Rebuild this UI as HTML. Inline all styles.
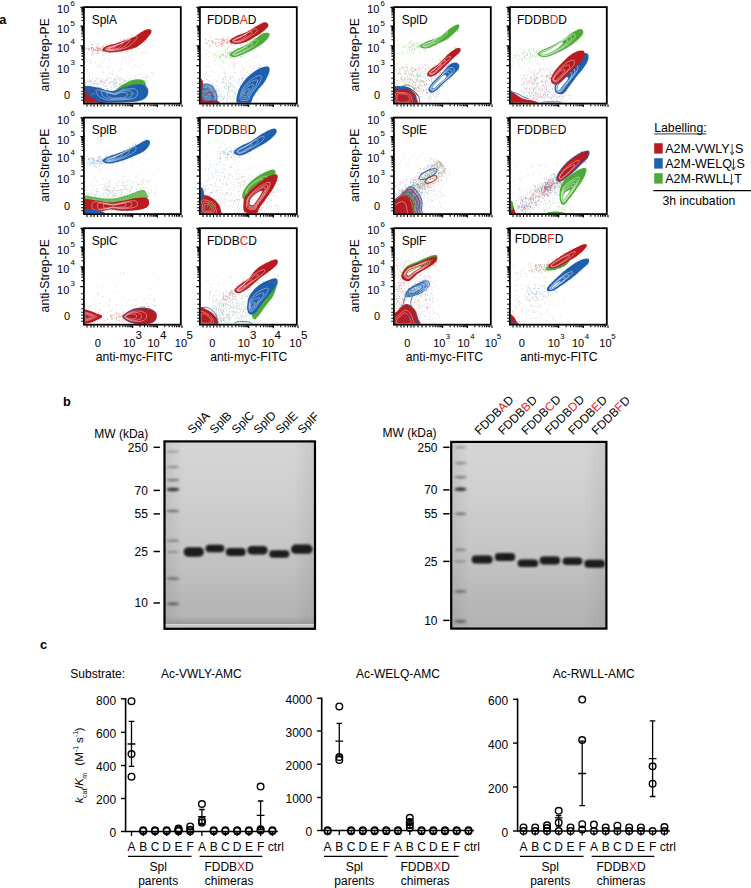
<!DOCTYPE html>
<html><head><meta charset="utf-8"><style>
html,body{margin:0;padding:0;background:#fff;}
svg{display:block;}
text{font-family:"Liberation Sans",sans-serif;}
</style></head><body>
<svg width="751" height="888" viewBox="0 0 751 888">
<rect width="751" height="888" fill="#fff"/>
<clipPath id="c0"><rect x="84.8" y="8.0" width="95.1" height="94.8"/></clipPath>
<g clip-path="url(#c0)">
<path d="M107.5 45.5h.6M130.4 41.6h.6M122.3 56.3h.6M88.9 63.4h.6M87.4 59.7h.6M89.7 42.5h.6M114.5 79.3h.6M93.5 49.2h.6M128.7 85.4h.6M125.2 57.8h.6M153.1 40.3h.6M144.9 52.5h.6M94.9 43.9h.6M106.4 78.8h.6M97.5 67.1h.6M129.5 56.6h.6M123.1 41.1h.6M89 48.3h.6M132.4 59.4h.6M106.8 67.3h.6M116.5 53h.6M140.4 72.9h.6M101.9 66.7h.6M121.6 81.8h.6M135.9 52.4h.6M153.4 43.9h.6M114.1 75.9h.6M95.4 62.4h.6M87.5 71.4h.6M138.3 66.7h.6M146.1 53.7h.6M133.5 67.7h.6M125.4 60.8h.6M143.6 85.2h.6M118 71.2h.6M89 73.1h.6M130.1 87.7h.6M142.3 52.2h.6M111.8 71.4h.6M86.4 61.1h.6M96.6 43.9h.6M88.9 76.4h.6M93.9 50.4h.6M112.2 81.6h.6M90.4 60.5h.6M123.3 82.2h.6M142.1 81.2h.6M104.3 58.8h.6M109.9 82.2h.6M151.8 45.5h.6M97.1 49.6h.6M101.1 62.2h.6M126 51.1h.6M85.1 58.9h.6M110.6 66.3h.6M151.5 72.5h.6M120.9 68.9h.6M132.1 40.7h.6M147.8 77h.6M146 77.9h.6" stroke="#b81c20" stroke-width="0.6" opacity="0.5"/>
<path d="M112.3 74h.6M92 83.4h.6M89.2 60.7h.6M99.4 64.5h.6M108.6 60.1h.6M84.8 64.1h.6M91.9 72.5h.6M86.6 93h.6M127.8 63.9h.6M102.5 71.9h.6M110.3 62.9h.6M144.2 97.7h.6M117.4 77.4h.6M90.8 62.1h.6M108.8 68.6h.6M142.8 64.5h.6M86.4 96h.6M121.8 63.9h.6M122.8 59.1h.6M121.8 97.1h.6M145.2 85.8h.6M103.1 72.7h.6M96.5 88.9h.6M122.1 89.2h.6M107.9 66.9h.6M141.6 97.4h.6M144.5 90.2h.6M142.1 87.6h.6M100.7 78.7h.6M109.7 59.2h.6M86.8 69.2h.6M102.9 85.7h.6M151.8 75.9h.6M150.4 97.5h.6M151.7 72.6h.6M100.2 67.1h.6M98.6 66.2h.6M128.5 94h.6M143.6 77.2h.6M130.5 90h.6M90.7 84.4h.6M148.5 89.3h.6M137.3 77.1h.6M97.3 89.6h.6M108.1 90h.6M152.8 73.8h.6M112.9 95.9h.6M135.5 64.8h.6M93.7 64h.6M148.1 90.3h.6" stroke="#1f5fae" stroke-width="0.6" opacity="0.5"/>
<path d="M103.6 91.9h.6M153.6 86h.6M115.8 82.2h.6M102.7 63.5h.6M153.1 85.7h.6M126.4 95.7h.6M120.8 93.5h.6M144.4 70.4h.6M109.9 73.3h.6M109.2 83.5h.6M110.4 77.7h.6M102.7 94.9h.6M116 79h.6M129.8 94.7h.6M120 95.1h.6M124.9 81.6h.6M126.2 63.7h.6M121.2 69.4h.6M95 91h.6M105.1 79.6h.6M138.3 82.5h.6M114.4 81.1h.6M128.1 90.4h.6M101.2 82.6h.6M109.7 72.7h.6M141.1 80.8h.6M128.5 89.6h.6M149.5 78.5h.6M131.6 80.7h.6M125.5 87.2h.6" stroke="#4cab36" stroke-width="0.6" opacity="0.5"/>
<path d="M112.8 84.3h.6M114.4 87.5h.6M128.2 87h.6M143.2 82.1h.6M119.5 87.5h.6M136.9 81.1h.6M92.3 83.5h.6M89.3 81.9h.6M89.3 85.4h.6M133.4 87.2h.6M94.4 85.7h.6M125.7 81.1h.6M139.5 87.7h.6M98.4 87.6h.6M109.5 83.9h.6M146.2 86.7h.6M94.8 83.5h.6M116.8 82.7h.6M96.9 82.5h.6M129.6 80.2h.6M119.2 83.5h.6M85.9 82.7h.6M123.5 84.1h.6M88.8 87.9h.6M133.7 87.8h.6M91.3 82.1h.6M87.3 86.2h.6M101.6 81h.6M111 87.3h.6M135.6 82.1h.6M94.1 87.4h.6M120.2 85.6h.6M90.3 80.5h.6M127.5 83.4h.6M89.3 87.5h.6M124.1 86.4h.6M90 86.8h.6M88.9 86.9h.6M112.9 82.7h.6M119.1 87.4h.6M101.4 81h.6M117.5 81.9h.6M91.6 81.3h.6M87.9 81.6h.6M104.1 82.4h.6M131.9 82.3h.6M115.8 81.4h.6M106.3 80.1h.6M100.3 80.1h.6M130.3 84.4h.6M96.5 83.8h.6M142.7 80.9h.6M135.6 83.5h.6M115.5 86.7h.6M109.2 84.1h.6M127.4 87.9h.6M106 86.7h.6M128.6 85.1h.6M109.9 82.8h.6M88.2 81h.6M89.2 85.9h.6M100.6 81.3h.6M90 86.7h.6M138.8 85.4h.6M102.3 81.9h.6M103 83.7h.6M94.6 83.6h.6M101.1 87.7h.6M145.1 84.4h.6M100 87.7h.6M104 82.9h.6M84.9 83.1h.6M114.2 84h.6M97.3 84h.6M85.1 82.1h.6M90.4 83.2h.6M87.4 80.2h.6M103.7 81.9h.6M121.1 84.2h.6M131.3 85.3h.6M129.2 87h.6M109 82.6h.6M145.9 81.2h.6M129.7 85.1h.6M87.5 86.7h.6M140.1 85h.6M130.3 86.5h.6M93.4 84.2h.6M116.1 86.7h.6M134.7 86.6h.6M121 87.1h.6M127.1 85.5h.6M99.1 80.2h.6M93.1 82.9h.6M91.3 86.7h.6M119.4 85h.6M123.6 85.4h.6M115.1 80h.6M134.3 86h.6M116 84.3h.6M125.7 80.5h.6M130.5 82h.6M89.4 82.1h.6M130 81.6h.6M130.7 87.8h.6M115.4 83.1h.6M114.5 85.5h.6M132.4 84.9h.6M124.7 80.6h.6M93.9 82h.6M130.9 82.4h.6M120 80.1h.6M88.6 82.2h.6M126.5 85.5h.6M126.7 82.3h.6M116.8 83.7h.6M113.7 80.9h.6M140.2 81.6h.6M145.4 87.5h.6M85.9 83.7h.6M135.6 87.7h.6M112.7 82.1h.6M97.8 87.6h.6M97.9 84.7h.6M93.6 84.2h.6M143.9 81.1h.6M135.7 84.1h.6M139.8 85.6h.6M99.1 87.2h.6M114.9 80.2h.6" stroke="#1f5fae" stroke-width="0.6" opacity="0.5"/>
<path d="M84.9 83.9h.6M102.8 81.6h.6M90.4 82.1h.6M97.4 88.1h.6M84.9 87h.6M118.4 79.4h.6M121.9 86.6h.6M120.9 81.5h.6M99.7 82.7h.6M124.8 85.1h.6M99.2 83.1h.6M95.8 78.6h.6M88.9 88h.6M96.2 89.2h.6M94.8 81.2h.6M105.2 80.3h.6M99.7 89.5h.6M120.2 87.7h.6M110 89h.6M122.4 84.6h.6M113.6 78.6h.6M114.1 83.4h.6M114.9 85.7h.6M96.2 78.6h.6M121.9 79.5h.6M103.7 82.1h.6M96.7 86.9h.6M123.9 81.1h.6M111 81.6h.6M107.1 82.7h.6M91.5 79.9h.6M93.1 88.9h.6M104.7 80.6h.6M121.1 90h.6M102.8 79.7h.6M92.5 79.1h.6M98.5 79.1h.6M94.4 81.1h.6M107.6 88.6h.6M114.8 83h.6M101.4 84.3h.6M99.9 82.1h.6M87.3 81.3h.6M123.5 79.5h.6M104.9 85.6h.6M119.3 80.6h.6M95.6 81h.6M100.8 83.4h.6M123 88.2h.6M119.7 78.3h.6M86.1 86.5h.6M120.6 83.7h.6M108.3 78h.6M100.5 89.1h.6M117.8 88.3h.6M123.7 81h.6M89.2 79.9h.6M105.7 86.2h.6M122.5 86.7h.6M110.7 87.2h.6M103.1 84.6h.6M86.4 87.4h.6M94.1 89h.6M110.6 81.6h.6M89.9 81h.6M110.3 86.4h.6M89.3 78.8h.6M105.8 85h.6M100.3 80.7h.6M108.8 78.1h.6M96.9 83.5h.6M123.2 85.7h.6M120.2 83.7h.6M94.2 81h.6M123.2 86.5h.6M97.1 78.3h.6M104.7 86.1h.6M101.6 81.1h.6M111.5 89.1h.6M93.9 78.4h.6" stroke="#b81c20" stroke-width="0.6" opacity="0.5"/>
<path d="M119.7 79.5h.6M134.8 76.6h.6M139.9 83.6h.6M127 76.7h.6M147.5 78.1h.6M140.9 77h.6M114.5 83.9h.6M117.8 86.4h.6M126.6 76.4h.6M114.6 79.4h.6M134.1 86.3h.6M111.2 79.1h.6M114.2 86.7h.6M111 74.7h.6M107.4 79.1h.6M144.3 85.5h.6M137 87h.6M145.8 78.3h.6M113 86.2h.6M137.6 74.4h.6M134 78.9h.6M121.3 78.3h.6M112.2 74h.6M117.1 78.6h.6M146.8 75.6h.6M147.2 76.7h.6M120.5 84.7h.6M141 79.6h.6M107 80.2h.6M121.2 86h.6M113.3 78.7h.6M144.3 74.4h.6M122.9 84.6h.6M138.5 74.5h.6M106.3 74.8h.6M145.3 77.3h.6M137.7 85.7h.6M119.7 77.5h.6M146.9 82h.6M116.3 83.3h.6M118.7 77.6h.6M105 83.8h.6M145.1 82.2h.6M146.3 74.3h.6M115.1 80.2h.6M146.9 86.4h.6M121.8 77.3h.6M123.7 80.4h.6M145.6 76.4h.6M140.1 83.6h.6M141 84h.6M131.5 78.3h.6M118.9 78.7h.6M139.2 75h.6M113.5 83.8h.6M115.7 74.8h.6M106.3 81.2h.6M119.1 86.7h.6M143.7 86.8h.6M116.5 75.1h.6M109 80.5h.6M136 79.8h.6M115.1 79.4h.6M132.1 82.8h.6M137.7 85h.6M134 75.6h.6M141.8 77.8h.6M129.7 78.8h.6M137.3 76.6h.6M115.7 77.2h.6" stroke="#4cab36" stroke-width="0.6" opacity="0.5"/>
<path d="M91.9 47.6h.7M92 53.7h.7M97.7 53.5h.7M100 49.4h.7M97.8 45.7h.7M103.6 50h.7M91.1 55h.7M99.4 48.6h.7M101.5 50h.7M101.6 49.2h.7M98.2 48.4h.7M95.7 50.7h.7M92 47.6h.7M93 49.6h.7M100.2 51.2h.7M92.5 46.8h.7M89.2 50.8h.7M97.8 48.8h.7M90.9 47.4h.7M92.8 54.6h.7M93.4 48.7h.7M98.3 43.9h.7M95.7 52.9h.7M94.3 49.7h.7M96.6 47.5h.7M101.9 49.8h.7M85 48.5h.7M103.9 51.1h.7M94.7 49.5h.7M91.5 48.8h.7M88 49.7h.7M103.6 50.6h.7M104.3 49.1h.7M89 48.5h.7M101.3 46.7h.7M91.3 48h.7M96.9 46.1h.7M91.9 51.7h.7M97.2 50.3h.7M92.7 44.9h.7M86 48.1h.7M87.7 48.6h.7M97.4 48.5h.7M93 50.9h.7M95.6 47.5h.7M97.8 49.9h.7M97.3 53.2h.7M100.6 49.9h.7M97.3 50.2h.7M97.2 50.8h.7M98.9 50.3h.7M88.9 45.7h.7M98.6 50.4h.7M95.9 49.1h.7M103.7 49.4h.7M102.6 55.3h.7M99.4 48.2h.7M91.8 44.6h.7M87.5 52.5h.7M91.7 48.4h.7M102.3 51.5h.7M103.1 51.2h.7M97.3 50h.7M92.9 53.9h.7M100.4 48.7h.7M102.2 51.3h.7M98 52.9h.7M96.3 47.3h.7M91.1 49.4h.7M95.9 47.9h.7M102.9 48.5h.7M100.4 50h.7M102.5 50.7h.7M91.3 44.6h.7M98.1 47.9h.7M85.8 49.8h.7M97.9 50.6h.7M103.1 50.7h.7M99.6 49.5h.7M95.7 50.8h.7M91.4 48h.7M91.3 47.7h.7M91.2 48.9h.7M92 51.3h.7M102.5 47.3h.7M94.8 49.7h.7M97.4 52.1h.7M98 48.1h.7M93.3 49.1h.7M97.2 50.4h.7M88.3 49.2h.7M98.6 49.1h.7M91.1 47.9h.7M99.6 48.2h.7M94.1 50.2h.7M102.8 46.1h.7" stroke="#b81c20" stroke-width="0.7" opacity="0.6"/>
<path d="M138.5 38.4h.7M118.1 43.3h.7M140.4 43.6h.7M139.6 36.2h.7M112.9 47.7h.7M124.5 45.1h.7M122.7 45h.7M107.2 49.9h.7M107.8 50.7h.7M135.2 41.2h.7M121.9 44.6h.7M109.7 46.7h.7M115.7 46.5h.7M122.5 48.7h.7M144.5 31.3h.7M127.3 48.9h.7M119.5 51.7h.7M138.1 42.3h.7M106.2 44.3h.7M145.7 31.8h.7M121.4 50.8h.7M128.5 44h.7M109.3 45.9h.7M141.1 43.8h.7M145.7 36.5h.7M109.4 51.6h.7M138.7 41.6h.7M121.5 45.3h.7M134.6 41.8h.7M123.9 45.1h.7M129.4 46.7h.7M132.8 41.9h.7M131 35.6h.7M135.8 38.8h.7M112.7 46.1h.7M126.6 45.3h.7M139.2 43.4h.7M125.2 49.7h.7M122.4 46.1h.7M115.7 45.3h.7M112.8 48h.7M110.2 44.6h.7M126.1 46.2h.7M121.2 41.1h.7M143.5 36.7h.7M122.7 42.5h.7M108.3 46.3h.7M109.8 47.7h.7M113.8 47.5h.7M109.1 47.4h.7M125.3 47.2h.7M123.5 40h.7M123.9 39.5h.7M147.3 30.1h.7M127.8 40.3h.7M135.6 46.2h.7M128.6 48.3h.7M123.9 40.8h.7M141.2 38.8h.7M135.8 47.5h.7M131.8 41.5h.7M134.9 39.2h.7M135.6 35.5h.7M111.8 52.5h.7M129.4 46.2h.7M115.3 50.5h.7M119.6 48.5h.7M125.8 46.9h.7M119.3 42.7h.7M124.2 46h.7M105.3 48.1h.7M121.8 50.8h.7M142.7 36.2h.7M124.6 39.6h.7M130.3 49.7h.7M145.5 33.7h.7M115.8 44.5h.7M107.6 46.2h.7M126.2 43.7h.7M142.7 38.4h.7M145 30.6h.7M108.9 52.7h.7M134.1 38.9h.7M132.4 47.2h.7M105.7 53.6h.7M109.1 48.1h.7M141.6 39.7h.7M139 44.5h.7M143.9 38.9h.7M121.7 52.4h.7M105.4 48.3h.7M145.5 30.1h.7M150.1 29.2h.7M145.7 34.5h.7M111.6 45.6h.7M131.9 41.8h.7M133.1 43.3h.7M137.9 38.4h.7M143.4 34.7h.7M145.7 38.7h.7M122.8 42.9h.7M116.5 47.2h.7M108 48.3h.7M127.3 41.4h.7M115.9 47.7h.7M130.3 40.6h.7M126.5 41.7h.7M122.3 48.8h.7M119.3 45.5h.7M131 46.5h.7M123.7 40.7h.7M122.9 42.8h.7M142.3 34.6h.7M117.6 47.1h.7M146 40.2h.7M125 46.6h.7M117.7 42.5h.7M142 38.6h.7M139.8 37.9h.7M146.7 32.8h.7M135.4 42.7h.7M135.9 37.7h.7M148.5 34.6h.7M145.5 36.1h.7M132.4 39.5h.7M127.1 39.8h.7M119 48.6h.7M125.6 43.5h.7M129 48.8h.7M127.9 41.9h.7M130 47.1h.7M121.9 49.3h.7M126.6 44.3h.7M125.8 45.8h.7M139.4 35.6h.7M106.7 48.7h.7M102.4 47.2h.7M124.1 43.9h.7M118.7 48.1h.7M115.1 49.1h.7M108.4 48.8h.7M136.1 39.6h.7M139.9 34h.7M139.8 35.6h.7M112 50.4h.7M142.6 32.7h.7M114.3 48.2h.7M110.7 50.5h.7M132.7 38.9h.7M142.7 37h.7M108.5 47.1h.7M123.8 44.8h.7M109.4 50.5h.7M136.1 35.6h.7M135.3 40.7h.7M147.2 32.4h.7M136.8 45.7h.7M118.8 50.6h.7M116.5 46.8h.7M131.9 37h.7M111.9 45.4h.7M143.9 38.6h.7M112.5 44.6h.7M141 38.5h.7M120.8 48.4h.7M131.2 41.3h.7M127.4 42h.7M140 41.6h.7M145.6 35.4h.7M134.7 45.2h.7M120.6 49.2h.7M137.4 40.9h.7M108.6 49.3h.7M126.7 44.1h.7M121.7 47.8h.7M107.4 48.5h.7M138.5 37.8h.7M109.8 48.4h.7M132 49.7h.7M109.3 49.1h.7M116.4 45.4h.7M147.7 31.3h.7M127.2 48.4h.7M111.2 46.2h.7M144.8 37h.7M113.1 49h.7M124.3 43.5h.7M131.7 44.6h.7M132.4 44.7h.7M117.6 44.6h.7M139 41.4h.7M117.3 48.1h.7M145.8 36.4h.7M145.7 37.1h.7M133.4 37.5h.7M148.1 29.7h.7M139.7 38.7h.7M128.4 43.3h.7M137.7 33.1h.7M140.6 32.4h.7M126 42.7h.7M142 35.2h.7M139.6 43.1h.7M124.2 49.4h.7M124.8 49h.7M137.7 48.8h.7M111.6 47.7h.7M127.5 51.2h.7M128.7 38.3h.7M111.4 51.2h.7M147.5 30.2h.7M112.1 51.2h.7M111.2 46.4h.7M118.7 46.5h.7M149.9 33.7h.7M119.6 50.2h.7M109.5 45.9h.7M115.4 49.1h.7M133.9 43.6h.7M145.8 29.9h.7M132.2 45.8h.7M138.1 36.7h.7M127.6 42h.7M133.4 43.9h.7M113.3 50h.7M128.2 41.2h.7M128.5 40.3h.7M109.2 48.3h.7M121.7 47.2h.7M140.6 41.5h.7M133.3 40.2h.7M134.3 37.9h.7M136.7 37.1h.7M135.1 37.8h.7M140.1 39.1h.7M149.5 33.8h.7M120.6 44.9h.7M137.2 38h.7M139.7 39.6h.7M126.2 45.5h.7M135.8 39.3h.7M107.5 48h.7M141.2 43h.7M139.2 41.3h.7M126 42.6h.7M143.6 35h.7M144 36.2h.7M143 33.5h.7M115.6 49.6h.7M125.9 49.5h.7M143.3 31.2h.7M140.1 38.7h.7M143.9 32.8h.7M122.7 47.7h.7M105 49.1h.7M146.9 36.3h.7M121.6 45.8h.7M137.4 38.6h.7M147.2 30.3h.7M139.4 40.5h.7M124.6 47.5h.7M116.8 48.3h.7M143.6 28.5h.7M119.3 49.9h.7M116.2 48.6h.7M127.9 46h.7M109.8 52.9h.7M142.9 32.7h.7M111.3 48.7h.7M124.2 46h.7M114.9 47.2h.7M144.4 31.4h.7M131.3 46.3h.7M148 29.4h.7M142.5 35.8h.7M114.5 45h.7M139.5 45.9h.7M132.5 37h.7M146.4 36.1h.7M150.8 32.1h.7M115.3 49.1h.7M133.5 47.1h.7M140.3 38h.7M119.1 47.3h.7M134.9 37.2h.7M111.3 47h.7M142.5 33.6h.7M108.8 51.1h.7M123 48.5h.7M119.4 43.1h.7M129.6 43.6h.7M105.2 46.1h.7M126.5 44.6h.7M121 45.1h.7M137.8 35.9h.7M136.7 45.9h.7M130.9 46.4h.7M144.7 32.7h.7M147.2 36h.7M110 50.5h.7M133.1 47.6h.7M136.9 39.4h.7M136.6 38.8h.7M119.9 51.4h.7M123.9 48.3h.7M133.5 43.4h.7M142.7 40.6h.7M126.8 38.3h.7M126 46.5h.7M121.9 45.5h.7M141.7 38.8h.7M136.5 43.8h.7M131.7 48.9h.7M141 37.3h.7M145.2 37.2h.7M132.5 48.1h.7M114.4 50.1h.7M144.3 42.2h.7M131.7 44.8h.7M128 45.9h.7M149.1 31.8h.7M124.3 43h.7M110.8 45.7h.7M113.1 46.4h.7M132.4 44.7h.7M137.3 45.1h.7M120.7 47.7h.7M105.8 47.6h.7M126.4 48.3h.7M130.3 42.2h.7M103.3 45.8h.7M139.1 35.5h.7M126.5 45h.7M123.2 40.8h.7M135.3 47.7h.7M138.2 43h.7M134 46.2h.7M115.1 52.4h.7M147 36.1h.7M113.1 49h.7M111 44.7h.7M127.4 47.7h.7M131.9 47.5h.7M142.5 33.4h.7M134.3 42.7h.7M120.4 40.3h.7M125.3 52.4h.7M124.2 46.6h.7M138.9 37.7h.7M119.4 43.3h.7" stroke="#b81c20" stroke-width="0.7" opacity="0.6"/>
<path d="M103.30 49.50C103.47 48.80 105.62 47.43 106.80 46.80C107.98 46.17 108.73 46.17 110.40 45.70C112.07 45.23 114.67 44.63 116.80 44.00C118.93 43.37 121.03 42.65 123.20 41.90C125.37 41.15 127.68 40.35 129.80 39.50C131.92 38.65 134.07 37.80 135.90 36.80C137.73 35.80 139.30 34.47 140.80 33.50C142.30 32.53 143.47 31.55 144.90 31.00C146.33 30.45 148.45 30.07 149.40 30.20C150.35 30.33 150.78 30.92 150.60 31.80C150.42 32.68 149.25 34.25 148.30 35.50C147.35 36.75 146.15 38.05 144.90 39.30C143.65 40.55 142.30 41.82 140.80 43.00C139.30 44.18 137.73 45.48 135.90 46.40C134.07 47.32 131.92 47.87 129.80 48.50C127.68 49.13 125.37 49.78 123.20 50.20C121.03 50.62 118.93 50.78 116.80 51.00C114.67 51.22 112.23 51.50 110.40 51.50C108.57 51.50 106.98 51.33 105.80 51.00C104.62 50.67 103.13 50.20 103.30 49.50Z" fill="#b81c20" stroke="#b81c20" stroke-width="1.8"/>
<path d="M105.06 49.34C105.17 48.86 106.64 47.93 107.44 47.50C108.24 47.07 108.75 47.07 109.89 46.76C111.02 46.44 112.79 46.03 114.24 45.60C115.69 45.17 117.12 44.68 118.59 44.17C120.07 43.66 121.64 43.12 123.08 42.54C124.52 41.96 125.98 41.38 127.23 40.70C128.47 40.02 129.54 39.12 130.56 38.46C131.58 37.80 132.37 37.13 133.35 36.76C134.32 36.39 135.76 36.13 136.41 36.22C137.05 36.31 137.35 36.70 137.22 37.30C137.10 37.90 136.31 38.97 135.66 39.82C135.01 40.67 134.20 41.55 133.35 42.40C132.50 43.25 131.58 44.12 130.56 44.92C129.54 45.72 128.47 46.61 127.23 47.23C125.98 47.86 124.52 48.23 123.08 48.66C121.64 49.09 120.07 49.53 118.59 49.82C117.12 50.10 115.69 50.21 114.24 50.36C112.79 50.51 111.13 50.70 109.89 50.70C108.64 50.70 107.56 50.59 106.76 50.36C105.96 50.13 104.95 49.82 105.06 49.34Z" fill="none" stroke="#fff" stroke-width=".45" opacity=".9"/>
<path d="M105.99 49.26C106.08 48.90 107.18 48.20 107.78 47.88C108.38 47.55 108.77 47.55 109.62 47.32C110.47 47.08 111.79 46.77 112.88 46.45C113.97 46.13 115.04 45.76 116.14 45.38C117.25 45.00 118.43 44.59 119.51 44.16C120.59 43.72 121.69 43.29 122.62 42.78C123.56 42.27 124.36 41.59 125.12 41.09C125.89 40.60 126.48 40.10 127.21 39.82C127.94 39.54 129.02 39.34 129.51 39.41C129.99 39.48 130.21 39.78 130.12 40.23C130.02 40.68 129.43 41.48 128.94 42.12C128.46 42.75 127.85 43.42 127.21 44.05C126.57 44.69 125.89 45.34 125.12 45.94C124.36 46.54 123.56 47.21 122.62 47.67C121.69 48.14 120.59 48.42 119.51 48.74C118.43 49.07 117.25 49.40 116.14 49.61C115.04 49.82 113.97 49.91 112.88 50.02C111.79 50.13 110.55 50.27 109.62 50.27C108.68 50.27 107.87 50.19 107.27 50.02C106.67 49.85 105.91 49.61 105.99 49.26Z" fill="none" stroke="#fff" stroke-width=".45" opacity=".9"/>
<path d="M106.93 49.17C106.99 48.93 107.72 48.47 108.12 48.25C108.52 48.04 108.78 48.04 109.34 47.88C109.91 47.72 110.79 47.52 111.52 47.30C112.25 47.08 112.96 46.84 113.70 46.59C114.43 46.33 115.22 46.06 115.94 45.77C116.66 45.48 117.39 45.19 118.01 44.85C118.64 44.51 119.17 44.06 119.68 43.73C120.19 43.40 120.59 43.07 121.07 42.88C121.56 42.69 122.28 42.56 122.60 42.61C122.93 42.65 123.07 42.85 123.01 43.15C122.95 43.45 122.55 43.98 122.23 44.41C121.91 44.83 121.50 45.28 121.07 45.70C120.65 46.13 120.19 46.56 119.68 46.96C119.17 47.36 118.64 47.80 118.01 48.12C117.39 48.43 116.66 48.61 115.94 48.83C115.22 49.05 114.43 49.27 113.70 49.41C112.96 49.55 112.25 49.61 111.52 49.68C110.79 49.75 109.97 49.85 109.34 49.85C108.72 49.85 108.18 49.79 107.78 49.68C107.38 49.57 106.87 49.41 106.93 49.17Z" fill="none" stroke="#fff" stroke-width=".45" opacity=".9"/>
<path d="M107.86 49.09C107.89 48.97 108.26 48.73 108.46 48.63C108.66 48.52 108.79 48.52 109.07 48.44C109.36 48.36 109.80 48.26 110.16 48.15C110.52 48.04 110.88 47.92 111.25 47.79C111.62 47.67 112.01 47.53 112.37 47.38C112.73 47.24 113.10 47.10 113.41 46.93C113.72 46.76 113.98 46.53 114.24 46.37C114.49 46.20 114.69 46.03 114.94 45.94C115.18 45.85 115.54 45.78 115.70 45.80C115.86 45.83 115.94 45.93 115.91 46.08C115.87 46.23 115.68 46.49 115.52 46.70C115.35 46.92 115.15 47.14 114.94 47.35C114.72 47.56 114.49 47.78 114.24 47.98C113.98 48.18 113.72 48.40 113.41 48.56C113.10 48.71 112.73 48.81 112.37 48.91C112.01 49.02 111.62 49.13 111.25 49.20C110.88 49.27 110.52 49.30 110.16 49.34C109.80 49.38 109.38 49.42 109.07 49.42C108.76 49.42 108.49 49.40 108.29 49.34C108.09 49.28 107.84 49.20 107.86 49.09Z" fill="none" stroke="#fff" stroke-width=".45" opacity=".9"/>
<path d="M84.2 104.8h.7M90.8 98.6h.7M90.2 100.5h.7M84 94.8h.7M82.1 87.6h.7M85.7 93.3h.7M99.2 102.7h.7M83.7 101.5h.7M95.8 100.9h.7M83.7 88.4h.7M87.7 96.2h.7M89.1 102.4h.7M101 101.2h.7M83.8 90.5h.7M87.5 89.1h.7M85.9 106.3h.7M92.6 103h.7M87.6 94.2h.7M87.9 103.8h.7M85.9 92.6h.7M97.4 103.4h.7M93.6 101.1h.7M88.3 96.1h.7M84.3 89.6h.7M102.4 104.7h.7M86.2 91.6h.7M86.8 100.4h.7M83.2 94.2h.7M86.1 95.3h.7M88.5 101.5h.7M88.3 98.2h.7M83.7 99.5h.7M95.5 100.4h.7M84 96h.7M92.8 105.1h.7M87.1 106.8h.7M91.9 100.1h.7M88.6 102.8h.7M86.1 94.9h.7M88.8 94.7h.7M84 89.7h.7M90.1 101.2h.7M84.2 104.6h.7M100.4 100.9h.7M84.2 90.2h.7M101.4 103.9h.7M83.6 103.7h.7M85.6 93.9h.7M83.1 99.9h.7M99.4 102.4h.7M89 95.2h.7M92.7 104.6h.7M98.2 102.5h.7M88.4 92.6h.7M86.5 97.5h.7M89.7 100.9h.7M91.3 102.3h.7M99.2 108h.7M100.6 103.1h.7M82.9 96.1h.7M87.8 100.4h.7M88.9 100.6h.7M86.2 104.6h.7M89.5 98.7h.7M84.4 89.6h.7M96.3 103.2h.7M83.4 88.9h.7M102.1 103.5h.7M88 97.9h.7M85.2 90.7h.7M86 94.8h.7M83.7 102.2h.7M96.7 105.5h.7M86.7 88.7h.7M98.9 103.9h.7M91.8 101.6h.7M83.8 88.3h.7M102.3 104h.7M83.9 96.7h.7M83.1 94.8h.7" stroke="#b81c20" stroke-width="0.7" opacity="0.6"/>
<path d="M82.80 87.50C83.47 84.50 85.97 87.08 86.80 88.00C87.63 88.92 87.13 91.42 87.80 93.00C88.47 94.58 89.30 96.25 90.80 97.50C92.30 98.75 94.63 99.58 96.80 100.50C98.97 101.42 102.47 102.08 103.80 103.00C105.13 103.92 108.30 105.50 104.80 106.00C101.30 106.50 86.47 109.08 82.80 106.00C79.13 102.92 82.13 90.50 82.80 87.50Z" fill="#b81c20" stroke="#b81c20" stroke-width="1.8"/>
<path d="M134.1 85h.7M129.7 84.8h.7M131.2 82.4h.7M135.9 85.5h.7M139.1 87.1h.7M138.2 82.5h.7M121 86.7h.7M119.5 91.4h.7M125.9 88.3h.7M130.5 84.8h.7M138.1 85.9h.7M118.2 92.5h.7M124 86.7h.7M141.4 87h.7M129.1 90h.7M144.6 82.4h.7M125.9 85.7h.7M120.3 94h.7M124.4 88.3h.7M138.1 82.5h.7M138.3 81.8h.7M140.9 82.4h.7M143.3 81.2h.7M138.2 90.2h.7M129.9 88.9h.7M139 83.7h.7M135.3 83.4h.7M126.1 87.9h.7M124 91.9h.7M127.7 88.6h.7M133.8 84.3h.7M121.4 93.3h.7M127.5 90.4h.7M138.7 87.8h.7M142.4 79.9h.7M127.2 81.9h.7M126 92.2h.7M132.6 92.6h.7M140.2 81.7h.7M129.8 80.2h.7M127.8 89.8h.7M127.1 87.5h.7M127.8 80.6h.7M121.1 85.7h.7M124 91.5h.7M143.2 86.7h.7M125.4 91.9h.7M134 85.4h.7M125.5 88.9h.7M128.5 82.5h.7M126 85.8h.7M137.3 88.3h.7M127.3 88.2h.7M125.9 83.6h.7M130.6 92.8h.7M131.8 86.5h.7M127.2 89.7h.7M127.8 86.6h.7M127.7 86.3h.7M137.1 85h.7M129.7 86.7h.7M121.4 89.9h.7M118.2 92.3h.7M117.4 93.4h.7M136.7 89.5h.7M119 84.9h.7M128.2 86.8h.7M136.3 83.5h.7M127.6 91.1h.7M132.6 81.8h.7M133.8 85h.7M128.4 84.6h.7M142.5 88.8h.7M129.6 89.8h.7M141.1 87.5h.7M125.3 88.4h.7M132.4 85.5h.7M124.7 92.9h.7M119 92.1h.7M144.5 80.3h.7M116.9 89.2h.7M133.1 85.9h.7M137.8 82.5h.7M140.4 85.1h.7M138.1 90.3h.7M135.6 82.2h.7M128.9 85.6h.7M136.9 81.8h.7M135.9 80.9h.7M124.7 91.8h.7M118.6 91.7h.7M128.5 84.2h.7M139.8 83.7h.7M142.6 85.6h.7M143.6 82.1h.7M134.8 86.2h.7M119.4 90.5h.7M134.1 84.2h.7M118.8 89.1h.7M129 88.6h.7M133.8 81.5h.7M121.3 88h.7M132.5 84.8h.7M136 87.2h.7M135.4 85.9h.7M124.8 92.6h.7M130.8 83.1h.7M143.2 84.5h.7M123.9 93.9h.7M122 92.2h.7M143.1 85.3h.7M118.8 91.4h.7M131.1 87.9h.7M134.1 80.5h.7M130.5 89h.7M127.9 82.4h.7M140.8 84.6h.7M127 83.8h.7M130.6 86.2h.7M124.1 84.2h.7M122 89.5h.7M129.5 81.1h.7M134.8 81.5h.7M132.9 84.8h.7M128.8 81.3h.7M141.5 83.1h.7M131.5 87.8h.7M138.4 82.3h.7M131 92.2h.7M125.5 94.4h.7M119.9 88.5h.7M120.1 91.5h.7M127.1 89.5h.7M127.3 92.3h.7M142.7 87.9h.7M120 87.6h.7M125.5 86.7h.7M122 87.1h.7M133.5 82.6h.7M138.1 91h.7M130 87h.7M130 92h.7M124.3 86.6h.7M137 85.9h.7M132.8 87.7h.7M138.3 84.1h.7M129.5 87.2h.7M126.6 90.1h.7M124.7 91.8h.7M140.4 87.8h.7" stroke="#4cab36" stroke-width="0.7" opacity="0.6"/>
<path d="M115.80 92.00C115.80 90.83 118.97 88.42 120.80 87.00C122.63 85.58 124.47 84.58 126.80 83.50C129.13 82.42 132.47 81.03 134.80 80.50C137.13 79.97 139.22 79.97 140.80 80.30C142.38 80.63 143.72 81.38 144.30 82.50C144.88 83.62 145.05 85.92 144.30 87.00C143.55 88.08 142.22 88.33 139.80 89.00C137.38 89.67 132.97 90.17 129.80 91.00C126.63 91.83 123.13 93.83 120.80 94.00C118.47 94.17 115.80 93.17 115.80 92.00Z" fill="#4cab36" stroke="#4cab36" stroke-width="1.8"/>
<path d="M112.4 91.2h.7M87.9 91.9h.7M108.1 100.1h.7M127 88.7h.7M124.8 93.1h.7M140.1 88h.7M105 94.9h.7M93.6 90.3h.7M112.3 103.5h.7M101.5 101.7h.7M134.7 101.6h.7M117.3 102.3h.7M101.1 92.7h.7M120.3 91h.7M97.9 99.7h.7M92.3 93.1h.7M107.8 92.4h.7M130.3 93.8h.7M115.5 95.8h.7M98.6 101.1h.7M123.9 95.3h.7M146.4 92.9h.7M117.6 93.4h.7M108.8 91.8h.7M125.4 96.9h.7M98 99.3h.7M110.6 97.7h.7M144.2 95h.7M96.9 94.9h.7M125.1 86.8h.7M116.9 90.2h.7M117 96.6h.7M125.9 92.5h.7M118.6 90h.7M120 99.2h.7M126 86.7h.7M131.5 88.9h.7M140.3 94.3h.7M112.7 97.3h.7M140.2 87.7h.7M88.9 91.1h.7M95.8 93.7h.7M137.6 88.6h.7M134.2 91h.7M120.8 94.8h.7M129.6 91.3h.7M104.4 96.7h.7M129.1 93h.7M142.7 91.3h.7M131.3 100.8h.7M107 96.1h.7M139.7 93h.7M97 99.7h.7M91.3 88.5h.7M110 96.6h.7M100.1 98.5h.7M135.7 88h.7M125.7 99.8h.7M145.9 89.4h.7M99.5 100.3h.7M98.6 96.6h.7M116.3 92.5h.7M132.2 94.5h.7M134 89.2h.7M120.2 97.4h.7M90.4 95.1h.7M122.6 99.3h.7M139.6 86.7h.7M103 95h.7M130.6 87.3h.7M130.1 98.3h.7M110.7 101.7h.7M115.3 93.7h.7M137.9 94.7h.7M139.7 90.3h.7M114.8 96.9h.7M137 89h.7M125.8 94.3h.7M94.1 87.7h.7M97.9 94h.7M87.1 94.5h.7M127.8 88.7h.7M121.8 100.5h.7M110 94h.7M120 89.9h.7M143.7 88.2h.7M110.5 98.6h.7M90.1 92h.7M113.3 98.9h.7M121.4 91.1h.7M100.9 94.8h.7M113 102.6h.7M130.5 85.9h.7M106.6 97.4h.7M95.4 93.2h.7M91.4 88.4h.7M136.5 93.4h.7M137.6 85.3h.7M141.4 90.2h.7M128.6 93.8h.7M121.9 92.5h.7M91.2 93.7h.7M110.5 91.3h.7M101.6 98.2h.7M138.7 96.1h.7M96.6 88.9h.7M116.8 98.5h.7M91.7 91.2h.7M91 88h.7M128 96.3h.7M122.8 97.5h.7M137.5 86.7h.7M140.5 87.9h.7M106.7 88.5h.7M138.4 97.3h.7M96.7 100.3h.7M106.3 100.7h.7M145 89.4h.7M91.2 96.2h.7M103.2 89.7h.7M133.1 96h.7M96 95.9h.7M95.9 95.9h.7M127.5 93.9h.7M122.5 90h.7M92 87.2h.7M128.5 95.3h.7M113.9 91.6h.7M93.9 94.5h.7M128.8 100.8h.7M121.8 89.1h.7M113.1 97.8h.7M147.3 88.9h.7M109.1 102.8h.7M134.2 96.4h.7M115.4 90.3h.7M107.5 95.4h.7M111.1 95.3h.7M137.3 94.9h.7M118 91.6h.7M93.7 95.4h.7M97.1 91.9h.7M134.5 84.3h.7M105.1 97.6h.7M100.8 95.8h.7M131.9 97.3h.7M144.8 93.7h.7M114.1 90.3h.7M123.3 91.8h.7M88 90.2h.7M133 83.4h.7M101.6 94.1h.7M117.9 97.3h.7M142.9 89.2h.7M108.7 100.5h.7M84.2 89.9h.7M95.1 100.5h.7M142.6 87.1h.7M94.3 88.3h.7M137.3 102.7h.7M139.1 89.1h.7M137.1 84.1h.7M126.6 99.1h.7M104.6 93.8h.7M121.1 91.8h.7M139.9 87h.7M94.3 96.9h.7M93 88.2h.7M137.4 88.8h.7M142.5 89.1h.7M93.4 97h.7M125.5 100.8h.7M88.8 93.7h.7M127.7 97.9h.7M94.2 92.9h.7M131 90h.7M137.6 96.1h.7M114.8 93.8h.7M118.2 99.5h.7M111.2 98.3h.7M94.1 92.3h.7M125.5 90.2h.7M116.8 91.2h.7M143.8 93h.7M143.8 94.8h.7M136.1 101.1h.7M98.1 98.2h.7M98.6 98h.7M144.9 90.1h.7M123.9 99.4h.7M89.5 93h.7M145.3 93.5h.7M121.5 94.9h.7M101.7 95h.7M88.5 90.2h.7M141 87.5h.7M119.9 94.3h.7M124.6 99.2h.7M138.3 91.1h.7M128.2 89.5h.7M123.6 90.3h.7M135.9 91.4h.7M134.8 93.9h.7M120.2 96.8h.7M102.5 99.5h.7M139.2 97h.7M100.1 99.5h.7M105.4 96.7h.7M146.8 91.5h.7M138.4 85.3h.7M134.2 93.2h.7M119.7 97.9h.7M133.5 88.9h.7M102.7 94.1h.7M113.1 96.6h.7M119.1 94.2h.7M106.9 91.8h.7M132.2 97.2h.7M94.3 98.4h.7M101.6 97.1h.7M143.7 87.5h.7M124.6 88.2h.7M87.1 91.7h.7M115.9 100.7h.7M141.5 90.5h.7M96.2 88.6h.7M105.7 91.5h.7M108.1 98.6h.7M102 92.9h.7M117.8 98.5h.7M113.5 104h.7M90 90.4h.7M132.7 84.6h.7M94.6 87.1h.7M140.1 93.3h.7M108.5 100.8h.7M122.2 103.1h.7M133.1 97.4h.7M145.4 84.4h.7M103.8 98.1h.7M107.2 99.2h.7M106.9 94.7h.7M131.7 91.7h.7M144 84.1h.7M140.4 90.9h.7M143.6 90h.7M140.5 95.9h.7M113.5 101.1h.7M140.2 98.1h.7M117.8 95h.7M136.6 86.2h.7M111.6 94.6h.7M118.9 93.7h.7M87.5 91.5h.7M144.4 91.6h.7M130.2 100.4h.7M97 93h.7M98.3 88.4h.7M129 95.5h.7M120.1 93.5h.7M123.9 95.2h.7M110.7 93.1h.7M107.3 92.5h.7M109.5 91.9h.7M103.9 93.5h.7M127.6 98.9h.7M103 96.2h.7M96.3 94.9h.7M130 90.8h.7M122.5 95.9h.7M131.2 88.7h.7M118.8 91.7h.7M95.9 100.7h.7M143.9 90.2h.7M110.7 94.6h.7M87.9 86.9h.7M106.9 94.5h.7M101.8 97.8h.7M93 90.9h.7M97.6 89.2h.7M107 90.2h.7M116.1 88.4h.7M112.6 105.1h.7M117.7 97.5h.7M106.7 97.4h.7M107.1 96.6h.7M131 93h.7M98.3 98.6h.7M101.6 91.5h.7M133.7 95.3h.7M127.3 87.4h.7M103.4 92.2h.7M146.8 88.8h.7M127.4 90.3h.7M94.4 84.4h.7M125.5 97.9h.7M113.2 101.8h.7M123.9 96.2h.7M140.3 88.1h.7M115.5 92.4h.7" stroke="#1f5fae" stroke-width="0.7" opacity="0.6"/>
<path d="M86.80 87.00C88.52 86.42 94.27 87.83 97.60 88.50C100.93 89.17 104.27 90.42 106.80 91.00C109.33 91.58 110.80 92.17 112.80 92.00C114.80 91.83 116.47 90.92 118.80 90.00C121.13 89.08 123.52 87.30 126.80 86.50C130.08 85.70 135.50 85.20 138.50 85.20C141.50 85.20 143.32 85.53 144.80 86.50C146.28 87.47 147.40 89.17 147.40 91.00C147.40 92.83 146.73 95.88 144.80 97.50C142.87 99.12 139.40 100.03 135.80 100.70C132.20 101.37 127.43 101.28 123.20 101.50C118.97 101.72 113.80 101.92 110.40 102.00C107.00 102.08 105.40 102.50 102.80 102.00C100.20 101.50 96.97 100.00 94.80 99.00C92.63 98.00 91.05 97.17 89.80 96.00C88.55 94.83 87.80 93.50 87.30 92.00C86.80 90.50 85.08 87.58 86.80 87.00Z" fill="#1f5fae" stroke="#1f5fae" stroke-width="1.8"/>
<path d="M96.40 89.88C97.57 89.48 101.48 90.45 103.74 90.90C106.01 91.35 108.28 92.20 110.00 92.60C111.72 93.00 112.72 93.39 114.08 93.28C115.44 93.17 116.57 92.54 118.16 91.92C119.75 91.30 121.37 90.08 123.60 89.54C125.83 89.00 129.52 88.66 131.56 88.66C133.60 88.66 134.83 88.88 135.84 89.54C136.85 90.20 137.61 91.35 137.61 92.60C137.61 93.85 137.15 95.92 135.84 97.02C134.53 98.12 132.17 98.74 129.72 99.20C127.27 99.65 124.03 99.59 121.15 99.74C118.27 99.89 114.76 100.02 112.45 100.08C110.14 100.14 109.05 100.42 107.28 100.08C105.51 99.74 103.31 98.72 101.84 98.04C100.37 97.36 99.29 96.79 98.44 96.00C97.59 95.21 97.08 94.30 96.74 93.28C96.40 92.26 95.23 90.28 96.40 89.88Z" fill="none" stroke="#fff" stroke-width=".45" opacity=".9"/>
<path d="M101.50 91.41C102.38 91.11 105.31 91.83 107.01 92.17C108.71 92.52 110.41 93.15 111.70 93.45C112.99 93.75 113.74 94.04 114.76 93.96C115.78 93.88 116.63 93.41 117.82 92.94C119.01 92.47 120.23 91.56 121.90 91.16C123.57 90.75 126.34 90.49 127.87 90.49C129.40 90.49 130.32 90.66 131.08 91.16C131.84 91.65 132.41 92.52 132.41 93.45C132.41 94.39 132.07 95.94 131.08 96.77C130.09 97.59 128.33 98.06 126.49 98.40C124.65 98.74 122.22 98.69 120.06 98.81C117.90 98.92 115.27 99.02 113.54 99.06C111.80 99.10 110.99 99.31 109.66 99.06C108.33 98.81 106.69 98.04 105.58 97.53C104.47 97.02 103.67 96.59 103.03 96.00C102.39 95.41 102.01 94.72 101.75 93.96C101.50 93.19 100.62 91.71 101.50 91.41Z" fill="none" stroke="#fff" stroke-width=".45" opacity=".9"/>
<path d="M106.60 92.94C107.18 92.74 109.14 93.22 110.27 93.45C111.41 93.68 112.54 94.10 113.40 94.30C114.26 94.50 114.76 94.70 115.44 94.64C116.12 94.58 116.69 94.27 117.48 93.96C118.27 93.65 119.08 93.04 120.20 92.77C121.32 92.50 123.16 92.33 124.18 92.33C125.20 92.33 125.82 92.44 126.32 92.77C126.82 93.10 127.20 93.68 127.20 94.30C127.20 94.92 126.98 95.96 126.32 96.51C125.66 97.06 124.48 97.37 123.26 97.60C122.04 97.82 120.42 97.80 118.98 97.87C117.54 97.94 115.78 98.01 114.62 98.04C113.47 98.07 112.92 98.21 112.04 98.04C111.16 97.87 110.06 97.36 109.32 97.02C108.58 96.68 108.04 96.40 107.62 96.00C107.19 95.60 106.94 95.15 106.77 94.64C106.60 94.13 106.02 93.14 106.60 92.94Z" fill="none" stroke="#fff" stroke-width=".45" opacity=".9"/>
<path d="M117.80 92.00C118.97 91.25 122.30 88.83 124.80 87.50C127.30 86.17 130.30 84.83 132.80 84.00C135.30 83.17 138.13 82.50 139.80 82.50C141.47 82.50 142.30 83.75 142.80 84.00" fill="none" stroke="#4cab36" stroke-width=".8"/>
<path d="M128.80 94.50L134.80 93.50" fill="none" stroke="#4cab36" stroke-width=".8"/>
<path d="M88.80 96.00C89.13 95.17 89.97 91.92 90.80 91.00C91.63 90.08 92.97 90.00 93.80 90.50C94.63 91.00 95.63 92.75 95.80 94.00C95.97 95.25 95.63 97.25 94.80 98.00C93.97 98.75 91.47 98.42 90.80 98.50" fill="none" stroke="#b81c20" stroke-width=".8"/>
<path d="M90.80 95.00C91.30 94.67 92.97 93.00 93.80 93.00C94.63 93.00 95.47 94.67 95.80 95.00" fill="none" stroke="#4cab36" stroke-width=".8"/>
</g>
<path d="M80.4 7.4h2.6M81.4 20.5h1.6M81.4 17.2h1.6M81.4 14.8h1.6M81.4 13.0h1.6M81.4 11.5h1.6M81.4 10.3h1.6M81.4 9.2h1.6M81.4 8.3h1.6M80.4 26.1h2.6M81.4 39.8h1.6M81.4 36.3h1.6M81.4 33.9h1.6M81.4 32.0h1.6M81.4 30.4h1.6M81.4 29.1h1.6M81.4 28.0h1.6M81.4 27.0h1.6M80.4 45.7h2.6M81.4 59.6h1.6M81.4 56.1h1.6M81.4 53.6h1.6M81.4 51.7h1.6M81.4 50.1h1.6M81.4 48.8h1.6M81.4 47.6h1.6M81.4 46.6h1.6M80.4 65.6h2.6M81.2 72.8h1.8M81.2 78.3h1.8M81.2 83.3h1.8M81.2 87.8h1.8M81.2 91.3h1.8M81.2 94.0h1.8M81.2 97.3h1.8M81.2 100.3h1.8M87.0 104.6v1.8M91.0 104.6v1.8M94.0 104.6v1.8M97.5 104.6v1.8M101.0 104.6v1.8M104.0 104.6v1.8M108.0 104.6v1.8M112.0 104.6v1.8M116.0 104.6v1.8M132.7 104.6v2.4M119.8 104.6v1.6M122.9 104.6v1.6M125.3 104.6v1.6M127.2 104.6v1.6M128.9 104.6v1.6M130.3 104.6v1.6M131.6 104.6v1.6M157.4 104.6v2.4M140.1 104.6v1.6M144.5 104.6v1.6M147.6 104.6v1.6M150.0 104.6v1.6M151.9 104.6v1.6M153.6 104.6v1.6M155.0 104.6v1.6M156.3 104.6v1.6M182.0 104.6v2.4M164.8 104.6v1.6M169.1 104.6v1.6M172.2 104.6v1.6M174.6 104.6v1.6M176.5 104.6v1.6M178.2 104.6v1.6M179.6 104.6v1.6M119.8 104.6v1.6M122.9 104.6v1.6M125.3 104.6v1.6M127.2 104.6v1.6M128.9 104.6v1.6M130.3 104.6v1.6M131.6 104.6v1.6" stroke="#000" stroke-width="1.1" fill="none"/>
<rect x="83.9" y="7.1" width="96.9" height="96.5" fill="none" stroke="#000" stroke-width="1.8"/>
<text x="69.3" y="13.4" font-size="11" text-anchor="end" fill="#000" >10</text>
<text x="70.5" y="5.7" font-size="7.8" text-anchor="start" fill="#000" >6</text>
<text x="69.3" y="33.3" font-size="11" text-anchor="end" fill="#000" >10</text>
<text x="70.5" y="25.6" font-size="7.8" text-anchor="start" fill="#000" >5</text>
<text x="69.3" y="51.9" font-size="11" text-anchor="end" fill="#000" >10</text>
<text x="70.5" y="44.2" font-size="7.8" text-anchor="start" fill="#000" >4</text>
<text x="69.3" y="72.5" font-size="11" text-anchor="end" fill="#000" >10</text>
<text x="70.5" y="64.8" font-size="7.8" text-anchor="start" fill="#000" >3</text>
<text x="70.2" y="99.2" font-size="11" text-anchor="end" fill="#000" >0</text>
<text x="45.0" y="54.8" font-size="12.2" text-anchor="middle" transform="rotate(-90 45.0 54.8)" dy="4.3">anti-Strep-PE</text>
<clipPath id="c1"><rect x="200.8" y="8.0" width="95.1" height="94.8"/></clipPath>
<g clip-path="url(#c1)">
<path d="M254.4 68.8h.6M203.3 88.7h.6M201.9 60.5h.6M209.4 76.1h.6M247.7 50.1h.6M218.5 89.8h.6M242.1 49h.6M242 86.7h.6M225.3 51.5h.6M240.3 60.6h.6M208.8 52.1h.6M224.9 50h.6M223.9 73.3h.6M233.9 65.2h.6M248.8 47.8h.6M220.6 94.3h.6M252.7 93.6h.6M246.7 72.5h.6M248.1 74.5h.6M207.9 57h.6M206.6 91.1h.6M220.1 65.4h.6M233.1 48.5h.6M243.1 86.8h.6M248.6 91.5h.6M219.8 51h.6M246.5 81.1h.6M223.1 61.9h.6M210 88.8h.6M228.4 87.7h.6M221.2 60.7h.6M231.6 84h.6M253.8 62.4h.6M242.4 65.2h.6M252.5 84.8h.6M234.1 62.9h.6M217.2 91.7h.6M248.9 59.8h.6M205.9 53.7h.6M258.7 45.2h.6M249.4 72.1h.6M234 72.7h.6M225.4 73.7h.6M206.2 93.6h.6M207 50.6h.6M241.2 78.2h.6M249.2 81.1h.6M256.6 45.8h.6M201.4 56h.6M247.5 51.4h.6M232.7 85.4h.6M210.2 72h.6M254.8 84.1h.6M224.7 69.3h.6M217.5 95.8h.6M247.8 80.4h.6M219.1 83.3h.6M230 86.9h.6M222.6 91.5h.6M241.9 67.8h.6M234.6 87.3h.6M232.5 95.8h.6M201.2 92.3h.6M243.6 69.9h.6M251.8 51.2h.6M221.1 82.3h.6M250.2 63.5h.6M260.4 78.7h.6M203.5 49.8h.6M205.4 74.3h.6M220.1 57.4h.6M227.7 47.3h.6M255.3 89.1h.6M234.3 67.4h.6M219.3 76.2h.6M221.6 96.7h.6M258.2 83h.6M250.4 47.1h.6M208.2 62h.6M208.4 66.2h.6" stroke="#b81c20" stroke-width="0.6" opacity="0.5"/>
<path d="M260 90.6h.6M258.3 63h.6M214.1 54.1h.6M217.2 55.5h.6M232.5 66.5h.6M241.2 78.2h.6M236.6 66.5h.6M244.9 84h.6M243.7 74.2h.6M228.6 65.9h.6M203.2 74h.6M237.8 61.4h.6M252.4 92.6h.6M252 89.7h.6M230.1 60.9h.6M217.1 86.2h.6M259.9 58h.6M201.2 68.9h.6M221.8 79.9h.6M207.5 91h.6M221.1 93.9h.6M220.6 66.7h.6M211.4 96.5h.6M236.2 90.2h.6M204.6 77.4h.6M244.8 97.3h.6M257 57.7h.6M223.2 97.9h.6M232.9 96.1h.6M216 54.1h.6M257.6 64.9h.6M234.4 69.2h.6M235.5 95h.6M257.6 92.5h.6M216.2 89.9h.6M201.9 71.7h.6M257.4 64.5h.6M222.8 79.2h.6M215 84.9h.6M240 57.3h.6M256 56.2h.6M242.6 68.7h.6M209.4 56.5h.6M260.7 89h.6M228.3 88.8h.6M259 94.7h.6M232.8 65.4h.6M231.9 97.2h.6M244.6 83.1h.6M251.4 71.4h.6M234.3 91.2h.6M212.7 91.7h.6M202.3 77.2h.6M235.3 59.6h.6M256.1 72.8h.6M211.9 71.5h.6M236.3 72.3h.6M201 57.2h.6M243.6 58.9h.6M216.1 89.3h.6M252.5 92.7h.6M211.3 53.2h.6M246.1 80h.6M222.7 53.8h.6M226.7 63.7h.6M236.1 97.1h.6M213.4 56.4h.6M242.5 57.8h.6M214.2 72.8h.6M260 67.6h.6" stroke="#4cab36" stroke-width="0.6" opacity="0.5"/>
<path d="M223.2 82h.6M214.7 79.1h.6M244.3 76h.6M249.6 70.4h.6M211.4 88.1h.6M230.7 99.7h.6M211.6 92.8h.6M242.6 77.8h.6M212.9 87.5h.6M247.5 81.9h.6M231.8 90.4h.6M239.3 79.9h.6M216 81.5h.6M236 98.9h.6M260.5 85.3h.6M223.9 71.9h.6M240.5 92.5h.6M219.4 90.6h.6M260.8 78.7h.6M257.4 80.5h.6M241.7 97.7h.6M217 76.8h.6M259.9 65.6h.6M222.6 82.1h.6M246.8 88.2h.6M256.9 89.8h.6M205.9 65.9h.6M207.8 80.3h.6M207.3 84h.6M240.6 71.1h.6M252.9 79.5h.6M258.6 77.3h.6M239.9 84.7h.6M220.3 94.2h.6M206 73h.6M223.4 98.3h.6M233.3 64.5h.6M222.2 87.4h.6M250.3 67.4h.6M248.7 78.6h.6M234.6 79.8h.6M229.9 102.6h.6M256.3 99.7h.6M246.3 91h.6M213.6 64.4h.6M251.5 89.9h.6M240.5 75.5h.6M220.5 99.8h.6M235.1 63.8h.6M224.5 77h.6M209.5 102.1h.6M255.5 95.6h.6M206 79.7h.6M211.9 92h.6M250.3 94.6h.6M249.3 67.8h.6M206.5 66.7h.6M252.1 96.2h.6M234.2 72.4h.6M252.9 67.8h.6M223.7 63.1h.6M259.9 79.6h.6M248.2 95.1h.6M237.8 102.5h.6M248.4 100.1h.6M258.8 66.3h.6M247.1 72.1h.6M223.7 76.7h.6M260.2 65.4h.6M229.7 68.1h.6M260.7 82.8h.6M244.4 83.8h.6M248 76.5h.6M228.5 92.8h.6M244.4 98.5h.6M222.8 96.9h.6M246.3 85.9h.6M228.2 85.7h.6M210 66.9h.6M222.9 67.9h.6" stroke="#1f5fae" stroke-width="0.6" opacity="0.5"/>
<path d="M223.8 96.1h.6M237.4 93.2h.6M226.9 96.2h.6M239.3 93.3h.6M227.3 91.8h.6M230.7 83.5h.6M225.8 100.2h.6M235.4 102.1h.6M226.2 83.4h.6M233 77.7h.6M228.8 91.1h.6M232.4 101.5h.6M234.3 93.9h.6M234.5 98h.6M230.1 76h.6M242.4 98.2h.6M225.3 79.1h.6M227.2 94.4h.6M225.4 76.6h.6M232.7 76.2h.6M228 86.7h.6M226.9 76.1h.6M228 82.8h.6M229.3 87.6h.6M230 85.1h.6M223.2 99.4h.6M237.6 89.8h.6M222.9 82.5h.6M240.8 88.8h.6M226.9 99h.6M240.6 79.4h.6M232.8 91.7h.6M225.1 84.9h.6M235.2 94.9h.6M235.4 93.4h.6M230.4 77.9h.6M223.1 99.5h.6M240.1 101.3h.6M224.3 97.5h.6M226.2 85.7h.6M226.8 100.1h.6M239.2 99.3h.6M230.4 102.2h.6M228 92.1h.6M236.3 82.5h.6M230.4 78.8h.6M238.7 81.2h.6M225.5 83.8h.6M235.6 93.8h.6M233.3 99.9h.6M237.8 81.9h.6M233.5 80.7h.6M227.6 80.1h.6M224.3 85.8h.6M240.5 94.4h.6M224.6 82.1h.6M234.6 90.8h.6M223.3 78.6h.6M234.1 92.8h.6M224.4 97.6h.6M227.6 92.5h.6M233.4 85.5h.6M241.7 87.1h.6M231.3 91.1h.6M239.6 103.7h.6M238.2 91.1h.6M237.1 93.9h.6M242 103.2h.6M238 82.1h.6M234.2 88.3h.6M227.4 97.9h.6M227.2 95.9h.6M232.6 88h.6M236.9 96.3h.6M242.6 104h.6M238.8 83.4h.6M236.2 89.9h.6M241.6 88.5h.6M229.9 76.7h.6M232.2 90.9h.6M229 78.9h.6M232.5 78h.6M226.2 88.4h.6M229.8 90h.6M233.4 86.9h.6M225.5 76.5h.6M234 103.2h.6M228.4 85.8h.6M229.2 96.8h.6M232.7 98.3h.6M222.9 79.7h.6M226.9 86.3h.6M230.8 86.8h.6M242.1 88.3h.6M234.3 103h.6M235.6 92.7h.6M239.4 85.4h.6M223.5 102.8h.6M233.5 92.3h.6M224.1 96.9h.6M230.3 94h.6M228.5 101.7h.6M230.2 83.7h.6M240.7 82.2h.6M228.2 89.6h.6M242.4 79.2h.6M227 98.3h.6M224.3 87.6h.6M238.5 96h.6M238.7 79.3h.6" stroke="#1f5fae" stroke-width="0.6" opacity="0.5"/>
<path d="M228 85.9h.6M226.2 88.4h.6M228.1 88.5h.6M212.2 81.3h.6M218.2 79.1h.6M209.9 97.2h.6M220.1 97h.6M209.6 88.6h.6M217.5 80.4h.6M212.4 98.3h.6M223.9 89.2h.6M221 96.9h.6M229.6 91.1h.6M207.1 97.2h.6M209.9 83.3h.6M209.2 89.3h.6M220.4 88.1h.6M217.6 81.1h.6M223.8 89.8h.6M213.5 96.3h.6M229.3 98.3h.6M230.4 79.5h.6M215.5 87.9h.6M212.2 94.4h.6M228.4 81h.6M218.5 99.3h.6M228 87.9h.6M208.4 88h.6M218.7 95.3h.6M210.5 84.1h.6M230.4 78.3h.6M221.1 80.1h.6M224.6 87.3h.6M228.9 82.9h.6M227.7 83h.6M207 79.9h.6M207.7 86.6h.6M230.1 85.8h.6M223.7 78.8h.6M218.7 89.9h.6M208.2 90.8h.6M217 85.2h.6M226.6 93.2h.6M208.8 80.3h.6M207.1 83.8h.6M221.7 99.3h.6M230 97h.6M208.9 95.4h.6M224.9 88.4h.6M230.7 91.2h.6M208.8 82.7h.6M209 91.4h.6M221.4 96.9h.6M206.1 78.2h.6M230.1 83.8h.6M212.4 97.1h.6M208.6 95.4h.6M228.2 90.4h.6M221 78.1h.6M221 91.5h.6" stroke="#4cab36" stroke-width="0.6" opacity="0.5"/>
<path d="M226.8 41.6h.7M213.2 41.6h.7M208.9 47.1h.7M220.8 47h.7M223.3 45.1h.7M228.3 43.6h.7M224.5 41.6h.7M211.2 41.4h.7M220.5 41.6h.7M220.9 45.1h.7M227 42.4h.7M215.5 45.3h.7M222.3 46.2h.7M220.8 43.5h.7M230.6 38.2h.7M215.5 43.9h.7M205.1 39.9h.7M215.5 43.6h.7M210 45.8h.7M225 41.2h.7M213.2 43h.7M222.5 39.3h.7M223.5 40.6h.7M221.5 44.7h.7M230.5 41.6h.7M217.9 45.5h.7M219.2 42.9h.7M227.4 42.1h.7M224.7 39.7h.7M222.3 42.6h.7M228.4 41.2h.7M210.7 40.8h.7M210.7 37h.7M228.1 38h.7M206.2 43.7h.7M218.3 46.1h.7M226.3 41.8h.7M224 41h.7M230.5 43.6h.7M211.7 43.7h.7M221.8 43.1h.7M226.1 39.4h.7M208.2 40.4h.7M230.2 41.6h.7M227.2 48.2h.7M223.2 40.3h.7M215.8 38.9h.7M220.1 44.6h.7M226.2 43.2h.7M220.7 41.3h.7M215.8 42h.7M227.2 42.7h.7M222.1 38.9h.7M205.4 39.4h.7M220.2 39.4h.7M211.8 41.2h.7M216.9 39.7h.7M221.2 39.2h.7M218.1 42h.7M220.6 44.2h.7M229.7 40.4h.7M228.7 46.1h.7M223.5 39.3h.7M215.5 39.6h.7M227.4 40.1h.7M218.7 42.9h.7M229 38.9h.7M222.6 41.3h.7M217.1 39.3h.7M221.1 43.8h.7M223.9 46.8h.7M230.7 41.2h.7M222.4 43.4h.7M204.8 42.6h.7M226.6 43.2h.7M232.3 43.1h.7M231.3 44.2h.7M223.8 43.5h.7M221.8 41h.7M229.7 41.9h.7M226.6 38.8h.7M209.2 45.1h.7M215 43.3h.7M212.2 41.8h.7M222.7 40.5h.7M228.9 40.8h.7M229.2 40.4h.7M223.2 37.9h.7M224 40.5h.7M216.1 46.6h.7M226.7 49.4h.7M207.3 43.6h.7M208.4 41.9h.7M219.1 39.7h.7M223.3 42.9h.7M230.8 44.5h.7" stroke="#b81c20" stroke-width="0.7" opacity="0.6"/>
<path d="M224.7 56.1h.7M225.1 52.5h.7M215.1 55.2h.7M231.7 55.6h.7M217.4 58.1h.7M227.6 55.8h.7M222.2 54.9h.7M231.4 55.8h.7M224.5 58.2h.7M213.4 53.7h.7M230.5 57.1h.7M220.6 54.8h.7M226 56.9h.7M219.6 56.1h.7M227.4 52.6h.7M216 56.6h.7M219 58.8h.7M222.4 54.2h.7M220.1 56.6h.7M226.8 53.9h.7M228.8 52.3h.7M225.8 52.6h.7M214.2 60.2h.7M222.2 54.3h.7M229.4 52.9h.7M221.6 55h.7M220.1 58.2h.7M227.3 53.3h.7M232 53h.7M214.9 60.8h.7M229.1 52.3h.7M223.1 55.7h.7M225.4 56.2h.7M228.3 52.3h.7M220.2 54.3h.7M230 58.2h.7M225.4 55.9h.7M222.6 54.4h.7M219.2 57.4h.7M229.4 58.2h.7M214.8 57.7h.7M225.5 56.9h.7M230.1 56.6h.7M223 55.1h.7M229.5 53.5h.7M221.6 60.7h.7M228.7 57h.7M225.6 55.6h.7M228.9 57.5h.7M213.2 56.1h.7M224.7 49.8h.7M227 54.8h.7M229.3 54.9h.7M214.5 53.3h.7M218.9 56h.7M226.3 58.7h.7M217.6 52.3h.7M228.7 54.1h.7M225.8 58h.7M229.6 51.3h.7" stroke="#4cab36" stroke-width="0.7" opacity="0.6"/>
<path d="M244.2 40.6h.7M241.8 36.9h.7M257.8 34.1h.7M255 33.7h.7M237.2 41.8h.7M242.1 33.9h.7M247.7 34.4h.7M238.1 36.5h.7M261.1 28.7h.7M256.3 35.3h.7M255.6 28.9h.7M235.9 40.2h.7M239.7 36.9h.7M251.7 39.2h.7M232.3 42.7h.7M258.6 26.3h.7M239.3 38.2h.7M264.5 25h.7M252.1 35h.7M253.4 27.7h.7M262.1 23.5h.7M255.8 29.3h.7M253.5 32.8h.7M248.2 32.2h.7M249.1 32h.7M234.5 38.7h.7M263.6 23.7h.7M241.7 38.1h.7M253.8 32.4h.7M242.9 40.3h.7M239 43.1h.7M234.7 43.7h.7M256.1 29.5h.7M251.6 37.8h.7M241.9 37.7h.7M263.2 23h.7M239.7 43.9h.7M244.1 34.6h.7M237.1 41.1h.7M259.5 23.8h.7M239.2 36.5h.7M251.4 34.2h.7M235.6 39.8h.7M246.9 38h.7M234.9 38.9h.7M254.8 28.7h.7M233.1 45.8h.7M233.4 39h.7M252.4 31.1h.7M254.9 27.4h.7M249.5 32.3h.7M245.2 36.8h.7M245 39.4h.7M234.8 40.1h.7M250.5 35.6h.7M258.6 26.9h.7M258.9 30.3h.7M266.1 25.8h.7M237.5 40.3h.7M267.2 27.7h.7M260.7 23.3h.7M260.6 30.2h.7M257.3 32.3h.7M238.2 38.2h.7M239.7 36.1h.7M251.8 35.2h.7M249.2 38.6h.7M250 32.9h.7M256.2 31.5h.7M244.2 38.7h.7M252.3 35.8h.7M252.4 28.6h.7M236.3 38.9h.7M246.5 36.1h.7M236.4 40.5h.7M248 36.4h.7M259.7 27.4h.7M245.2 35.2h.7M250.3 35.9h.7M245.4 39.6h.7M266.5 23.9h.7M260.8 27.2h.7M253.8 38.8h.7M253.8 32.9h.7M256.8 34.3h.7M244.4 40.4h.7M250.9 37.2h.7M250.5 37.4h.7M257.4 35.5h.7M251.8 33.1h.7M244.3 37.5h.7M249.2 32.6h.7M252.3 31.3h.7M233.7 38.2h.7M263.4 25.9h.7M238.6 42.2h.7M244 41.6h.7M233.3 39.9h.7M252.8 31.7h.7M242.8 36.4h.7M259.3 29.9h.7M263 32.2h.7M235.3 40.7h.7M259.4 33.7h.7M241.7 37.7h.7M257.2 26.6h.7M234.7 42h.7M246.1 40.5h.7M232.6 42.1h.7M251.8 32.7h.7M233.5 42.9h.7M255.6 30.7h.7M250.3 39.4h.7M256.2 27.7h.7M247.6 39.9h.7M248.8 38h.7M248.6 37.1h.7M253.4 32.7h.7M244 37.9h.7M255.9 31.4h.7M249.8 37.8h.7M261.7 27.7h.7M246.6 34h.7M266.8 26.8h.7M248.4 36.9h.7M247.6 37.7h.7M252.1 33.2h.7M243.9 37.5h.7M248.8 38.8h.7M252.2 31.1h.7M263 25.8h.7M248.9 32.7h.7M247.9 30.3h.7M241.3 40.4h.7M247.2 40.2h.7M248.6 35.8h.7M266.3 23.3h.7M255.2 27.6h.7M264.2 25.3h.7M252.5 33.2h.7M255.9 28.8h.7M250.3 42h.7M254.5 26h.7M247.2 36.2h.7M244.6 36.6h.7M257.7 27.8h.7M248.6 35.9h.7M256.1 29.5h.7M250.9 30.2h.7M235.2 41.2h.7M264.7 28.2h.7M253.7 29.5h.7M232.8 40.8h.7M251.1 31.9h.7M244.8 41.5h.7M244.4 40.7h.7M258.7 31.4h.7M237.3 41.9h.7M244.1 41.5h.7M260.6 29.2h.7M246.4 36.7h.7M253.5 35.2h.7M250.3 32.4h.7M237.8 36.9h.7M235.4 43.7h.7M259.1 32.3h.7M247.6 32.2h.7M257.2 32.9h.7M264.1 22.7h.7M237 41.9h.7M230.1 42.8h.7M258.3 33.4h.7M265.7 30.1h.7M235 41.5h.7M241.6 43.8h.7M241.5 39h.7M252 32.1h.7M250.7 33.6h.7M265.4 25.8h.7M237.6 37.4h.7M243.8 38h.7M258 27.2h.7M254.6 38.2h.7M251.6 37.2h.7M261 24.6h.7M233.4 40.4h.7M233.8 38.7h.7M261.6 28.7h.7M236.1 41.4h.7M252.1 36.1h.7M244.8 35.6h.7M262.9 28.6h.7M253 31.9h.7M242 36.7h.7M235.7 36.6h.7M240.2 35.8h.7M257.3 31.2h.7M261.1 30.9h.7M254 29.3h.7M238.1 41.8h.7M246.7 34.5h.7M257.7 30.5h.7M263.5 23.8h.7M251.2 32.5h.7M256.2 28.9h.7M265.8 25.6h.7M246.7 35.3h.7M241.3 39.6h.7M255.5 30.5h.7M259.5 33.9h.7M244.3 35.2h.7M263.3 24.2h.7M249.1 35.4h.7M264 30h.7M257.2 33.2h.7M249.6 40.4h.7M242.5 38.1h.7M239.8 34.3h.7M259.9 26.6h.7M235.9 39h.7M248.5 35h.7M266.5 26.7h.7M261.8 24.3h.7M260.5 33.5h.7M258.8 33.4h.7M245.9 42.3h.7M262 29.7h.7M254.6 27.4h.7M249.9 34.2h.7M249.4 39.5h.7M245 34.4h.7M262.7 25.9h.7M255.1 36h.7M242 35.5h.7M253.7 30h.7M246.9 39.9h.7M255.6 34.2h.7M252.6 33h.7M262.4 25.4h.7M264.7 27.7h.7M237.9 35.3h.7M259.6 33h.7M250.8 31.6h.7M236.2 38.8h.7M260.6 28.1h.7M241.4 42.4h.7M266.3 26.7h.7M255.2 28.8h.7M244.8 39.2h.7M257.4 32.8h.7" stroke="#b81c20" stroke-width="0.7" opacity="0.6"/>
<path d="M230.80 40.60C231.55 39.65 234.15 37.97 236.60 36.80C239.05 35.63 242.52 34.98 245.50 33.60C248.48 32.22 251.72 30.10 254.50 28.50C257.28 26.90 260.28 24.87 262.20 24.00C264.12 23.13 265.15 22.98 266.00 23.30C266.85 23.62 267.93 24.62 267.30 25.90C266.67 27.18 264.33 29.30 262.20 31.00C260.07 32.70 257.28 34.40 254.50 36.10C251.72 37.80 248.48 40.02 245.50 41.20C242.52 42.38 238.83 42.98 236.60 43.20C234.37 43.42 233.07 42.93 232.10 42.50C231.13 42.07 230.05 41.55 230.80 40.60Z" fill="#b81c20" stroke="#b81c20" stroke-width="1.8"/>
<path d="M232.40 40.57C232.91 39.92 234.68 38.78 236.34 37.98C238.01 37.19 240.37 36.75 242.40 35.81C244.42 34.87 246.62 33.43 248.52 32.34C250.41 31.25 252.45 29.87 253.75 29.28C255.06 28.69 255.76 28.59 256.34 28.80C256.91 29.02 257.65 29.70 257.22 30.57C256.79 31.44 255.20 32.88 253.75 34.04C252.30 35.20 250.41 36.35 248.52 37.51C246.62 38.66 244.42 40.17 242.40 40.98C240.37 41.78 237.86 42.19 236.34 42.34C234.83 42.48 233.94 42.15 233.28 41.86C232.63 41.57 231.89 41.21 232.40 40.57Z" fill="none" stroke="#fff" stroke-width=".45" opacity=".9"/>
<path d="M233.25 40.55C233.63 40.07 234.96 39.21 236.21 38.61C237.46 38.02 239.23 37.69 240.75 36.98C242.27 36.28 243.92 35.20 245.34 34.38C246.76 33.56 248.29 32.53 249.26 32.09C250.24 31.64 250.77 31.57 251.20 31.73C251.64 31.89 252.19 32.40 251.87 33.05C251.54 33.71 250.35 34.79 249.26 35.66C248.18 36.52 246.76 37.39 245.34 38.26C243.92 39.12 242.27 40.25 240.75 40.86C239.23 41.46 237.35 41.77 236.21 41.88C235.07 41.99 234.41 41.74 233.91 41.52C233.42 41.30 232.87 41.04 233.25 40.55Z" fill="none" stroke="#fff" stroke-width=".45" opacity=".9"/>
<path d="M234.10 40.53C234.36 40.21 235.24 39.64 236.07 39.24C236.91 38.85 238.08 38.62 239.10 38.15C240.11 37.68 241.21 36.96 242.16 36.42C243.10 35.88 244.12 35.18 244.78 34.89C245.43 34.60 245.78 34.54 246.07 34.65C246.36 34.76 246.73 35.10 246.51 35.54C246.29 35.97 245.50 36.69 244.78 37.27C244.05 37.85 243.10 38.43 242.16 39.00C241.21 39.58 240.11 40.34 239.10 40.74C238.08 41.14 236.83 41.34 236.07 41.42C235.31 41.49 234.87 41.33 234.54 41.18C234.21 41.03 233.85 40.86 234.10 40.53Z" fill="none" stroke="#fff" stroke-width=".45" opacity=".9"/>
<path d="M250 50h.7M250.4 43.7h.7M258.9 39.1h.7M257.3 43.8h.7M253.9 47.3h.7M259.7 38h.7M259.8 38.1h.7M254.9 40h.7M237.7 48.9h.7M241.9 50.2h.7M246.1 51.3h.7M262.3 45.4h.7M256.4 37.5h.7M237.2 53.5h.7M258.5 43.7h.7M236.1 51h.7M263.8 38h.7M231.1 51.3h.7M266.1 38.2h.7M262.8 38.1h.7M238.5 49.9h.7M254.4 45.9h.7M249 44.5h.7M237.1 52.2h.7M249.8 46.2h.7M247 44.5h.7M237.2 52.2h.7M263.3 38h.7M258.5 43.2h.7M263.8 37.2h.7M262.9 40.3h.7M261.5 32.3h.7M265.4 36.2h.7M240.9 56.5h.7M239.2 51h.7M257.2 40.6h.7M238.8 53.3h.7M254.8 48.6h.7M247 52.1h.7M249.3 45.7h.7M261.7 35.5h.7M259.3 38.4h.7M243.3 45.7h.7M255.9 40.7h.7M249.9 45.9h.7M248.5 48.1h.7M245.3 48.7h.7M259 42.3h.7M248 44.5h.7M264.1 39.2h.7M253.4 42.7h.7M255.2 45.2h.7M249.8 45.1h.7M244.7 45h.7M254.4 41.6h.7M257.4 44.4h.7M241.5 47.8h.7M230.5 53.9h.7M232.7 51.7h.7M240.8 50.1h.7M250.7 47.4h.7M237.8 53.8h.7M255.9 43.3h.7M244.3 49.5h.7M239.1 48.6h.7M251.9 45.9h.7M248.3 48.6h.7M229.7 55.4h.7M257.5 42h.7M243.2 52.8h.7M255.3 42.8h.7M264.6 37.1h.7M244.3 48.9h.7M259.9 38.6h.7M258.1 41.5h.7M250 49h.7M244.1 46.9h.7M264.7 36.2h.7M254.4 42.8h.7M254.9 45.3h.7M267.1 41.3h.7M259.9 37.1h.7M263.6 38.9h.7M259.8 44.8h.7M245.9 48.6h.7M245.1 48.1h.7M263.6 38h.7M252.2 50.1h.7M267.5 33.4h.7M257.3 46.3h.7M263.1 36.9h.7M233.3 58.3h.7M246.6 46.3h.7M258.2 38.1h.7M240.7 50.9h.7M258.7 45.3h.7M255.7 40.1h.7M232.9 58.1h.7M233.9 53.5h.7M264.7 34.4h.7M259.7 44.4h.7M237.2 48.4h.7M232.4 53.4h.7M263.2 34.3h.7M246.3 49.2h.7M248.9 46.8h.7M261 39.3h.7M261.1 43.1h.7M260.2 38.1h.7M237.7 53.4h.7M251.7 42.9h.7M238 49.5h.7M244.6 46.3h.7M255.4 47.7h.7M241 54.9h.7M266.3 35.8h.7M257.7 39h.7M236.8 54.9h.7M241.1 49.1h.7M263.6 41.1h.7M238.5 54.6h.7M235.9 52.2h.7M261.1 40.2h.7M242.7 54.6h.7M243.4 50.1h.7M237.6 48.5h.7M261.1 38.8h.7M241 53h.7M256.5 42.8h.7M264.4 37.7h.7M266.5 35.7h.7M256.8 46.2h.7M265.3 36.4h.7M258.5 36h.7M252.7 44.1h.7M249.9 46.1h.7M259 40.4h.7M244.8 46.2h.7M265.3 38h.7M247.7 53.1h.7M255.7 42h.7M260.5 45.8h.7M253 48.7h.7M243.7 50.4h.7M250.8 43h.7M232.9 53.6h.7M243.2 51.8h.7M235.7 50.1h.7M247.4 49.1h.7M260.3 44h.7M256.8 42.4h.7M234.5 54h.7M263.1 42.4h.7M257.8 38.7h.7M246.9 47.4h.7M241.7 47.7h.7M240.4 51.3h.7M251.7 47.8h.7M261 40.1h.7M265.3 37.8h.7M239.7 52h.7M243.2 47.9h.7M247.4 47.1h.7M244.3 52.1h.7M236.9 53.8h.7M263.2 37.5h.7M264.6 39.7h.7M249.1 45.6h.7M233.6 53.2h.7M247.5 43h.7M234.9 52h.7M237 51.8h.7M248 47.6h.7M251.7 43.6h.7M255.8 44h.7M251.1 42.2h.7M263.3 40.3h.7M266.5 36.7h.7M249.5 44.7h.7M251.5 46.3h.7M239.3 49.9h.7M266.9 33.9h.7M261.9 39.9h.7M251 50.3h.7M264.4 38.5h.7M249.9 45.8h.7M257.4 48.4h.7M252.4 48.3h.7M246.2 51.4h.7M250.1 49.9h.7M245.2 52.8h.7M263.1 39.2h.7M240.6 49.5h.7M265.6 36.8h.7M246.1 50.7h.7M253.8 39.2h.7M249.5 46.7h.7M242.2 50.8h.7M257 46.5h.7M241 46h.7M248.4 47.6h.7M256.6 39h.7M236.7 54h.7M262.8 40.4h.7M252 47.1h.7M267.3 36.8h.7M245.1 51.8h.7M250.4 48.2h.7M263 37h.7M262.4 40.8h.7M254.7 45.8h.7M248.9 47.2h.7M246.5 50.8h.7M252.2 44.1h.7M250 46.4h.7M252.5 46.6h.7M255.7 40.6h.7M242.8 47.6h.7M230 51.5h.7M240.3 56.5h.7M242.5 48h.7M244.6 52h.7M259.8 36.4h.7M233.6 53.9h.7M239.3 50h.7M258 45.2h.7M249.4 50.8h.7M257.3 43.9h.7M247 46.6h.7M254.5 46.6h.7M238.5 53.5h.7M251.2 45.1h.7M251.2 45.4h.7M233.3 57.6h.7M264.1 34.1h.7M253.8 48.2h.7M262.4 34.8h.7M263.6 36.7h.7M264.7 33.1h.7M258.6 47.3h.7M257.8 41.5h.7M242 47.7h.7M240.4 48.2h.7M259.8 38.7h.7M258.1 38.1h.7M239.3 49.7h.7M254.7 44.1h.7M252.4 39.7h.7M258.2 47.1h.7M250.1 46.5h.7" stroke="#4cab36" stroke-width="0.7" opacity="0.6"/>
<path d="M230.80 54.00C231.55 53.05 234.15 51.47 236.60 50.20C239.05 48.93 242.52 48.00 245.50 46.40C248.48 44.80 251.72 42.53 254.50 40.60C257.28 38.67 260.07 35.97 262.20 34.80C264.33 33.63 266.25 33.48 267.30 33.60C268.35 33.72 269.15 34.12 268.50 35.50C267.85 36.88 265.73 39.88 263.40 41.90C261.07 43.92 257.48 45.90 254.50 47.60C251.52 49.30 248.48 50.72 245.50 52.10C242.52 53.48 238.83 55.27 236.60 55.90C234.37 56.53 233.07 56.22 232.10 55.90C231.13 55.58 230.05 54.95 230.80 54.00Z" fill="#4cab36" stroke="#4cab36" stroke-width="1.8"/>
<path d="M232.40 53.84C232.91 53.19 234.68 52.12 236.34 51.26C238.01 50.39 240.37 49.76 242.40 48.67C244.42 47.58 246.62 46.04 248.52 44.73C250.41 43.41 252.30 41.58 253.75 40.78C255.20 39.99 256.51 39.89 257.22 39.97C257.93 40.05 258.48 40.32 258.04 41.26C257.59 42.20 256.15 44.24 254.57 45.61C252.98 46.98 250.54 48.33 248.52 49.49C246.49 50.64 244.42 51.61 242.40 52.55C240.37 53.49 237.86 54.70 236.34 55.13C234.83 55.56 233.94 55.35 233.28 55.13C232.63 54.92 231.89 54.49 232.40 53.84Z" fill="none" stroke="#fff" stroke-width=".45" opacity=".9"/>
<path d="M233.25 53.76C233.63 53.27 234.96 52.46 236.21 51.82C237.46 51.17 239.23 50.70 240.75 49.88C242.27 49.06 243.92 47.91 245.34 46.92C246.76 45.94 248.18 44.56 249.26 43.96C250.35 43.37 251.33 43.29 251.87 43.35C252.40 43.41 252.81 43.61 252.48 44.32C252.15 45.03 251.07 46.56 249.88 47.58C248.69 48.61 246.86 49.62 245.34 50.49C243.82 51.36 242.27 52.08 240.75 52.79C239.23 53.49 237.35 54.40 236.21 54.72C235.07 55.05 234.41 54.89 233.91 54.72C233.42 54.56 232.87 54.24 233.25 53.76Z" fill="none" stroke="#fff" stroke-width=".45" opacity=".9"/>
<path d="M234.10 53.67C234.36 53.35 235.24 52.81 236.07 52.38C236.91 51.95 238.08 51.63 239.10 51.09C240.11 50.54 241.21 49.77 242.16 49.11C243.10 48.46 244.05 47.54 244.78 47.14C245.50 46.75 246.15 46.69 246.51 46.73C246.87 46.77 247.14 46.91 246.92 47.38C246.70 47.85 245.98 48.87 245.18 49.56C244.39 50.24 243.17 50.92 242.16 51.49C241.14 52.07 240.11 52.55 239.10 53.02C238.08 53.49 236.83 54.10 236.07 54.32C235.31 54.53 234.87 54.42 234.54 54.32C234.21 54.21 233.85 53.99 234.10 53.67Z" fill="none" stroke="#fff" stroke-width=".45" opacity=".9"/>
<path d="M247.7 94.1h.7M243.9 86.5h.7M255 79.2h.7M245.9 84.5h.7M240.7 94.3h.7M250.1 85.4h.7M239.1 97.7h.7M250.9 75.2h.7M260 77.2h.7M256.2 73.2h.7M240.7 91.4h.7M240.3 94.5h.7M262.2 70.5h.7M259.4 76.5h.7M242.8 78.4h.7M256 80.6h.7M257 85.4h.7M260.7 82.9h.7M262.2 70.9h.7M246.9 90.4h.7M242.1 80.1h.7M255.8 76h.7M253.5 88.4h.7M252.2 81.8h.7M253.9 94.6h.7M242.3 102h.7M258.5 81.1h.7M263.2 71.5h.7M257.8 82.6h.7M252.3 76.5h.7M253.5 79.4h.7M244.3 92.6h.7M264 79.4h.7M264.1 72.2h.7M254.3 83.7h.7M255.2 91.3h.7M242.4 89.2h.7M251.3 91.4h.7M240.8 91.1h.7M257.5 73.7h.7M261.5 73.4h.7M253.9 89.5h.7M255.5 87.2h.7M250 89.8h.7M248 97.2h.7M261.3 72.7h.7M254.5 71.7h.7M239.4 96.1h.7M262.8 73.7h.7M260.1 72.2h.7M251.9 93.3h.7M261.3 81.5h.7M257.3 74.7h.7M260.5 81h.7M253.4 90.4h.7M248.4 101.1h.7M260 78.7h.7M250.7 89.6h.7M243.3 90.5h.7M249.9 75.3h.7M246.7 82.7h.7M238.2 93.7h.7M250.5 94.6h.7M247 99.8h.7M238.9 98.4h.7M259.8 75.4h.7M261.7 74.3h.7M248.6 78.1h.7M241 90.2h.7M252.8 87.2h.7M247.7 94.7h.7M243.4 93.6h.7M250.3 85.9h.7M248.2 95.5h.7M262.2 79.6h.7M257.5 81.6h.7M249.1 81.2h.7M240.6 90.9h.7M248.5 85.9h.7M264.1 76.2h.7M250.1 79.8h.7M249.9 79.6h.7M256.5 81.1h.7M246.4 82h.7M248.3 98.2h.7M245.4 94.9h.7M263.6 80.8h.7M245.4 96.4h.7M261.5 77.6h.7M253.4 83.1h.7M256.2 79h.7M259.2 85.4h.7M242.6 95.8h.7M263.6 77.3h.7M249.9 91.1h.7M245.6 83.1h.7M243.8 86.5h.7M269.4 74.1h.7M252.1 97.7h.7M249.1 88.4h.7M241.7 98h.7M250.8 93.4h.7M258.8 78.3h.7M257.2 83.7h.7M259 74.3h.7M239.4 97.5h.7M257.2 76.5h.7M259.7 73.2h.7M257.2 74.5h.7M240.9 88h.7M249.5 91h.7M268.2 73.7h.7M248.7 98h.7M247.3 76.5h.7M261.8 73.1h.7M260.2 72.7h.7M255.3 92.1h.7M249.9 93.1h.7M259.3 86.3h.7M245.7 86.7h.7M268.2 76.2h.7M267.1 74.3h.7M242.3 92.9h.7M251.1 94.1h.7M249.1 96.7h.7M257.5 81h.7M262.7 80.3h.7M249.5 100.1h.7M251.4 80.3h.7M243.2 99.6h.7M253.8 87.2h.7M238.3 93.8h.7M264 73h.7M265.4 71.2h.7M261.3 82.6h.7M240.3 101.5h.7M255.4 76.9h.7M252.9 76.9h.7M241.2 96.1h.7M249.6 73.4h.7M246.7 98h.7M255.6 78.4h.7M257.8 91.7h.7M246.2 86.7h.7M248.7 89.1h.7M239.2 103h.7M264.2 76.3h.7M241.2 88.9h.7M251.6 95h.7M242.7 90.6h.7M256.8 71.1h.7M253.7 79h.7M267.1 73.4h.7M240.5 92.9h.7M244.5 97.6h.7M258.4 70.6h.7M250.7 80h.7M255.9 73h.7M254 76.6h.7M261.6 79.5h.7M254.1 88.8h.7M251.4 83.5h.7M239.5 94.8h.7M260.8 70.8h.7M259.6 81.2h.7M241.6 89.2h.7M254.7 82.3h.7M264.8 69.8h.7M257.6 90.7h.7M257.8 93h.7M248.3 83.3h.7M242.4 96.1h.7M239.5 94.6h.7M249 103.5h.7M250.1 89.8h.7M249.8 83.5h.7M238.9 99.8h.7M243.7 93.3h.7M244.9 79.2h.7M267.5 71.8h.7M252.3 78.6h.7M244.8 95.9h.7M249 92.4h.7M257.5 80.9h.7M265.1 79.3h.7M245 95.1h.7M251.8 99h.7M268.2 69.5h.7M265.7 65.1h.7M257.4 81.3h.7M239.7 90.9h.7M242.2 88.7h.7M250.2 76.3h.7M248.8 94.7h.7M246.5 81.6h.7M240.7 96.3h.7M251.5 95.6h.7M256.1 90h.7M255.8 82.6h.7M259.8 77.2h.7M251.3 77.8h.7M259 74.8h.7M246.9 95.6h.7M253.2 88.3h.7M241.1 98.5h.7M244.2 92.5h.7M252.3 87.6h.7M248.7 88.9h.7M253.3 88.9h.7M248.6 93.2h.7M238 94.4h.7M250.7 80.1h.7M260.5 83.6h.7M261.3 85.1h.7M257.6 85.3h.7M252.4 84.1h.7M255.5 87.1h.7M244.6 91.4h.7M243.7 97.1h.7M246.6 102.2h.7M259.1 74.4h.7M246.2 89.7h.7M248.9 82.3h.7M253.7 80.5h.7M255.7 77h.7M259.2 67.4h.7M252.5 77h.7M261.9 83.4h.7M247.1 87.1h.7M264.6 72.6h.7M243.1 93.6h.7M248.9 89.7h.7M255.4 82.6h.7M253.1 91h.7M264.7 80h.7M258.6 78.9h.7M253.6 92.7h.7M245 100.3h.7M239.8 98.2h.7M248.5 86.1h.7M240.8 101.4h.7M245.6 85.6h.7M248.8 97.4h.7M253.2 80.9h.7M254.2 72.4h.7M247.7 94.8h.7M241.9 90.5h.7M246.1 80.5h.7M242.6 94.6h.7M247.6 93.9h.7M241.6 97.9h.7M261.8 75.5h.7M251.4 83.3h.7M241.2 93.7h.7M251 88.2h.7M265.3 81.5h.7M256.7 78.9h.7M261.1 70.6h.7M252.3 95.7h.7M266.1 68.1h.7M263 85.1h.7M243.9 100.8h.7M250.3 96h.7M246.9 92.7h.7M240.6 96h.7M246 87.4h.7M255.8 80.1h.7M256.3 90.3h.7M242.1 102.8h.7M241.6 91.6h.7M258.9 76.3h.7M244.7 102.1h.7M266.7 73.6h.7M241.5 100.8h.7M255.7 87h.7M254.3 74.2h.7M246.1 91.9h.7M244.3 95.3h.7M242.7 103.3h.7M265.2 77.3h.7M252.2 90.1h.7M266.9 66.4h.7M241 100.9h.7M245.5 87.4h.7M257.5 83.3h.7M256.3 74.4h.7M245.6 96.9h.7M263.1 81.1h.7M247.7 85.4h.7M248.1 86.8h.7M239.4 102.6h.7M253.1 89.5h.7M254.8 78h.7M247.4 98.6h.7M255.8 75h.7M255.3 89.5h.7M259.4 73h.7M248.9 93h.7M248.4 82.6h.7M261.6 75.4h.7" stroke="#1f5fae" stroke-width="0.7" opacity="0.6"/>
<path d="M237.80 103.00C236.10 101.02 238.12 94.58 239.20 91.10C240.28 87.62 242.18 84.87 244.30 82.10C246.42 79.33 249.35 76.62 251.90 74.50C254.45 72.38 257.25 70.58 259.60 69.40C261.95 68.22 264.52 67.63 266.00 67.40C267.48 67.17 268.18 67.03 268.50 68.00C268.82 68.97 268.75 70.85 267.90 73.20C267.05 75.55 265.22 79.33 263.40 82.10C261.58 84.87 258.92 87.23 257.00 89.80C255.08 92.37 253.17 95.30 251.90 97.50C250.63 99.70 251.75 102.08 249.40 103.00C247.05 103.92 239.50 104.98 237.80 103.00Z" fill="#1f5fae" stroke="#1f5fae" stroke-width="1.8"/>
<path d="M240.36 99.80C239.20 98.45 240.58 94.08 241.31 91.71C242.05 89.34 243.34 87.47 244.78 85.59C246.22 83.71 248.21 81.86 249.95 80.42C251.68 78.98 253.59 77.76 255.18 76.95C256.78 76.15 258.53 75.75 259.54 75.59C260.54 75.43 261.02 75.34 261.24 76.00C261.45 76.66 261.41 77.94 260.83 79.54C260.25 81.13 259.00 83.71 257.77 85.59C256.53 87.47 254.72 89.08 253.42 90.82C252.11 92.57 250.81 94.56 249.95 96.06C249.09 97.56 249.85 99.18 248.25 99.80C246.65 100.42 241.52 101.15 240.36 99.80Z" fill="none" stroke="#fff" stroke-width=".45" opacity=".9"/>
<path d="M241.72 98.10C240.85 97.09 241.88 93.81 242.43 92.03C242.99 90.25 243.96 88.85 245.04 87.44C246.11 86.03 247.61 84.64 248.91 83.56C250.21 82.49 251.64 81.57 252.84 80.96C254.04 80.36 255.35 80.06 256.10 79.94C256.86 79.83 257.22 79.76 257.38 80.25C257.54 80.74 257.50 81.70 257.07 82.90C256.64 84.10 255.70 86.03 254.78 87.44C253.85 88.85 252.49 90.06 251.51 91.37C250.53 92.68 249.56 94.17 248.91 95.30C248.26 96.42 248.83 97.63 247.64 98.10C246.44 98.57 242.59 99.11 241.72 98.10Z" fill="none" stroke="#fff" stroke-width=".45" opacity=".9"/>
<path d="M243.08 96.40C242.50 95.73 243.19 93.54 243.56 92.35C243.92 91.17 244.57 90.23 245.29 89.29C246.01 88.35 247.01 87.43 247.87 86.71C248.74 85.99 249.69 85.38 250.49 84.98C251.29 84.57 252.16 84.38 252.67 84.30C253.17 84.22 253.41 84.17 253.52 84.50C253.63 84.83 253.60 85.47 253.31 86.27C253.03 87.07 252.40 88.35 251.78 89.29C251.17 90.23 250.26 91.04 249.61 91.91C248.96 92.78 248.30 93.78 247.87 94.53C247.44 95.28 247.82 96.09 247.02 96.40C246.22 96.71 243.66 97.07 243.08 96.40Z" fill="none" stroke="#fff" stroke-width=".45" opacity=".9"/>
<path d="M244.44 94.70C244.15 94.36 244.49 93.27 244.68 92.68C244.86 92.08 245.19 91.62 245.55 91.15C245.90 90.68 246.40 90.21 246.84 89.86C247.27 89.50 247.75 89.19 248.15 88.99C248.55 88.79 248.98 88.69 249.23 88.65C249.49 88.61 249.61 88.59 249.66 88.75C249.71 88.91 249.70 89.23 249.56 89.63C249.41 90.03 249.10 90.68 248.79 91.15C248.48 91.62 248.03 92.02 247.70 92.46C247.38 92.89 247.05 93.39 246.84 93.77C246.62 94.14 246.81 94.54 246.41 94.70C246.01 94.86 244.73 95.04 244.44 94.70Z" fill="none" stroke="#fff" stroke-width=".45" opacity=".9"/>
<path d="M199.9 94.3h.7M208.8 98.7h.7M205.6 99h.7M211.5 100.1h.7M201.4 90h.7M203.3 86.9h.7M206 98.3h.7M209.8 93.2h.7M200 98.7h.7M210.7 92.5h.7M213.4 90h.7M197.9 90.5h.7M200.1 107.1h.7M206.8 105.2h.7M210.9 97.9h.7M201.8 94.8h.7M207.2 87h.7M209.8 100h.7M200.1 92.6h.7M201.1 94.6h.7M212.5 99.8h.7M207.5 93.9h.7M213.7 97h.7M211.9 96.3h.7M212.5 86.8h.7M206.4 93.9h.7M203.8 94.4h.7M198.8 90.7h.7M208.6 88.4h.7M198 90.5h.7M205.3 93h.7M206.8 92.2h.7M210.6 96h.7M201.8 99.5h.7M210.1 101.1h.7M201.6 97.3h.7M214.9 102.8h.7M202.6 97.3h.7M201.6 89.7h.7M208.8 94.7h.7M210.8 85.6h.7M205.2 86.6h.7M204.8 86.3h.7M202.4 92.6h.7M200.2 96.2h.7M213.4 91.7h.7M214.3 92.5h.7M214.8 102.3h.7M212.1 97.8h.7M197.4 104.8h.7M213.9 99.4h.7M216.4 102.2h.7M205.4 103.9h.7M215.8 95.1h.7M212.6 102h.7M199.2 104.7h.7M205 94.2h.7M201.4 102.1h.7M214.6 96.7h.7M203.3 90.8h.7M198.1 99.3h.7M210 104.3h.7M202.9 89.4h.7M209.9 93.3h.7M208.4 95.3h.7M202.6 90.9h.7M210.8 97.9h.7M208.1 96.8h.7M205.6 105.9h.7M206.1 94.9h.7M202.8 97.3h.7M209.1 95.4h.7M208.1 88.4h.7M203.9 94.7h.7M218.3 96.4h.7M205.9 98.2h.7M204.6 97.7h.7M208 95.9h.7M202.9 99.5h.7M211.6 95.4h.7M205.2 90.6h.7M200.1 90.4h.7M212.1 84.4h.7M214 90.2h.7M207.1 87.9h.7M207.8 97.3h.7M201.3 98.7h.7M204.5 98.8h.7M201.7 91.8h.7M204 85.8h.7M211.3 101h.7M212.8 98.8h.7M212.4 98.2h.7M206.5 97.8h.7M196.5 105.5h.7M202.6 92.8h.7M211.8 85.6h.7M212.7 95.1h.7M213 103.6h.7M206.5 103.6h.7M199.5 87h.7M199.4 101.8h.7M205.1 91.9h.7M205.3 105.2h.7M201 99.8h.7M202.6 100.7h.7M204.4 85.9h.7M213.4 97.2h.7M210.6 100.9h.7M202.5 88.3h.7M202.3 97.3h.7M206.1 88.8h.7M209.9 98.4h.7M208.6 89.9h.7M202.2 104.5h.7M200.4 100.8h.7M204.1 90.1h.7M207.1 98.5h.7M212.3 97.7h.7M212.1 92.6h.7M204.5 95h.7M208.6 101.1h.7M209.3 89.6h.7M212.8 87.2h.7M209.4 85.9h.7M208.9 101.8h.7M213.1 95.3h.7M213.4 92.1h.7M201 96.2h.7M199.1 95.4h.7M201.5 102h.7M200.4 95.1h.7M204.3 89.4h.7M210.9 103.5h.7M210.1 94h.7M207.6 95.2h.7M211.5 91.4h.7M201.6 94.4h.7M205 92h.7M201 103.2h.7M203.7 103.5h.7M217.1 101.2h.7M215.6 98.2h.7M201.5 97.2h.7M201.1 94.3h.7M212.7 83.9h.7M204.1 97.4h.7M205.2 84.1h.7M200.9 97.7h.7M205 95.4h.7M203.4 85.3h.7M202.1 97h.7M211.8 88.7h.7M201.2 96.4h.7M212.4 97h.7M212.4 96.9h.7M205 93.2h.7M207.3 88.7h.7M202.9 97.4h.7M207 85.7h.7M213.9 99.4h.7M213.1 98.6h.7M213.8 100.7h.7M211.3 106h.7M212.4 99.7h.7M202.9 98.7h.7M201.8 101.9h.7M207.5 85.8h.7M212.5 95.7h.7M199.3 101.6h.7M211.3 97.2h.7M203.7 104.7h.7M201.7 87.2h.7M211.1 94.7h.7M204.5 90.2h.7M204.5 97.4h.7M209.2 100.4h.7M213.2 91.5h.7M203.3 98.9h.7M203 84.7h.7M201.5 100.8h.7M199.5 90.8h.7M202.1 85.6h.7M209.8 101.2h.7M200.7 89.6h.7M203.6 85h.7M211.2 91.3h.7M197.2 94.5h.7M199.3 89.5h.7M213.7 99.5h.7M213.8 96.6h.7M199.4 94.9h.7M205.5 102.5h.7M197.8 94.5h.7M213.2 91.1h.7M216.4 90.6h.7M200.6 100.1h.7M206.1 103.3h.7M208.1 87.3h.7M213 101.2h.7M204.4 93.5h.7M202.3 95.6h.7M213.7 92.9h.7M205.9 85h.7M206.4 91h.7M207.7 94.3h.7M201.7 102.9h.7M201 88.4h.7M203.5 92.6h.7M208.6 105.6h.7M213.2 97.9h.7M209.8 97.7h.7M205 93.4h.7M212.5 90.5h.7M205.2 98.9h.7M199.6 85.8h.7M206.3 93.3h.7M205.3 104.6h.7M212.5 99.3h.7M210.6 92.2h.7M207.7 100.1h.7M216.3 99.3h.7M208.9 102h.7M211.4 86.3h.7M204.6 89.4h.7M212.2 102h.7M204.7 95.9h.7M212.3 96.9h.7M207.9 102.7h.7M201.6 84.9h.7M200.8 103.7h.7M207.3 87.1h.7M215.4 101.5h.7M212.9 100.6h.7M200.8 87.1h.7M206.8 96.1h.7M209.3 99.1h.7M202.8 92.9h.7M211.1 91.8h.7M202 101.5h.7M208.4 96.5h.7M208.9 93.2h.7M209.9 85.9h.7M213.5 87h.7M203.4 100.7h.7M204.5 86.5h.7M213.7 99.6h.7M203 93.3h.7M198.5 92.1h.7M204.2 89.9h.7M218.7 95.9h.7M213.1 105.3h.7M204.9 89.8h.7M215.1 101.3h.7M199.8 95.1h.7M208.9 91.1h.7M216.6 100.6h.7M210.7 102.8h.7M212 95.2h.7M203.9 95.7h.7M205.4 89.1h.7M211.4 88.1h.7M206 87.6h.7M213.5 101h.7M200.9 92.3h.7M206.6 94.7h.7M203.5 91.6h.7M202 97.6h.7M201.4 90.7h.7M202.3 99.4h.7M207.2 92h.7M206.6 96h.7M205.7 98.8h.7M203 94.6h.7M197.3 88.9h.7M212.7 92.8h.7M215.6 97.3h.7M207.7 88h.7M201.9 105.2h.7M209.4 93.1h.7M214.8 99.8h.7M201.1 89.8h.7M212.6 93.8h.7M216.7 100.6h.7M205 104.7h.7M212.7 89.3h.7M207.1 102.2h.7M204.5 92.6h.7M197.9 97.6h.7M205 101h.7M204.2 102.6h.7M208.4 85.2h.7M216.1 101.4h.7M209.4 96.3h.7M203.4 92.8h.7M201.8 89.9h.7M217.5 96.9h.7M214 97.3h.7M200 99.7h.7M201.4 105.2h.7M206.4 93h.7M209.7 100.1h.7M214 99.5h.7M199.2 99.5h.7M208.8 96.5h.7M199.9 98.8h.7M205.5 93.9h.7M203 101.9h.7M208.7 95.4h.7M210.3 92.3h.7M204.2 89.6h.7M210 91h.7M206.7 88.7h.7M203.3 97.5h.7M207.5 97.3h.7M201.5 89.5h.7M208.2 104.6h.7M204 94h.7M202.3 93.4h.7M201.5 89.1h.7M209.2 98.3h.7M216.5 91.5h.7M206.8 103.3h.7M202.2 101.5h.7M198.5 90.7h.7M207.9 95.7h.7M213.8 92.2h.7M202 102h.7M199 88h.7M199.4 93.8h.7M198 92.9h.7M206.5 103h.7M203 97.8h.7M213.5 96.9h.7M203.6 99.5h.7M211.9 85.3h.7M212 103.8h.7M201.7 91.9h.7M209.7 105.2h.7M200.5 103.6h.7M208 106.4h.7M212.3 100.5h.7M202.5 86.3h.7M204 104.3h.7M212.1 100.5h.7M206.6 97.2h.7M203.8 100h.7M207.2 100.3h.7M205 99.2h.7M205.3 95.5h.7" stroke="#1f5fae" stroke-width="0.7" opacity="0.6"/>
<path d="M198.80 88.00C199.97 84.50 203.63 84.33 205.80 84.00C207.97 83.67 210.13 84.67 211.80 86.00C213.47 87.33 214.97 89.67 215.80 92.00C216.63 94.33 217.30 97.83 216.80 100.00C216.30 102.17 215.80 104.17 212.80 105.00C209.80 105.83 201.13 107.83 198.80 105.00C196.47 102.17 197.63 91.50 198.80 88.00Z" fill="#1f5fae" fill-opacity="0.55" stroke="#1f5fae" stroke-width=".9"/>
<path d="M208.8 91.2h.7M202.7 93.4h.7M204.2 93.1h.7M209.4 100.2h.7M208.3 97.6h.7M208.5 89.4h.7M209.6 101.2h.7M210.9 93.1h.7M202.2 100h.7M206.2 91.2h.7M210.3 102.6h.7M199.3 104.8h.7M207.4 87.7h.7M206.2 104h.7M210.6 101h.7M205 102.4h.7M204.5 99.4h.7M209.5 99.1h.7M204.1 98.8h.7M203 95.6h.7M210.2 90h.7M202 91.2h.7M206.8 100.2h.7M202.8 101.2h.7M209 92.8h.7M203.5 97.3h.7M209.5 99h.7M205.9 88.9h.7M203.1 103.9h.7M199.9 104.1h.7M201.1 104.4h.7M204.3 99.5h.7M204 96.7h.7M208.7 96.8h.7M200.8 97h.7M209.4 93.3h.7M201 100.7h.7M207.5 103.3h.7M200 99h.7M208.3 93.3h.7M210 92.1h.7M205.4 102h.7M207.4 105.7h.7M205.5 93h.7M202.1 97.8h.7M202.3 94.4h.7M198.5 101.6h.7M201.3 102.4h.7M208.3 92.6h.7M201.4 91.8h.7M207.9 95.2h.7M206.7 95.7h.7M207.7 103.1h.7M203.5 92.5h.7M207.1 105.9h.7M206 92.5h.7M204.2 93.2h.7M204.1 103.2h.7M205.6 94.7h.7M199.8 92.4h.7M201.9 97.4h.7M203.2 97.5h.7M203 93.5h.7M203.1 90.9h.7M205.9 95.1h.7M201.6 104.3h.7M206.3 97.5h.7M203.8 102.2h.7M202.7 98.7h.7M210.6 95.7h.7M203.9 99.5h.7M206.4 99.4h.7M211.5 91.9h.7M203.5 96.9h.7M200.7 97.6h.7M209.2 99.4h.7M211.3 95.6h.7M207.8 100.1h.7M202.2 99.6h.7M211.4 96.8h.7M201.6 95.1h.7M204.3 91h.7M202.6 95.9h.7M203.7 97.2h.7M208.7 91.2h.7M209.5 97.6h.7M210.7 104.9h.7M201.4 100.3h.7M200.5 92.4h.7M209 105h.7M209.9 102.3h.7M206.9 92.7h.7M205.7 95.8h.7M209.3 97.9h.7M198.2 98h.7M202.4 90.9h.7M202.5 98.9h.7M197.5 103.4h.7M200.1 93.5h.7M201.8 100.9h.7" stroke="#1f5fae" stroke-width="0.7" opacity="0.6"/>
<path d="M198.80 92.00C199.80 89.33 202.97 89.17 204.80 89.00C206.63 88.83 208.63 89.83 209.80 91.00C210.97 92.17 211.63 93.67 211.80 96.00C211.97 98.33 212.97 103.50 210.80 105.00C208.63 106.50 200.80 107.17 198.80 105.00C196.80 102.83 197.80 94.67 198.80 92.00Z" fill="#1f5fae" fill-opacity="0" stroke="#1f5fae" stroke-width=".9"/>
<path d="M208.9 102.7h.7M212.5 102h.7M198.6 99.9h.7M218 105.8h.7M198.3 98.3h.7M207.6 102.1h.7M200.7 82.8h.7M203.1 105.8h.7M204.9 102.2h.7M202.5 80.3h.7M207.9 101.6h.7M199.6 91.6h.7M205.4 101.3h.7M199.4 105.2h.7M201.6 86.6h.7M199.7 90.1h.7M196.7 95.9h.7M198.7 99.6h.7M204.4 100.2h.7M199.8 92.4h.7M200.7 93h.7M202.9 104.9h.7M201.9 100.3h.7M212.1 106.4h.7M198.7 103.8h.7M212.1 102.7h.7M199.6 94.9h.7M201.9 104.3h.7M201 85.6h.7M200.1 94.2h.7M212.7 102.7h.7M206.3 104.8h.7M203.8 104.9h.7M209.1 102.9h.7M202.5 104.2h.7M206.7 100h.7M207.4 100.1h.7M203 88.6h.7M203 86.8h.7M208.4 105.9h.7" stroke="#b81c20" stroke-width="0.7" opacity="0.6"/>
<path d="M198.80 82.00C199.33 78.17 201.42 79.00 202.00 82.00C202.58 85.00 199.83 96.75 202.30 100.00C204.77 103.25 214.22 100.67 216.80 101.50C219.38 102.33 220.80 104.42 217.80 105.00C214.80 105.58 201.97 108.83 198.80 105.00C195.63 101.17 198.27 85.83 198.80 82.00Z" fill="#b81c20" stroke="#b81c20" stroke-width="1.8"/>
<path d="M203.80 92.00C204.63 91.67 207.30 89.67 208.80 90.00C210.30 90.33 212.13 93.33 212.80 94.00" fill="none" stroke="#4cab36" stroke-width=".8"/>
<path d="M204.80 96.00C205.63 95.33 208.30 91.83 209.80 92.00C211.30 92.17 213.13 96.17 213.80 97.00" fill="none" stroke="#b81c20" stroke-width=".8"/>
</g>
<path d="M196.4 7.4h2.6M197.4 20.5h1.6M197.4 17.2h1.6M197.4 14.8h1.6M197.4 13.0h1.6M197.4 11.5h1.6M197.4 10.3h1.6M197.4 9.2h1.6M197.4 8.3h1.6M196.4 26.1h2.6M197.4 39.8h1.6M197.4 36.3h1.6M197.4 33.9h1.6M197.4 32.0h1.6M197.4 30.4h1.6M197.4 29.1h1.6M197.4 28.0h1.6M197.4 27.0h1.6M196.4 45.7h2.6M197.4 59.6h1.6M197.4 56.1h1.6M197.4 53.6h1.6M197.4 51.7h1.6M197.4 50.1h1.6M197.4 48.8h1.6M197.4 47.6h1.6M197.4 46.6h1.6M196.4 65.6h2.6M197.2 72.8h1.8M197.2 78.3h1.8M197.2 83.3h1.8M197.2 87.8h1.8M197.2 91.3h1.8M197.2 94.0h1.8M197.2 97.3h1.8M197.2 100.3h1.8M203.0 104.6v1.8M207.0 104.6v1.8M210.0 104.6v1.8M213.5 104.6v1.8M217.0 104.6v1.8M220.0 104.6v1.8M224.0 104.6v1.8M228.0 104.6v1.8M232.0 104.6v1.8M248.7 104.6v2.4M235.8 104.6v1.6M238.9 104.6v1.6M241.3 104.6v1.6M243.2 104.6v1.6M244.9 104.6v1.6M246.3 104.6v1.6M247.6 104.6v1.6M273.4 104.6v2.4M256.1 104.6v1.6M260.5 104.6v1.6M263.6 104.6v1.6M266.0 104.6v1.6M267.9 104.6v1.6M269.6 104.6v1.6M271.0 104.6v1.6M272.3 104.6v1.6M298.0 104.6v2.4M280.8 104.6v1.6M285.1 104.6v1.6M288.2 104.6v1.6M290.6 104.6v1.6M292.5 104.6v1.6M294.2 104.6v1.6M295.6 104.6v1.6M235.8 104.6v1.6M238.9 104.6v1.6M241.3 104.6v1.6M243.2 104.6v1.6M244.9 104.6v1.6M246.3 104.6v1.6M247.6 104.6v1.6" stroke="#000" stroke-width="1.1" fill="none"/>
<rect x="199.9" y="7.1" width="96.9" height="96.5" fill="none" stroke="#000" stroke-width="1.8"/>
<clipPath id="c6"><rect x="394.8" y="8.0" width="95.1" height="94.8"/></clipPath>
<g clip-path="url(#c6)">
<path d="M412.3 58.5h.6M427.1 60.6h.6M404.8 67.7h.6M413.9 47.6h.6M439.1 64.9h.6M411.1 50h.6M401.4 53.1h.6M398 73.2h.6M423.9 89.8h.6M406.6 87.2h.6M428.4 46.2h.6M403.7 54.1h.6M434 84.1h.6M397.6 56.3h.6M402.1 77.5h.6M414.1 94.9h.6M432.5 58.7h.6M407.1 70.6h.6M413.1 86.7h.6M403.5 90.7h.6M421.3 64.6h.6M438.3 62.2h.6M429.5 96h.6M435 97.1h.6M414.7 85.6h.6M432.3 59.4h.6M415.2 93.6h.6M430 59.8h.6M429.6 49.4h.6M412.5 74.5h.6M408.6 43.6h.6M420.6 76.8h.6M424.6 52.1h.6M398 45.5h.6M419.3 45.1h.6M404 70.4h.6M411.7 80.7h.6M400.8 71.4h.6M413.8 53.8h.6M435.7 94.3h.6M438.2 56.8h.6M395.9 81.3h.6M435.4 62.2h.6M408.2 87.3h.6M419.7 75.5h.6M426.8 71.7h.6M431.7 73.6h.6M428 43.6h.6M416.5 92.7h.6M416.7 81.1h.6M418.7 94.3h.6M398.2 58.5h.6M402.3 90.9h.6M438.7 53.5h.6M407.7 56.6h.6M422 82h.6M406.3 88.5h.6M415.1 70.3h.6M411.2 68.1h.6M396.3 45.2h.6M438.3 58.9h.6M410.6 96.8h.6M408.8 48.1h.6M433.9 65h.6M424 59.4h.6M400.5 55h.6M429.3 72.7h.6M424.6 83.1h.6M420.6 80.4h.6M403.5 53.1h.6M414.5 89.3h.6M404.9 85.8h.6M432 83.4h.6M399.7 50.1h.6M431.2 55.1h.6M395.8 75.1h.6M426.2 88.3h.6M426.9 75.8h.6M411 94h.6M406.8 67.9h.6M399.8 74.7h.6M425.7 71.4h.6M411.7 45.5h.6M423.4 45.3h.6M429 77h.6M433.6 79.3h.6M429.1 58.5h.6M437.1 75.2h.6M419.5 64.1h.6M432.8 77.8h.6" stroke="#4cab36" stroke-width="0.6" opacity="0.5"/>
<path d="M419.7 85.7h.6M430.2 99.6h.6M403.7 98.6h.6M407.6 79.1h.6M427.8 93.1h.6M410.2 74.4h.6M418.7 80.8h.6M412.9 74.1h.6M395.3 97.5h.6M410.5 96.8h.6M423 67.1h.6M402.8 76.8h.6M403.7 66.9h.6M429.3 81.2h.6M401.7 82.1h.6M425.4 93.9h.6M414.4 70.8h.6M396.5 84.8h.6M418.5 99.8h.6M405.9 65h.6M418.6 88.7h.6M405.4 73.2h.6M403.3 94.3h.6M420.7 73.2h.6M411 72.4h.6M395.8 93.8h.6M429.4 74.7h.6M410.3 97.4h.6M406.7 89h.6M436 74.3h.6M430.1 74.7h.6M438.9 68.3h.6M402.7 88.8h.6M410.3 79.9h.6M433.4 68.9h.6M404.9 85.8h.6M405.4 79.7h.6M404.6 86.5h.6M424.2 64.8h.6M430.3 97.7h.6M408.3 92.1h.6M408.7 96.3h.6M437.8 89.1h.6M413.3 75.8h.6M403.1 95.6h.6M436.7 89.2h.6M436.1 75.4h.6M398.5 80.7h.6M439.8 85h.6M432.5 87h.6M413.3 81h.6M405.7 77.4h.6M438 97.1h.6M422.4 89.1h.6M409.4 86.8h.6M435.4 65.8h.6M438.7 69.4h.6M396.9 63.8h.6M413 90.3h.6M405.7 97.9h.6M429.3 68.1h.6M429.9 70.9h.6M426.8 64.8h.6M430.8 75.9h.6M425.8 65.6h.6M417.3 77.3h.6M401.4 78.6h.6M438.5 64.3h.6M438.1 75.6h.6M431 93.1h.6M421 85.8h.6M438.4 79.4h.6M431.2 80.9h.6M409.4 99.9h.6M401.1 98.2h.6M428.3 69.5h.6M434.8 64.5h.6M427.2 98.6h.6M429.1 97h.6M426.2 90h.6M435.6 97.4h.6M411.4 69.4h.6M411.9 66.9h.6M435.5 78.9h.6M438.8 67h.6M415.4 85.3h.6M411.5 89.3h.6M406.7 64.1h.6M434.8 82.9h.6M409.5 92.1h.6" stroke="#b81c20" stroke-width="0.6" opacity="0.5"/>
<path d="M413.9 82.1h.6M429.5 98.7h.6M433.2 86.8h.6M434.9 101h.6M424.8 78.6h.6M431.3 77h.6M419.6 92.8h.6M427.8 78.3h.6M409.9 102.2h.6M443.5 92.1h.6M432.2 87.3h.6M448.5 102.7h.6M447.7 92.4h.6M436.1 100.8h.6M419 87.8h.6M432.5 82.7h.6M433.4 90.5h.6M446.7 86.9h.6M426.1 89.5h.6M409.9 73.9h.6M410.9 99.4h.6M444.5 95.7h.6M420.2 91.4h.6M415.8 89.2h.6M430.8 93.3h.6M414.7 100.8h.6M433.4 103h.6M413.5 94.8h.6M442.5 102.8h.6M419.3 82.8h.6M445.5 94h.6M414.3 91.2h.6M421.7 97h.6M414 94.7h.6M425.8 77.8h.6M419.9 97h.6M447.7 102h.6M411.4 99.5h.6M434.9 84.7h.6M411.4 94.5h.6M431.2 79.5h.6M431.2 75.4h.6M447.5 98.4h.6M439.1 102.8h.6M416.9 87.5h.6M448 100.1h.6M435.4 76.3h.6M429.6 89.6h.6M431.3 81.6h.6M418.7 82.1h.6M419.7 101.9h.6M416.5 79.2h.6M449.1 76.9h.6M411.1 84.8h.6M432.1 92.7h.6M444.5 100.5h.6M410.4 97h.6M418.6 91.3h.6M442.8 76.6h.6M431.5 100.9h.6M426.2 92.2h.6M440.5 83.9h.6M414.1 93.8h.6M410.7 100.8h.6M429.1 89.6h.6M415.5 89.1h.6M427.4 92.6h.6M413.5 81.6h.6M431.5 96.2h.6M436.3 73.8h.6M447.4 84.9h.6M435.3 102.5h.6M443.3 83.8h.6M420 88.2h.6M429.8 77h.6M434.2 98.3h.6M416.9 91.5h.6M431.3 79.4h.6M444.1 77.1h.6M441 75.2h.6M445.4 81.2h.6M437.7 92.9h.6M436.8 96.1h.6M420.6 86.2h.6M433.5 94.4h.6M426.2 83.6h.6M434.8 75.8h.6M431.4 85h.6M437.2 82.8h.6M412.1 93.9h.6" stroke="#1f5fae" stroke-width="0.6" opacity="0.5"/>
<path d="M407.6 67.9h.6M396.5 91.6h.6M414.9 69.8h.6M397.4 81.1h.6M412.2 67.2h.6M416.5 79.7h.6M418 68.9h.6M395 82.8h.6M394.9 79.7h.6M410.4 89.4h.6M416 70h.6M400.6 88.2h.6M404 82.1h.6M408.8 74.2h.6M409.5 82.7h.6M409.2 75.1h.6M409.2 88.9h.6M433.8 86.6h.6M425.2 76.3h.6M423.9 84.2h.6M434.3 72.5h.6M394.9 79.8h.6M423.1 74.6h.6M433.7 71.3h.6M420.5 89h.6M434.2 76.4h.6M424 69.9h.6M414.8 69.7h.6M425.9 80.4h.6M397.1 92.3h.6M414.5 89.1h.6M431.5 81.9h.6M412.3 84.4h.6M414.7 70.9h.6M394.9 86.6h.6M431.5 85.3h.6M416.1 88.6h.6M408.1 73.6h.6M426.2 89.9h.6M417.1 80.3h.6M419.4 76.5h.6M411.8 67.9h.6M418.3 87.7h.6M408.9 85h.6M424.1 84.6h.6M401.8 78h.6M418.9 89.8h.6M395.6 68.8h.6M402.5 87.4h.6M401.1 80.5h.6M406.9 84.7h.6M411.9 73.4h.6M416.1 90.1h.6M429.3 80.4h.6M423.4 90.9h.6M423.2 82.7h.6M425.6 69.1h.6M417.6 73.1h.6M414.8 68.3h.6M406.2 80h.6M427.4 92.4h.6M433.8 82.8h.6M427.2 76.5h.6M399.6 74.3h.6M421.9 81.2h.6M399.3 71.9h.6M422.3 91.4h.6M412.6 80h.6M430.6 86h.6M421.7 80.6h.6M427.5 74.8h.6M396.9 87.9h.6M422 68.7h.6M432.4 78.5h.6M413.1 68.1h.6M400.7 87.8h.6M423.1 81.4h.6M416 75.6h.6M426.3 92.4h.6M398.3 73.2h.6M425.7 84.6h.6M426.1 69.7h.6M411.2 78.7h.6M395.7 81.3h.6M401.4 79.5h.6M425.5 68.5h.6M432.3 86.2h.6M409.3 68.6h.6M422.3 77.6h.6M434.6 78.7h.6M419.3 75.1h.6M400.7 77.1h.6M403.6 79.7h.6M404.8 85.6h.6M429.1 84.3h.6M406.2 67.4h.6M424.8 76.8h.6M433.8 69.3h.6M419.4 89.2h.6M407.2 76.6h.6M405.2 66.4h.6M433.3 76.8h.6M427.9 66.1h.6M430.8 79.2h.6M428 74.2h.6M404.1 78.4h.6M411.2 75h.6M401.9 66.8h.6M395.6 69.9h.6M403 88.5h.6M421.4 81.1h.6M397.7 74.5h.6M432.8 90.2h.6M430.7 75.7h.6M420.8 72.8h.6M420.5 80.4h.6M418.3 67.4h.6M404.1 73.6h.6M415.5 74.4h.6M409.8 79.4h.6M417.3 75.7h.6M408.6 81.5h.6M419.8 86h.6M420 69.3h.6M409 83.3h.6M423.3 90.5h.6M424 82.2h.6M419.2 73.3h.6M417.8 75.9h.6M408.1 72h.6M433.1 92.1h.6M407 79.9h.6M397.5 88.4h.6M405.5 89h.6M404.2 79.9h.6M422.4 82.1h.6M431.1 85.8h.6M414 76.5h.6M410.7 78.3h.6M427.8 66.8h.6M406.9 84.9h.6M399.2 87.6h.6M408.9 89.9h.6M404.3 86.8h.6M429.1 74.8h.6M417.4 86.9h.6M432.5 81.5h.6M430.5 90h.6M433.6 71.5h.6M413.1 82.6h.6M419.2 68.8h.6M417.8 90.8h.6M416.4 70.9h.6M407.1 90.5h.6M411.6 68.2h.6M406.2 81.5h.6M401.4 79.3h.6M414.1 83.9h.6M405.9 71.1h.6M413.4 70.9h.6M417.2 76.6h.6M428.8 71h.6M416 73.5h.6M400.3 69.7h.6M417.2 80h.6M419.5 84.4h.6M397.8 92.2h.6M432.3 73h.6M401.6 87.4h.6M398.2 83.3h.6M407.2 92h.6M400.2 79.3h.6M399.8 69.5h.6M423.5 87.3h.6M401 92.8h.6M400.8 74h.6M404.7 72.9h.6M418.7 66.3h.6M427 88h.6M433 83.5h.6M400.1 73.8h.6M400 91.2h.6M419 85.3h.6M425.5 86.3h.6M433.5 70.9h.6M409.4 78.8h.6M419.2 79.5h.6M404.8 74.5h.6M421.8 68.1h.6M427.9 68.4h.6M411.8 89.6h.6M402.2 80h.6M403.1 69h.6M419.3 90.3h.6M411.2 90.8h.6M407.8 84.3h.6M429.6 70.8h.6M424 73.6h.6M410.7 69.9h.6M430.7 73.8h.6M410.8 88.8h.6M411.1 81.6h.6M418.3 87.3h.6M412.7 89.9h.6M403.9 92.8h.6M395.2 88h.6M415.5 89.7h.6M401.2 68.4h.6M425.6 77.2h.6M405.9 88.8h.6M418.8 71.6h.6M417.9 82.2h.6M396.7 80.1h.6M418.7 71h.6M430.7 76.1h.6M417.2 74.6h.6M412.1 92.5h.6M410.1 78.6h.6M405.1 77h.6M406.2 91.9h.6M432.2 69.9h.6M425.6 90.1h.6M421.6 91.4h.6M405.7 90.7h.6M426.1 84.4h.6M413.3 85.6h.6M432.6 70.8h.6M395.9 83.2h.6M397.4 90.3h.6M428.9 92.9h.6M400.1 77.6h.6M397.3 85h.6M399.4 69h.6M403 70.4h.6M429.6 90.9h.6M422.8 84.9h.6M412.1 71.5h.6M402.5 68.2h.6M398.4 73.6h.6M416.9 67.9h.6M417.3 79.5h.6M407 68.1h.6M410.9 89h.6M424.4 85.2h.6M406.9 70.6h.6M425.6 68.3h.6M413.3 75.7h.6M402.5 67.4h.6M406.9 81.5h.6M414.8 88h.6" stroke="#b81c20" stroke-width="0.6" opacity="0.5"/>
<path d="M414 92.1h.6M401.6 75.6h.6M405.4 71.6h.6M403.2 80.5h.6M406.5 75.3h.6M418.1 86.2h.6M422.5 81.6h.6M412.3 82.9h.6M422.5 76.2h.6M420.4 80.7h.6M417.9 87.6h.6M403.5 82.8h.6M408.4 72.1h.6M406.3 91.9h.6M404.9 71.3h.6M415.4 79.8h.6M413.1 71.2h.6M410.5 79.2h.6M412 79.9h.6M411.4 92.7h.6M398.2 69.3h.6M405.3 71h.6M395.8 86.7h.6M419.9 68.1h.6M400.4 73.3h.6M406.2 92.8h.6M397.2 77.7h.6M410.6 73h.6M404.9 85.6h.6M415.3 87.9h.6M415.8 76.4h.6M398.9 68.4h.6M414.8 87.9h.6M415.9 83.1h.6M407.1 69.2h.6M408.3 70.8h.6M403.6 87.1h.6M412.4 90.3h.6M420.6 86h.6M422.9 71.8h.6M417 83.8h.6M411.3 71h.6M409.8 90.6h.6M416.2 91.3h.6M418.2 69.7h.6M406.8 89.1h.6M416.4 80.3h.6M408.4 77.8h.6M405.8 76.9h.6M408.9 82.8h.6M399.4 72.2h.6M413.7 82.3h.6M409.5 81h.6M405.4 92.9h.6M403.7 81.3h.6M403.8 83h.6M404 78.6h.6M396.3 76.5h.6M408.4 83.4h.6M418 69.3h.6M404.5 74.1h.6M408.6 90.7h.6M422.7 86.1h.6M422.8 80.5h.6M413.3 71.4h.6M416.5 74.6h.6M411.4 73.8h.6M410.2 77.9h.6M421.2 81.1h.6M417.8 74.4h.6M409.9 81.2h.6M404.1 78.3h.6M395.4 71.8h.6M404.7 85h.6M412.2 85.8h.6M397.5 73.4h.6M422.6 71.4h.6M400 81.9h.6M408.6 89.8h.6M420.5 82.6h.6M408.3 79.1h.6M424.4 70.8h.6M409.3 87.1h.6M414.9 70.4h.6M419.2 91.2h.6M417.2 72.3h.6M421.7 71.6h.6M395.3 85.5h.6M415.5 87.5h.6M410.7 69.8h.6M395.9 84.2h.6M417.6 76.7h.6M417.7 77.5h.6M408.5 85.2h.6M415.5 84.2h.6M399 85.2h.6M418.2 86.8h.6M413.7 82.8h.6M402.1 92.9h.6M424 74.5h.6M414.5 86.8h.6M409 75.2h.6M405.4 71.9h.6M418.9 81h.6M424.8 73.3h.6M424.3 84.2h.6M411.3 70.7h.6M396.8 80.4h.6M398.5 83.8h.6M401.9 91h.6M414.2 69.2h.6M420.6 85h.6M401.3 77.4h.6M415.1 90.3h.6M406.8 88.2h.6M423 91.8h.6M413.4 88.5h.6M397 85.8h.6M420.4 76.7h.6M420.3 76.8h.6M419.8 76.3h.6M411.4 83.6h.6M398.4 70.1h.6M405.3 78.8h.6M414 92h.6" stroke="#4cab36" stroke-width="0.6" opacity="0.5"/>
<path d="M437.8 76.8h.6M429.6 76.5h.6M407.1 76h.6M436.1 94.3h.6M423 90.3h.6M426.7 76.1h.6M421.5 100.3h.6M405.9 94.3h.6M407.3 89h.6M411 75.2h.6M407 85.8h.6M438.8 77.4h.6M420.2 82.2h.6M417.6 79.6h.6M418.7 102.4h.6M409.7 97.9h.6M432.6 86.8h.6M429 89.5h.6M439.5 74.6h.6M431.3 97.6h.6M427.7 102.1h.6M406.7 91.4h.6M430.9 75.2h.6M423.5 97.5h.6M428.3 84.4h.6M433.4 100.4h.6M412.8 80.5h.6M433.6 95.7h.6M419.8 102.7h.6M439 90.8h.6M418.1 75.7h.6M405.3 84.8h.6M419.9 75.6h.6M412.6 99h.6M430.9 83.8h.6M408.5 101h.6M436.5 95.9h.6M428.7 93.5h.6M414.3 89.7h.6M404.9 82.6h.6M411.3 76.3h.6M430.2 86.3h.6M415.9 96.5h.6M427.2 93.2h.6M436.4 78.6h.6M420.5 75.1h.6M430.5 95.5h.6M405.9 83.3h.6M407.3 97.5h.6M426 80.4h.6M429.3 101h.6M435.4 84.6h.6M405.6 84.1h.6M414 94.2h.6M416.4 98.4h.6M414.6 99.8h.6M437.3 89.3h.6M406 96.7h.6M434.8 77h.6M430.3 75.8h.6M415.9 81.7h.6M410.3 92.3h.6M439.3 88.1h.6M437.8 81h.6M409.3 81.5h.6M433.5 82.8h.6M417 99.1h.6M426.1 84.9h.6M435.3 77.3h.6M411.8 91.5h.6M422.1 93.5h.6M433.3 93.5h.6M410.9 94.7h.6M413 75.9h.6M415.2 84.5h.6M422.5 76.5h.6M427 84.4h.6M439.4 87.4h.6M433.9 97.2h.6M426 92.9h.6M407.8 100.3h.6M438.7 100.6h.6M407.6 79.4h.6M415.8 78.2h.6M413.8 75.9h.6M425.3 99.2h.6M416.5 98.1h.6M435.1 90.2h.6M435 80.6h.6M426.2 92.3h.6M404.9 102.6h.6M413.9 88.5h.6M432.5 87.4h.6M409.2 102.7h.6M435.2 87.8h.6M416.1 73.2h.6M415.8 102.4h.6M431.3 77.4h.6M427.5 75.6h.6M422 101.6h.6M405.7 88h.6M438.7 75.9h.6M420.5 97h.6M434.3 89.1h.6M425 89.2h.6M428.4 102.4h.6M427.9 79.7h.6M412.9 87.7h.6M428.2 96.8h.6M414.4 78.7h.6M407.9 95.8h.6M405.9 73.3h.6M420.2 97.2h.6M439.1 81h.6M417.1 76.3h.6M409.4 78.9h.6M432.6 94.3h.6M429.3 96.2h.6M411.8 102.1h.6M423.4 81h.6M433 80.4h.6M405.4 95.8h.6M409.3 102.7h.6M434.2 83.1h.6M438.6 90.7h.6M423.8 81.5h.6M436.3 91.4h.6M414.9 82.4h.6M415.3 82.9h.6M437.6 90.3h.6M426.7 95.3h.6M407 91.1h.6M432.2 75.4h.6M437.4 87.7h.6M405.4 102.2h.6M419.1 97.8h.6M439.1 74h.6M414.4 87.7h.6M415.3 94.3h.6M417.5 87.3h.6M419.2 96.3h.6M423.8 84.6h.6M435.3 86.2h.6M439.5 76.9h.6M408.1 93.9h.6M435.9 74.5h.6M416.8 94.9h.6M430 89.6h.6M428.8 99.1h.6M425.1 84.4h.6" stroke="#1f5fae" stroke-width="0.6" opacity="0.5"/>
<path d="M407 52h.7M418.5 47.8h.7M421.5 47h.7M412 46h.7M417.1 46.9h.7M412.7 44.8h.7M416.7 46.7h.7M411.7 49.5h.7M415.4 43.6h.7M416.9 47.8h.7M409.1 42.4h.7M411.1 51h.7M419.1 44.6h.7M409.4 46.8h.7M417 42.7h.7M409.2 42h.7M419.5 48h.7M418.4 47.3h.7M402.7 47h.7M410.3 47.4h.7M412.9 45.6h.7M409.8 43.4h.7M414.5 49.3h.7M419.1 46.4h.7M414.1 49.3h.7M420 45.9h.7M418.8 47h.7M409.5 47h.7M420.6 46.2h.7M416.7 46.3h.7M407.5 49.2h.7M414.1 48.4h.7M417.4 50.4h.7M413.5 44.6h.7M420.1 41.9h.7M414.6 46.1h.7M418.7 46.3h.7M410.8 41.7h.7M405.9 53.2h.7M401.9 52.2h.7M416 46h.7M404.1 44.9h.7M404.6 47.3h.7M412.7 43.2h.7M411.8 44.6h.7M414.5 50.2h.7M419.3 52.4h.7M412.4 48.2h.7M407.9 47.8h.7M410.8 40.9h.7M419 44.7h.7M419 47h.7M413.2 52.8h.7M402.9 47h.7M416.3 43h.7M418.1 45h.7M420.2 45.7h.7M414.8 45.8h.7M414.4 48.7h.7M419.9 48.1h.7M417 44.8h.7M408 45.5h.7M418.6 44.4h.7M412.1 49.4h.7M404.8 46.3h.7M409.5 49.2h.7M420.7 47.4h.7M412.3 46h.7M413.6 42.7h.7M410.8 47.6h.7M406.9 46.3h.7M406.2 44.9h.7" stroke="#4cab36" stroke-width="0.7" opacity="0.6"/>
<path d="M435.6 45.2h.7M428.8 43.7h.7M432.8 42.4h.7M456.5 27.7h.7M450.6 29.9h.7M442.2 37.6h.7M457 26.5h.7M424.6 45h.7M450.4 32.2h.7M446.8 40h.7M450.4 32.3h.7M429.2 46.3h.7M451.1 29.2h.7M425.4 51.4h.7M434.3 42.2h.7M443.9 35.4h.7M430.1 44.6h.7M424.8 43.8h.7M449.5 37.8h.7M432.6 41.9h.7M441.6 37.5h.7M449.4 32.6h.7M429.6 45h.7M429 45.2h.7M454.2 28.9h.7M436.8 39.2h.7M446.8 35.5h.7M435.8 40h.7M450.2 28.9h.7M433.4 40.9h.7M448.6 34.2h.7M439.2 41.3h.7M455.3 25.8h.7M435.7 41.6h.7M439.6 42.8h.7M451.8 36.2h.7M445.8 36.6h.7M442.3 41.5h.7M448.1 38.5h.7M447.2 36.7h.7M433 43.7h.7M444.7 36.9h.7M430.3 40.6h.7M432.8 42.5h.7M457.6 28.3h.7M441.1 40.6h.7M441 38.7h.7M440.6 37.3h.7M432.6 40.1h.7M452.1 30h.7M433.9 38.8h.7M427.6 45.3h.7M456.8 31.5h.7M447.4 34.3h.7M426.1 46.4h.7M453.6 26.2h.7M452.5 28.5h.7M457.9 26.8h.7M448.2 34.1h.7M457 30.5h.7M429.8 40.7h.7M448.3 34.3h.7M435.2 37.4h.7M435.7 41.5h.7M455 32h.7M432.2 39h.7M448.9 31.6h.7M448.5 34.8h.7M423.4 49.8h.7M453.3 29h.7M429.6 47.2h.7M454.8 30.2h.7M443.5 36.9h.7M457.7 24.6h.7M433.5 43h.7M453.9 30.8h.7M457 32.9h.7M447 32.6h.7M430.3 44.3h.7M458.2 27.7h.7M447.2 39.6h.7M443.2 39.9h.7M433.2 43.7h.7M426.8 42.1h.7M436.9 43.5h.7M445.4 37.2h.7M421.7 43.5h.7M423.6 45.9h.7M439.3 38.6h.7M424.8 50.1h.7M441.5 39.1h.7M439.5 39h.7M424.3 42.1h.7M451.6 30.3h.7M453.2 30.6h.7M442.9 39.9h.7M441.4 40.3h.7M440.5 37.9h.7M424.9 46h.7M449.3 34.8h.7M454 29.4h.7M453.8 26.7h.7M431.9 42.2h.7M433.7 42.3h.7M427.5 45.3h.7M444 33.6h.7M433.7 42.1h.7M445 32.4h.7M446 39h.7M442.6 39.3h.7M441.5 41.6h.7M432.5 43.4h.7M446.8 37.6h.7M448.6 35.4h.7M432 43.9h.7M430.3 41.2h.7M440 40.9h.7M455.4 27.8h.7M435.6 40h.7M451.6 34.4h.7M435 43.2h.7M434.8 44.1h.7M437.5 40.3h.7M444.5 39.8h.7M455.7 28h.7M439.5 38.8h.7M452.6 30.1h.7M445.7 40.1h.7M425.6 48.8h.7M435.2 41.8h.7M448.1 33.5h.7M433.2 42.3h.7M456 28.6h.7M431.7 40.3h.7M450.6 32.8h.7M447.1 33.6h.7M445.6 33.8h.7M454.1 29.7h.7M446.1 35.2h.7M445.2 37.2h.7M432.5 41.3h.7M452.5 26.3h.7M430.8 45.1h.7M433.5 41.7h.7M429.4 44.3h.7M455.8 30h.7M441.5 38.6h.7M433.7 44.5h.7M427.6 44.6h.7M445.5 31.6h.7M426.5 47.1h.7M436.8 40.3h.7M454.1 30h.7M438.5 39.1h.7M423 45.6h.7M438.6 42.1h.7M439.2 39.1h.7M451 30.3h.7M453.6 28.8h.7M430.5 46.4h.7M429.3 42.8h.7M456.3 29.3h.7M443 39.9h.7M435.9 39.9h.7M456.1 28.6h.7M430.8 42.9h.7M452.8 27.3h.7M444.4 37.3h.7M442 39.4h.7M427.8 44.3h.7M453.9 29.6h.7M453.6 32.5h.7M429.7 40.9h.7M430.2 46.1h.7M433.6 40.9h.7M449.6 31.6h.7M437.6 34.9h.7M451 35.7h.7M452.3 34h.7M446.8 34.3h.7M442.7 35.8h.7M439.4 40.7h.7M435 46.1h.7M430.1 41.2h.7M436.6 38.5h.7M449 29.1h.7M448.5 30.5h.7M452.5 25.5h.7M434.4 42.3h.7M458.6 27.5h.7M447.5 39.3h.7M440.3 42.5h.7M427.8 43.4h.7M436.2 39.3h.7M427.9 43.3h.7M426.5 41.9h.7M439.8 39.9h.7M423.5 47h.7M448.6 30.5h.7M454.9 26.4h.7M434.9 43h.7M435.1 39.4h.7M451.2 29.9h.7M424.4 45.6h.7M429.7 42.9h.7M446.8 35.4h.7M427.6 47h.7M422.3 41.6h.7M437.8 39.1h.7M431.7 40.8h.7M427.3 45.4h.7M442.7 37.6h.7M427.5 45.1h.7M451.5 30.5h.7M449.8 30.1h.7M423.8 47.6h.7M430.1 44.6h.7M453.9 29.5h.7M457.2 30.9h.7M443.7 32.6h.7" stroke="#4cab36" stroke-width="0.7" opacity="0.6"/>
<path d="M421.00 45.70C421.43 44.85 424.35 43.57 426.80 42.50C429.25 41.43 432.93 40.47 435.70 39.30C438.47 38.13 441.05 37.10 443.40 35.50C445.75 33.90 447.88 31.20 449.80 29.70C451.72 28.20 453.52 27.23 454.90 26.50C456.28 25.77 457.68 24.97 458.10 25.30C458.52 25.63 458.37 27.12 457.40 28.50C456.43 29.88 454.22 31.90 452.30 33.60C450.38 35.30 448.23 37.22 445.90 38.70C443.57 40.18 440.85 41.22 438.30 42.50C435.75 43.78 432.95 45.55 430.60 46.40C428.25 47.25 425.80 47.72 424.20 47.60C422.60 47.48 420.57 46.55 421.00 45.70Z" fill="#4cab36" stroke="#4cab36" stroke-width="1.8"/>
<path d="M422.22 45.64C422.51 45.06 424.49 44.19 426.16 43.46C427.83 42.73 430.33 42.08 432.21 41.28C434.09 40.49 435.85 39.79 437.45 38.70C439.05 37.61 440.50 35.78 441.80 34.76C443.10 33.74 444.33 33.08 445.27 32.58C446.21 32.08 447.16 31.54 447.44 31.76C447.73 31.99 447.63 33.00 446.97 33.94C446.31 34.88 444.80 36.25 443.50 37.41C442.20 38.56 440.73 39.87 439.15 40.88C437.56 41.88 435.71 42.59 433.98 43.46C432.25 44.33 430.34 45.53 428.74 46.11C427.15 46.69 425.48 47.01 424.39 46.93C423.30 46.85 421.92 46.21 422.22 45.64Z" fill="none" stroke="#fff" stroke-width=".45" opacity=".9"/>
<path d="M422.86 45.60C423.08 45.17 424.57 44.51 425.82 43.97C427.07 43.43 428.95 42.93 430.36 42.34C431.77 41.74 433.09 41.22 434.29 40.40C435.48 39.58 436.57 38.21 437.55 37.44C438.53 36.68 439.45 36.18 440.15 35.81C440.86 35.44 441.57 35.03 441.78 35.20C442.00 35.37 441.92 36.12 441.43 36.83C440.93 37.54 439.80 38.56 438.82 39.43C437.85 40.30 436.75 41.28 435.56 42.03C434.37 42.79 432.99 43.32 431.69 43.97C430.38 44.62 428.96 45.53 427.76 45.96C426.56 46.39 425.31 46.63 424.49 46.57C423.68 46.51 422.64 46.04 422.86 45.60Z" fill="none" stroke="#fff" stroke-width=".45" opacity=".9"/>
<path d="M423.51 45.57C423.66 45.28 424.65 44.84 425.48 44.48C426.31 44.12 427.57 43.79 428.51 43.39C429.45 43.00 430.33 42.64 431.12 42.10C431.92 41.56 432.65 40.64 433.30 40.13C433.95 39.62 434.56 39.29 435.03 39.04C435.50 38.79 435.98 38.52 436.12 38.63C436.26 38.75 436.21 39.25 435.88 39.72C435.56 40.19 434.80 40.88 434.15 41.45C433.50 42.03 432.77 42.68 431.97 43.19C431.18 43.69 430.26 44.04 429.39 44.48C428.52 44.92 427.57 45.52 426.77 45.81C425.97 46.09 425.14 46.25 424.60 46.21C424.05 46.17 423.36 45.86 423.51 45.57Z" fill="none" stroke="#fff" stroke-width=".45" opacity=".9"/>
<path d="M446.4 60.1h.7M451.9 54.9h.7M453.4 50.5h.7M456.8 54.1h.7M430.2 69.8h.7M435.6 65.7h.7M446.4 55.1h.7M459.4 49.5h.7M442.9 57h.7M436.2 71.3h.7M448.1 55.6h.7M443.3 64.2h.7M450.6 57.8h.7M441.6 61.9h.7M436.7 68.7h.7M450.5 60.7h.7M439.7 66.8h.7M445.1 62.6h.7M432.1 74.6h.7M435.4 71.4h.7M433.1 67h.7M445.1 64.5h.7M447.7 59h.7M438.5 69.3h.7M442.8 65.8h.7M430.5 72.3h.7M451.2 56.7h.7M431.6 69.4h.7M437.8 69.3h.7M452.7 54.7h.7M457.9 49.7h.7M445 64.9h.7M431.7 72.1h.7M454.6 47.6h.7M446.4 57.1h.7M453.5 56.9h.7M438.8 60.3h.7M449.4 54.1h.7M440.5 65.5h.7M446.3 66.3h.7M440 70h.7M434.6 72.7h.7M437.7 71.4h.7M452.9 59.2h.7M434.2 71.1h.7M445.7 60.7h.7M450.7 56.8h.7M445.4 61.2h.7M437.6 66.4h.7M440.2 72.7h.7M453.8 50.6h.7M455.8 52.8h.7M433.5 73.7h.7M427.5 73.8h.7M430.3 70.8h.7M451.8 52.3h.7M439.6 64.7h.7M454.6 53.7h.7M439.9 64.4h.7M439.1 67h.7M456.2 51.3h.7M432.4 74.8h.7M453.9 55.5h.7M453.4 56.4h.7M445.9 59.1h.7M440.5 60.2h.7M450.2 56.4h.7M451.7 54.6h.7M449.5 61h.7M445.5 60.9h.7M453.3 54h.7M448.2 63.3h.7M441.5 63.5h.7M428.9 74.2h.7M451.1 49.8h.7M433.2 69.9h.7M438.3 69.2h.7M455.3 50.3h.7M428.8 75h.7M453.9 49.1h.7M433.4 69.5h.7M454.4 55.6h.7M457.1 51.8h.7M433 74.9h.7M430.3 73.1h.7M433.6 71.8h.7M445.3 63.6h.7M428.7 73.4h.7M449.8 56h.7M435.7 68.7h.7M431.5 70.5h.7M433 69.8h.7M454.2 55.3h.7M440.6 65.9h.7M429.8 75.5h.7M431.1 71.5h.7M443.9 63.3h.7M456.1 51.6h.7M444.5 60.6h.7M435.5 69h.7M447.7 59.7h.7M428.3 71.8h.7M449.7 53.4h.7M437.3 69.6h.7M453.1 53.4h.7M447.2 63.6h.7M450.9 55.5h.7M451.2 60.7h.7M429.9 71.4h.7M449.5 57.5h.7M453.7 55h.7M433.1 73.9h.7M439.4 73.1h.7M445.3 60.1h.7M442.7 62.4h.7M446.5 62.1h.7M449.8 52.4h.7M450.1 57.3h.7M454.3 54.4h.7M453.1 53.3h.7M433.9 72.5h.7M451.9 57.9h.7M443.2 66h.7M435.4 75h.7M443.2 62.3h.7M454.4 52.4h.7M434.3 70.9h.7M433.7 72.6h.7M450.9 58.7h.7M450.9 53.8h.7M446 61.7h.7M443.8 65.4h.7M442.1 62.9h.7M448.3 55.5h.7M456.8 52.3h.7M446.8 59.1h.7M453.6 50.7h.7M443.4 62h.7M440.6 65.9h.7M440.7 64.4h.7M439.1 66h.7M451.7 55.5h.7M435 71.4h.7M458.4 51.5h.7M435.1 71h.7M442.4 62.4h.7M444.9 60.5h.7M456.8 54.1h.7M449.7 57.6h.7M451.7 53.3h.7M457.3 49.9h.7M429.3 75.6h.7M447.3 55.1h.7M436.7 72.2h.7M436.1 71.9h.7M439.7 64.6h.7M441.2 61.1h.7M442.3 66.1h.7M436.3 71.3h.7M449.9 57h.7M427.2 75.6h.7M438.3 64.1h.7M438.7 67.7h.7M451.3 53.2h.7M451.1 56h.7M443.3 59.4h.7M458 48.7h.7M433.9 68.3h.7M432.2 74h.7M446.5 64h.7M432.7 72.8h.7M434.1 69.4h.7M442.8 61.7h.7M446.6 58.4h.7M456.7 57.1h.7M449.8 55.6h.7M443.6 62h.7M444.7 62.3h.7M452.7 53.7h.7M453.6 50.8h.7M442.8 66.7h.7M443.1 64.6h.7M451.7 55h.7M435.5 69.4h.7M448.6 60h.7M455 49h.7M454.1 54.5h.7M456.8 54.2h.7M452.2 55.7h.7M450.2 58.7h.7M436.7 67.8h.7M454.3 51.9h.7M436.4 69.7h.7M436.8 70.2h.7M452.6 52.9h.7M454.1 54.3h.7M453.6 52.1h.7M434.8 70h.7M456.8 51.4h.7M445 62.9h.7M439.6 67.3h.7M442.3 60.4h.7M444.8 58.2h.7M445.7 62.8h.7M435 73.8h.7M440.1 68.5h.7M438.9 63.5h.7M433.8 73.4h.7M452.8 54.3h.7M440 62h.7M455.1 48.3h.7M439.3 68.1h.7M438 67.3h.7M446.6 58.9h.7M454.9 55.3h.7M457.3 51.8h.7M444.9 60.1h.7M438.4 70.1h.7M460.7 50.7h.7M441.6 63.8h.7" stroke="#b81c20" stroke-width="0.7" opacity="0.6"/>
<path d="M428.00 73.80C428.32 72.75 430.18 70.78 431.90 69.40C433.62 68.02 436.38 67.00 438.30 65.50C440.22 64.00 441.48 62.32 443.40 60.40C445.32 58.48 447.67 55.82 449.80 54.00C451.93 52.18 454.60 50.35 456.20 49.50C457.80 48.65 458.98 48.47 459.40 48.90C459.82 49.33 459.88 50.60 458.70 52.10C457.52 53.60 454.43 55.88 452.30 57.90C450.17 59.92 448.03 62.08 445.90 64.20C443.77 66.32 441.42 68.88 439.50 70.60C437.58 72.32 435.98 73.65 434.40 74.50C432.82 75.35 431.07 75.82 430.00 75.70C428.93 75.58 427.68 74.85 428.00 73.80Z" fill="#b81c20" stroke="#b81c20" stroke-width="1.8"/>
<path d="M429.22 73.38C429.43 72.67 430.70 71.33 431.87 70.39C433.04 69.45 434.92 68.76 436.22 67.74C437.52 66.72 438.38 65.58 439.69 64.27C440.99 62.97 442.59 61.16 444.04 59.92C445.49 58.68 447.30 57.44 448.39 56.86C449.48 56.28 450.28 56.16 450.57 56.45C450.85 56.75 450.90 57.61 450.09 58.63C449.29 59.65 447.19 61.20 445.74 62.57C444.29 63.94 442.84 65.42 441.39 66.86C439.94 68.30 438.34 70.04 437.04 71.21C435.73 72.38 434.64 73.28 433.57 73.86C432.49 74.44 431.30 74.76 430.58 74.68C429.85 74.60 429.00 74.10 429.22 73.38Z" fill="none" stroke="#fff" stroke-width=".45" opacity=".9"/>
<path d="M429.86 73.16C430.02 72.63 430.98 71.62 431.85 70.92C432.73 70.21 434.14 69.70 435.12 68.93C436.09 68.17 436.74 67.31 437.72 66.33C438.69 65.35 439.89 63.99 440.98 63.06C442.07 62.14 443.43 61.20 444.24 60.77C445.06 60.34 445.66 60.24 445.88 60.46C446.09 60.69 446.12 61.33 445.52 62.10C444.92 62.86 443.34 64.03 442.25 65.05C441.17 66.08 440.08 67.19 438.99 68.27C437.90 69.35 436.70 70.66 435.73 71.53C434.75 72.41 433.93 73.09 433.13 73.52C432.32 73.95 431.43 74.19 430.88 74.13C430.34 74.07 429.70 73.70 429.86 73.16Z" fill="none" stroke="#fff" stroke-width=".45" opacity=".9"/>
<path d="M430.51 72.94C430.62 72.58 431.25 71.92 431.83 71.45C432.42 70.98 433.36 70.63 434.01 70.12C434.66 69.61 435.09 69.04 435.74 68.39C436.40 67.73 437.19 66.83 437.92 66.21C438.65 65.59 439.55 64.97 440.10 64.68C440.64 64.39 441.04 64.33 441.18 64.48C441.33 64.62 441.35 65.05 440.95 65.56C440.54 66.07 439.50 66.85 438.77 67.54C438.04 68.22 437.32 68.96 436.59 69.68C435.87 70.40 435.07 71.27 434.42 71.85C433.77 72.44 433.22 72.89 432.68 73.18C432.15 73.47 431.55 73.63 431.19 73.59C430.83 73.55 430.40 73.30 430.51 72.94Z" fill="none" stroke="#fff" stroke-width=".45" opacity=".9"/>
<path d="M451.1 76.5h.7M450.7 63.8h.7M430.9 92h.7M445.3 74.1h.7M432.9 84.8h.7M437.9 85.7h.7M431.5 92.1h.7M441.8 75h.7M436.7 88.6h.7M450.7 67.6h.7M448.3 73.4h.7M447.3 65.7h.7M443.1 75.5h.7M447.1 73.7h.7M444.7 79.2h.7M447.2 73.2h.7M449 72.3h.7M445.7 78.5h.7M437.7 85.9h.7M434.6 87.2h.7M455.3 70.5h.7M444.6 76h.7M433.3 86.9h.7M444.9 77.8h.7M445.9 78.9h.7M435.1 85h.7M432.8 88h.7M451.8 69.4h.7M450.8 74.4h.7M449.9 66h.7M453.6 71.3h.7M454.5 66.3h.7M450.7 74.7h.7M432.9 83.2h.7M431.4 86.4h.7M432.2 90.2h.7M432.5 90h.7M448.4 77.4h.7M448 71.3h.7M450.7 66.6h.7M435.6 81.5h.7M444.2 68.8h.7M454.7 66.8h.7M446.6 66.3h.7M456 68h.7M429.7 87.1h.7M453.7 74.8h.7M444.3 80.3h.7M431.2 87.9h.7M446.9 81.1h.7M435.4 85.3h.7M440 77.7h.7M448.2 70.1h.7M440.8 76.4h.7M440.4 80h.7M449.9 72.4h.7M458.3 65.8h.7M458.1 70.4h.7M433.1 89.5h.7M449.3 69.9h.7M454.6 68.8h.7M436.7 80.5h.7M448.3 78h.7M456.8 68.5h.7M437.7 85h.7M452.1 70.4h.7M436 87.5h.7M452.8 66h.7M450.7 69.9h.7M448.9 79.5h.7M448.1 73.4h.7M449.2 67.2h.7M445.7 75.2h.7M447.8 71.6h.7M441.6 83.5h.7M431.8 87.6h.7M449.6 74.6h.7M442.3 85.7h.7M433.7 88.7h.7M454.2 72.8h.7M456.2 71.6h.7M445.1 76.3h.7M446.7 68.2h.7M444.1 73h.7M441.2 82.9h.7M445.1 72.3h.7M450.9 75.3h.7M432.3 86.6h.7M440 86h.7M445.9 70.7h.7M442.7 82.7h.7M442.6 74.2h.7M439.5 85.6h.7M446.9 74.1h.7M437.4 77.7h.7M431.7 85.1h.7M445.9 69.4h.7M456.1 62.8h.7M446.9 71.6h.7M431.8 83.3h.7M448.4 71.4h.7M444.4 72.9h.7M440.6 79h.7M430.5 86.7h.7M452.9 67.8h.7M441.6 83.1h.7M439.2 85.8h.7M431.5 88h.7M443 69.9h.7M448.6 77.6h.7M447.8 75.1h.7M449.8 74.2h.7M444.8 66.5h.7M444.3 78.1h.7M441.1 77.8h.7M443.8 79.5h.7M441.7 76.6h.7M448.6 67h.7M432.1 82.7h.7M437.9 81.7h.7M455.4 66h.7M445.5 78.8h.7M438.9 82.2h.7M434.2 86.6h.7M440.7 79.9h.7M429.7 88.1h.7M450.4 72.2h.7M454 69.6h.7M434.5 90.4h.7M438.1 84.2h.7M455.6 66.4h.7M433.7 81.3h.7M452.4 69.1h.7M444 76.6h.7M446.6 77.6h.7M455.5 68.4h.7M436.2 91.7h.7M442.4 75h.7M454.2 67.1h.7M442.2 78.4h.7M433 89.2h.7M444 74.3h.7M443.9 77.2h.7M434.1 88.9h.7M445 77.5h.7M434.2 86.3h.7M440.7 85.5h.7M449.5 69.3h.7M448.1 64.3h.7M448.6 64.6h.7M452.8 69.2h.7M453.8 69.4h.7M441.4 74.6h.7M445.7 80.6h.7M442.5 75.4h.7M447.5 73.8h.7M445 76.8h.7M434.2 85.3h.7M442.2 82h.7M457.7 70.9h.7M448.9 72.1h.7M443.7 79.1h.7M451.2 63.3h.7M441.9 77h.7M441.5 78.2h.7M448.7 64.9h.7M449.2 77.5h.7M451.1 65.9h.7M458.8 64.7h.7M435.8 87h.7M438.7 81.4h.7M449.3 76h.7M444.8 76.5h.7M442.1 74.3h.7M457.9 69.1h.7M451.5 63.9h.7M450.4 66.4h.7M447 79.2h.7M447.7 76h.7M445.4 74.6h.7M435.6 82.2h.7M436 80.1h.7M436.3 79.9h.7M439.4 77.6h.7M437.4 87.8h.7M436.4 84h.7M444.5 73.9h.7M437.7 78.1h.7M431.3 91.9h.7M436.5 92.8h.7M452.7 69.9h.7M434.6 84.1h.7M452.3 72h.7M454.1 68.3h.7M435.8 84.7h.7M447 76h.7M447.3 71.2h.7M432.3 89.4h.7M441.1 77.3h.7M451.3 65.7h.7M448.3 69.5h.7M435.3 84.6h.7M455.9 66.6h.7M448 70.2h.7M449.7 72.8h.7M434.7 83h.7M455.7 66.5h.7M444 82.6h.7M449.5 78.4h.7M456.4 66.1h.7M445.4 78.4h.7M431.6 86.9h.7M442.4 77h.7M435.5 85.6h.7M451.3 73h.7M454.2 70.3h.7M436.8 87.6h.7M436.9 79h.7M454.1 66.2h.7M451.8 69.2h.7" stroke="#1f5fae" stroke-width="0.7" opacity="0.6"/>
<path d="M429.30 89.20C429.52 87.82 431.28 85.65 433.20 83.40C435.12 81.15 438.25 78.47 440.80 75.70C443.35 72.93 446.37 68.82 448.50 66.80C450.63 64.78 452.12 64.03 453.60 63.60C455.08 63.17 456.65 63.45 457.40 64.20C458.15 64.95 458.95 66.38 458.10 68.10C457.25 69.82 454.75 72.17 452.30 74.50C449.85 76.83 445.95 79.77 443.40 82.10C440.85 84.43 438.92 86.90 437.00 88.50C435.08 90.10 433.18 91.58 431.90 91.70C430.62 91.82 429.08 90.58 429.30 89.20Z" fill="#1f5fae" stroke="#1f5fae" stroke-width="1.8"/>
<path d="M432.05 87.60C432.16 86.91 433.04 85.83 434.00 84.70C434.96 83.58 436.53 82.23 437.80 80.85C439.07 79.47 440.58 77.41 441.65 76.40C442.72 75.39 443.46 75.02 444.20 74.80C444.94 74.58 445.73 74.72 446.10 75.10C446.48 75.47 446.88 76.19 446.45 77.05C446.03 77.91 444.78 79.08 443.55 80.25C442.32 81.42 440.38 82.88 439.10 84.05C437.83 85.22 436.86 86.45 435.90 87.25C434.94 88.05 433.99 88.79 433.35 88.85C432.71 88.91 431.94 88.29 432.05 87.60Z" fill="#fff"/>
<path d="M431.39 87.98C431.52 87.13 432.62 85.78 433.81 84.39C435.00 82.99 436.94 81.33 438.52 79.61C440.10 77.90 441.97 75.35 443.29 74.10C444.62 72.85 445.54 72.38 446.46 72.11C447.38 71.84 448.35 72.02 448.81 72.48C449.28 72.95 449.77 73.84 449.25 74.90C448.72 75.97 447.17 77.42 445.65 78.87C444.13 80.32 441.71 82.14 440.13 83.58C438.55 85.03 437.35 86.56 436.16 87.55C434.98 88.54 433.80 89.46 433.00 89.53C432.21 89.61 431.26 88.84 431.39 87.98Z" fill="none" stroke="#fff" stroke-width=".5"/>
<path d="M430.84 88.30C431.00 87.31 432.27 85.75 433.65 84.13C435.03 82.51 437.28 80.58 439.12 78.58C440.96 76.59 443.13 73.63 444.66 72.18C446.20 70.72 447.27 70.18 448.34 69.87C449.40 69.56 450.53 69.76 451.07 70.30C451.61 70.84 452.19 71.88 451.58 73.11C450.96 74.35 449.16 76.04 447.40 77.72C445.64 79.40 442.83 81.51 440.99 83.19C439.16 84.87 437.76 86.65 436.38 87.80C435.00 88.95 433.64 90.02 432.71 90.10C431.79 90.19 430.68 89.30 430.84 88.30Z" fill="none" stroke="#fff" stroke-width=".5"/>
<path d="M430.29 88.62C430.47 87.49 431.92 85.71 433.49 83.87C435.06 82.02 437.63 79.82 439.72 77.55C441.81 75.29 444.28 71.91 446.03 70.26C447.78 68.60 449.00 67.99 450.22 67.63C451.43 67.28 452.72 67.51 453.33 68.12C453.95 68.74 454.60 69.91 453.91 71.32C453.21 72.73 451.16 74.66 449.15 76.57C447.14 78.48 443.94 80.89 441.85 82.80C439.76 84.72 438.18 86.74 436.60 88.05C435.03 89.36 433.47 90.58 432.42 90.67C431.37 90.77 430.11 89.76 430.29 88.62Z" fill="none" stroke="#fff" stroke-width=".5"/>
<path d="M432.05 87.60C432.16 86.91 433.04 85.83 434.00 84.70C434.96 83.58 436.53 82.23 437.80 80.85C439.07 79.47 440.58 77.41 441.65 76.40C442.72 75.39 443.46 75.02 444.20 74.80C444.94 74.58 445.73 74.72 446.10 75.10C446.48 75.47 446.88 76.19 446.45 77.05C446.03 77.91 444.78 79.08 443.55 80.25C442.32 81.42 440.38 82.88 439.10 84.05C437.83 85.22 436.86 86.45 435.90 87.25C434.94 88.05 433.99 88.79 433.35 88.85C432.71 88.91 431.94 88.29 432.05 87.60Z" fill="none" stroke="#1f5fae" stroke-width=".6"/>
<path d="M402.9 90.5h.7M392.2 89.1h.7M397.3 89.9h.7M395.5 91.2h.7M405.1 88.9h.7M398.4 90h.7M398.7 89.6h.7M397.5 90.3h.7M402.3 89.8h.7M402.9 89.2h.7M403.8 89.3h.7M405.5 87.2h.7M405.1 89.1h.7M408.8 89.2h.7M400.9 86.9h.7M402.9 92.3h.7M399.5 88.3h.7M393.7 90.4h.7M403.7 88h.7M396 89.4h.7M405.7 86h.7M399.4 93.8h.7M406.3 88.2h.7M400.7 92.4h.7M396 90.7h.7M400.6 89.5h.7M403.3 91.3h.7M404.9 89.5h.7M399 91.9h.7M403.9 89.4h.7M395.3 89.7h.7M403.4 88.9h.7M397.3 90.5h.7M395.8 89h.7M408.3 91.6h.7M395.9 91.4h.7M403.7 86.5h.7M393.4 87.5h.7M396 93h.7M397.5 89.6h.7M403.2 89.6h.7M406.3 92.5h.7M401.2 87h.7M401.1 87.4h.7M395.9 90.7h.7M399.8 94.6h.7M396.1 90.5h.7M400.8 90.3h.7M405.5 88.5h.7M395.1 89.6h.7M394.2 91.1h.7M403 91.7h.7M402.6 86.7h.7M402.8 92h.7M393.2 85.4h.7M404.8 88.3h.7M396.1 89.7h.7M408.1 85.9h.7M395.1 89.2h.7M407.5 88.9h.7" stroke="#1f5fae" stroke-width="0.7" opacity="0.6"/>
<path d="M392.80 87.50C394.13 86.75 398.30 86.92 400.80 87.00C403.30 87.08 406.13 87.50 407.80 88.00C409.47 88.50 410.97 89.42 410.80 90.00C410.63 90.58 409.80 91.25 406.80 91.50C403.80 91.75 395.13 92.17 392.80 91.50C390.47 90.83 391.47 88.25 392.80 87.50Z" fill="#1f5fae" stroke="#1f5fae" stroke-width="1.8"/>
<path d="M392.7 100.3h.7M401.9 100h.7M408.8 96.5h.7M414.6 95.9h.7M412.4 104.8h.7M393.2 93.3h.7M401.2 100.7h.7M398.5 102.9h.7M402.8 105.3h.7M400.7 101.5h.7M406.2 91.6h.7M392.6 93.7h.7M394.1 97h.7M407.1 95.4h.7M394.7 95.6h.7M409.1 97.2h.7M413.8 98.6h.7M394 100.9h.7M414 99.7h.7M399.8 93.1h.7M404.6 102.8h.7M405.2 103.3h.7M414.7 96.1h.7M405.2 91.9h.7M403.9 94.3h.7M410.4 94.6h.7M393.2 101.5h.7M398.6 104.6h.7M392.6 98.4h.7M395.4 96.8h.7M395.3 99.4h.7M397.3 103.4h.7M398.3 99h.7M400.6 106.6h.7M411.9 101.3h.7M401.5 96.6h.7M412.4 99h.7M398.5 92h.7M408.9 96.1h.7M399 101.4h.7M399.8 92h.7M402.2 97.3h.7M403.4 92.3h.7M411.7 95.1h.7M397.2 99.4h.7M412.9 107.3h.7M413.6 103.9h.7M409.9 99.8h.7M412.5 94.3h.7M400.2 97.4h.7M402.3 93.7h.7M409.1 96.9h.7M402.9 98.6h.7M394.4 97h.7M409.8 101.4h.7M401.8 94.9h.7M397 97.9h.7M413.1 99.7h.7M401.3 96.1h.7M399.6 93.3h.7M406.9 91.9h.7M396.4 88.5h.7M397.8 99.7h.7M400.9 98.9h.7M395.1 96.4h.7M396.6 101.1h.7M399.7 92.6h.7M413.5 100.5h.7M411 100.1h.7M413 104.5h.7M395.9 104.3h.7M409.9 94.9h.7M396.4 93.7h.7M404.9 93.8h.7M411.3 96.2h.7M391.6 104.6h.7M391.7 106.2h.7M397.4 92.7h.7M412.4 100.8h.7M397.2 97.8h.7M406.5 99h.7M412.1 96.1h.7M403.7 101.3h.7M404.3 102.5h.7M407 99.6h.7M405.9 95.2h.7M399.9 106.7h.7M412.5 102.8h.7M398.4 98.2h.7M411.7 100.7h.7M399.5 91.3h.7M397.1 101.9h.7M410 95.5h.7M414.9 99.5h.7M397.9 92.6h.7M397.9 92.9h.7M411.1 91.7h.7M392.8 100.2h.7M415 104.2h.7M394.5 98.1h.7M391.7 102.7h.7M394.7 93h.7M396.8 104.7h.7M404.7 99.1h.7M405.9 97h.7M393.2 100.3h.7M413.5 101h.7M395.4 98h.7M392.5 99.9h.7M402.2 107.2h.7M403.9 103.2h.7M401.9 91.2h.7M402.1 93h.7M410.4 90.4h.7M405.1 104.2h.7M410.9 102.4h.7M412.6 99.3h.7M401.6 94.9h.7M400 93h.7M406.1 101.5h.7M405.6 104.4h.7M412.7 101.7h.7M397.7 99.4h.7M411.7 106.8h.7M396.5 104.5h.7M401 94.4h.7M395.1 91.4h.7M396.8 92.4h.7M396.2 104.2h.7M401.1 104.3h.7M402.3 94.8h.7M402.2 102.7h.7M396.3 93.7h.7M399.3 92.5h.7M392.1 99.3h.7M395.4 103.1h.7M405 94.4h.7M394.1 95.9h.7M403.8 105.3h.7M407.7 96.2h.7M411.9 99.5h.7M395.2 91.9h.7M400.4 97.5h.7M401.9 100.9h.7M410 95.2h.7M393.8 102.2h.7M395 98.1h.7M407.2 89.8h.7M394.4 104.7h.7M402 100.6h.7M407.6 98.9h.7M401.6 99.9h.7M407.8 93.1h.7M408.1 101h.7M417.5 98.8h.7M393.6 93.9h.7M404 98.4h.7M406.1 96.7h.7M407.6 90.3h.7M399.3 92.3h.7M409.8 99.3h.7M402.7 102.3h.7M397.2 99.1h.7M397.4 102.9h.7M391.6 89.5h.7M408.7 99.5h.7M411.9 96.6h.7M402 96h.7M412.7 93.2h.7M391.4 101.9h.7M395 90.8h.7M392.9 97h.7M390 99.5h.7M394.7 100.2h.7M402.3 95.3h.7M399.7 88.3h.7M398.7 96.7h.7M397.1 92.7h.7M414.6 100.5h.7M398.8 95.6h.7M410.8 91.8h.7M406.9 93.3h.7M407.6 99.3h.7M409.4 94.9h.7M401.8 101.3h.7M396.3 95.3h.7M406.3 92.7h.7M399.5 94.5h.7M403.8 100.4h.7M406.9 91.8h.7M406.3 93.6h.7M397.7 99.2h.7M410.1 99.2h.7M392.2 102.2h.7M412 96h.7M394.6 97.9h.7M401.6 89.9h.7M398.8 101.9h.7M394.7 96h.7M410.1 100.8h.7M402.5 95.3h.7M395.7 104.8h.7M410.8 102.8h.7M394.6 104.5h.7M405.4 94.7h.7M402.5 93.5h.7M402.3 102.1h.7M398.1 104.6h.7M402.7 96.9h.7M393.5 91.7h.7M413 98.5h.7M391.5 94.6h.7M402.2 98.2h.7M398.3 99.9h.7M401.3 92.6h.7M396.4 103.1h.7M404.8 105.5h.7M402.2 94.3h.7M412.2 91.8h.7M397.4 91.5h.7M393 102.9h.7M398.4 105.9h.7M411.7 92h.7M403.2 89.1h.7M400.2 96.6h.7M404.9 91.5h.7M411.7 93h.7M406.4 101.8h.7M410.2 95.8h.7M395.4 97.5h.7M398 94.8h.7M393.5 93.4h.7M409.6 96.8h.7M399.6 102.8h.7M393.8 101.3h.7M392.1 102.5h.7M395.9 98.8h.7M396.3 92.1h.7M402.2 98.9h.7M391.2 96.4h.7M398.9 98.2h.7M403.4 98.1h.7M408.3 97.9h.7M414.4 95.8h.7M411.7 93.1h.7M406.2 105.7h.7M395.6 102.9h.7M403.2 99.8h.7M407.4 104.2h.7M393.1 93.8h.7" stroke="#b81c20" stroke-width="0.7" opacity="0.6"/>
<path d="M392.80 90.50C393.97 88.00 397.47 90.00 399.80 90.00C402.13 90.00 404.80 90.17 406.80 90.50C408.80 90.83 410.47 91.25 411.80 92.00C413.13 92.75 414.13 93.83 414.80 95.00C415.47 96.17 415.72 97.33 415.80 99.00C415.88 100.67 419.13 104.00 415.30 105.00C411.47 106.00 396.55 107.42 392.80 105.00C389.05 102.58 391.63 93.00 392.80 90.50Z" fill="#b81c20" stroke="#b81c20" stroke-width="1.8"/>
<path d="M396.00 92.90C396.79 91.20 399.17 92.56 400.76 92.56C402.35 92.56 404.16 92.67 405.52 92.90C406.88 93.13 408.01 93.41 408.92 93.92C409.83 94.43 410.51 95.17 410.96 95.96C411.41 96.75 411.58 97.55 411.64 98.68C411.70 99.81 413.91 102.08 411.30 102.76C408.69 103.44 398.55 104.40 396.00 102.76C393.45 101.12 395.21 94.60 396.00 92.90Z" fill="none" stroke="#fff" stroke-width=".45" opacity=".9"/>
<path d="M397.70 94.17C398.30 92.90 400.08 93.92 401.27 93.92C402.46 93.92 403.82 94.00 404.84 94.17C405.86 94.34 406.71 94.56 407.39 94.94C408.07 95.32 408.58 95.88 408.92 96.47C409.26 97.06 409.39 97.66 409.43 98.51C409.47 99.36 411.13 101.06 409.18 101.57C407.22 102.08 399.61 102.80 397.70 101.57C395.79 100.34 397.10 95.45 397.70 94.17Z" fill="none" stroke="#fff" stroke-width=".45" opacity=".9"/>
<path d="M399.80 88.00C400.63 87.50 402.97 85.33 404.80 85.00C406.63 84.67 409.13 85.17 410.80 86.00C412.47 86.83 414.13 89.33 414.80 90.00" fill="none" stroke="#4cab36" stroke-width=".8"/>
<path d="M408.80 90.00C409.80 90.33 413.13 90.83 414.80 92.00C416.47 93.17 417.97 95.00 418.80 97.00C419.63 99.00 419.63 102.83 419.80 104.00" fill="none" stroke="#1f5fae" stroke-width=".8"/>
<path d="M404.80 100.00C405.47 98.83 407.30 93.83 408.80 93.00C410.30 92.17 412.80 93.67 413.80 95.00C414.80 96.33 414.63 100.00 414.80 101.00" fill="none" stroke="#1f5fae" stroke-width=".8"/>
<path d="M402.80 92.00C403.63 91.50 405.97 89.17 407.80 89.00C409.63 88.83 412.13 89.83 413.80 91.00C415.47 92.17 417.13 95.17 417.80 96.00" fill="none" stroke="#b81c20" stroke-width=".8"/>
</g>
<path d="M390.4 7.4h2.6M391.4 20.5h1.6M391.4 17.2h1.6M391.4 14.8h1.6M391.4 13.0h1.6M391.4 11.5h1.6M391.4 10.3h1.6M391.4 9.2h1.6M391.4 8.3h1.6M390.4 26.1h2.6M391.4 39.8h1.6M391.4 36.3h1.6M391.4 33.9h1.6M391.4 32.0h1.6M391.4 30.4h1.6M391.4 29.1h1.6M391.4 28.0h1.6M391.4 27.0h1.6M390.4 45.7h2.6M391.4 59.6h1.6M391.4 56.1h1.6M391.4 53.6h1.6M391.4 51.7h1.6M391.4 50.1h1.6M391.4 48.8h1.6M391.4 47.6h1.6M391.4 46.6h1.6M390.4 65.6h2.6M391.2 72.8h1.8M391.2 78.3h1.8M391.2 83.3h1.8M391.2 87.8h1.8M391.2 91.3h1.8M391.2 94.0h1.8M391.2 97.3h1.8M391.2 100.3h1.8M397.0 104.6v1.8M401.0 104.6v1.8M404.0 104.6v1.8M407.5 104.6v1.8M411.0 104.6v1.8M414.0 104.6v1.8M418.0 104.6v1.8M422.0 104.6v1.8M426.0 104.6v1.8M442.7 104.6v2.4M429.8 104.6v1.6M432.9 104.6v1.6M435.3 104.6v1.6M437.2 104.6v1.6M438.9 104.6v1.6M440.3 104.6v1.6M441.6 104.6v1.6M467.4 104.6v2.4M450.1 104.6v1.6M454.5 104.6v1.6M457.6 104.6v1.6M460.0 104.6v1.6M461.9 104.6v1.6M463.6 104.6v1.6M465.0 104.6v1.6M466.3 104.6v1.6M492.0 104.6v2.4M474.8 104.6v1.6M479.1 104.6v1.6M482.2 104.6v1.6M484.6 104.6v1.6M486.5 104.6v1.6M488.2 104.6v1.6M489.6 104.6v1.6M429.8 104.6v1.6M432.9 104.6v1.6M435.3 104.6v1.6M437.2 104.6v1.6M438.9 104.6v1.6M440.3 104.6v1.6M441.6 104.6v1.6" stroke="#000" stroke-width="1.1" fill="none"/>
<rect x="393.9" y="7.1" width="96.9" height="96.5" fill="none" stroke="#000" stroke-width="1.8"/>
<text x="379.4" y="13.4" font-size="11" text-anchor="end" fill="#000" >10</text>
<text x="380.5" y="5.7" font-size="7.8" text-anchor="start" fill="#000" >6</text>
<text x="379.4" y="33.3" font-size="11" text-anchor="end" fill="#000" >10</text>
<text x="380.5" y="25.6" font-size="7.8" text-anchor="start" fill="#000" >5</text>
<text x="379.4" y="51.9" font-size="11" text-anchor="end" fill="#000" >10</text>
<text x="380.5" y="44.2" font-size="7.8" text-anchor="start" fill="#000" >4</text>
<text x="379.4" y="72.5" font-size="11" text-anchor="end" fill="#000" >10</text>
<text x="380.5" y="64.8" font-size="7.8" text-anchor="start" fill="#000" >3</text>
<text x="380.2" y="99.2" font-size="11" text-anchor="end" fill="#000" >0</text>
<text x="355.0" y="54.8" font-size="12.2" text-anchor="middle" transform="rotate(-90 355.0 54.8)" dy="4.3">anti-Strep-PE</text>
<clipPath id="c7"><rect x="510.8" y="8.0" width="95.1" height="94.8"/></clipPath>
<g clip-path="url(#c7)">
<path d="M514.5 63.3h.6M543.2 60.3h.6M518.4 64.3h.6M538.7 64.8h.6M531.6 57.9h.6M529.4 61.4h.6M523.9 51.4h.6M529.5 50.2h.6M518.5 64h.6M511.7 64.6h.6M538.1 65.8h.6M538.3 59.4h.6M518.1 50.9h.6M545.1 64.5h.6M519.1 67.3h.6M537.3 63.7h.6M541.4 54.6h.6M526.8 53.3h.6M517.2 59.4h.6M525.7 64.4h.6M523.3 50.1h.6M512.4 57.8h.6M549.9 65.7h.6M537.1 63.4h.6M511.8 63.5h.6M534.6 52.4h.6M512.1 61.7h.6M513.6 58.1h.6M511.9 60.6h.6M512.3 67.1h.6M541.5 49.1h.6M511.2 67.1h.6M543.9 63.7h.6M529.9 64.2h.6M540.4 64.5h.6M522 49.7h.6M529.7 59.8h.6M547.1 58.7h.6M519.7 48.5h.6M517.7 66.9h.6" stroke="#4cab36" stroke-width="0.6" opacity="0.5"/>
<path d="M521 91.5h.6M567.5 85.6h.6M564.1 90.3h.6M541.1 81.7h.6M523.7 75.6h.6M524.1 92.8h.6M553.1 68h.6M542.2 69.4h.6M551 79.5h.6M550.7 73.7h.6M566.6 91.8h.6M558.1 98.1h.6M542.6 69.8h.6M549.5 89.5h.6M558.4 88.2h.6M547.1 75.2h.6M529.9 71.7h.6M538.1 94.3h.6M524 84h.6M550.9 71.3h.6M526.2 103.4h.6M559.3 72.8h.6M570 84h.6M530.8 99.5h.6M540.3 76.6h.6M546.9 103h.6M533.2 89.5h.6M547.5 68.9h.6M525.9 79.1h.6M558.6 93.2h.6M525.6 90.4h.6M561 74.1h.6M546.2 88.6h.6M550.6 75.7h.6M555.3 88.2h.6M569.1 75.7h.6M531.5 72.8h.6M554.1 82.9h.6M547.9 92.5h.6M528.8 91h.6M526.3 93h.6M563.8 74h.6M550.2 73h.6M557 83.1h.6M530.1 80.2h.6M556.1 97.3h.6M535.3 92.5h.6M539.9 91.1h.6M546.5 75.5h.6M528.5 68.4h.6M567.6 77.3h.6M554.4 99.4h.6M540.3 95.9h.6M532.4 91.9h.6M550.9 87.1h.6M561.5 71.4h.6M540.4 93.8h.6M555 71.9h.6M539.6 69.1h.6M545.6 69.3h.6M566.5 90.7h.6M563.3 71.1h.6M541.5 73.5h.6M540.6 89h.6M562.3 103.1h.6M538 96.7h.6M562.4 100.9h.6M533.2 95.9h.6M524 89.1h.6M566.4 77.2h.6M538.3 89.5h.6M538.1 91.8h.6M526.3 71.3h.6M523.9 75h.6M547.9 76.5h.6M538.3 100.1h.6M557 101.2h.6M566.8 78.9h.6M529.3 88.6h.6M560.7 74.3h.6M539.5 70.9h.6M562 78.8h.6M543.1 93.5h.6M523.3 83.7h.6M537.5 99.9h.6M524.3 91.9h.6M548.3 76.6h.6M563 101.7h.6M538 103h.6M549.3 93.1h.6M541.3 75.8h.6M522.7 91.8h.6M543.6 84.5h.6M543.9 98.4h.6M530.1 98.5h.6M545.9 81.2h.6M540.4 96.3h.6M548 82.5h.6M533 84.7h.6M550.1 82.2h.6M540.7 86.6h.6M545 93.5h.6M535.1 80.9h.6M533.7 70.6h.6M560 81.1h.6M526.1 100.4h.6M533.3 72.8h.6M552.5 100.9h.6M543.8 72h.6M557.7 80.6h.6M559 96.9h.6M520.9 80.8h.6M561.3 97h.6M533.7 98.8h.6M537.1 87.9h.6M546.2 76.7h.6M546.5 76.1h.6M535.6 103.9h.6M540.2 94.2h.6M536.4 85.9h.6M549.1 70.8h.6M553.8 85.4h.6M556.9 71.2h.6M533.7 74h.6M536.1 99.5h.6M560.8 76.7h.6M536.4 77.3h.6M564.6 69h.6M554.4 102.5h.6M537.2 96.4h.6M537.9 79.9h.6M537.2 74.4h.6M542.7 68.5h.6M563.6 96.9h.6M565.7 79.6h.6M547.5 69.5h.6M527.9 103.9h.6M533.6 94.6h.6M563.3 77.8h.6M561.9 93.8h.6M563.5 75h.6M547.9 102.5h.6M566 79h.6M522.2 68.9h.6M532.5 82.6h.6M557.3 100.6h.6M535.7 90h.6M544.2 100.4h.6M532.8 90.6h.6M553.2 97h.6M559.8 96.5h.6M526.9 87.9h.6M532.3 84.8h.6M525.5 98h.6M535.9 89.7h.6M555.4 95.4h.6M549.4 72.5h.6M535.5 99.9h.6M551.5 102.5h.6M542.3 90.5h.6M524.5 97.5h.6M566.3 93.9h.6M524.1 73.9h.6M547.2 103.3h.6M530.7 79.5h.6M559.4 86.5h.6M569.7 78.1h.6M556.1 99.2h.6M542.7 97.6h.6M534.5 72h.6M543.3 94.9h.6M561.2 100.2h.6M561.8 96.7h.6M566.1 83.7h.6M560 94.1h.6M526.5 81.6h.6M528.4 97.9h.6M569.8 75.5h.6M551.1 68.3h.6M546.2 80h.6M552.9 83.1h.6M529.1 78.3h.6M564.3 79.2h.6M565.9 77.3h.6M567.1 70.2h.6M539.9 101.1h.6M532.1 98.2h.6M521.2 89.8h.6M556.4 69.8h.6M564.6 100.6h.6M553.9 85.1h.6M556 83.3h.6M539.1 68.9h.6M540.1 90.2h.6M549.3 69.8h.6M538.9 89.1h.6M570.6 95.5h.6M559.1 96.2h.6M570.4 98.3h.6M570 72.6h.6" stroke="#b81c20" stroke-width="0.6" opacity="0.5"/>
<path d="M549.3 101.5h.6M549.5 84.4h.6M523.1 101.7h.6M557.3 85.8h.6M564.8 86.2h.6M544.7 94.6h.6M521.1 75.7h.6M545.2 83.4h.6M559.6 100.8h.6M522.5 94.1h.6M564.4 81.7h.6M544.5 91.8h.6M569.7 92.4h.6M543.7 94.6h.6M522.9 78.5h.6M534.1 83.6h.6M533.9 96.8h.6M556.5 100.2h.6M530.9 77.2h.6M566 102.6h.6M536.5 76.9h.6M548.1 90.4h.6M537.4 102.7h.6M551.8 94.8h.6M557 85.8h.6M526.9 75.2h.6M524 87.1h.6M568.2 73.2h.6M548.4 90.6h.6M545.6 90.3h.6M526.4 88.8h.6M521.1 94.3h.6M535.3 89.3h.6M542.6 95.2h.6M549.8 79.1h.6M528.8 91.2h.6M549.1 92.1h.6M560.7 98.9h.6M544.5 79.9h.6M536.2 102.1h.6M524.1 100.4h.6M545.8 86.7h.6M546.3 85.6h.6M551.4 84.3h.6M533.3 78.9h.6M537.4 97.2h.6M544.5 76.1h.6M555.1 97.7h.6M527.4 88h.6M554.9 73.5h.6M561.9 80.6h.6M539.2 101.6h.6M527.6 83.3h.6M568.5 78.9h.6M547 95.1h.6M561.4 80.9h.6M525.4 88.6h.6M526.3 81.2h.6M547 77.8h.6M559.7 101.1h.6M529.9 96.5h.6M561.1 83h.6M534 92.1h.6M521.6 79.2h.6M524.4 102.1h.6M535.4 95.1h.6M537.8 77.2h.6M552.1 88.4h.6M521.7 84.1h.6M559 87.4h.6M550.3 77.9h.6M561.6 95.3h.6M536.5 83.4h.6M562.8 80.4h.6M570.6 77.2h.6M535 92.5h.6M549.7 98.1h.6M526.6 94.7h.6M562.9 81.8h.6M530.3 78.5h.6M530.1 95.9h.6M545.5 96.4h.6M521.3 91.1h.6M525.4 88.6h.6M525 98.5h.6M563.4 98.3h.6M544.1 92.5h.6M537.8 82.8h.6M559.4 80.7h.6M560.2 79h.6M542.5 81.5h.6M530.3 90.8h.6M524.9 76.8h.6M562.3 75.8h.6M560.3 101h.6M530.7 101.7h.6M565.2 95.5h.6M524 82.8h.6M570.2 95.7h.6M553.4 96.5h.6M529.4 98.5h.6M545.3 85.5h.6M570.1 103.6h.6M531.7 88.3h.6M545.8 90h.6M548 88h.6M561 92.2h.6M531.1 88.8h.6M570.6 73.2h.6M547.6 83.2h.6M523.9 89.5h.6M566.4 100.5h.6M543.5 79.5h.6M563 80.8h.6M553.2 79.8h.6M564.8 81.7h.6M537.7 93.4h.6M563.7 84.2h.6M546.9 102.3h.6M552.4 89.4h.6M563.6 87.3h.6M562.4 84.7h.6M565 83.9h.6M569 98.9h.6M535.4 78.6h.6M560.6 76.6h.6M549.5 78.8h.6M546.9 94.7h.6M522.9 83.8h.6M533.6 98.3h.6M556.4 81.3h.6M552.8 75.2h.6M523.6 94.3h.6M545.3 84h.6M533.2 91h.6M566.9 81h.6M526.1 92.3h.6M524.7 79.8h.6M523.9 75.5h.6M558.1 78.9h.6M566.8 82.2h.6M538.1 95.3h.6M557.8 77h.6M546.2 77.5h.6M558.8 78.2h.6M568.1 95.3h.6M537 98h.6M524.5 84.2h.6M569.9 74.2h.6M556.3 82.6h.6M541.1 97.8h.6M554.7 96.9h.6M558 102.9h.6M538.6 88h.6M553.2 80.3h.6M523.5 101.3h.6M569.8 81.4h.6M533.2 98h.6M525.8 77.9h.6M532 83.7h.6M522.3 77.9h.6M551.4 81.8h.6M525 78.6h.6M563.5 87.8h.6M549.9 103.4h.6M551 78.3h.6M542.6 92.2h.6M557.8 83.3h.6M521.3 84.2h.6M551 74.8h.6M536.2 79.8h.6M543.1 101.4h.6M523.6 82h.6M521.4 102.9h.6M527.7 81.8h.6M562.6 96h.6M550.6 97.7h.6M523.3 92.8h.6M542.6 103.1h.6M525.1 96.1h.6M544.8 93h.6M528.4 93.1h.6M536.8 97.3h.6M569.3 85.7h.6M549.2 78.6h.6M559.1 90.9h.6M528.6 85.2h.6M524.6 81.9h.6M521.7 103.6h.6M534.9 87.4h.6M526.8 73.8h.6M527.2 103.6h.6M537.8 95.5h.6M535.3 97h.6M535.1 103.1h.6M550.9 81.7h.6M534.1 76.6h.6M533.2 94.2h.6M566.7 91.7h.6M567.1 80.4h.6" stroke="#1f5fae" stroke-width="0.6" opacity="0.5"/>
<path d="M544.3 86.9h.6M534 76.9h.6M534.7 70.5h.6M546.7 95.9h.6M531.3 96h.6M544.3 88.5h.6M528.8 84.1h.6M529.7 89.1h.6M541.9 85h.6M533.9 84.1h.6M547.1 94.5h.6M553.8 89.1h.6M545.4 77.5h.6M537.5 85h.6M528.3 70.7h.6M551 80h.6M536.3 91.9h.6M546.9 76.4h.6M542.9 86.5h.6M539.1 96.2h.6M534.5 87.8h.6M554 73.5h.6M541.6 81.4h.6M539.2 97.7h.6M546.2 75.1h.6M554.3 94.6h.6M528.2 92.6h.6M540.4 71h.6M551.1 97.8h.6M552.7 84.4h.6M527 83.8h.6M541.7 86.7h.6M545.9 97.4h.6M542.2 90.6h.6M543 95.8h.6M531.4 93.4h.6M530.6 96h.6M535.2 79.4h.6M541.3 87.9h.6M542.2 97.8h.6M533.5 78.9h.6M536.7 93.4h.6M528.4 80.7h.6M538.6 72.6h.6M532.7 88.4h.6M542.3 80.5h.6M539 88.1h.6M549.6 78h.6M529.2 93.8h.6M529.2 82.2h.6M529.8 96.1h.6M551.6 78.1h.6M545 81.5h.6M528.8 74.1h.6M547.2 75.6h.6M534.3 83.1h.6M540.9 82.6h.6M551.6 77.9h.6M536.8 74.1h.6M531.4 87.5h.6M535 80.3h.6M527.6 75.7h.6M544.2 96.9h.6M544.8 81.5h.6M552.6 79.2h.6M552.2 71.3h.6M541.4 96.5h.6M537.1 83.8h.6M537.4 72.9h.6M540.7 81.4h.6M549.7 75.2h.6M527.4 95.6h.6M529.7 95.7h.6M542.7 84.8h.6M530.9 82.9h.6M544.3 70.3h.6M548.4 87h.6M550.9 83.1h.6M552.8 91.8h.6M535.9 94h.6M534.9 81.5h.6M532.4 82.6h.6M526.5 85.4h.6M531.4 72h.6M546.7 85.8h.6M541.6 75.3h.6M551.8 70.6h.6M528.7 81.2h.6M533.2 81.2h.6M553.3 96.5h.6M532.4 75.9h.6M536 78.5h.6M528.7 89.3h.6M528.8 81.5h.6M529.1 93.3h.6M535.9 73.4h.6M547.4 76.1h.6M534.2 80.6h.6M534.1 83.4h.6M530.2 77.8h.6M543.5 82.4h.6M528.9 87.1h.6M545.7 87.6h.6M538.4 84.9h.6M535.6 95.1h.6M539.5 90h.6M546.5 82.3h.6M530.5 80.9h.6M547.4 80.3h.6M530.2 82.4h.6M547.4 96.6h.6M548.8 75h.6M533.1 88.6h.6M534.2 79.3h.6M551.5 97.4h.6M551.6 91.3h.6M542 76.2h.6M536.8 77.8h.6M542.8 75.6h.6M552.6 80.6h.6M540.7 96.6h.6M546.2 89.6h.6M527 95.9h.6M539.7 70.7h.6M539.1 97.6h.6" stroke="#b81c20" stroke-width="0.6" opacity="0.5"/>
<path d="M542.6 88.8h.6M543.6 99.3h.6M553.9 87.5h.6M537.6 79.1h.6M539.2 97.7h.6M540.3 94.2h.6M557.3 91.1h.6M545.4 95h.6M558.7 91.2h.6M552 95.5h.6M531.9 83.3h.6M553.7 86.2h.6M545.9 81h.6M555.1 93.8h.6M532.7 81.4h.6M543.3 85.5h.6M554.3 94.5h.6M555.1 77.8h.6M536.7 82.3h.6M554.2 76.4h.6M558.3 76.5h.6M536.9 82.9h.6M559.7 81.4h.6M537.2 78.3h.6M550.7 74.6h.6M534.9 98.4h.6M550.1 85.1h.6M552.6 97.3h.6M532.7 95.5h.6M532.8 97.7h.6M548 98.7h.6M560.6 83.8h.6M533.9 79.7h.6M550.8 94.6h.6M560.7 78h.6M532.6 86.4h.6M547.5 95h.6M543.5 77.4h.6M550.7 99.4h.6M555.3 92h.6M536.5 86.7h.6M534.4 88.3h.6M556.3 95.3h.6M542.3 81.6h.6M559.5 92.3h.6M546.9 91.4h.6M532.1 93.5h.6M547.7 94.1h.6M535.9 86.9h.6M536.4 94.6h.6M536.6 78.1h.6M536.9 86h.6M538.3 83.6h.6M557.9 82.7h.6M531.4 77.5h.6M558.4 74.3h.6M535 75.7h.6M548.7 93h.6M553.6 81.1h.6M541.4 99.3h.6M552.7 89.6h.6M532.1 82.8h.6M531.5 76.6h.6M541.4 77.5h.6M544.6 91.6h.6M534.3 88.7h.6M531.6 79.8h.6M533.7 91.1h.6M547.1 97.2h.6M547.4 91.6h.6M559.1 96.4h.6M556.6 90.1h.6M548.6 96.1h.6M551.7 79.5h.6M547.3 98.8h.6M553.4 76.3h.6M550.1 96.9h.6M542 85.6h.6M536.2 99h.6M552.3 79.3h.6M542.9 89.4h.6M548.8 79.7h.6M546.1 89.9h.6M556.1 85.7h.6M557.4 77.4h.6M555.6 85.8h.6M550.1 86.6h.6M552.9 77.9h.6M546.4 89.4h.6M534.1 87h.6M553.5 74.9h.6M557.6 93.2h.6M532.5 99.1h.6M534.6 77.5h.6M557.5 98.1h.6M545.3 82.3h.6M539.9 81.1h.6M555.1 83.5h.6M541.4 96.8h.6M550.4 91.6h.6M548.3 84.1h.6M559.5 78.1h.6M542 98h.6M530.9 92.2h.6M544.6 94.5h.6M559.1 76.4h.6M535.8 96.4h.6M548.9 74.8h.6M534.5 75.2h.6M538.8 92.8h.6M534.9 93.4h.6M543.8 90.9h.6M552.3 94.5h.6M557 97.3h.6M551 99h.6M544.3 88h.6M533.6 94.8h.6M536.7 84.1h.6M546.5 75.8h.6M552.5 82.7h.6M556.8 96.7h.6M533.6 74.7h.6M549.1 97h.6M555.4 83.2h.6M554.8 76.7h.6" stroke="#1f5fae" stroke-width="0.6" opacity="0.5"/>
<path d="M535 56h.7M523.8 52h.7M519 56.3h.7M520.8 58.3h.7M529.8 57.8h.7M533.3 50.9h.7M518.8 55.1h.7M537.6 56h.7M515.5 55.5h.7M533.8 48.4h.7M516 54.3h.7M532.1 54.9h.7M515.5 56.9h.7M519 59.4h.7M524.3 58h.7M526.9 55.1h.7M532 56.6h.7M536.5 55.8h.7M536.6 53.8h.7M513.9 58.4h.7M524.6 57.8h.7M514.4 55.8h.7M537.5 51.5h.7M527.6 59.2h.7M517.6 61.3h.7M530.4 56.1h.7M522.7 53.2h.7M528.8 52h.7M523.9 56.5h.7M521.1 59.2h.7M530.2 54.2h.7M526.3 55.6h.7M515.9 56.1h.7M536.3 50.5h.7M528.2 49.7h.7M537.4 56.2h.7M532.5 65.4h.7M538 55.1h.7M530.3 54.8h.7M524.7 52.6h.7M535 52.4h.7M536.5 52h.7M518.1 54.6h.7M529.9 54.5h.7M540.2 57.6h.7M533.6 49.5h.7M532.5 55.9h.7M529.1 51.6h.7M537.8 49h.7M538.6 54.2h.7M524.3 58.4h.7M513.3 55.2h.7M522.1 58.3h.7M530.1 52.8h.7M523.2 53.9h.7M537.2 54.3h.7M527 55.1h.7M527.5 53.9h.7M526.4 58.7h.7M531.4 49.2h.7M525.2 55.3h.7M533.1 56.1h.7M535.2 57h.7M528.5 50.3h.7M524.3 56.5h.7M532 55.1h.7M527.5 54h.7M530.5 51.8h.7M529.5 57.5h.7M522.1 60.5h.7M532.9 50.4h.7M522.6 53.2h.7" stroke="#4cab36" stroke-width="0.7" opacity="0.6"/>
<path d="M560.1 47.9h.7M570 36.6h.7M576.6 36.9h.7M558.4 43.6h.7M547.2 57.5h.7M546 50.4h.7M550.4 53.9h.7M572.2 41.3h.7M582.5 32.5h.7M569.3 38.8h.7M562.5 40.3h.7M571 39.2h.7M580.5 31.8h.7M572.9 43.1h.7M546.1 54h.7M559.4 49.5h.7M549.9 49.7h.7M555.4 49.3h.7M553.4 54.8h.7M570.6 37.1h.7M568.9 36.7h.7M580.2 31.4h.7M576.8 36h.7M564 42.3h.7M553.8 49.6h.7M543.8 51.8h.7M548.6 52.7h.7M553.3 53.3h.7M568.9 39.2h.7M561.5 43.6h.7M545.8 51.4h.7M549.5 52.9h.7M573.3 37.5h.7M547.6 52.4h.7M572.6 43.1h.7M548.7 48.1h.7M563.3 43.3h.7M571.7 35h.7M558.8 45.7h.7M574.1 39.6h.7M567.9 41.6h.7M549 53.9h.7M549.7 48.4h.7M563.5 38.6h.7M573.6 37.7h.7M556.7 46.8h.7M554.8 50.8h.7M565.6 38.3h.7M578.4 38h.7M546.6 53.8h.7M577.5 29.1h.7M575.9 39.7h.7M558.5 47.9h.7M577.2 40.9h.7M550.5 48.4h.7M576.1 32.9h.7M575.9 42.6h.7M557.6 44.8h.7M576.3 34.8h.7M552.3 49.5h.7M562.8 45.4h.7M568.2 37.5h.7M549.7 53.2h.7M570.5 44h.7M558.7 43.7h.7M568.1 42.2h.7M558.2 45.5h.7M540.3 53.2h.7M573.9 35h.7M546.6 52.1h.7M579.4 38.5h.7M579.4 35.8h.7M575.9 38.2h.7M573.2 43.9h.7M579.4 31.5h.7M568.3 45.3h.7M568.5 42.5h.7M560.1 45.4h.7M580.5 33.6h.7M568.9 40.3h.7M547.6 50.9h.7M571.7 45.7h.7M554.9 47.2h.7M562.6 47.3h.7M566.2 41.5h.7M558.3 49.8h.7M572.5 31.7h.7M549.1 49.6h.7M571.1 42.4h.7M547.5 55.4h.7M539.5 55.6h.7M553.5 53.5h.7M553.1 53.1h.7M551.7 56.1h.7M558.6 51h.7M551.2 55.2h.7M550.3 50.1h.7M555.1 54.8h.7M544.1 52.8h.7M543.8 52.1h.7M573.6 35h.7M558.6 48.7h.7M571.3 36h.7M578.1 29.5h.7M551 50.4h.7M559.5 41.4h.7M560.5 44.4h.7M551.7 46.8h.7M541.6 53.6h.7M547.4 55.7h.7M544.5 52.8h.7M554.9 49.8h.7M567.9 38.3h.7M564.8 43h.7M578.2 35h.7M567.9 40.8h.7M564.7 40.3h.7M576.1 32.1h.7M549.6 47.3h.7M550.1 52.6h.7M557.1 44.1h.7M572.9 40.3h.7M547.2 50.2h.7M579.7 33.2h.7M567.7 45h.7M560 43.9h.7M569.5 37.8h.7M572.1 38.5h.7M558 47.3h.7M562.4 45.4h.7M557.3 47.2h.7M571.2 36.8h.7M545.3 55.3h.7M564.9 47.4h.7M547.8 54.1h.7M564.1 42.2h.7M556.7 49.2h.7M575.2 38.6h.7M549.1 48.8h.7M545.9 50.8h.7M565 42.3h.7M564.8 43.1h.7M559.1 51.9h.7M547.8 55h.7M545 46.8h.7M564 44.6h.7M551.6 46.5h.7M566.2 46.1h.7M567 41.8h.7M563.4 44.5h.7M560.9 45h.7M583.7 34.3h.7M553.9 50.8h.7M546.4 53.4h.7M553.2 47.9h.7M567.6 29.7h.7M547.1 56.4h.7M550.2 50.6h.7M553.7 50h.7M553.5 48.1h.7M559.9 43.6h.7M577.6 34.3h.7M563.2 47.1h.7M579.8 34.6h.7M574.2 29h.7M572.8 38.6h.7M581.4 34h.7M576.8 37.5h.7M553.9 48.3h.7M574.7 37.9h.7M557.6 48.5h.7M562.1 48.1h.7M559.8 47.4h.7M568 37.6h.7M556.9 49.4h.7M576.6 39.2h.7M556.2 50.3h.7M557.1 46.9h.7M565.8 42.6h.7M576.1 33.7h.7M565.8 47.2h.7M572.8 37.5h.7M574.4 38.5h.7M545.1 53.1h.7M562.9 47.9h.7M556.1 52.5h.7M575.4 37.8h.7M557.6 44.3h.7M576.9 33.2h.7M562.3 49.5h.7M578.9 34.5h.7M573.9 39.2h.7M564.9 46.3h.7M553.8 52h.7M554.1 45.4h.7M570.7 39.1h.7M549.3 57h.7M571.2 33.5h.7M567.2 42h.7M551.7 53.7h.7M564.8 40.1h.7M575.6 42h.7M578.7 34.9h.7M560 41.1h.7M577.5 31.7h.7M549.3 52.6h.7M576.7 32.4h.7M544.8 52.6h.7M565.1 48.1h.7M569.9 43.8h.7M547.7 54.8h.7M560 45.6h.7M569 39.4h.7M548.1 50.8h.7M559.7 43.8h.7M579.4 32.8h.7M563.2 41.9h.7M581.4 30.3h.7M582.1 26.8h.7M543.1 54h.7" stroke="#4cab36" stroke-width="0.7" opacity="0.6"/>
<path d="M538.90 53.40C539.32 52.45 541.65 51.37 544.00 50.20C546.35 49.03 550.02 47.90 553.00 46.40C555.98 44.90 558.92 43.13 561.90 41.20C564.88 39.27 568.13 36.60 570.90 34.80C573.67 33.00 576.70 31.13 578.50 30.40C580.30 29.67 581.17 29.77 581.70 30.40C582.23 31.03 582.87 32.40 581.70 34.20C580.53 36.00 577.35 38.97 574.70 41.20C572.05 43.43 569.00 45.68 565.80 47.60C562.60 49.52 558.70 51.32 555.50 52.70C552.30 54.08 548.93 55.37 546.60 55.90C544.27 56.43 542.78 56.32 541.50 55.90C540.22 55.48 538.48 54.35 538.90 53.40Z" fill="#4cab36" stroke="#4cab36" stroke-width="1.8"/>
<path d="M541.35 53.45C541.56 52.98 542.72 52.43 543.90 51.85C545.08 51.27 546.91 50.70 548.40 49.95C549.89 49.20 551.36 48.32 552.85 47.35C554.34 46.38 555.97 45.05 557.35 44.15C558.73 43.25 560.25 42.32 561.15 41.95C562.05 41.58 562.48 41.63 562.75 41.95C563.02 42.27 563.33 42.95 562.75 43.85C562.17 44.75 560.58 46.23 559.25 47.35C557.92 48.47 556.40 49.59 554.80 50.55C553.20 51.51 551.25 52.41 549.65 53.10C548.05 53.79 546.37 54.43 545.20 54.70C544.03 54.97 543.29 54.91 542.65 54.70C542.01 54.49 541.14 53.93 541.35 53.45Z" fill="#fff"/>
<path d="M540.76 53.44C541.02 52.85 542.47 52.18 543.92 51.45C545.38 50.73 547.65 50.03 549.50 49.10C551.35 48.17 553.17 47.07 555.02 45.87C556.87 44.68 558.89 43.02 560.60 41.91C562.32 40.79 564.20 39.63 565.31 39.18C566.43 38.72 566.97 38.79 567.30 39.18C567.63 39.57 568.02 40.42 567.30 41.53C566.57 42.65 564.60 44.49 562.96 45.87C561.31 47.26 559.42 48.65 557.44 49.84C555.46 51.03 553.04 52.15 551.05 53.00C549.07 53.86 546.98 54.66 545.54 54.99C544.09 55.32 543.17 55.25 542.37 54.99C541.58 54.73 540.50 54.03 540.76 53.44Z" fill="none" stroke="#fff" stroke-width=".5"/>
<path d="M540.27 53.43C540.57 52.74 542.25 51.96 543.94 51.12C545.64 50.28 548.28 49.47 550.42 48.39C552.57 47.31 554.68 46.04 556.83 44.64C558.98 43.25 561.32 41.33 563.31 40.04C565.30 38.74 567.49 37.40 568.78 36.87C570.08 36.34 570.70 36.41 571.09 36.87C571.47 37.32 571.93 38.31 571.09 39.60C570.25 40.90 567.96 43.04 566.05 44.64C564.14 46.25 561.94 47.87 559.64 49.25C557.34 50.63 554.53 51.93 552.22 52.92C549.92 53.92 547.50 54.84 545.82 55.23C544.14 55.61 543.07 55.53 542.14 55.23C541.22 54.93 539.97 54.11 540.27 53.43Z" fill="none" stroke="#fff" stroke-width=".5"/>
<path d="M539.78 53.42C540.12 52.64 542.04 51.75 543.96 50.79C545.89 49.84 548.90 48.91 551.34 47.68C553.79 46.45 556.20 45.00 558.64 43.41C561.09 41.83 563.75 39.64 566.02 38.17C568.29 36.69 570.78 35.16 572.25 34.56C573.73 33.96 574.44 34.04 574.88 34.56C575.32 35.08 575.83 36.20 574.88 37.67C573.92 39.15 571.31 41.58 569.14 43.41C566.97 45.25 564.46 47.09 561.84 48.66C559.22 50.23 556.02 51.71 553.39 52.84C550.77 53.98 548.01 55.03 546.10 55.47C544.18 55.91 542.97 55.81 541.91 55.47C540.86 55.13 539.44 54.20 539.78 53.42Z" fill="none" stroke="#fff" stroke-width=".5"/>
<path d="M541.35 53.45C541.56 52.98 542.72 52.43 543.90 51.85C545.08 51.27 546.91 50.70 548.40 49.95C549.89 49.20 551.36 48.32 552.85 47.35C554.34 46.38 555.97 45.05 557.35 44.15C558.73 43.25 560.25 42.32 561.15 41.95C562.05 41.58 562.48 41.63 562.75 41.95C563.02 42.27 563.33 42.95 562.75 43.85C562.17 44.75 560.58 46.23 559.25 47.35C557.92 48.47 556.40 49.59 554.80 50.55C553.20 51.51 551.25 52.41 549.65 53.10C548.05 53.79 546.37 54.43 545.20 54.70C544.03 54.97 543.29 54.91 542.65 54.70C542.01 54.49 541.14 53.93 541.35 53.45Z" fill="none" stroke="#4cab36" stroke-width=".6"/>
<path d="M564.8 91.2h.7M580.8 68.3h.7M580.1 62.5h.7M561 81.9h.7M571.8 69.5h.7M575.2 56.6h.7M585.3 56.1h.7M576.3 71.3h.7M566.6 85.2h.7M579.8 57.9h.7M564.1 76h.7M586 58.1h.7M569.5 80.9h.7M571.4 81.8h.7M571.2 69.3h.7M562.3 72h.7M575.7 71.9h.7M583.3 55.1h.7M572.7 76.7h.7M577 59.9h.7M561.2 80.3h.7M578.9 59h.7M572.4 68.6h.7M570.1 64.6h.7M559.6 83.9h.7M561.9 77.6h.7M569.6 71.4h.7M562.2 75h.7M555.6 85.8h.7M580.3 65.3h.7M570.9 78.3h.7M582.8 54.6h.7M559.8 76.1h.7M558.3 84.1h.7M578.5 67.3h.7M568.1 71.3h.7M565.2 78.7h.7M577.3 72.1h.7M572.3 71.8h.7M564.2 76.5h.7M572.2 77.8h.7M577.4 59.9h.7M571.9 63.8h.7M561.4 87.3h.7M567.5 64.9h.7M574 69.8h.7M582.3 59.4h.7M571.9 75.7h.7M589.4 58.6h.7M566.6 80.5h.7M576.3 66h.7M571.8 61.6h.7M569.6 79.3h.7M558.4 91.1h.7M579.7 67.9h.7M581.3 58.9h.7M571.7 78.7h.7M563.2 84.5h.7M556 88.7h.7M571.4 64.9h.7M560.7 79.3h.7M583.2 63.4h.7M564.5 74.5h.7M575.3 73.1h.7M567.7 75.5h.7M583 58.2h.7M561.5 80.3h.7M560.1 83.7h.7M572.1 70.7h.7M560.2 82.2h.7M583.6 58.3h.7M569.6 67.3h.7M582 57.4h.7M573.9 79.6h.7M567.2 79.4h.7M571.6 78.3h.7M562.4 85.4h.7M567.8 68h.7M578.1 67.2h.7M572.1 76.7h.7M568.6 73.8h.7M559.9 90.6h.7M582.6 58h.7M580.2 66.6h.7M585.7 58.2h.7M581 58.3h.7M576.8 61.2h.7M585.3 59.7h.7M579 62.4h.7M585.8 55.2h.7M565.9 87.3h.7M561.1 84h.7M571.7 82.1h.7M559.3 88.2h.7M570.2 76.8h.7M561.1 86.9h.7M576.5 70.9h.7M574.2 82.7h.7M576.4 69.8h.7M577.6 63.9h.7M574.8 71.8h.7M575.2 68.2h.7M571.7 67h.7M568.2 74.5h.7M573.7 66.8h.7M573 72h.7M565.5 71.4h.7M559.8 89.5h.7M581.3 69.1h.7M564.9 82h.7M568.9 67.7h.7M575 61h.7M557.5 90.2h.7M578.3 58.4h.7M582.2 64h.7M570.1 71.3h.7M576.6 66.2h.7M565.7 68.5h.7M574.5 62.9h.7M579.1 55.9h.7M560.9 75h.7M577.8 57.9h.7M581.6 63.8h.7M559.2 78.7h.7M583.6 56.5h.7M565.6 79.2h.7M565.9 78h.7M574.3 69.1h.7M582.4 64.8h.7M572.6 64.3h.7M568.1 81.4h.7M559.3 86h.7M580.5 61.6h.7M557.9 80h.7M579.8 58.1h.7M567.3 82.7h.7M579.6 68.2h.7M572.4 64.2h.7M569.1 83.1h.7M567.2 75h.7M567.9 69.7h.7M566.7 77.4h.7M562 74.1h.7M573 66.4h.7M569.3 68.6h.7M580.4 56.5h.7M558.5 81.6h.7M562.6 73.2h.7M570.3 85h.7M571 72.2h.7M567 80.4h.7M582.4 61.6h.7M576 71.9h.7M574 65h.7M562.2 89.2h.7M560.3 86h.7M573.9 64.4h.7M583.7 60h.7M562.8 75.4h.7M558.3 78.6h.7M584.6 61.7h.7M583.2 63.4h.7M567.2 71.1h.7M562.2 78.7h.7M574.4 77.2h.7M578.7 62h.7M577.1 61.6h.7M575.6 76.3h.7M560.2 82.8h.7M577.9 60.9h.7M559.7 81.9h.7M562.2 83.9h.7M583.7 59h.7M572.6 76.8h.7M565.1 72.2h.7M565.2 81.6h.7M561.7 73.5h.7M571.2 69.2h.7M563.1 80.1h.7M583.6 64.7h.7M562.9 79.8h.7M568.2 81.4h.7M575.7 61.7h.7M567.6 74.9h.7M576.6 74.7h.7M571.9 64.5h.7M571 72.4h.7M582.2 62.2h.7M583.2 55.2h.7M585.7 60.4h.7M579.8 69.2h.7M585.6 62.6h.7M574.1 76.9h.7M564.4 72.8h.7M588.4 52.4h.7M575 66.4h.7M561.7 76.5h.7M580.6 56.7h.7M575.3 68h.7M558.4 90.2h.7M580.1 59.3h.7M565 88.4h.7M560.1 77.8h.7M582 70.7h.7M582.1 61h.7M562.6 77.8h.7M575 74.8h.7M584.2 66.3h.7M585 53.5h.7M570.4 73.1h.7M568.7 83h.7M572.4 67.1h.7M577.1 74.5h.7M577 67.2h.7M582.6 61.6h.7M571.1 83.3h.7M556.4 87.6h.7M561.8 79.9h.7M569.5 74h.7M563.1 80h.7M567 82h.7M568.2 85.3h.7M569.7 78.6h.7M577.2 70.3h.7M578.2 58.2h.7M573.6 65.4h.7M570.7 72.5h.7M569.8 85h.7M584.5 69.6h.7M567.6 81.7h.7M571.3 66.1h.7M559.9 82.2h.7M565.7 84.3h.7M576.6 64.9h.7M585.5 58.9h.7M558.7 80.1h.7M568.6 64.1h.7M562.9 84.1h.7M558.6 78.3h.7M562.1 77.6h.7M574.5 63.5h.7M565.1 84.1h.7M560.2 91.6h.7M587.7 58h.7M564.6 75.2h.7M563.6 74.3h.7M562.8 88.9h.7M565.1 72.4h.7M578.9 57.3h.7M576.2 66.2h.7M571.5 72.2h.7M583.9 57.4h.7M560.7 82.7h.7M560.6 91.1h.7M565.6 69h.7M570.6 71.7h.7M570.7 71.7h.7M576 72.3h.7M579.3 57.3h.7M564.9 67.5h.7M574.9 60.9h.7M561.3 89.2h.7M572.2 72.2h.7M556.8 90.7h.7M587.7 55.8h.7M580.7 66h.7M562.4 82.7h.7M583.5 65.3h.7M570 63.4h.7M580.4 57.5h.7M567.4 79.8h.7M579.7 60.6h.7M584.5 55.3h.7M559.2 82.3h.7M569.9 63.4h.7M568.1 80.6h.7M582.8 62.9h.7M583 64.6h.7M559.5 87h.7M556.4 83.7h.7M559.4 87.6h.7M563 73.4h.7M580.5 55.8h.7M556.2 85h.7M577.7 55.9h.7M579.3 61.5h.7M576.9 62.9h.7M559.2 77.6h.7M569.8 80.5h.7M569.1 73.4h.7M571.6 73.5h.7M580.8 56.4h.7M577.2 73.4h.7M576.1 73h.7M557.4 88h.7M567.7 70h.7M573.3 66.5h.7M586.6 64.5h.7M571.2 68.3h.7M568.7 85.4h.7" stroke="#1f5fae" stroke-width="0.7" opacity="0.6"/>
<path d="M558.10 93.00C556.80 92.55 555.72 91.63 555.50 89.80C555.28 87.97 555.58 84.97 556.80 82.00C558.02 79.03 560.47 75.17 562.80 72.00C565.13 68.83 568.13 65.50 570.80 63.00C573.47 60.50 576.47 58.50 578.80 57.00C581.13 55.50 583.33 54.25 584.80 54.00C586.27 53.75 587.30 54.25 587.60 55.50C587.90 56.75 587.65 59.17 586.60 61.50C585.55 63.83 583.02 67.17 581.30 69.50C579.58 71.83 578.22 73.08 576.30 75.50C574.38 77.92 571.97 81.17 569.80 84.00C567.63 86.83 565.25 91.00 563.30 92.50C561.35 94.00 559.40 93.45 558.10 93.00Z" fill="#1f5fae" stroke="#1f5fae" stroke-width="1.8"/>
<path d="M557.90 90.40C557.45 90.24 557.07 89.92 557.00 89.28C556.92 88.64 557.02 87.59 557.45 86.55C557.88 85.51 558.73 84.16 559.55 83.05C560.37 81.94 561.42 80.78 562.35 79.90C563.28 79.03 564.33 78.33 565.15 77.80C565.97 77.27 566.74 76.84 567.25 76.75C567.76 76.66 568.12 76.84 568.23 77.28C568.34 77.71 568.25 78.56 567.88 79.38C567.51 80.19 566.63 81.36 566.02 82.17C565.42 82.99 564.95 83.43 564.27 84.28C563.60 85.12 562.76 86.26 562.00 87.25C561.24 88.24 560.41 89.70 559.72 90.22C559.04 90.75 558.36 90.56 557.90 90.40Z" fill="#fff"/>
<path d="M557.94 90.88C557.33 90.67 556.82 90.24 556.72 89.38C556.62 88.51 556.76 87.10 557.33 85.71C557.90 84.32 559.05 82.50 560.15 81.01C561.25 79.52 562.66 77.95 563.91 76.78C565.16 75.61 566.57 74.67 567.67 73.96C568.77 73.26 569.80 72.67 570.49 72.55C571.18 72.43 571.67 72.67 571.81 73.25C571.95 73.84 571.83 74.98 571.34 76.08C570.84 77.17 569.65 78.74 568.84 79.84C568.04 80.93 567.40 81.52 566.50 82.66C565.59 83.79 564.46 85.32 563.44 86.65C562.42 87.98 561.30 89.94 560.38 90.64C559.47 91.35 558.55 91.09 557.94 90.88Z" fill="none" stroke="#fff" stroke-width=".5"/>
<path d="M557.97 91.28C557.23 91.02 556.61 90.50 556.49 89.46C556.37 88.41 556.54 86.70 557.23 85.01C557.92 83.32 559.32 81.12 560.65 79.31C561.98 77.50 563.69 75.61 565.21 74.18C566.73 72.76 568.44 71.62 569.77 70.76C571.10 69.91 572.35 69.19 573.19 69.05C574.03 68.91 574.61 69.19 574.79 69.91C574.96 70.62 574.81 72.00 574.22 73.33C573.62 74.66 572.17 76.56 571.19 77.89C570.22 79.22 569.44 79.93 568.34 81.31C567.25 82.68 565.88 84.54 564.64 86.15C563.40 87.77 562.05 90.14 560.93 91.00C559.82 91.85 558.71 91.54 557.97 91.28Z" fill="none" stroke="#fff" stroke-width=".5"/>
<path d="M558.00 91.68C557.13 91.38 556.40 90.76 556.26 89.54C556.11 88.31 556.31 86.30 557.13 84.31C557.95 82.32 559.59 79.73 561.15 77.61C562.71 75.49 564.72 73.25 566.51 71.58C568.30 69.91 570.31 68.56 571.87 67.56C573.43 66.56 574.91 65.72 575.89 65.55C576.87 65.38 577.56 65.72 577.77 66.56C577.97 67.39 577.80 69.01 577.10 70.58C576.39 72.14 574.70 74.37 573.54 75.94C572.39 77.50 571.48 78.34 570.19 79.95C568.91 81.57 567.29 83.75 565.84 85.65C564.39 87.55 562.79 90.34 561.48 91.34C560.18 92.35 558.87 91.98 558.00 91.68Z" fill="none" stroke="#fff" stroke-width=".5"/>
<path d="M557.90 90.40C557.45 90.24 557.07 89.92 557.00 89.28C556.92 88.64 557.02 87.59 557.45 86.55C557.88 85.51 558.73 84.16 559.55 83.05C560.37 81.94 561.42 80.78 562.35 79.90C563.28 79.03 564.33 78.33 565.15 77.80C565.97 77.27 566.74 76.84 567.25 76.75C567.76 76.66 568.12 76.84 568.23 77.28C568.34 77.71 568.25 78.56 567.88 79.38C567.51 80.19 566.63 81.36 566.02 82.17C565.42 82.99 564.95 83.43 564.27 84.28C563.60 85.12 562.76 86.26 562.00 87.25C561.24 88.24 560.41 89.70 559.72 90.22C559.04 90.75 558.36 90.56 557.90 90.40Z" fill="none" stroke="#1f5fae" stroke-width=".6"/>
<path d="M570 56.4h.7M571 69.9h.7M554 75.7h.7M571.1 62.9h.7M569.5 70h.7M557.2 80.8h.7M578.2 49.7h.7M571.1 59.9h.7M572.8 68.6h.7M573.9 65.7h.7M564.4 73.6h.7M568.8 67h.7M568.8 73.2h.7M564.8 61.2h.7M558.7 71h.7M565.5 69.3h.7M555.3 76.5h.7M561.3 73.1h.7M572.9 69.1h.7M580.7 56.8h.7M577.5 60.3h.7M568.6 57.3h.7M565.4 68.6h.7M577.8 56h.7M558.9 71.8h.7M580.8 54.3h.7M556.3 72.5h.7M554.7 78.9h.7M564.4 68h.7M574.8 58.8h.7M577.6 62.9h.7M574.4 62.5h.7M558.1 80.2h.7M579.8 61.9h.7M566.9 63.6h.7M569.5 67.9h.7M582.8 55.4h.7M571.8 62.5h.7M571.1 65.1h.7M560.8 68.3h.7M580.9 61.8h.7M558.6 79.2h.7M552.2 82.8h.7M567.3 76.7h.7M560.5 72h.7M559.6 71.2h.7M572.3 59.8h.7M563 75.7h.7M565.2 65.5h.7M566.7 57.7h.7M557.8 78.6h.7M567.9 61.9h.7M579.1 51.9h.7M565.1 77.5h.7M572.4 68h.7M580 60.5h.7M571.1 55h.7M560.6 72.9h.7M574.2 65.8h.7M577.4 54.8h.7M570.2 63.4h.7M561 74.4h.7M563.2 74.1h.7M575.8 63h.7M560.3 75.3h.7M564.4 68.5h.7M564.5 65.8h.7M561 76.8h.7M562.4 70.2h.7M576.7 52.8h.7M580.4 50.8h.7M570.8 65.2h.7M561.5 70.8h.7M567.3 64.1h.7M561.5 68.2h.7M582.1 54.5h.7M569.1 64.2h.7M569.6 63.6h.7M570.2 57.4h.7M579.3 56.4h.7M567.7 70.2h.7M568 65.5h.7M560.1 76.8h.7M572.6 56.1h.7M555.6 83.9h.7M576.5 58.3h.7M580.8 56.4h.7M560.4 79.5h.7M557.7 80.4h.7M561.6 76.2h.7M563.6 72.6h.7M556.7 73.5h.7M570.4 60.1h.7M571.2 59.8h.7M575.9 63.2h.7M564.1 63.8h.7M580.7 59.5h.7M561.3 76.1h.7M569.8 59.4h.7M569.8 58h.7M568.6 61.9h.7M562.7 74.3h.7M553.6 76.1h.7M566.6 71h.7M581.6 57.3h.7M568.7 61.1h.7M554.5 71.2h.7M556.8 72.2h.7M564.3 69.7h.7M568.8 67.6h.7M571.5 55.8h.7M579.2 56.2h.7M572.8 62.6h.7M560.2 68.7h.7M576.6 55.6h.7M578.7 61.2h.7M556.1 70.7h.7M567.6 73.8h.7M573.3 63h.7M564 66h.7M561.4 71.2h.7M573 55.2h.7M556.3 75.6h.7M569.5 59.6h.7M561.4 78.4h.7M556.6 80h.7M580 55.7h.7M567.3 72.4h.7M565.4 73.4h.7M583.2 54.4h.7M575.3 66.3h.7M562.2 79.1h.7M575.8 62h.7M567.6 63.1h.7M557.9 71.9h.7M577.4 59.6h.7M576.6 63.6h.7M571.3 56.9h.7M568.1 68.8h.7M578.4 60.8h.7M575.6 56.2h.7M567.5 65.3h.7M552.6 77.5h.7M559.4 79.7h.7M557.9 73.1h.7M573.4 58.8h.7M575.2 61.2h.7M576.8 61.3h.7M563.2 72.4h.7M565 62.4h.7M574.1 55.7h.7M549.4 78h.7M561.8 65.6h.7M579.4 51.7h.7M566.2 62.7h.7M570.3 56.6h.7M554.9 77.7h.7M576.7 54.8h.7M577.3 65.2h.7M558 68.6h.7M569.5 68.2h.7M564.5 76.2h.7M555.9 69.2h.7M570.6 69h.7M559.1 72.3h.7M577.2 56.9h.7M565.8 71.7h.7M565.3 68h.7M555.2 70.5h.7M568.4 61.5h.7M578.9 51.3h.7M565.4 59.8h.7M563.3 67.2h.7M566.1 63.2h.7M564.9 67.3h.7M566.3 73.9h.7M561.1 71.3h.7M578.5 57.6h.7M564.9 66.4h.7M576.7 61h.7M577.4 60.6h.7M567 66.8h.7M563.5 69.4h.7M569.4 68.1h.7M563.7 63.7h.7M564.4 64.2h.7M567.3 64.8h.7M557.3 75.3h.7M558.4 67.4h.7M580.4 55.6h.7M560.1 70.4h.7M580.4 54.7h.7M580.8 59.7h.7M561 79.2h.7M561.4 75.6h.7M561.3 78.6h.7M567.9 68h.7M573.3 65.1h.7M564.7 71.5h.7M568.6 62.9h.7M572.3 53.8h.7M573 64h.7M563.7 78.2h.7M558 79.4h.7M574.7 61.6h.7M582.4 55.7h.7M564.3 73.3h.7M575.9 66.2h.7M580.4 52.6h.7M569.4 61.8h.7M561.9 71.4h.7M572.7 62.5h.7M573 63.7h.7M579.4 62.7h.7M567 58.5h.7M563.1 71.5h.7M560.4 72.8h.7M576.7 56.3h.7M569.1 59.7h.7M559.8 71.1h.7M571.6 61.5h.7M562.2 74h.7M565.3 71.2h.7M566.8 63.2h.7M570.1 59.8h.7M572.2 61.3h.7M573.6 55.3h.7M564.7 64.8h.7M566.2 68.6h.7M575 55.9h.7M573.5 57h.7M563.2 65.6h.7M556.6 70.5h.7M566.4 66.8h.7M561.7 75.1h.7M568 75.4h.7M566.7 74.3h.7M570.8 61.5h.7M575.4 57.1h.7M555.2 78.4h.7M549.8 77.7h.7M579.4 58.1h.7M564.2 73.6h.7M558.7 77.3h.7M565.5 68.4h.7M578.6 51.6h.7M574.6 66.6h.7M579.6 63.2h.7M572.6 65.8h.7M575.3 56.4h.7" stroke="#b81c20" stroke-width="0.7" opacity="0.6"/>
<path d="M551.70 79.60C551.70 77.90 553.02 75.33 554.30 73.20C555.58 71.07 557.28 69.15 559.40 66.80C561.52 64.45 564.45 61.33 567.00 59.10C569.55 56.87 572.13 54.67 574.70 53.40C577.27 52.13 580.90 51.40 582.40 51.50C583.90 51.60 583.70 52.73 583.70 54.00C583.70 55.27 583.90 56.97 582.40 59.10C580.90 61.23 577.27 64.23 574.70 66.80C572.13 69.37 569.55 71.95 567.00 74.50C564.45 77.05 561.52 80.62 559.40 82.10C557.28 83.58 555.58 83.82 554.30 83.40C553.02 82.98 551.70 81.30 551.70 79.60Z" fill="#b81c20" stroke="#b81c20" stroke-width="1.8"/>
<path d="M552.69 79.41C552.69 78.25 553.59 76.51 554.46 75.06C555.33 73.61 556.49 72.30 557.93 70.70C559.37 69.11 561.36 66.99 563.10 65.47C564.83 63.95 566.59 62.45 568.33 61.59C570.08 60.73 572.55 60.23 573.57 60.30C574.59 60.37 574.45 61.14 574.45 62.00C574.45 62.86 574.59 64.02 573.57 65.47C572.55 66.92 570.08 68.96 568.33 70.70C566.59 72.45 564.83 74.21 563.10 75.94C561.36 77.67 559.37 80.10 557.93 81.11C556.49 82.12 555.33 82.28 554.46 81.99C553.59 81.71 552.69 80.56 552.69 79.41Z" fill="none" stroke="#fff" stroke-width=".45" opacity=".9"/>
<path d="M553.22 79.31C553.22 78.44 553.89 77.13 554.54 76.04C555.20 74.95 556.07 73.98 557.15 72.78C558.23 71.58 559.72 69.99 561.02 68.85C562.32 67.71 563.64 66.59 564.95 65.94C566.26 65.30 568.11 64.92 568.88 64.97C569.64 65.03 569.54 65.60 569.54 66.25C569.54 66.90 569.64 67.76 568.88 68.85C568.11 69.94 566.26 71.47 564.95 72.78C563.64 74.09 562.32 75.40 561.02 76.70C559.72 78.01 558.23 79.82 557.15 80.58C556.07 81.34 555.20 81.46 554.54 81.24C553.89 81.03 553.22 80.17 553.22 79.31Z" fill="none" stroke="#fff" stroke-width=".45" opacity=".9"/>
<path d="M553.75 79.20C553.75 78.63 554.19 77.75 554.63 77.03C555.07 76.30 555.64 75.65 556.36 74.85C557.08 74.05 558.08 72.99 558.95 72.23C559.82 71.47 560.69 70.73 561.57 70.30C562.44 69.87 563.67 69.62 564.18 69.65C564.69 69.68 564.63 70.07 564.63 70.50C564.63 70.93 564.69 71.51 564.18 72.23C563.67 72.96 562.44 73.98 561.57 74.85C560.69 75.72 559.82 76.60 558.95 77.47C558.08 78.34 557.08 79.55 556.36 80.05C555.64 80.56 555.07 80.64 554.63 80.50C554.19 80.35 553.75 79.78 553.75 79.20Z" fill="none" stroke="#fff" stroke-width=".45" opacity=".9"/>
<path d="M535.6 102.4h.7M518.7 100.2h.7M521.4 101.1h.7M513.6 103.3h.7M519.1 102.3h.7M530.5 104.5h.7M527.8 104.3h.7M510.3 94.9h.7M511 97.1h.7M522.2 97.5h.7M513.2 101.5h.7M535.5 102.5h.7M509.5 100.7h.7M514.5 104.9h.7M515.9 100.2h.7M509.3 100.4h.7M518.5 104.6h.7M518.5 96.8h.7M512.2 100.1h.7M509 101.6h.7M511.9 107.4h.7M511.1 90.7h.7M513.7 97.7h.7M524.4 99.3h.7M526.4 104h.7M526.6 100.4h.7M513.5 94.8h.7M511.1 97.8h.7M528 103.1h.7M516.6 102.4h.7M520 102.7h.7M521.4 99.2h.7M515.6 102.4h.7M514 96.3h.7M535.5 105.2h.7M514.9 99.3h.7M528.5 102.9h.7M517 101.2h.7M507.7 100.2h.7M526.7 104.1h.7M513.5 95.1h.7M508.9 92.4h.7M509.1 102h.7M519.3 106.6h.7M519.6 96.2h.7M510.6 102.9h.7M512.4 100h.7M514.3 96.4h.7M524.4 106h.7M527.3 101.5h.7M523.8 100.2h.7M528.8 100.3h.7M519 98.7h.7M514.2 100.6h.7M514 93.5h.7M515.5 103.4h.7M525.7 104h.7M518.3 102.2h.7M526.4 102.8h.7M511.6 95.2h.7M532.7 102h.7M512.7 94.5h.7M520.8 102h.7M518.4 97.2h.7M519.2 100.3h.7M509.2 103.3h.7M520.6 105.5h.7M511.3 100h.7M516.5 103.4h.7M513.2 105.2h.7M512.1 107.3h.7M510.5 93.8h.7M512.4 103.8h.7M512.5 94.7h.7M522.2 99.9h.7M522.9 98.2h.7M517.8 99.7h.7M513.9 97.4h.7M525.4 100.6h.7M517.4 99.1h.7M510.9 102.8h.7M516 97.9h.7M515.4 101.4h.7M518.4 96.9h.7M529.7 102.4h.7M510.2 92.7h.7M510.6 94.9h.7M522.9 102.5h.7M524.5 103.4h.7M530 102h.7M517.9 101.9h.7M532.3 101.6h.7M509.3 99.2h.7M508.1 101.5h.7M518.3 97.9h.7M532.9 100.2h.7M517.3 95.3h.7M510.6 92h.7M521 102h.7M523 104.2h.7M515.4 94.7h.7M526.3 106.3h.7M523.8 101.4h.7M514.8 97.1h.7M514.5 98.4h.7M531.1 104.5h.7M511.9 103.3h.7M520.8 106.7h.7M528.5 105.7h.7M525.7 99.6h.7M509.8 100.4h.7M530.8 102h.7M527.2 104.8h.7M529.5 100.9h.7M522.5 103.8h.7M507.5 96.2h.7M525.3 104h.7M506.8 98.9h.7M520.3 99.5h.7M517.5 94.4h.7M528.5 104.2h.7M510.2 105.6h.7M515.3 102.3h.7M514.9 104.9h.7M536.5 102.2h.7M528.2 106h.7M513.6 102.1h.7M535.1 103.9h.7M510.4 97.3h.7M513.3 95.8h.7M527.3 103.8h.7M518 103.6h.7M514 101.5h.7M509.7 99.9h.7M516.1 100.6h.7M518.4 100.5h.7M512.2 101.4h.7M529.3 101.7h.7M511.2 98.5h.7M513.4 95.6h.7M516.2 98.4h.7M520.7 98.8h.7M509.6 92.7h.7M509.8 100.3h.7M509.6 96.4h.7M513.6 97.9h.7M512.7 98.9h.7M515.4 100.3h.7M512 94.1h.7M512.5 101.9h.7" stroke="#b81c20" stroke-width="0.7" opacity="0.6"/>
<path d="M508.80 92.00C509.63 90.17 512.13 93.08 513.80 94.00C515.47 94.92 516.97 96.50 518.80 97.50C520.63 98.50 522.47 99.33 524.80 100.00C527.13 100.67 530.80 101.00 532.80 101.50C534.80 102.00 536.13 102.42 536.80 103.00C537.47 103.58 541.47 104.67 536.80 105.00C532.13 105.33 513.47 107.17 508.80 105.00C504.13 102.83 507.97 93.83 508.80 92.00Z" fill="#b81c20" stroke="#b81c20" stroke-width="1.8"/>
<path d="M510.80 92.00C511.63 92.17 513.97 92.33 515.80 93.00C517.63 93.67 519.63 95.00 521.80 96.00C523.97 97.00 527.63 98.50 528.80 99.00" fill="none" stroke="#1f5fae" stroke-width=".8"/>
<path d="M539.80 104.00C540.63 103.67 541.63 102.33 544.80 102.00C547.97 101.67 555.80 101.67 558.80 102.00C561.80 102.33 562.13 103.67 562.80 104.00" fill="none" stroke="#1f5fae" stroke-width=".8"/>
</g>
<path d="M506.4 7.4h2.6M507.4 20.5h1.6M507.4 17.2h1.6M507.4 14.8h1.6M507.4 13.0h1.6M507.4 11.5h1.6M507.4 10.3h1.6M507.4 9.2h1.6M507.4 8.3h1.6M506.4 26.1h2.6M507.4 39.8h1.6M507.4 36.3h1.6M507.4 33.9h1.6M507.4 32.0h1.6M507.4 30.4h1.6M507.4 29.1h1.6M507.4 28.0h1.6M507.4 27.0h1.6M506.4 45.7h2.6M507.4 59.6h1.6M507.4 56.1h1.6M507.4 53.6h1.6M507.4 51.7h1.6M507.4 50.1h1.6M507.4 48.8h1.6M507.4 47.6h1.6M507.4 46.6h1.6M506.4 65.6h2.6M507.2 72.8h1.8M507.2 78.3h1.8M507.2 83.3h1.8M507.2 87.8h1.8M507.2 91.3h1.8M507.2 94.0h1.8M507.2 97.3h1.8M507.2 100.3h1.8M513.0 104.6v1.8M517.0 104.6v1.8M520.0 104.6v1.8M523.5 104.6v1.8M527.0 104.6v1.8M530.0 104.6v1.8M534.0 104.6v1.8M538.0 104.6v1.8M542.0 104.6v1.8M558.7 104.6v2.4M545.8 104.6v1.6M548.9 104.6v1.6M551.3 104.6v1.6M553.2 104.6v1.6M554.9 104.6v1.6M556.3 104.6v1.6M557.6 104.6v1.6M583.4 104.6v2.4M566.1 104.6v1.6M570.5 104.6v1.6M573.6 104.6v1.6M576.0 104.6v1.6M577.9 104.6v1.6M579.6 104.6v1.6M581.0 104.6v1.6M582.3 104.6v1.6M608.0 104.6v2.4M590.8 104.6v1.6M595.1 104.6v1.6M598.2 104.6v1.6M600.6 104.6v1.6M602.5 104.6v1.6M604.2 104.6v1.6M605.6 104.6v1.6M545.8 104.6v1.6M548.9 104.6v1.6M551.3 104.6v1.6M553.2 104.6v1.6M554.9 104.6v1.6M556.3 104.6v1.6M557.6 104.6v1.6" stroke="#000" stroke-width="1.1" fill="none"/>
<rect x="509.9" y="7.1" width="96.9" height="96.5" fill="none" stroke="#000" stroke-width="1.8"/>
<clipPath id="c2"><rect x="84.8" y="118.5" width="95.1" height="94.8"/></clipPath>
<g clip-path="url(#c2)">
<path d="M85.1 190.5h.6M144.8 170.2h.6M110.3 193.4h.6M116.9 191.6h.6M103.1 178h.6M144.9 152.7h.6M142.1 164.1h.6M93.8 162.8h.6M152.8 175.3h.6M127 189.9h.6M116 173.2h.6M114.4 195.8h.6M150.5 178.3h.6M142.7 183.1h.6M107.8 198.2h.6M95 179h.6M138 193.6h.6M136.6 190.7h.6M139.2 192.9h.6M131.6 160.9h.6M130.7 170h.6M127.7 179.7h.6M146.2 187.9h.6M132.7 183.8h.6M131.8 185.8h.6M145.6 180.3h.6M117.6 185.4h.6M95.1 167h.6M124.2 176.4h.6M120.9 191.5h.6M120.7 190.6h.6M117.2 161.8h.6M96 181.1h.6M116.3 198.3h.6M108.7 190.3h.6M99.6 184.7h.6M151.5 190.4h.6M113.3 155.8h.6M130.8 189.2h.6M136.2 189.6h.6M85.7 177h.6M148.3 158.6h.6M125.3 170.8h.6M86.3 195h.6M107.1 154h.6M108.8 198.2h.6M135.5 177.3h.6M106.2 187.7h.6M114.7 162.9h.6M135.9 175.7h.6M154.8 190.1h.6M100.6 170.6h.6M91.5 158h.6M149.7 182.1h.6M99.3 169.6h.6M94.7 159.9h.6M135.5 188.5h.6M123.2 174.9h.6M142.7 190.8h.6M97.6 182.7h.6" stroke="#1f5fae" stroke-width="0.6" opacity="0.5"/>
<path d="M123.3 178.5h.6M154.7 193.2h.6M140 200.4h.6M89.2 198.5h.6M140.5 195.3h.6M140.2 195.1h.6M134.8 201h.6M92.3 185.9h.6M148.8 207.9h.6M95.3 196.7h.6M94 176.8h.6M100.4 194.9h.6M111.9 196.5h.6M124.5 202.7h.6M142.7 179.2h.6M154.7 193.3h.6M123.5 192.5h.6M109.7 192.8h.6M108.7 203.2h.6M113.3 195.3h.6M102.7 195.7h.6M104.5 184.7h.6M154 194.1h.6M104.7 199.4h.6M139 174.8h.6M85.1 185.3h.6M128.8 199.8h.6M133.4 181.6h.6M154.7 186.1h.6M123.3 184.7h.6M147.8 180.8h.6M122.9 179.3h.6M140.6 191.9h.6M87.5 207h.6M113.1 205.2h.6M91.8 204.7h.6M107.7 207h.6M107.8 198.1h.6M137.1 178h.6M132.1 205.1h.6M150.9 199.7h.6M144.6 177.9h.6M85.9 202.5h.6M137.4 189.7h.6M114.4 174.4h.6M131.4 179.1h.6M132.7 182.7h.6M93.2 205.7h.6M95.5 196.7h.6M91.3 183.6h.6" stroke="#4cab36" stroke-width="0.6" opacity="0.5"/>
<path d="M122.5 205.2h.6M149.4 193.4h.6M147.5 200.5h.6M129 195.3h.6M109.5 180.1h.6M142.6 181h.6M154.6 200.4h.6M141.6 190.3h.6M137.7 185.5h.6M105.2 197.7h.6M149 204.5h.6M108.9 181.2h.6M105.9 183.2h.6M125.4 194.1h.6M127.3 185.6h.6M112.9 205.4h.6M111.8 191.5h.6M113.2 187.1h.6M140 184.9h.6M103.4 179.2h.6M107.6 190.6h.6M116.2 196h.6M126.1 184.6h.6M106 178.7h.6M105.8 202h.6M127.9 201h.6M131.2 206.3h.6M149.1 206.7h.6M147.6 195.6h.6M137 203.6h.6" stroke="#b81c20" stroke-width="0.6" opacity="0.5"/>
<path d="M121.5 182.3h.6M110.4 187.1h.6M116.5 190.4h.6M141.8 181.3h.6M136.1 193.2h.6M139.5 183.7h.6M119.2 181.4h.6M134 193.9h.6M146.7 192.2h.6M142.2 184.8h.6M109.2 185.7h.6M123.7 196.4h.6M131.3 181.2h.6M145.7 191.8h.6M116 183.3h.6M146.7 182.6h.6M126.6 195.6h.6M123.6 196.3h.6M131 188.3h.6M108.6 181.4h.6M136.2 181.3h.6M120.9 185.5h.6M123.6 182h.6M148.2 189.5h.6M140.6 180.7h.6M132.6 186.4h.6M122.1 192.6h.6M141.2 184.4h.6M129.5 189.5h.6M128.5 188.5h.6M129.5 191.6h.6M129.1 193.6h.6M127.1 191.7h.6M105.6 186.6h.6M142.7 188.2h.6M122.2 183.2h.6M109.4 183.6h.6M125.2 181.8h.6M142 183h.6M122.7 185.3h.6M129.2 190h.6M105.2 182.5h.6M126.8 181.9h.6M137.3 184.1h.6M110.9 195.4h.6M115.1 191h.6M122.9 181.9h.6M147.1 181.1h.6M125 192h.6M118.1 189.8h.6M143.1 187.9h.6M136.9 194.9h.6M124.2 187.7h.6M137.9 191.2h.6M112.2 194.9h.6M132.6 186.6h.6M115.8 185.8h.6M137.3 195.6h.6M109.5 185.6h.6M130 190h.6M117.1 185.6h.6M108.1 185.1h.6M108.3 187.1h.6M142.7 191.1h.6M127.6 181.3h.6M117.3 190.2h.6M133 189.2h.6M106.6 189.8h.6M105 189.6h.6M125 187.1h.6M122.2 183.5h.6M104.8 188.3h.6M106.1 189.4h.6M112.6 185h.6M122.8 190.2h.6M146.4 180.6h.6M106.2 186.7h.6M132.1 194.2h.6M130.8 187.3h.6M147.1 184.4h.6M113.9 189.8h.6M137.9 195.8h.6M127.6 195.2h.6M132.7 195.3h.6M108.3 182.6h.6M136.5 187.2h.6M116.7 186.6h.6M129.5 180.8h.6M140.5 188.2h.6M110.2 193.3h.6M123.2 182.6h.6M120.5 189.7h.6M146.4 187.8h.6M120.9 189.5h.6M128.9 184.5h.6M132.3 193h.6M138.2 184h.6M118.6 181.5h.6M113.7 187.6h.6M144 191.3h.6M132.4 193.4h.6M110.4 187.4h.6M105.2 186.9h.6M108.8 183.9h.6M144.2 184.8h.6M106.4 189h.6M129.4 191.2h.6M120.5 195.2h.6M135.5 181.6h.6M136.7 183h.6" stroke="#4cab36" stroke-width="0.6" opacity="0.5"/>
<path d="M125.1 187.5h.6M95.2 185.3h.6M90.5 192.4h.6M126.1 189h.6M129.8 191.3h.6M121 193.7h.6M108.7 186.2h.6M103.7 192.8h.6M94.3 189.9h.6M124.1 185.4h.6M109.7 191.5h.6M121.1 192.4h.6M107.3 185.7h.6M92.1 186.2h.6M144.4 190.7h.6M140.5 189.3h.6M108.9 189.8h.6M138.3 184.5h.6M117.1 196.6h.6M94.2 197.2h.6M106.4 188.7h.6M124.6 189.4h.6M95.8 194.8h.6M121.4 193.6h.6M94.1 193.8h.6M126.9 189.4h.6M105.5 184.9h.6M87.1 189.1h.6M130.9 198h.6M117.8 190.6h.6M124.8 189.4h.6M136.7 191.5h.6M90.1 189.9h.6M134.5 196.3h.6M101.9 184.6h.6M121.5 193.7h.6M139.6 193.5h.6M133.1 194.6h.6M119.8 189.7h.6M138.5 196.2h.6M143.3 193.7h.6M112 192h.6M118.8 192.9h.6M124.3 186.6h.6M138.6 196.4h.6M122.4 189.5h.6M123.5 195.2h.6M146.4 198.2h.6M89.1 185.2h.6M115.6 193.9h.6M104.5 190.3h.6M114.7 195.3h.6M120.3 195.2h.6M145.8 190.6h.6M104.2 186.5h.6M108.1 191.8h.6M123.6 185.5h.6M127 196.4h.6M107 189.4h.6M113.9 187.8h.6M97.7 186h.6M131 187.2h.6M89.6 195h.6M144.1 188.2h.6M108.2 186.9h.6M90.6 197.1h.6M127.3 196.4h.6M106.8 195.9h.6M112.6 190.6h.6M122.8 190.8h.6" stroke="#b81c20" stroke-width="0.6" opacity="0.5"/>
<path d="M109.6 196.9h.6M103.5 194.5h.6M113.2 188.6h.6M102.6 193.8h.6M105.2 190.6h.6M95.7 191.5h.6M103 197.4h.6M114.5 194.4h.6M114.7 196.1h.6M107.3 194.9h.6M93.4 189.2h.6M88.6 196.1h.6M96.7 191.3h.6M106.4 190.4h.6M113 195.7h.6M112.5 194h.6M102.5 188.7h.6M90.9 190.7h.6M110.6 192.8h.6M93.7 194.6h.6M111.6 197.5h.6M98.8 198h.6M101.6 196.8h.6M113.9 190h.6M103.9 190.6h.6M96 198h.6M106 195.2h.6M100.1 192.1h.6M109.1 191h.6M94.3 195.7h.6M95.7 198.2h.6M107.6 190.4h.6M109.1 193.5h.6M93.9 197.5h.6M87.4 194.7h.6M111.9 197.5h.6M97.1 189.1h.6M111.1 190.7h.6M102.6 188.7h.6M105.9 198.4h.6M87.8 196.2h.6M86.8 190.8h.6M95.5 194.9h.6M106.5 192.9h.6M97.6 189.5h.6M99.9 194.3h.6M91.8 194.9h.6M114.3 190.5h.6M103.1 194.1h.6M114.3 193.6h.6M101 195.7h.6M96.3 194.7h.6M96.6 192.1h.6M88.8 196.5h.6M98.5 191.9h.6M96.6 188.8h.6M103.1 190.1h.6M92.9 197.7h.6M96 198.1h.6M107.6 189.5h.6M108.5 191h.6M85.8 195.4h.6M112.9 197.1h.6M105.4 193.1h.6M97.4 193.5h.6M91.3 193.7h.6M96.8 191.6h.6M112.2 190.3h.6M107.9 194.5h.6M90.7 194h.6" stroke="#1f5fae" stroke-width="0.6" opacity="0.5"/>
<path d="M92.4 159.8h.7M96.4 167.3h.7M88.4 159.4h.7M89.7 164.8h.7M83.5 161.2h.7M92.6 163.1h.7M96.2 160.6h.7M104.8 160.2h.7M103 162.9h.7M105.3 161.1h.7M102.4 160.8h.7M99.5 158.9h.7M98.9 157h.7M102.5 161h.7M90.4 160.8h.7M103.1 161.6h.7M104.6 159h.7M97 161.1h.7M93.9 161.1h.7M91.3 163.2h.7M93.3 159.9h.7M101.6 158.3h.7M102 160h.7M98.1 161h.7M97.6 161h.7M99.1 156.5h.7M94.3 160.3h.7M104.2 161.3h.7M87.1 156.5h.7M97.2 159.9h.7M101.9 163.6h.7M105.1 157.3h.7M103.8 158.9h.7M93.1 158.3h.7M86.9 163h.7M92.3 157.4h.7M90.5 164.5h.7M97.4 157.6h.7M92.3 162.3h.7M102.3 160.5h.7M102 160.1h.7M94.1 160.4h.7M89.8 162.3h.7M89.1 158.7h.7M91 159.1h.7M96.7 163.3h.7M99 165.7h.7M96.7 161.4h.7M95.9 161.4h.7M105.8 162h.7M97.9 160h.7M102.8 160.8h.7M100.3 159.9h.7M94.5 163.4h.7M98.9 163h.7M102.3 161.4h.7M103.5 160.8h.7M97.8 160.3h.7M87.8 163.7h.7M100.1 161.1h.7M100.2 162h.7M92.2 158.8h.7M89.3 162.1h.7M94.5 166.4h.7M88.5 159.3h.7M92.6 164.3h.7M98.9 157.9h.7M93 163.7h.7M102.9 161.5h.7M101.3 163.9h.7M90.1 158h.7M92.3 161.8h.7M99.7 158.7h.7M100.1 156.5h.7M99.1 161.4h.7M87.9 159.6h.7M93 162.1h.7M98.7 163.7h.7M95 163.1h.7M100.8 163.6h.7M101.8 160.6h.7M100.8 163.2h.7M94.4 165.3h.7M102 159.2h.7M97.6 160.7h.7M94.2 158.3h.7M88.3 158.6h.7M102.2 160.8h.7M103.2 161.7h.7M98.6 161.5h.7M98.4 157.8h.7M96.5 163.7h.7M105.8 160.3h.7M100.7 161.9h.7M101.6 160.6h.7M104.7 162.2h.7" stroke="#1f5fae" stroke-width="0.7" opacity="0.6"/>
<path d="M108 162h.7M109.1 162.3h.7M137.8 146h.7M146.2 143.9h.7M140.3 152.8h.7M127.1 155.6h.7M133.5 148.9h.7M141 147h.7M135.3 144.9h.7M119.8 160.9h.7M108.7 161.6h.7M116.4 158.3h.7M145.4 147h.7M131.8 156h.7M120.7 153.7h.7M112.6 159.4h.7M106.3 158.6h.7M127.3 156.1h.7M117.8 158.4h.7M126.8 157.4h.7M112.5 163h.7M109.8 158.1h.7M144.8 147.9h.7M143.9 146.9h.7M128.4 157.3h.7M123.4 153.7h.7M115.6 156h.7M126.5 149.5h.7M139.9 146.2h.7M125.3 155.8h.7M108.4 160.7h.7M129.2 150.6h.7M114.5 158.8h.7M145.7 145.9h.7M117.2 158.3h.7M117.5 158.1h.7M126.9 157.5h.7M133 154.5h.7M120.6 155.3h.7M142.5 146.6h.7M130.6 153.4h.7M131 154.7h.7M113.9 161.7h.7M117.9 156.8h.7M138.8 148.6h.7M142 147.8h.7M118.7 158.2h.7M137.3 143.9h.7M143.4 141.5h.7M125.8 158h.7M142.4 142.3h.7M143.7 143.5h.7M120.3 159.3h.7M146.2 142.1h.7M105.7 159.2h.7M121.8 153.4h.7M113.4 161.6h.7M138.8 151.8h.7M134.9 150.3h.7M128.4 152.7h.7M134.2 153.9h.7M136.5 147.1h.7M133.1 148.9h.7M128 150.9h.7M115.1 158.1h.7M107.4 157.2h.7M143.5 152.4h.7M141.5 147.4h.7M119.4 156.7h.7M127.5 155.5h.7M118.8 159h.7M109.8 156.9h.7M112.4 154.6h.7M143.2 151.2h.7M118.6 157.7h.7M126.7 153.3h.7M140.8 143.1h.7M142.6 146.5h.7M127.5 155.5h.7M136.1 152h.7M132.4 151.9h.7M129.6 147.5h.7M117.5 158.4h.7M136.3 146.6h.7M146.7 144.3h.7M124.3 153.6h.7M127 150.9h.7M137.8 148.2h.7M142.2 146.4h.7M113.2 162.2h.7M139.2 153.5h.7M124.5 157.1h.7M145.6 144.2h.7M118.4 160.5h.7M123.2 159.1h.7M129.5 152.4h.7M118 159.7h.7M109 162.3h.7M145 143.9h.7M135.7 149.5h.7M120.8 155.3h.7M118.8 159.5h.7M106.4 156.2h.7M138.1 149.8h.7M115.5 154.4h.7M116.1 159.9h.7M123.4 157.2h.7M128.6 156.8h.7M110.7 162.9h.7M132.9 150.1h.7M125.3 157.1h.7M112.7 160.2h.7M142.8 146.6h.7M122.2 157.4h.7M146.8 145h.7M134.8 149.8h.7M125.8 154.2h.7M143.5 140.9h.7M118 162.2h.7M142.6 144.7h.7M108.9 156.2h.7M142 150.7h.7M132.2 144.8h.7M113.9 161.7h.7M137.5 147.1h.7M142.8 146.2h.7M129.4 155h.7M112.6 158.9h.7M122.4 155.9h.7M142.9 144.2h.7M133.4 154.3h.7M126.5 153.7h.7M122.4 162.6h.7M131.1 152.3h.7M134.9 150.9h.7M116.9 158.9h.7M127.9 151.2h.7M144.6 139.3h.7M136.2 148.8h.7M105.9 161.5h.7M148.6 141.3h.7M146.3 145.2h.7M113.6 158.7h.7M126 150.5h.7M134.5 151.5h.7M127.7 151.8h.7M121 159h.7M133 152.1h.7M136.1 149.8h.7M131.8 154.1h.7M121.8 158.6h.7M142.5 145.4h.7M140.6 148h.7M117.5 157.4h.7M137.1 151.7h.7M121.8 159.8h.7M131.7 146.9h.7M136 145.3h.7M123.8 152.5h.7M130.3 151.2h.7M130.9 157.4h.7M148.5 141.3h.7M140.2 147.6h.7M115.9 157h.7M139.5 148.2h.7M126.1 151.8h.7M136.7 149.6h.7M147.1 146.4h.7M137.4 147.1h.7M135.2 144.7h.7M126 151.2h.7M149 140.7h.7M111 155.2h.7M145.7 146.9h.7M148 144.7h.7M138.7 151.9h.7M141.9 147.2h.7M106.2 163.2h.7M143 147.9h.7M130.2 152.4h.7M131.7 158.3h.7M134.7 148.9h.7M112.3 162.9h.7M125 154.8h.7M108.5 157.7h.7M116.5 159.2h.7M146.3 145.3h.7M126.6 157h.7M144.5 147.8h.7M124.6 155.8h.7M130.4 151.3h.7M124.2 155.7h.7M126.5 155h.7M143 149.3h.7M124.7 152.2h.7M110.4 156.2h.7M136.3 146.6h.7M129.9 153.2h.7M135 147h.7M146.4 148.4h.7M134.7 155.6h.7M131.2 154.9h.7M125.4 153.3h.7M131.9 153h.7M143.3 143.6h.7M132.3 157.5h.7M113.2 157.5h.7M122.9 161.6h.7M118.9 158.7h.7M132.6 145.7h.7M110.5 155.3h.7M123.9 150.8h.7M113.1 163.8h.7M136.2 150.6h.7M140.5 152h.7M118.2 155.2h.7M115.4 156.1h.7M138.3 144.5h.7M144.3 148.9h.7M134.5 149h.7M117 159.9h.7M144.6 142.7h.7M123.6 150.7h.7M115.9 157.4h.7M147.3 142.7h.7M131.2 149.3h.7M122.6 157.6h.7M146.8 143.5h.7M132.8 148.5h.7M130.6 149.2h.7M136.2 152.4h.7M113.3 157.6h.7M127.5 152.7h.7M137.8 150.9h.7M111.9 158.4h.7M140.3 146.3h.7M115.7 154.3h.7M146.9 146.4h.7M130.7 148.3h.7M138.8 146.5h.7M139.3 151.8h.7M139 147.7h.7M140.3 146.8h.7M141.4 144.1h.7M105.3 156.4h.7M136.9 147.1h.7M138.9 147.5h.7M119.8 159.1h.7M125.8 155h.7M133.3 150.6h.7M123.7 158.1h.7M135.8 150.1h.7M109.3 161.4h.7M132.1 152.1h.7M129.8 152.6h.7M105.7 162.2h.7M136.8 154.7h.7M126 159.8h.7M114.2 159.3h.7M129.8 153.2h.7M117.3 161.2h.7M145.2 142.8h.7M146.3 142.5h.7M123 159.1h.7M123.5 159.3h.7M133.3 153.4h.7M132 151h.7M134 155.8h.7M120.7 155.7h.7M134.6 154.2h.7M119.3 153.8h.7M144.6 147.4h.7M129.3 150.2h.7M127.2 154.1h.7M110 162.5h.7M120.7 160.3h.7M148.3 141.8h.7M142.7 147.9h.7M110 161.2h.7M121.1 154.3h.7M123.5 155h.7M132 149.9h.7M121.8 155.8h.7M131.1 152.4h.7M104.9 161.9h.7M112.5 156.8h.7M124.3 156.8h.7M114.9 159.4h.7M126.9 157.2h.7M123.5 161h.7M106.1 157.4h.7M132.7 155h.7M138.7 149.7h.7M144.2 148.9h.7M133.7 143.6h.7M124.6 153.9h.7M147.9 145.1h.7M117.8 157.5h.7M112.8 156.6h.7M134.4 154.9h.7" stroke="#1f5fae" stroke-width="0.7" opacity="0.6"/>
<path d="M104.00 160.00C104.85 159.15 107.20 158.17 110.40 156.90C113.60 155.63 118.95 154.12 123.20 152.40C127.45 150.68 132.28 148.42 135.90 146.60C139.52 144.78 142.87 142.45 144.90 141.50C146.93 140.55 147.45 140.47 148.10 140.90C148.75 141.33 149.33 142.72 148.80 144.10C148.27 145.48 147.05 147.50 144.90 149.20C142.75 150.90 139.52 152.60 135.90 154.30C132.28 156.00 127.45 158.02 123.20 159.40C118.95 160.78 113.38 162.17 110.40 162.60C107.42 163.03 106.37 162.43 105.30 162.00C104.23 161.57 103.15 160.85 104.00 160.00Z" fill="#1f5fae" stroke="#1f5fae" stroke-width="1.8"/>
<path d="M105.54 160.00C106.11 159.42 107.71 158.75 109.89 157.89C112.06 157.03 115.70 156.00 118.59 154.83C121.48 153.66 124.77 152.12 127.23 150.89C129.69 149.65 131.97 148.07 133.35 147.42C134.73 146.77 135.08 146.72 135.52 147.01C135.97 147.31 136.36 148.25 136.00 149.19C135.64 150.13 134.81 151.50 133.35 152.66C131.89 153.81 129.69 154.97 127.23 156.12C124.77 157.28 121.48 158.65 118.59 159.59C115.70 160.53 111.92 161.47 109.89 161.77C107.86 162.06 107.15 161.65 106.42 161.36C105.69 161.07 104.96 160.58 105.54 160.00Z" fill="none" stroke="#fff" stroke-width=".45" opacity=".9"/>
<path d="M106.35 160.00C106.79 159.57 107.98 159.06 109.62 158.42C111.25 157.77 113.98 157.00 116.14 156.12C118.31 155.25 120.78 154.09 122.62 153.17C124.47 152.24 126.17 151.05 127.21 150.56C128.25 150.08 128.51 150.04 128.84 150.26C129.17 150.48 129.47 151.19 129.20 151.89C128.93 152.60 128.31 153.62 127.21 154.49C126.11 155.36 124.47 156.23 122.62 157.09C120.78 157.96 118.31 158.99 116.14 159.69C113.98 160.40 111.14 161.10 109.62 161.33C108.09 161.55 107.56 161.24 107.02 161.02C106.47 160.80 105.92 160.43 106.35 160.00Z" fill="none" stroke="#fff" stroke-width=".45" opacity=".9"/>
<path d="M107.17 160.00C107.46 159.71 108.26 159.38 109.34 158.95C110.43 158.52 112.25 158.00 113.70 157.42C115.14 156.83 116.78 156.06 118.01 155.44C119.24 154.83 120.38 154.03 121.07 153.71C121.77 153.39 121.94 153.36 122.16 153.51C122.38 153.65 122.58 154.12 122.40 154.59C122.22 155.06 121.81 155.75 121.07 156.33C120.34 156.91 119.24 157.48 118.01 158.06C116.78 158.64 115.14 159.33 113.70 159.80C112.25 160.27 110.36 160.74 109.34 160.88C108.33 161.03 107.97 160.83 107.61 160.68C107.25 160.53 106.88 160.29 107.17 160.00Z" fill="none" stroke="#fff" stroke-width=".45" opacity=".9"/>
<path d="M107.98 160.00C108.13 159.86 108.53 159.69 109.07 159.47C109.62 159.26 110.53 159.00 111.25 158.71C111.97 158.42 112.79 158.03 113.41 157.72C114.02 157.41 114.59 157.02 114.94 156.85C115.28 156.69 115.37 156.68 115.48 156.75C115.59 156.83 115.69 157.06 115.60 157.30C115.51 157.53 115.30 157.88 114.94 158.16C114.57 158.45 114.02 158.74 113.41 159.03C112.79 159.32 111.97 159.66 111.25 159.90C110.53 160.13 109.58 160.37 109.07 160.44C108.56 160.52 108.39 160.41 108.20 160.34C108.02 160.27 107.84 160.14 107.98 160.00Z" fill="none" stroke="#fff" stroke-width=".45" opacity=".9"/>
<path d="M134 198.1h.7M95.8 202.1h.7M102.5 198.8h.7M138.6 191.8h.7M104.5 200.7h.7M123.9 203.4h.7M142.9 191.2h.7M129.8 198.2h.7M144.5 197.2h.7M120.8 199.4h.7M115.4 200.8h.7M97 200.7h.7M101.7 200.2h.7M121.1 200.3h.7M135.1 197.5h.7M88.2 199.7h.7M87.1 201.4h.7M131.2 201.3h.7M121.8 201.1h.7M132.1 193.1h.7M128.9 197.4h.7M97.7 198.8h.7M114.1 199h.7M98.3 197.7h.7M118.5 198.7h.7M79.7 199.9h.7M143.9 196.7h.7M110.6 202.2h.7M130 200.5h.7M140.3 193.2h.7M80.6 199.6h.7M86.4 202h.7M102 200.7h.7M94.5 196.6h.7M147.1 200.5h.7M138.3 199.1h.7M85.5 203.9h.7M126.5 197.3h.7M109.5 200.3h.7M85 199.5h.7M109.1 200.7h.7M144.9 193.2h.7M110.4 199.7h.7M114.9 202.8h.7M134.7 198.1h.7M114.3 195.8h.7M92.6 203h.7M87.3 200.4h.7M96 202.1h.7M98.5 201.9h.7M117.4 198.7h.7M126.3 198.5h.7M128.3 204.1h.7M143.5 198.1h.7M136.6 200.3h.7M90.7 197.3h.7M84.4 198.7h.7M131.1 201.6h.7M82.2 195.7h.7M113.1 201.9h.7M121.2 197h.7M136.7 191.4h.7M99.4 196.3h.7M95.7 202.7h.7M138.3 199.3h.7M115.6 200.8h.7M102.7 201.9h.7M129.4 197.1h.7M117.1 202.2h.7M104.6 195.8h.7M118.9 196.6h.7M88.1 201.9h.7M138.7 196.2h.7M142.2 193.5h.7M142.5 196.4h.7M136.6 198.1h.7M134.5 195.1h.7M122.3 195.4h.7M139.9 200.1h.7M143.7 193.6h.7M134.8 195.9h.7M119.5 199.7h.7M100.6 202.1h.7M129.5 196.4h.7M102.6 205.2h.7M133.2 200.7h.7M131.4 200.2h.7M138.7 200.8h.7M100 201.7h.7M114 202.3h.7M138.7 195.3h.7M115.5 199.3h.7M125.6 203.9h.7M129.5 198.4h.7M99.1 202.1h.7M86.3 197.6h.7M88.1 200.3h.7M145.2 197.1h.7M102 199.3h.7M129.7 199.2h.7M90.8 199h.7M123.3 199.2h.7M98.7 196.9h.7M103 199.2h.7M81.7 195.9h.7M135.1 202.8h.7M130.8 197.2h.7M144.9 195.7h.7M109.2 199.4h.7M139.9 194.9h.7M132.6 197.7h.7M127.7 199.4h.7M82.2 199.8h.7M145.8 198.5h.7M140.1 201.6h.7M122.5 204.3h.7M132.3 196.3h.7M106.2 203.5h.7M129.6 199.1h.7M112.4 200.5h.7M88 199.3h.7M90.6 198.6h.7M95.8 197.7h.7M136.9 196.4h.7M106.3 200.3h.7M110 198.6h.7M95.7 197.9h.7M124.3 195.5h.7M144.1 194.6h.7M126.6 195.6h.7M141.5 192.8h.7M141.8 198.4h.7M99.9 199.4h.7M136.7 193h.7M87.8 202.2h.7M143.7 197.8h.7M133.8 196.8h.7M139.8 192h.7M123.5 201.5h.7M133.1 199.2h.7M143.7 197.6h.7M123.4 201h.7M132.6 200.2h.7M99.6 200.8h.7M141.9 193.6h.7M127.1 193.8h.7M114.3 204h.7M91.4 199.4h.7M108.3 195.4h.7M142.2 194.6h.7M108.5 201.6h.7M119.4 201.3h.7M141.8 198h.7M104 201h.7M90 204.1h.7M133.6 198.6h.7M93.7 204.1h.7M138.3 197.2h.7M131.6 194.8h.7M122.5 202.6h.7M138.5 196.8h.7M134.2 203.1h.7M119.1 202.8h.7M99.3 199.6h.7M123.8 201.3h.7M99.5 197.3h.7M120.8 198.5h.7M148.5 196.9h.7M88 194.4h.7M88.4 197.5h.7M86 201.5h.7M104.6 203h.7M83 200.9h.7M97.4 198.4h.7M91.8 201.4h.7M130.9 196.6h.7M126.3 197.6h.7M140.7 192.6h.7M90.9 199.2h.7M91.3 198.7h.7M84 199.2h.7M147.5 193.7h.7M85.9 200.4h.7M145.2 192.4h.7M136.1 197.5h.7M122.4 200.8h.7M130.8 203.3h.7M126.4 200.3h.7M99.1 202.6h.7M135.5 195.1h.7M127.3 201.4h.7M86.5 197h.7M133.8 194.2h.7M124.3 197.4h.7M118 199.3h.7M85.7 198.6h.7M124.1 197h.7M98.3 200.5h.7M134.7 198.5h.7M140.2 198.8h.7" stroke="#4cab36" stroke-width="0.7" opacity="0.6"/>
<path d="M82.80 196.00C85.90 195.38 95.97 198.33 101.40 198.80C106.83 199.27 110.73 199.42 115.40 198.80C120.07 198.18 124.90 196.50 129.40 195.10C133.90 193.70 139.60 190.57 142.40 190.40C145.20 190.23 145.63 192.75 146.20 194.10C146.77 195.45 149.37 197.10 145.80 198.50C142.23 199.90 135.30 201.83 124.80 202.50C114.30 203.17 89.80 203.58 82.80 202.50C75.80 201.42 79.70 196.62 82.80 196.00Z" fill="#4cab36" fill-opacity="0.75" stroke="#4cab36" stroke-width=".9"/>
<path d="M131.9 198.6h.7M96 211.4h.7M111.5 204.3h.7M87.1 207.6h.7M130.7 204.3h.7M147.1 199.9h.7M127.5 210.5h.7M116.9 202.5h.7M101.8 201.4h.7M90.1 208h.7M95.5 210.8h.7M99.7 204.8h.7M141 198.9h.7M110.9 206.7h.7M122.6 207.2h.7M121 206.5h.7M93.5 201.5h.7M122.2 205.7h.7M129.9 199.7h.7M110.8 205h.7M84.3 204.5h.7M134.8 207.9h.7M106.8 210.7h.7M132.3 204h.7M113.1 205.9h.7M96.6 205.1h.7M96 204h.7M134.5 208.7h.7M98.1 210.3h.7M138.1 208.6h.7M144.4 206.2h.7M92 212.2h.7M124.1 208h.7M85.5 208.5h.7M134.6 206.3h.7M88.9 205.6h.7M89.6 201.9h.7M110.4 207.4h.7M85.8 209h.7M143.9 200.6h.7M97.9 209.5h.7M104.8 209.2h.7M108 204.8h.7M140.4 205h.7M125.7 203.4h.7M90.8 206.4h.7M110.5 201.8h.7M81.4 211.2h.7M142.1 199.5h.7M122.6 213.7h.7M99.7 211.5h.7M120.8 209.7h.7M117.3 204h.7M117.9 203.2h.7M122.3 208.2h.7M117.7 204.7h.7M89.9 208.7h.7M122.7 207.3h.7M102.1 208.5h.7M132.8 199.8h.7M98.9 207.4h.7M131 199.9h.7M128.2 207h.7M141.1 200.2h.7M88.5 207.4h.7M96.4 204.8h.7M85.4 203.2h.7M102.6 205h.7M84 207.4h.7M115.2 209.9h.7M98.9 202.4h.7M85.3 202.9h.7M99.7 208.8h.7M138.9 204.8h.7M91.6 198.4h.7M104.9 204h.7M121.2 206.5h.7M129.7 206h.7M102.5 205.7h.7M104 209.1h.7M90.8 204.2h.7M132.4 205.3h.7M128.8 203.1h.7M126.5 208.7h.7M113 203.4h.7M134.7 207.4h.7M120.8 207.1h.7M95.8 208.7h.7M83.4 209.4h.7M136.6 207.1h.7M135.9 198.7h.7M92.9 204.3h.7M134.4 206h.7M132.5 202.4h.7M120 203.6h.7M93.1 206.7h.7M124.3 205.8h.7M79 212.9h.7M132.3 202.4h.7M120.6 203.4h.7M126.8 211.5h.7M84.4 201.7h.7M135.7 208.4h.7M143.6 207.1h.7M98.8 205.6h.7M89.2 207.9h.7M139.5 204.1h.7M95 210.5h.7M146.8 201.2h.7M123.1 208.8h.7M139.1 206.7h.7M143.6 201.8h.7M126.3 204.9h.7M99.8 209.5h.7M120.3 206h.7M106.4 209.1h.7M86 209.1h.7M131 202.3h.7M112.7 203.7h.7M98.1 204.9h.7M89.7 201.2h.7M147.9 199.5h.7M89.5 204.4h.7M91 200.9h.7M128.4 201.4h.7M93.5 208.3h.7M117.4 210.4h.7M137.1 199.8h.7M142.9 202.8h.7M142.8 204.6h.7M141.5 200.1h.7M98.7 203.4h.7M118.9 210.7h.7M110.9 206.8h.7M84.3 204.3h.7M104.7 205.8h.7M135.9 204.5h.7M133.4 205.6h.7M103 209.2h.7M92.3 209.5h.7M110.4 207.9h.7M98 203.4h.7M104.7 207.4h.7M142 206.8h.7M120.9 204.8h.7M132.8 203.2h.7M139.5 199.6h.7M95.4 208.6h.7M125.1 208.9h.7M148.2 201.4h.7M124.8 205.3h.7M82.3 207h.7M85.4 210.8h.7M81.3 199.2h.7M110.3 203.7h.7M86.7 205.5h.7M143.2 204.4h.7M139.6 207.2h.7M105.3 207.7h.7M142.3 204.3h.7M146.1 204.3h.7M110.8 207.2h.7M143.9 205.6h.7M146 205.5h.7M105.3 202.5h.7M98.1 201.9h.7M92.5 207.4h.7M139.6 197.8h.7M108.2 201.3h.7M88.5 205.9h.7M144.6 203.8h.7M97.8 210h.7M98.4 205.3h.7M101 201.8h.7M141.4 205.6h.7M88.3 212.1h.7M134.9 198.9h.7M142.9 198.6h.7M96 205.6h.7M140 198.4h.7M136.6 203.3h.7M147 201.3h.7M118.6 202.4h.7M126.1 201.7h.7M133.2 200.2h.7M138.9 202.3h.7M103.6 206.5h.7M139 207.4h.7M93.5 205.3h.7M96.1 202.6h.7M123.6 202.6h.7M93.1 206.7h.7M130.4 205.5h.7M109.9 204.9h.7M118.1 205.1h.7M100.5 205.7h.7M101.8 203h.7M125.7 203.4h.7M149.2 204.1h.7M86.6 211.1h.7M115.3 206.3h.7M131 204.4h.7M121 202.3h.7M120.1 203.6h.7M132.9 207.1h.7M129.1 202.6h.7M133.1 204.7h.7M87.3 204.7h.7M102.5 204.4h.7M100 206.3h.7M141.3 201.5h.7M134.4 201h.7M97.5 200.4h.7M119.4 208.1h.7M118.3 200.1h.7M127.7 206.8h.7M142.9 204.4h.7M92.8 206.3h.7M98.3 208.1h.7M93.3 208.2h.7M121.5 204h.7M101.8 201.2h.7M93.7 200.6h.7M99 209.1h.7M109.9 205.1h.7M148.1 199.2h.7M123.3 204.9h.7M86.3 202.4h.7M124.7 205h.7M139.7 197.5h.7M109.6 207.2h.7M111.7 210.1h.7M96.3 205.3h.7M88.4 207.1h.7M144.6 204.1h.7M115.6 202h.7M103.5 206.4h.7M128.4 201.9h.7M116.1 210h.7M143.4 204.3h.7M119.3 204.9h.7M126.6 206.5h.7M122.3 197.6h.7M86 206.9h.7M137.1 202h.7M92.3 207.4h.7M84.3 202.2h.7M87.1 204.5h.7M86.7 209.1h.7M138.7 204h.7M130.4 203.3h.7M101.3 204.6h.7M96.3 204.9h.7M130.3 204.3h.7M108.3 204.3h.7M94.4 209.7h.7M123.5 201.1h.7M111.3 204.3h.7M121.9 203.2h.7M135.7 203.1h.7M108.2 205.1h.7M106.7 211.2h.7M86.2 203.8h.7M136.4 199.1h.7M141.4 200.2h.7M100 208.8h.7M140.7 204.4h.7M141.2 204.2h.7M127 207.5h.7M86.1 201.1h.7M131.8 201.1h.7M130.4 205.6h.7M83.9 203.4h.7M95.4 210.1h.7M84.6 202.2h.7M89.2 204.4h.7M128.7 202.5h.7M122.9 204.9h.7M138.9 206.7h.7M95.5 207.8h.7M117 208.3h.7M126.4 206.5h.7M121.1 202.9h.7M95.6 203.2h.7M93.9 208.7h.7M128.1 201.1h.7M95.5 212.3h.7M142.7 196.8h.7M145.3 202.2h.7M85.7 206.3h.7M122 210.7h.7M131.6 203.1h.7M85.4 206.9h.7M146.8 200.8h.7M81 205.6h.7M88.2 202.6h.7M134.7 203.7h.7M135.9 208.4h.7M126.2 202.7h.7M101.1 202.7h.7" stroke="#b81c20" stroke-width="0.7" opacity="0.6"/>
<path d="M82.80 200.30C85.27 198.70 93.00 201.07 97.60 201.60C102.20 202.13 106.13 203.50 110.40 203.50C114.67 203.50 118.95 202.35 123.20 201.60C127.45 200.85 132.28 199.53 135.90 199.00C139.52 198.47 142.87 197.97 144.90 198.40C146.93 198.83 147.88 200.22 148.10 201.60C148.32 202.98 148.23 205.42 146.20 206.70C144.17 207.98 139.73 208.77 135.90 209.30C132.07 209.83 127.45 210.02 123.20 209.90C118.95 209.78 114.67 208.38 110.40 208.60C106.13 208.82 102.20 210.77 97.60 211.20C93.00 211.63 85.27 213.02 82.80 211.20C80.33 209.38 80.33 201.90 82.80 200.30Z" fill="#b81c20" stroke="#b81c20" stroke-width="1.8"/>
<path d="M93.04 202.12C94.72 201.04 99.98 202.65 103.10 203.01C106.23 203.37 108.91 204.30 111.81 204.30C114.71 204.30 117.62 203.52 120.51 203.01C123.40 202.50 126.69 201.60 129.15 201.24C131.61 200.88 133.89 200.54 135.27 200.83C136.65 201.13 137.30 202.07 137.44 203.01C137.59 203.95 137.53 205.60 136.15 206.48C134.77 207.35 131.75 207.88 129.15 208.24C126.54 208.61 123.40 208.73 120.51 208.65C117.62 208.57 114.71 207.62 111.81 207.77C108.91 207.92 106.23 209.24 103.10 209.54C99.98 209.83 94.72 210.77 93.04 209.54C91.36 208.30 91.36 203.21 93.04 202.12Z" fill="none" stroke="#fff" stroke-width=".45" opacity=".9"/>
<path d="M98.48 203.09C99.74 202.28 103.68 203.48 106.03 203.76C108.37 204.03 110.38 204.72 112.56 204.72C114.73 204.72 116.92 204.14 119.08 203.76C121.25 203.37 123.72 202.70 125.56 202.43C127.41 202.16 129.11 201.90 130.15 202.12C131.19 202.34 131.67 203.05 131.78 203.76C131.89 204.46 131.85 205.70 130.81 206.36C129.78 207.01 127.52 207.41 125.56 207.68C123.61 207.95 121.25 208.05 119.08 207.99C116.92 207.93 114.73 207.22 112.56 207.33C110.38 207.44 108.37 208.43 106.03 208.65C103.68 208.87 99.74 209.58 98.48 208.65C97.22 207.73 97.22 203.91 98.48 203.09Z" fill="none" stroke="#fff" stroke-width=".45" opacity=".9"/>
<path d="M103.92 204.06C104.76 203.52 107.39 204.32 108.95 204.50C110.52 204.69 111.85 205.15 113.30 205.15C114.75 205.15 116.21 204.76 117.66 204.50C119.10 204.25 120.74 203.80 121.97 203.62C123.20 203.44 124.34 203.27 125.03 203.42C125.73 203.56 126.05 204.03 126.12 204.50C126.20 204.97 126.17 205.80 125.48 206.24C124.78 206.67 123.28 206.94 121.97 207.12C120.67 207.30 119.10 207.37 117.66 207.33C116.21 207.29 114.75 206.81 113.30 206.88C111.85 206.96 110.52 207.62 108.95 207.77C107.39 207.92 104.76 208.39 103.92 207.77C103.08 207.15 103.08 204.61 103.92 204.06Z" fill="none" stroke="#fff" stroke-width=".45" opacity=".9"/>
<path d="M83.8 212.9h.7M104 212.4h.7M85.1 212h.7M86.5 214.5h.7M102.8 218h.7M96.6 212.4h.7M83 212.4h.7M80.9 213.9h.7M93.1 213.1h.7M95.1 214.3h.7M90.5 210h.7M88.8 211.1h.7M96.9 216.4h.7M87.2 212.7h.7M86.6 215.5h.7M87.2 213.9h.7M97.5 211.7h.7M84.8 212.2h.7M89.1 215.3h.7M99.5 215.5h.7M81.8 210.3h.7M96.8 212h.7M88.2 209.5h.7M97.7 213.7h.7M85.4 214.9h.7M100.8 214.1h.7M91.5 213.6h.7M83.9 216.4h.7M87 213.2h.7M95.6 214.5h.7M97.9 212.8h.7M100.6 216.7h.7M83.5 213.9h.7M86.1 214.8h.7M95.4 213h.7M97 215.1h.7M89.5 214.2h.7M103 211.9h.7M94.2 215.5h.7M85.4 213.4h.7" stroke="#1f5fae" stroke-width="0.7" opacity="0.6"/>
<path d="M82.80 210.50C84.80 209.58 91.30 210.50 94.80 211.00C98.30 211.50 102.30 212.58 103.80 213.50C105.30 214.42 107.30 216.00 103.80 216.50C100.30 217.00 86.30 217.50 82.80 216.50C79.30 215.50 80.80 211.42 82.80 210.50Z" fill="#1f5fae" stroke="#1f5fae" stroke-width="1.8"/>
</g>
<path d="M80.4 117.9h2.6M81.4 131.0h1.6M81.4 127.7h1.6M81.4 125.3h1.6M81.4 123.5h1.6M81.4 122.0h1.6M81.4 120.8h1.6M81.4 119.7h1.6M81.4 118.8h1.6M80.4 136.6h2.6M81.4 150.3h1.6M81.4 146.8h1.6M81.4 144.4h1.6M81.4 142.5h1.6M81.4 140.9h1.6M81.4 139.6h1.6M81.4 138.5h1.6M81.4 137.5h1.6M80.4 156.2h2.6M81.4 170.1h1.6M81.4 166.6h1.6M81.4 164.1h1.6M81.4 162.2h1.6M81.4 160.6h1.6M81.4 159.3h1.6M81.4 158.1h1.6M81.4 157.1h1.6M80.4 176.1h2.6M81.2 183.3h1.8M81.2 188.8h1.8M81.2 193.8h1.8M81.2 198.3h1.8M81.2 201.8h1.8M81.2 204.5h1.8M81.2 207.8h1.8M81.2 210.8h1.8M87.0 215.1v1.8M91.0 215.1v1.8M94.0 215.1v1.8M97.5 215.1v1.8M101.0 215.1v1.8M104.0 215.1v1.8M108.0 215.1v1.8M112.0 215.1v1.8M116.0 215.1v1.8M132.7 215.1v2.4M119.8 215.1v1.6M122.9 215.1v1.6M125.3 215.1v1.6M127.2 215.1v1.6M128.9 215.1v1.6M130.3 215.1v1.6M131.6 215.1v1.6M157.4 215.1v2.4M140.1 215.1v1.6M144.5 215.1v1.6M147.6 215.1v1.6M150.0 215.1v1.6M151.9 215.1v1.6M153.6 215.1v1.6M155.0 215.1v1.6M156.3 215.1v1.6M182.0 215.1v2.4M164.8 215.1v1.6M169.1 215.1v1.6M172.2 215.1v1.6M174.6 215.1v1.6M176.5 215.1v1.6M178.2 215.1v1.6M179.6 215.1v1.6M119.8 215.1v1.6M122.9 215.1v1.6M125.3 215.1v1.6M127.2 215.1v1.6M128.9 215.1v1.6M130.3 215.1v1.6M131.6 215.1v1.6" stroke="#000" stroke-width="1.1" fill="none"/>
<rect x="83.9" y="117.6" width="96.9" height="96.5" fill="none" stroke="#000" stroke-width="1.8"/>
<text x="69.3" y="123.9" font-size="11" text-anchor="end" fill="#000" >10</text>
<text x="70.5" y="116.2" font-size="7.8" text-anchor="start" fill="#000" >6</text>
<text x="69.3" y="143.8" font-size="11" text-anchor="end" fill="#000" >10</text>
<text x="70.5" y="136.1" font-size="7.8" text-anchor="start" fill="#000" >5</text>
<text x="69.3" y="162.4" font-size="11" text-anchor="end" fill="#000" >10</text>
<text x="70.5" y="154.7" font-size="7.8" text-anchor="start" fill="#000" >4</text>
<text x="69.3" y="183.0" font-size="11" text-anchor="end" fill="#000" >10</text>
<text x="70.5" y="175.3" font-size="7.8" text-anchor="start" fill="#000" >3</text>
<text x="70.2" y="209.7" font-size="11" text-anchor="end" fill="#000" >0</text>
<text x="45.0" y="165.3" font-size="12.2" text-anchor="middle" transform="rotate(-90 45.0 165.3)" dy="4.3">anti-Strep-PE</text>
<clipPath id="c3"><rect x="200.8" y="118.5" width="95.1" height="94.8"/></clipPath>
<g clip-path="url(#c3)">
<path d="M205.8 155.9h.6M233.9 163.5h.6M211.1 192.7h.6M225.5 160.6h.6M238.8 196.3h.6M206.6 157.7h.6M248.9 181.7h.6M210.3 192.8h.6M244.7 180.5h.6M203.7 185.6h.6M214.1 166.9h.6M252.8 166.8h.6M236.2 166.7h.6M244.1 193h.6M224.8 199.2h.6M230.1 145h.6M222.7 164.6h.6M219.1 157.9h.6M237.9 170.1h.6M255.6 148.5h.6M244.6 157.7h.6M208.1 143.5h.6M214 161.1h.6M211.6 165.7h.6M210.8 173.6h.6M227.5 154.2h.6M224.8 168.6h.6M201.3 184h.6M216.9 158.5h.6M218.4 147.5h.6M253.8 191.4h.6M220.2 146.4h.6M247.8 145.2h.6M227.5 194.1h.6M217.6 190.5h.6M250.4 187.8h.6M252.1 195h.6M211.1 192.1h.6M238.5 199.4h.6M253.6 158.9h.6M212.9 150h.6M206.6 185.1h.6M218.9 161.7h.6M239.6 147.5h.6M211.7 191.9h.6M226.9 192.7h.6M224.3 174.6h.6M220.3 180.8h.6M223.4 172.5h.6M204.6 196.3h.6M250 156.8h.6M246.1 201.8h.6M215.9 196.2h.6M238.9 147.7h.6M230.9 148.2h.6M229.6 201h.6M254.5 179.3h.6M224.7 145.2h.6M237.8 182.7h.6M212.3 189.6h.6M208 188.3h.6M203 150.3h.6M232.5 159.6h.6M251.3 196.2h.6M245.6 196.1h.6M255.2 180.4h.6M216.5 191.3h.6M238.2 161.3h.6M201.1 177.9h.6M239.2 199.6h.6M215.1 172h.6M248.8 145h.6M225 198.2h.6M219.5 190.2h.6M234.4 201.7h.6M234.3 184.1h.6M252.8 176.6h.6M238.5 149h.6M201.3 168.6h.6M204.8 195.2h.6M214.6 186.6h.6M230.5 200h.6M249 158.4h.6M233.8 160.1h.6M250.1 168.9h.6M217.8 199h.6M209.9 164.1h.6M224.6 165.4h.6M244.8 182.4h.6M243.7 176.5h.6M209.6 160.5h.6M205 186.1h.6M255.7 195.1h.6M229.1 195.6h.6M242.5 200.4h.6M222.2 193.4h.6M250.4 180h.6M224.4 202.6h.6M239.1 156.4h.6M235.4 160.1h.6M229.6 167h.6M226.3 201.4h.6M233.2 185.9h.6M248.9 166h.6M243.6 194.2h.6M230.7 174.6h.6M247.2 148.1h.6M209.2 194h.6M236.6 179.9h.6M209.3 184.5h.6" stroke="#1f5fae" stroke-width="0.6" opacity="0.5"/>
<path d="M211.5 202.6h.6M232 176.3h.6M228.4 206.7h.6M222.7 184.1h.6M210.9 178.5h.6M269.5 191.7h.6M221.7 204.1h.6M211 208.4h.6M214.8 185.8h.6M269.2 180h.6M228.7 178.3h.6M237.4 212.6h.6M267 187.1h.6M213.8 206.8h.6M226.2 192.9h.6M211 192.6h.6M251.2 208.4h.6M213 177.4h.6M232.2 206.7h.6M214.5 201.9h.6M256.9 208.5h.6M240.9 174.3h.6M219 179.6h.6M270.7 201.1h.6M260.3 207.7h.6M220 201.9h.6M237.9 210.5h.6M230.1 205.5h.6M249.1 195.2h.6M237.5 186.1h.6M243.9 183.1h.6M215.2 192.1h.6M226.6 185.3h.6M256.8 205.6h.6M262.2 210h.6M262.5 202.4h.6M226.9 184.5h.6M239.4 185.5h.6M211.3 205.6h.6M259.6 192.5h.6M233 182.2h.6M258.5 186.1h.6M248.9 201.6h.6M231.1 194h.6M252.6 181.6h.6M220.1 203.6h.6M218.3 186.5h.6M214.3 182.9h.6M223.4 179.9h.6M237.3 177.2h.6M266.8 194.6h.6M248 190.7h.6M238 191.6h.6M228.4 206h.6M267.2 177.2h.6M248 177.4h.6M239 208.3h.6M252.8 208.6h.6M221.2 190.2h.6M262.7 207.8h.6M222.8 183.7h.6M244 203h.6M224 205.2h.6M267.8 201.6h.6M265.2 193.2h.6M252.2 186h.6M225.9 196h.6M219.9 192.5h.6M269.7 206.6h.6M212.4 185.7h.6M264 176.6h.6M230 188.3h.6M268.7 197.8h.6M220.4 197.3h.6M223.2 214.3h.6M251 210.1h.6M261.4 209.9h.6M213.4 206.9h.6M266.5 208.6h.6M228.7 214.3h.6M222.5 194.2h.6M224.3 195.5h.6M252.6 189.4h.6M222.1 201.7h.6M265.8 187.5h.6M257 180.7h.6M238.8 174.4h.6M229.4 176h.6M259 209.9h.6M268.9 182.6h.6M247.1 188.3h.6M268.2 196.9h.6M220.4 180.3h.6M238.9 191h.6M240 185.9h.6M259.7 183.2h.6M269.3 195.7h.6M229.9 212.7h.6M234.2 211.1h.6M218.7 198.9h.6" stroke="#b81c20" stroke-width="0.6" opacity="0.5"/>
<path d="M248.9 188.8h.6M226.3 206.4h.6M229.5 183.3h.6M254.1 182.6h.6M239.2 183.4h.6M256.1 186.8h.6M230.1 192.6h.6M228.3 179.4h.6M248.1 195.6h.6M257.8 173.8h.6M222.2 181.7h.6M246.1 200.5h.6M221.9 193.8h.6M235.7 196h.6M265 178.8h.6M224.4 177.5h.6M226.4 190.1h.6M263.5 194.5h.6M251.8 174.8h.6M243.4 184.4h.6M242.7 209.6h.6M231.5 200.9h.6M256.6 207.2h.6M260.8 183.3h.6M226.6 179.7h.6M243.4 193.8h.6M261.2 203h.6M240.6 182.9h.6M263.5 187.2h.6M239.8 189.4h.6M262.5 181.4h.6M232.4 198.6h.6M246.4 210.4h.6M227.9 200.2h.6M244.7 180.9h.6M227.3 193.2h.6M236.2 199.5h.6M260.7 199.2h.6M258.3 190.4h.6M252.5 205.9h.6M226.6 182.2h.6M242.7 174.5h.6M245.1 209.1h.6M256.7 175.8h.6M255 207.1h.6M233.8 200.8h.6M253.1 190.4h.6M262.5 194h.6M227.1 199h.6M238.5 178.7h.6" stroke="#4cab36" stroke-width="0.6" opacity="0.5"/>
<path d="M220.9 187.2h.6M229.4 174.4h.6M201.8 190.1h.6M214.5 199.9h.6M234.6 170.9h.6M207.8 176.9h.6M210.5 193.5h.6M222.4 176.8h.6M203.4 185.6h.6M229.4 175.6h.6M204.8 171.1h.6M205.3 180.2h.6M208.2 198h.6M219.4 180.9h.6M215.6 164h.6M225.8 193.8h.6M205.1 168.4h.6M232.8 200.6h.6M226.6 182.8h.6M211.4 184.3h.6M210.8 171.8h.6M216.2 170.1h.6M208.3 172.5h.6M214.3 191.1h.6M225.4 164.8h.6M203.2 186.9h.6M215.8 199.5h.6M222.5 168.8h.6M207.1 180.9h.6M216.7 172.3h.6M230.6 164.8h.6M223.9 202.2h.6M215.9 186.8h.6M208.2 179h.6M234.5 200.6h.6M235.5 179.1h.6M211.9 192.5h.6M215.6 189.9h.6M215 169.1h.6M235.5 202.1h.6M227.6 188.9h.6M234 171.5h.6M215.9 164.3h.6M214 198.5h.6M216.5 178.6h.6M227.8 192.5h.6M221.9 172.7h.6M219.7 175.4h.6M232.1 177.9h.6M201 197.2h.6M229.2 167.5h.6M231.2 167.6h.6M209.7 167h.6M209.1 170.6h.6M210.7 195.4h.6M223.8 169.5h.6M213.6 174.6h.6M209.3 199.3h.6M215.1 199.7h.6M209 202.5h.6M227.4 170.4h.6M203.8 187.8h.6M226.5 194.2h.6M217.1 192.9h.6M224 176.8h.6M223.8 198.5h.6M203.7 191.9h.6M209.7 200h.6M231.5 182.2h.6M221 198.3h.6M231.2 166.8h.6M234.4 187.9h.6M209.6 179.1h.6M201.3 184.2h.6M211.3 167.9h.6M209.1 164.5h.6M226.4 184.2h.6M226.6 177.4h.6M230.1 195.3h.6M216.6 190h.6M208.6 168.9h.6M216.8 172.3h.6M224.2 176.7h.6M209.8 184.8h.6M205.2 169.4h.6M208 168.9h.6M212.4 175.1h.6M213.3 176.9h.6M220.8 172.8h.6M202.4 187.5h.6M207.7 182.8h.6M219.3 170h.6M215.4 183.8h.6M216.5 164.4h.6M215 172.9h.6M203.2 181.8h.6M227.1 173.3h.6M211.9 202.6h.6M217.3 175.5h.6M231.1 193.8h.6" stroke="#1f5fae" stroke-width="0.6" opacity="0.5"/>
<path d="M244.1 181.2h.6M243.9 193.9h.6M251.6 187.8h.6M275.5 188.4h.6M236.2 199.5h.6M273.8 212.7h.6M278.3 207.3h.6M262.3 197h.6M241.2 176.5h.6M263.7 202.9h.6M278.2 211.8h.6M248.9 200.4h.6M258 199.7h.6M247.3 179.3h.6M242.9 207.4h.6M274.6 195.8h.6M256.6 197.3h.6M261 208.7h.6M243.9 201.7h.6M274.8 186.4h.6M236.9 188.6h.6M261 207.1h.6M239.5 201.1h.6M260.6 174.5h.6M249.3 190.2h.6M241.8 177.4h.6M251.1 198.4h.6M276.3 176.2h.6M245.9 186.4h.6M240.8 192.1h.6M243 207.5h.6M259.8 193.4h.6M238 205.6h.6M271 199.2h.6M273.1 192.5h.6M237 200.7h.6M273.5 188h.6M257.9 211.8h.6M272.9 181.2h.6M246.6 178.9h.6M244.5 176.5h.6M258.3 189.9h.6M269.4 195.3h.6M270.6 212.1h.6M274.7 175.1h.6M241 197.8h.6M268.7 198.7h.6M237.5 199.3h.6M278.6 213.9h.6M237.9 213.3h.6M253.2 179.7h.6M277 174h.6M236 173.6h.6M237.1 207.8h.6M271 206.5h.6M258.1 209.3h.6M249.7 206.1h.6M266 205h.6M258.9 212.5h.6M269.6 201.5h.6M263.2 206.9h.6M258.2 209.6h.6M240.4 187.4h.6M239.5 211.7h.6M276.8 189.9h.6M248.1 211.1h.6M254.4 193.6h.6M273.5 188.5h.6M249.2 206.3h.6M264 210h.6M263.6 212.5h.6M238 203.3h.6M266.2 175.7h.6M260.7 198.3h.6M269.9 177.9h.6M237.7 206.2h.6M241.2 177.9h.6M272.8 195.7h.6M248.3 207.8h.6M256.4 211.5h.6M272.9 189.7h.6M241.6 184.8h.6M243.2 195.3h.6M269.8 180.1h.6M276.5 205.6h.6M239.2 210h.6M248.1 204.3h.6M242.6 181.4h.6M251.8 199.2h.6M242.5 181.4h.6M270.4 199.3h.6M276.1 177.6h.6M258.1 177.5h.6M261.9 187.1h.6M278.1 184.2h.6M265.5 186.8h.6M261.5 212.4h.6M276.7 205.4h.6M260.3 192.1h.6M241.7 177.1h.6M246.5 212.2h.6M263.3 182h.6M238.8 179.7h.6M238 182.8h.6M253.8 178.5h.6M277 197.7h.6M244.2 198.5h.6M265.4 211.1h.6M246.7 192.5h.6M247.2 196.5h.6M259.1 182.1h.6M269.9 209h.6M244.6 214.1h.6M252.2 205.1h.6M238.1 194.5h.6M257.3 199.5h.6M255.8 176.5h.6M275.9 210.1h.6M248.8 200.8h.6M260.3 199.4h.6M236.8 179.7h.6M254.8 214.4h.6M258.3 192.4h.6M269.3 177.6h.6M249.4 174.8h.6" stroke="#b81c20" stroke-width="0.6" opacity="0.5"/>
<path d="M237.4 200.2h.6M271.5 173.2h.6M264.2 172.6h.6M245.2 169.8h.6M256.6 178.1h.6M270.9 200.6h.6M257.7 197.2h.6M265 191.1h.6M266.6 193.7h.6M260.2 199.6h.6M275.1 205.4h.6M267.9 169.9h.6M241.4 170.8h.6M243.2 191.3h.6M235.9 174.2h.6M235.5 184h.6M241.4 199.2h.6M239.7 181.3h.6M241.7 181.5h.6M265.8 198.5h.6M265.8 182.7h.6M263.3 197.8h.6M256.4 208.1h.6M235.9 176.6h.6M242.8 184.8h.6M252.3 207.4h.6M265.3 176.3h.6M244.2 176.7h.6M251.8 179.5h.6M258.2 200.4h.6M267.9 207.1h.6M243.9 181.1h.6M243.4 185.1h.6M255.5 184.3h.6M247 192.9h.6M261.5 202.8h.6M251.2 188h.6M243.3 176.1h.6M241.5 208.2h.6M268.3 187.5h.6M237.2 183h.6M264.3 201.6h.6M253.2 170.6h.6M247.6 169.7h.6M252.3 181.1h.6M247.5 171.3h.6M250.8 191.6h.6M273.5 176.4h.6M233 190.2h.6M269.7 169.7h.6M273.6 178.2h.6M234.5 202.3h.6M245.6 197.4h.6M233.6 205.6h.6M231.4 201.3h.6M263.1 190.2h.6M244.7 201.1h.6M248.3 185.1h.6M274.8 206.5h.6M269.5 204.9h.6M258.9 182.5h.6M266.9 185.3h.6M266.5 202.8h.6M252.7 199.1h.6M238.2 203h.6M258.1 203.7h.6M262.4 189.4h.6M240.1 184.1h.6M238.1 177.4h.6M234.3 193.8h.6M242.4 205.1h.6M244.8 189.2h.6M247.1 196.5h.6M234.1 180h.6M265.7 196.5h.6" stroke="#4cab36" stroke-width="0.6" opacity="0.5"/>
<path d="M232.6 154.7h.7M228.7 154.3h.7M228.5 159.8h.7M218.7 151.4h.7M225.4 149.5h.7M232.9 153.5h.7M233.9 151.5h.7M225.1 150.5h.7M227.6 155.7h.7M221.8 151.6h.7M233.1 156.1h.7M222.6 153.6h.7M234.1 153.1h.7M231.3 157.2h.7M222.7 151.9h.7M227.1 155.3h.7M225.3 157.9h.7M228.6 152h.7M225.6 154.4h.7M219.6 161.7h.7M231.5 150.9h.7M235 153.3h.7M227.5 153.4h.7M233 154.1h.7M229.9 150.8h.7M224.4 152.4h.7M219.6 158.2h.7M233.7 149.8h.7M220 156.5h.7M235.8 153.3h.7M223.9 154h.7M233.7 152.2h.7M234.2 151.3h.7M228.1 154.3h.7M230.4 157.5h.7M223.9 151.9h.7M231 156h.7M230.1 152h.7M226.8 158.5h.7M219.8 158.8h.7M233.6 157.6h.7M225.2 153.7h.7M233.7 150.7h.7M227.1 153.1h.7M230.6 152h.7M220.4 158.7h.7M234.7 147.2h.7M228.8 147.5h.7M219.8 153.8h.7M226.9 157.2h.7M229.3 154.3h.7M223 152.1h.7M226.7 148.5h.7M234.6 153.6h.7M229.9 151.4h.7M220.1 153.4h.7M235.4 148.3h.7M228.2 151.1h.7M236.2 152.3h.7M231.3 152h.7" stroke="#1f5fae" stroke-width="0.7" opacity="0.6"/>
<path d="M257.6 140.6h.7M247 149h.7M265.5 143.1h.7M244.4 150.7h.7M270.6 131.9h.7M268.9 137.8h.7M260.2 139.2h.7M272.9 130.7h.7M238.2 153.1h.7M254.1 149.1h.7M263.1 141.6h.7M259.1 138.9h.7M254.4 141.5h.7M261.7 140.7h.7M264 140.7h.7M254.5 142.1h.7M265.6 132.8h.7M255.3 145.3h.7M248.3 143.8h.7M246.4 149.6h.7M265.5 141.2h.7M271.9 137.3h.7M255.6 146.1h.7M245.5 149.3h.7M240.8 151.6h.7M268.8 134.7h.7M257.7 143.8h.7M259.7 143.1h.7M262.4 136h.7M254.1 143h.7M243.8 151.8h.7M254 142.8h.7M273.4 131h.7M257.4 145h.7M270.2 132.7h.7M254.5 144.2h.7M264 140.5h.7M242.1 153.5h.7M273.8 131.2h.7M264.5 138.9h.7M265.5 140.8h.7M270.3 135.7h.7M264.8 133h.7M265.3 137h.7M249.1 144.1h.7M249.8 151.7h.7M251 145.4h.7M267.3 131.2h.7M245.2 151.8h.7M255.5 139.8h.7M245.6 149.2h.7M238.8 148.5h.7M265.3 135.2h.7M252.3 141.9h.7M267.2 132.9h.7M256.2 139.9h.7M243.3 151.2h.7M239.7 154.7h.7M270.7 132.6h.7M237.3 152.3h.7M270.9 130.6h.7M253.5 144.2h.7M268.2 138.3h.7M253.2 139.5h.7M262.5 141h.7M251.7 147h.7M254.6 142.7h.7M257.7 141.8h.7M243.1 144.5h.7M271.6 133.7h.7M257.8 142.5h.7M260.9 142.5h.7M251.4 148.3h.7M266 134.9h.7M257.7 145.1h.7M254.7 147.7h.7M264.4 138.3h.7M259.5 138h.7M256.5 140.5h.7M266.7 137.4h.7M261.1 139.6h.7M263.1 137.8h.7M237.2 154h.7M265.3 135.5h.7M275.7 130.6h.7M259.1 139.9h.7M245.8 150.1h.7M254.4 144.1h.7M236.8 153.2h.7M270.9 133.7h.7M271.7 132.9h.7M265.6 135.6h.7M244.2 149.3h.7M245.1 148h.7M241.2 152.7h.7M266 132h.7M248 144.2h.7M241.2 153.8h.7M253.9 139.2h.7M246.4 145.4h.7M253.7 143.4h.7M238.2 153.2h.7M262.4 139.1h.7M239.9 149.1h.7M264.7 136.5h.7M243.8 153.3h.7M265.6 135.3h.7M275.3 132.4h.7M242.2 150.6h.7M269.3 139.5h.7M254.2 142.8h.7M264.5 135.7h.7M268.5 134.9h.7M256.8 141.3h.7M246.5 144.4h.7M257.3 146.5h.7M242.3 148.3h.7M254.3 149.9h.7M245.9 149.9h.7M271.5 134.1h.7M257.6 140.6h.7M253.8 141.9h.7M268.8 136.6h.7M240.1 148.2h.7M251.9 147h.7M250.7 143.5h.7M265.9 134.6h.7M266.9 137.3h.7M268.1 137.6h.7M262.2 141.7h.7M238.8 157.4h.7M271 135.9h.7M258.6 143.1h.7M250.5 145.3h.7M258.6 142.2h.7M246.8 150.8h.7M250.5 146.4h.7M253.5 146.9h.7M262.1 137.9h.7M271.5 132.4h.7M259 143.7h.7M266.9 136.3h.7M262.1 144h.7M250.5 145h.7M264.1 137.6h.7M260.8 138.1h.7M246.5 149.5h.7M249.2 144.6h.7M266.8 138.6h.7M250.5 151.5h.7M243.4 152.7h.7M243.1 152h.7M255.1 140.2h.7M239.6 149.1h.7M254 143.7h.7M262.2 134.6h.7M268.2 139.6h.7M265.3 136.6h.7M251.7 146.5h.7M254.1 140.4h.7M238.4 154.1h.7M258.8 141.3h.7M253.2 139.1h.7M248.3 153.6h.7M265.2 135h.7M262.3 142.5h.7M269.2 133.9h.7M262.6 133.5h.7M267.1 137.6h.7M244.7 150.4h.7M242.6 149.8h.7M239.3 151.3h.7M251.1 141.2h.7M257.9 139.6h.7M239.7 154.1h.7M256.6 148.1h.7M267.7 130h.7M268.3 135.4h.7M241.3 149.7h.7M240.8 148.9h.7M254.2 142h.7M266.1 131.9h.7M268.3 135.8h.7M257.7 143.5h.7M261.5 139.9h.7M250.2 150.8h.7M244.9 150.6h.7M256.1 141.3h.7M261.2 140.2h.7M260.7 136.7h.7M245.8 151.6h.7M239.3 154h.7M266.8 132.6h.7M259.6 138.4h.7M267.3 136.4h.7M260.3 139.6h.7M266.4 132.8h.7M237.8 148.2h.7M257.9 147.8h.7M253.6 149.9h.7M252.4 148.8h.7M265.9 133.2h.7M253.1 141.9h.7M266.2 137.7h.7M259.4 135.5h.7M272.8 131.7h.7M238.5 153.5h.7M240.6 150.3h.7M274.8 136.1h.7M261.6 139.5h.7M271.3 132.1h.7M260.8 139.1h.7M267.2 139.9h.7M237.5 150.4h.7M242.5 151.8h.7M263.2 140.4h.7M263.3 138.2h.7M269.3 133.5h.7M261.6 139.9h.7M264.3 134.6h.7M241.8 151.5h.7M260.5 139.5h.7M260.4 143.2h.7M246.5 147h.7M251.8 146.8h.7M242.1 152.8h.7M251.1 143.9h.7M235.5 152.2h.7M260.3 142.6h.7M270.2 134.9h.7M257.4 142.6h.7M271.5 130h.7M244.8 149.4h.7M268.9 137.8h.7M238.5 151.8h.7M266.5 135.5h.7M240.6 149.5h.7M272 134.9h.7M247.6 149.1h.7M269.1 138.5h.7M242.5 150.6h.7M274 133.1h.7M261.9 142.1h.7M270.1 136h.7M250.9 149.2h.7M245.3 147.3h.7M250.8 145.5h.7M252.1 149.6h.7M268 140h.7M267.8 136.4h.7" stroke="#1f5fae" stroke-width="0.7" opacity="0.6"/>
<path d="M234.80 152.00C235.15 150.68 238.50 148.47 241.30 146.80C244.10 145.13 248.18 143.97 251.60 142.00C255.02 140.03 258.60 136.95 261.80 135.00C265.00 133.05 268.53 131.18 270.80 130.30C273.07 129.42 274.83 129.00 275.40 129.70C275.97 130.40 275.90 132.47 274.20 134.50C272.50 136.53 268.43 139.70 265.20 141.90C261.97 144.10 258.08 145.87 254.80 147.70C251.52 149.53 248.10 151.73 245.50 152.90C242.90 154.07 240.98 154.85 239.20 154.70C237.42 154.55 234.45 153.32 234.80 152.00Z" fill="#1f5fae" stroke="#1f5fae" stroke-width="1.8"/>
<path d="M236.40 151.68C236.64 150.78 238.92 149.28 240.82 148.14C242.72 147.01 245.50 146.22 247.82 144.88C250.15 143.54 252.58 141.45 254.76 140.12C256.94 138.79 259.34 137.52 260.88 136.92C262.42 136.32 263.62 136.04 264.01 136.52C264.39 136.99 264.35 138.40 263.19 139.78C262.04 141.16 259.27 143.32 257.07 144.81C254.87 146.31 252.23 147.51 250.00 148.76C247.77 150.00 245.44 151.50 243.68 152.29C241.91 153.09 240.60 153.62 239.39 153.52C238.18 153.41 236.16 152.58 236.40 151.68Z" fill="none" stroke="#fff" stroke-width=".45" opacity=".9"/>
<path d="M237.25 151.51C237.43 150.84 239.14 149.71 240.56 148.86C241.99 148.01 244.08 147.41 245.82 146.41C247.56 145.41 249.39 143.83 251.02 142.84C252.65 141.85 254.45 140.89 255.61 140.44C256.77 139.99 257.67 139.78 257.96 140.14C258.25 140.49 258.21 141.55 257.34 142.59C256.48 143.62 254.40 145.24 252.75 146.36C251.11 147.48 249.12 148.38 247.45 149.32C245.78 150.25 244.03 151.37 242.71 151.97C241.38 152.56 240.40 152.96 239.49 152.89C238.58 152.81 237.07 152.18 237.25 151.51Z" fill="none" stroke="#fff" stroke-width=".45" opacity=".9"/>
<path d="M238.10 151.34C238.22 150.89 239.36 150.14 240.31 149.57C241.26 149.01 242.65 148.61 243.81 147.94C244.97 147.27 246.19 146.22 247.28 145.56C248.37 144.90 249.57 144.26 250.34 143.96C251.11 143.66 251.71 143.52 251.90 143.76C252.10 144.00 252.07 144.70 251.50 145.39C250.92 146.08 249.54 147.16 248.44 147.91C247.34 148.65 246.02 149.25 244.90 149.88C243.78 150.50 242.62 151.25 241.74 151.65C240.85 152.04 240.20 152.31 239.60 152.26C238.99 152.21 237.98 151.79 238.10 151.34Z" fill="none" stroke="#fff" stroke-width=".45" opacity=".9"/>
<path d="M256.4 187.4h.7M252.2 186.8h.7M249.9 188.1h.7M258.9 177.2h.7M249.6 188h.7M249.7 197.7h.7M262.1 176.3h.7M261.2 182.2h.7M246.9 184.8h.7M255.1 182h.7M271.1 173.9h.7M264.5 179.8h.7M249.3 196.8h.7M253.8 187.7h.7M247 197h.7M260.4 177.7h.7M255.7 185.7h.7M255.7 183.8h.7M245.9 197h.7M246.8 191.9h.7M247.6 196h.7M255.2 184.3h.7M265.3 176.6h.7M250.8 184.9h.7M245.9 196.1h.7M252.4 186.2h.7M252.2 189.6h.7M265.1 172.9h.7M253 190h.7M265.8 176.8h.7M268.1 176.4h.7M252.4 185h.7M251.3 184.3h.7M265.2 173.5h.7M269.5 172h.7M251.1 180.3h.7M257.9 181.3h.7M245.9 195.6h.7M268.3 174.6h.7M251.9 187.2h.7M273.6 174.7h.7M253.2 187.6h.7M243.2 195h.7M252.6 182.1h.7M265.4 174.9h.7M247.7 188.6h.7M264.2 177.1h.7M271.6 168.7h.7M253.8 188h.7M249.7 191.4h.7M270.7 171h.7M265.1 173.3h.7M267.5 171.4h.7M268.4 175.2h.7M257 178.2h.7M266.3 179.9h.7M245.2 195.7h.7M266.6 175.6h.7M254.2 181.3h.7M253.4 183h.7M248.8 195.6h.7M260 180h.7M258.2 179.6h.7M255 180h.7M254.6 183.9h.7M261.5 182h.7M247.5 183.5h.7M259 177.9h.7M246.4 193.4h.7M263.9 183.3h.7M245.2 192.2h.7M248.9 185.2h.7M247.4 188.2h.7M265.1 180.1h.7M260.9 180.4h.7M252 185.9h.7M258.5 178.8h.7M253.8 183.9h.7M265.7 177.8h.7M269.5 175.8h.7M267.9 176.3h.7M242.1 190.1h.7M266.8 179.9h.7M263.7 179.3h.7M251.6 192.2h.7M264.3 178h.7M248.2 196.2h.7M258.2 186.6h.7M246.6 192.2h.7M249.9 194.5h.7M261.4 182.8h.7M259.7 179h.7M245.5 192.1h.7M253.2 181.6h.7M257.1 187h.7M247.3 190h.7M249.7 191h.7M264.2 181h.7M255 185.4h.7M256.5 179h.7M269.1 178.9h.7M247 187.2h.7M259.4 174h.7M270 173.8h.7M251.3 181.2h.7M247.9 191.4h.7M251.3 187.3h.7M252.3 192.9h.7M266.2 178.4h.7M260.3 178.7h.7M254.4 192.5h.7M245.7 196.7h.7M245.8 195.1h.7M260.1 182.1h.7M268.8 173.1h.7M244.4 198.1h.7M248.8 190.9h.7M264.6 177.6h.7M249.9 190.2h.7M269.1 179.2h.7M261.7 180.2h.7M257.6 178.4h.7M247.8 195.6h.7M248.7 198.7h.7M267.1 175.5h.7M259.3 182.4h.7M266.3 169.9h.7M247.4 196.5h.7M246.9 196.3h.7M252.8 185.5h.7M246 197h.7M249.2 187.6h.7M257.3 183.4h.7M248.9 193.8h.7M248.7 190.2h.7M245.8 200.4h.7M250.8 188.2h.7M256.8 185.9h.7M253.5 190.3h.7M260.1 173.4h.7M265.1 179h.7M249 193.1h.7M258 185.6h.7M243.3 196.2h.7M248.3 188.8h.7M256.4 182h.7M262.9 174.8h.7M249.2 183.2h.7M249.3 196.8h.7M256.4 183.4h.7" stroke="#4cab36" stroke-width="0.7" opacity="0.6"/>
<path d="M243.80 198.50C243.00 197.42 243.12 194.33 244.00 192.00C244.88 189.67 246.97 186.83 249.10 184.50C251.23 182.17 254.02 179.95 256.80 178.00C259.58 176.05 263.20 174.08 265.80 172.80C268.40 171.52 270.90 170.38 272.40 170.30C273.90 170.22 274.90 171.27 274.80 172.30C274.70 173.33 273.97 174.80 271.80 176.50C269.63 178.20 264.80 180.25 261.80 182.50C258.80 184.75 255.97 187.33 253.80 190.00C251.63 192.67 250.47 197.08 248.80 198.50C247.13 199.92 244.60 199.58 243.80 198.50Z" fill="#4cab36" stroke="#4cab36" stroke-width="1.8"/>
<path d="M246.04 195.30C245.50 194.56 245.58 192.47 246.18 190.88C246.78 189.29 248.19 187.37 249.64 185.78C251.09 184.19 252.99 182.69 254.88 181.36C256.77 180.03 259.23 178.70 261.00 177.82C262.77 176.95 264.47 176.18 265.49 176.12C266.51 176.07 267.19 176.78 267.12 177.48C267.05 178.19 266.55 179.18 265.08 180.34C263.61 181.50 260.32 182.89 258.28 184.42C256.24 185.95 254.31 187.71 252.84 189.52C251.37 191.33 250.57 194.34 249.44 195.30C248.31 196.26 246.58 196.04 246.04 195.30Z" fill="none" stroke="#fff" stroke-width=".45" opacity=".9"/>
<path d="M247.23 193.60C246.82 193.05 246.88 191.47 247.33 190.28C247.78 189.09 248.85 187.65 249.93 186.46C251.02 185.27 252.44 184.14 253.86 183.15C255.28 182.15 257.12 181.15 258.45 180.49C259.78 179.84 261.05 179.26 261.82 179.22C262.58 179.18 263.09 179.71 263.04 180.24C262.99 180.76 262.62 181.51 261.51 182.38C260.40 183.25 257.94 184.29 256.41 185.44C254.88 186.59 253.44 187.90 252.33 189.26C251.23 190.62 250.63 192.88 249.78 193.60C248.93 194.32 247.64 194.15 247.23 193.60Z" fill="none" stroke="#fff" stroke-width=".45" opacity=".9"/>
<path d="M259.2 197.1h.7M252.4 202.2h.7M267.9 194.5h.7M270.8 191.9h.7M245.8 196.9h.7M243.6 210.1h.7M268.2 188.4h.7M246.2 202.8h.7M265.8 194.4h.7M247.4 196.7h.7M272 188.5h.7M244 208.5h.7M269 181.3h.7M259.4 194.9h.7M254.5 206.5h.7M255.4 196.8h.7M257.3 192.2h.7M254.7 201.4h.7M255.3 192.3h.7M259.9 209.9h.7M261 200h.7M254.5 205.4h.7M260.2 193.4h.7M265.3 189.2h.7M244.7 202.5h.7M259 208h.7M257.7 198h.7M276.7 180.8h.7M250.6 202.4h.7M272.1 176.6h.7M266.8 191.5h.7M272.8 178.5h.7M269 183.4h.7M254.7 208.5h.7M255.8 198.7h.7M258.6 190.5h.7M256.4 197.2h.7M275.3 180.8h.7M249.9 200.9h.7M260.7 205.1h.7M261.9 184.9h.7M254.9 197.6h.7M267.3 194.7h.7M274.6 175.8h.7M266.6 193.2h.7M268.2 184.2h.7M262.2 181.4h.7M263.3 199h.7M268.3 187.5h.7M264.9 194.3h.7M255.8 200.5h.7M262.7 190.2h.7M268 185.6h.7M276.9 183.9h.7M253.5 208.9h.7M254.1 209.6h.7M252 210.4h.7M254.5 201.3h.7M262.8 183.5h.7M261.5 204.3h.7M265.7 189h.7M251.4 207.2h.7M244.8 200.5h.7M262.7 191.7h.7M245 210.8h.7M257.9 201.5h.7M258 203.5h.7M271.1 176.5h.7M245.3 210.7h.7M269.9 179.6h.7M245.2 206.4h.7M267 182.4h.7M260.2 188.8h.7M259.7 204.5h.7M250 202.4h.7M256.4 205.7h.7M264.1 199.9h.7M256.6 196.9h.7M268.6 180.1h.7M268.2 185.5h.7M253.3 205.3h.7M265.8 192.6h.7M252.7 207.4h.7M254.2 207.8h.7M252.5 205.1h.7M263.8 178.3h.7M251.8 207.6h.7M246.3 195.3h.7M258 199.6h.7M263.6 191h.7M263.4 191.4h.7M249.7 200.5h.7M259.4 198.7h.7M256.3 209h.7M272.6 192.3h.7M261.5 201.3h.7M246.8 197.9h.7M254.6 201.6h.7M245.8 204.1h.7M257.1 197.5h.7M255.9 198.8h.7M261.1 199.6h.7M266.7 180.3h.7M272.1 178.3h.7M246.7 206.6h.7M253.3 197.6h.7M263.4 195.8h.7M248.8 207.5h.7M259.2 196.6h.7M251.9 203.2h.7M260.5 203.4h.7M248.4 198.2h.7M258.2 199.8h.7M266.7 188.3h.7M253.7 206.8h.7M262.9 194.9h.7M253.7 205.4h.7M260.6 182h.7M265.5 197.4h.7M260.8 200h.7M268.8 186.3h.7M252.1 201.8h.7M272.1 180.6h.7M265.9 182.4h.7M262.2 200.3h.7M262.9 196.4h.7M272.1 187.7h.7M265.1 189.9h.7M260.4 192.4h.7M254.7 190.6h.7M261.6 193.6h.7M268.3 183.3h.7M256.5 192h.7M275.1 177.9h.7M252.7 188.3h.7M254.7 211.3h.7M272.5 182.5h.7M256.7 207.7h.7M265.6 195h.7M253.9 198h.7M261.7 200.8h.7M248.1 207.6h.7M264 188.4h.7M264 185.1h.7M252 195.5h.7M252.9 188.1h.7M254.6 199.4h.7M256.5 199.5h.7M248.1 196.7h.7M267.1 179.3h.7M248.5 203.1h.7M263.9 193.6h.7M267.4 179.4h.7M243.8 212.3h.7M258.5 206.2h.7M252.2 204.5h.7M254 193.8h.7M270.7 176.5h.7M254.2 211.8h.7M259.1 187.5h.7M254.2 197.1h.7M250.5 199.9h.7M268.1 190.3h.7M270.4 187.4h.7M259.4 199.2h.7M255.8 209.7h.7M248.3 193.5h.7M270.3 182.6h.7M260.4 188.7h.7M255.8 205h.7M273 179.9h.7M271.7 184h.7M250.1 205.8h.7M255.5 193.1h.7M258.3 191.6h.7M245.3 210.2h.7M272.7 176.9h.7M247 202.4h.7M256.8 195.4h.7M251.6 192.7h.7M263 184.9h.7M253.8 196.7h.7M258 205.2h.7M269.3 189.6h.7M248.7 190.6h.7M266.9 186.2h.7M266.2 182.4h.7M258.1 190.4h.7M253.3 200.7h.7M259.5 194.9h.7M263.9 194.3h.7M263 192.4h.7M257.8 186.3h.7M260.2 198.5h.7M264.9 182.4h.7M257 196.1h.7M251.4 202.5h.7M249.5 198h.7M260.6 205.3h.7M265.5 181h.7M248.5 208.1h.7M247.8 207.1h.7M259.4 186.7h.7M256.8 206h.7M264.1 189.2h.7M257.2 206.9h.7M254.2 206h.7M250 204.9h.7M252 210.2h.7M251 202h.7M258.6 205h.7M255.6 192.8h.7M266.9 185.5h.7M252.8 213.6h.7M265.7 198.6h.7M258.2 183.1h.7M260.7 202.5h.7M254.9 209.8h.7M246.5 204.6h.7M263.2 198.3h.7M262.7 189.1h.7M267.5 190h.7M271.1 184.1h.7M262.1 189.9h.7M251 213.8h.7M268.8 183.6h.7M262.9 203.5h.7M247.3 196.5h.7M252.6 197.5h.7M271.9 178.8h.7M248 195.5h.7M262.6 197.5h.7M252.8 207.6h.7M248.3 210.4h.7M258.7 192.1h.7M269.4 189.4h.7M258.3 203.8h.7M260 199.3h.7M262.5 182.5h.7M266.8 186.5h.7M269 180h.7M255.1 192.9h.7M255.1 199h.7M250.6 208.2h.7M266.5 183.5h.7M266.4 191.5h.7M273.2 179.1h.7M267.4 183h.7M251.1 200.8h.7M262.9 202h.7M272.8 173.9h.7M256.5 191.3h.7M248.3 205.7h.7M257.2 206.5h.7M272.5 181.6h.7M263.4 193.8h.7M272 185.9h.7M250.1 210.7h.7M258.5 195.4h.7M250.8 196.8h.7M256.9 205.7h.7M253.6 196h.7M266 192.7h.7M263.4 186.2h.7M250 195.5h.7M257.3 210.3h.7M251.7 210.5h.7M248.1 205.5h.7M263.5 183h.7M248.2 197.7h.7M263.6 190.2h.7M251 200.9h.7M273.7 179.1h.7M252.2 205.5h.7M261.3 187.4h.7M273.5 182.2h.7M245.1 196.3h.7M271.1 184.1h.7M260 187.3h.7M252.4 202.6h.7M266.2 187.4h.7M248.8 211.8h.7M256.3 210.4h.7M255.6 207.1h.7M265 184.4h.7M262.2 194.2h.7M261.9 183.6h.7M263.7 200.9h.7M253.6 191.1h.7M270.3 186.8h.7M276.9 180.6h.7M251.2 204.4h.7M264.7 188.7h.7M273.8 183.6h.7M258.1 197.3h.7M264.2 191.4h.7M257.9 185.8h.7M257.4 197.3h.7M255.1 210.9h.7M263.1 183.7h.7M268.5 183.5h.7M256.9 203.2h.7M249.4 209.9h.7M249 198.8h.7M261.9 198.5h.7M256 187.1h.7M249.4 204.7h.7M250.8 205.8h.7M264 200h.7M259.6 188.6h.7M253.9 197.3h.7M251.8 204.4h.7M267.9 184h.7M254.6 203.7h.7M251.4 201.1h.7M268.2 189.5h.7M249.6 198.4h.7M256.2 208.7h.7M259.5 197.8h.7M255 206.9h.7M274.2 182.6h.7M256.4 192.9h.7M273.6 179h.7M248 205.1h.7M258.5 185.8h.7M265.6 188h.7M256.1 194.2h.7M253.4 208.6h.7M264.6 196h.7M258.5 204.8h.7M261.8 199.8h.7M250.4 199.5h.7M255.9 205.5h.7M273 183.6h.7M252.4 201.8h.7M262.3 185.1h.7M261.3 192.2h.7M258.2 197.5h.7M261 188h.7M272.7 187.9h.7M249 199.8h.7M249.6 191.5h.7M264 187.4h.7M247.4 202.2h.7M275.6 176.1h.7M250.5 206.7h.7M252.8 205.4h.7M261.8 198.8h.7M251.7 207.9h.7M261.9 194.1h.7" stroke="#b81c20" stroke-width="0.7" opacity="0.6"/>
<path d="M245.50 211.50C243.58 210.32 244.30 207.68 244.30 205.40C244.30 203.12 244.23 200.35 245.50 197.80C246.77 195.25 249.33 192.67 251.90 190.10C254.47 187.53 257.92 184.63 260.90 182.40C263.88 180.17 267.25 177.87 269.80 176.70C272.35 175.53 275.13 174.87 276.20 175.40C277.27 175.93 277.05 177.45 276.20 179.90C275.35 182.35 273.02 186.92 271.10 190.10C269.18 193.28 266.83 196.02 264.70 199.00C262.57 201.98 259.78 205.75 258.30 208.00C256.82 210.25 257.93 211.92 255.80 212.50C253.67 213.08 247.42 212.68 245.50 211.50Z" fill="#b81c20" stroke="#b81c20" stroke-width="1.8"/>
<path d="M249.88 204.90C249.11 204.43 249.40 203.37 249.40 202.46C249.40 201.55 249.37 200.44 249.88 199.42C250.39 198.40 251.41 197.37 252.44 196.34C253.47 195.31 254.85 194.15 256.04 193.26C257.23 192.37 258.58 191.45 259.60 190.98C260.62 190.51 261.73 190.25 262.16 190.46C262.59 190.67 262.50 191.28 262.16 192.26C261.82 193.24 260.89 195.07 260.12 196.34C259.35 197.61 258.41 198.71 257.56 199.90C256.71 201.09 255.59 202.60 255.00 203.50C254.41 204.40 254.85 205.07 254.00 205.30C253.15 205.53 250.65 205.37 249.88 204.90Z" fill="#fff"/>
<path d="M249.00 206.22C248.01 205.60 248.38 204.24 248.38 203.05C248.38 201.86 248.35 200.42 249.00 199.10C249.66 197.77 251.00 196.43 252.33 195.09C253.67 193.76 255.46 192.25 257.01 191.09C258.56 189.93 260.31 188.73 261.64 188.12C262.97 187.52 264.41 187.17 264.97 187.45C265.52 187.73 265.41 188.51 264.97 189.79C264.53 191.06 263.31 193.44 262.32 195.09C261.32 196.75 260.10 198.17 258.99 199.72C257.88 201.27 256.43 203.23 255.66 204.40C254.89 205.57 255.47 206.44 254.36 206.74C253.25 207.04 250.00 206.84 249.00 206.22Z" fill="none" stroke="#fff" stroke-width=".5"/>
<path d="M248.27 207.32C247.09 206.59 247.53 204.95 247.53 203.54C247.53 202.12 247.49 200.41 248.27 198.83C249.06 197.25 250.65 195.64 252.24 194.05C253.83 192.46 255.97 190.66 257.82 189.28C259.67 187.89 261.76 186.47 263.34 185.74C264.92 185.02 266.65 184.61 267.31 184.94C267.97 185.27 267.84 186.21 267.31 187.73C266.78 189.25 265.33 192.08 264.15 194.05C262.96 196.03 261.50 197.72 260.18 199.57C258.86 201.42 257.13 203.75 256.21 205.15C255.29 206.55 255.98 207.58 254.66 207.94C253.34 208.30 249.46 208.05 248.27 207.32Z" fill="none" stroke="#fff" stroke-width=".5"/>
<path d="M247.54 208.42C246.16 207.57 246.68 205.67 246.68 204.03C246.68 202.38 246.63 200.39 247.54 198.56C248.46 196.72 250.30 194.86 252.15 193.01C254.00 191.16 256.48 189.08 258.63 187.47C260.78 185.86 263.20 184.20 265.04 183.36C266.88 182.52 268.88 182.04 269.65 182.43C270.42 182.81 270.26 183.90 269.65 185.67C269.04 187.43 267.36 190.72 265.98 193.01C264.60 195.30 262.90 197.27 261.37 199.42C259.83 201.57 257.83 204.28 256.76 205.90C255.69 207.52 256.50 208.72 254.96 209.14C253.42 209.56 248.92 209.27 247.54 208.42Z" fill="none" stroke="#fff" stroke-width=".5"/>
<path d="M249.88 204.90C249.11 204.43 249.40 203.37 249.40 202.46C249.40 201.55 249.37 200.44 249.88 199.42C250.39 198.40 251.41 197.37 252.44 196.34C253.47 195.31 254.85 194.15 256.04 193.26C257.23 192.37 258.58 191.45 259.60 190.98C260.62 190.51 261.73 190.25 262.16 190.46C262.59 190.67 262.50 191.28 262.16 192.26C261.82 193.24 260.89 195.07 260.12 196.34C259.35 197.61 258.41 198.71 257.56 199.90C256.71 201.09 255.59 202.60 255.00 203.50C254.41 204.40 254.85 205.07 254.00 205.30C253.15 205.53 250.65 205.37 249.88 204.90Z" fill="none" stroke="#b81c20" stroke-width=".6"/>
<path d="M209.8 209.8h.7M218.1 208.7h.7M205.9 203.1h.7M200.7 205.1h.7M209.2 210.9h.7M212 209.7h.7M203 210.4h.7M201.6 200h.7M199.3 198.5h.7M201.7 215.2h.7M202.1 208.8h.7M202.8 212.5h.7M209.4 216.3h.7M200.1 213.3h.7M208.5 210.6h.7M219.7 210.9h.7M216.3 203.9h.7M217.7 213.8h.7M202.4 200.5h.7M213.9 209.8h.7M206.6 207.3h.7M208.5 206.4h.7M211.5 205h.7M212 217.1h.7M202.3 204.7h.7M212 212.2h.7M209.7 210.6h.7M201 209.5h.7M214.3 208.2h.7M197.2 217.1h.7M198.3 210.9h.7M216.8 210.2h.7M196.4 204.6h.7M208.4 213.4h.7M195.1 214.2h.7M202.9 212.7h.7M208.1 207.7h.7M200.1 212.2h.7M204.4 209.7h.7M200.5 197.2h.7M207.3 212.8h.7M213.6 209.7h.7M201.3 208.6h.7M210.3 209.9h.7M217.3 211.3h.7M216.9 209.4h.7M200.4 204h.7M207.6 210.7h.7M201.8 200.7h.7M207.7 210.2h.7M198 201.5h.7M199.8 204h.7M209.3 199.5h.7M199.7 203.4h.7M203.1 197.3h.7M206.9 201.6h.7M214.2 213.7h.7M216.7 203.4h.7M209.9 199.9h.7M204.9 194.8h.7M207.9 214.3h.7M206.9 212.6h.7M199.2 209.6h.7M205.1 212h.7M201.7 197.7h.7M201.9 217.3h.7M202.1 199.3h.7M216.2 202.5h.7M200.9 211.1h.7M210.4 216.5h.7M216.6 204.3h.7M198.9 211.5h.7M205.9 197.9h.7M213.2 212.3h.7M212.5 213.1h.7M205.4 206.2h.7M205.3 210.9h.7M210.7 204.4h.7M217.3 212.8h.7M200.4 202.8h.7M207.2 212.2h.7M197.8 203.4h.7M203.1 202.7h.7M216.6 207.1h.7M205.1 201.1h.7M205.7 206.8h.7M202.9 211.2h.7M203 204.9h.7M200.8 215.1h.7M203.5 203.5h.7M202.7 214h.7M218.8 212.7h.7M213.7 216.3h.7M208.6 202.9h.7M208.5 207.3h.7M212.3 214.6h.7M201.6 209.8h.7M209.1 200.1h.7M215.6 206.2h.7M216.9 204.4h.7M208.3 205.5h.7M204.7 206.3h.7M215.9 207.2h.7M202.6 210.2h.7M209.7 206.6h.7M212.7 205.4h.7M199.8 213.1h.7M200.3 215.8h.7M199.3 206.2h.7M208.6 215.7h.7M209.3 205.4h.7M206 199.9h.7M217.4 211.5h.7M206.2 212.2h.7M218.6 204.1h.7M203 198.4h.7M207.6 198.4h.7M208.9 209h.7M212.3 209.9h.7M214.3 200.6h.7M205.1 202.7h.7M212.3 204.7h.7M205 197.6h.7M220 208.4h.7M209.3 196h.7M216.2 213.7h.7M202.3 202.9h.7M207.1 211.9h.7M203.7 214.2h.7M202.7 218.3h.7M202.8 204.5h.7M206.4 210.2h.7M207.7 197.2h.7M214.9 207.4h.7M207.6 210.8h.7M218.8 214.2h.7M217.3 215.8h.7M216.2 214.4h.7M202.7 213.6h.7M203.3 204.1h.7M208.9 210.8h.7M205 207.3h.7M200.3 207.9h.7M207 200.7h.7M199.2 210.6h.7M197.4 197.2h.7M198.8 212.8h.7M200.7 212.3h.7M202.5 212.3h.7M218.8 205.2h.7M210.5 212.1h.7M202.4 201.1h.7M207.7 213.9h.7M211.8 199.3h.7M210.1 210h.7M200.1 210.9h.7M207.3 203.8h.7M207 199.5h.7M201.7 211.3h.7M203.9 198.9h.7M199 197.7h.7M200 208.9h.7M206.5 211.6h.7M204 203.3h.7M203.1 202.2h.7M201.6 203.9h.7M214.2 210.7h.7M203.6 211.2h.7M204.2 215.1h.7M201.7 197.8h.7M201.2 204.7h.7M204.5 206.1h.7M205.4 201.4h.7M210.5 202.2h.7M212.3 205.1h.7M207.5 195.4h.7M209.7 200.3h.7M207.7 215.3h.7M202.9 213.4h.7M199.8 210.5h.7M212.6 216.2h.7M199.8 212.2h.7M204.1 204.2h.7M198.5 215.1h.7M205.1 209.9h.7M212.6 213.4h.7M215.6 204.3h.7M215.3 205.9h.7M200 206.4h.7M205.2 211.1h.7M210.1 214.3h.7M201.8 214.9h.7M198.4 197.6h.7M209.5 207.2h.7M203.4 209.2h.7M208.5 201.3h.7M202.3 217.5h.7M206.8 205.1h.7M212.7 213.9h.7M202 210.8h.7" stroke="#b81c20" stroke-width="0.7" opacity="0.6"/>
<path d="M198.80 197.50C200.13 194.33 204.47 196.17 206.80 196.50C209.13 196.83 210.97 198.17 212.80 199.50C214.63 200.83 216.60 202.67 217.80 204.50C219.00 206.33 219.83 208.67 220.00 210.50C220.17 212.33 222.33 214.67 218.80 215.50C215.27 216.33 202.13 218.50 198.80 215.50C195.47 212.50 197.47 200.67 198.80 197.50Z" fill="#b81c20" stroke="#b81c20" stroke-width="1.8"/>
<path d="M201.68 201.02C202.59 198.87 205.53 200.11 207.12 200.34C208.71 200.57 209.95 201.47 211.20 202.38C212.45 203.29 213.78 204.53 214.60 205.78C215.42 207.03 215.98 208.61 216.10 209.86C216.21 211.11 217.68 212.69 215.28 213.26C212.88 213.83 203.95 215.30 201.68 213.26C199.41 211.22 200.77 203.17 201.68 201.02Z" fill="none" stroke="#fff" stroke-width=".45" opacity=".9"/>
<path d="M203.21 202.89C203.89 201.27 206.10 202.21 207.29 202.38C208.48 202.55 209.42 203.23 210.35 203.91C211.29 204.59 212.29 205.53 212.90 206.46C213.51 207.40 213.94 208.59 214.02 209.52C214.11 210.46 215.21 211.64 213.41 212.07C211.61 212.50 204.91 213.60 203.21 212.07C201.51 210.54 202.53 204.50 203.21 202.89Z" fill="none" stroke="#fff" stroke-width=".45" opacity=".9"/>
<path d="M204.74 204.76C205.19 203.68 206.67 204.31 207.46 204.42C208.25 204.53 208.88 204.99 209.50 205.44C210.12 205.89 210.79 206.52 211.20 207.14C211.61 207.76 211.89 208.56 211.95 209.18C212.00 209.80 212.74 210.60 211.54 210.88C210.34 211.16 205.87 211.90 204.74 210.88C203.61 209.86 204.29 205.84 204.74 204.76Z" fill="none" stroke="#fff" stroke-width=".45" opacity=".9"/>
<path d="M200.4 197.3h.7M202.5 193h.7M199.4 193.5h.7M197.5 198.9h.7M204.8 189.6h.7M200.9 196.8h.7M199.2 195.6h.7M199.6 199.9h.7M196.3 194.6h.7M202.9 191.7h.7M203.4 193.1h.7M203.5 192.2h.7M199.2 198.4h.7M202 190.6h.7M204.3 194.5h.7M200.9 194.3h.7M203.6 189.6h.7M201.1 199h.7M198.6 191.5h.7M200.1 201.3h.7M200.6 196.9h.7M201.1 195.6h.7M204.7 191.2h.7M198.7 191.9h.7M199.7 200.6h.7M198.6 197.6h.7M200.6 196.5h.7M202 198.1h.7M199.5 197h.7M198.3 199.2h.7" stroke="#1f5fae" stroke-width="0.7" opacity="0.6"/>
<path d="M198.80 189.10C199.38 187.60 201.63 187.93 202.30 189.50C202.97 191.07 203.38 197.00 202.80 198.50C202.22 200.00 199.47 200.07 198.80 198.50C198.13 196.93 198.22 190.60 198.80 189.10Z" fill="#1f5fae" stroke="#1f5fae" stroke-width="1.8"/>
<path d="M206.80 208.50C207.30 207.33 208.47 202.33 209.80 201.50C211.13 200.67 213.80 202.33 214.80 203.50C215.80 204.67 215.63 207.67 215.80 208.50" fill="none" stroke="#4cab36" stroke-width=".8"/>
<path d="M208.80 210.50C209.30 209.50 210.97 204.67 211.80 204.50C212.63 204.33 213.47 208.67 213.80 209.50" fill="none" stroke="#4cab36" stroke-width=".8"/>
<path d="M212.80 200.50L217.80 204.50" fill="none" stroke="#1f5fae" stroke-width=".8"/>
<path d="M247.80 210.50C247.97 208.83 247.47 203.67 248.80 200.50C250.13 197.33 252.97 194.50 255.80 191.50C258.63 188.50 262.80 184.83 265.80 182.50C268.80 180.17 272.47 178.33 273.80 177.50" fill="none" stroke="#b81c20" stroke-width=".8"/>
</g>
<path d="M196.4 117.9h2.6M197.4 131.0h1.6M197.4 127.7h1.6M197.4 125.3h1.6M197.4 123.5h1.6M197.4 122.0h1.6M197.4 120.8h1.6M197.4 119.7h1.6M197.4 118.8h1.6M196.4 136.6h2.6M197.4 150.3h1.6M197.4 146.8h1.6M197.4 144.4h1.6M197.4 142.5h1.6M197.4 140.9h1.6M197.4 139.6h1.6M197.4 138.5h1.6M197.4 137.5h1.6M196.4 156.2h2.6M197.4 170.1h1.6M197.4 166.6h1.6M197.4 164.1h1.6M197.4 162.2h1.6M197.4 160.6h1.6M197.4 159.3h1.6M197.4 158.1h1.6M197.4 157.1h1.6M196.4 176.1h2.6M197.2 183.3h1.8M197.2 188.8h1.8M197.2 193.8h1.8M197.2 198.3h1.8M197.2 201.8h1.8M197.2 204.5h1.8M197.2 207.8h1.8M197.2 210.8h1.8M203.0 215.1v1.8M207.0 215.1v1.8M210.0 215.1v1.8M213.5 215.1v1.8M217.0 215.1v1.8M220.0 215.1v1.8M224.0 215.1v1.8M228.0 215.1v1.8M232.0 215.1v1.8M248.7 215.1v2.4M235.8 215.1v1.6M238.9 215.1v1.6M241.3 215.1v1.6M243.2 215.1v1.6M244.9 215.1v1.6M246.3 215.1v1.6M247.6 215.1v1.6M273.4 215.1v2.4M256.1 215.1v1.6M260.5 215.1v1.6M263.6 215.1v1.6M266.0 215.1v1.6M267.9 215.1v1.6M269.6 215.1v1.6M271.0 215.1v1.6M272.3 215.1v1.6M298.0 215.1v2.4M280.8 215.1v1.6M285.1 215.1v1.6M288.2 215.1v1.6M290.6 215.1v1.6M292.5 215.1v1.6M294.2 215.1v1.6M295.6 215.1v1.6M235.8 215.1v1.6M238.9 215.1v1.6M241.3 215.1v1.6M243.2 215.1v1.6M244.9 215.1v1.6M246.3 215.1v1.6M247.6 215.1v1.6" stroke="#000" stroke-width="1.1" fill="none"/>
<rect x="199.9" y="117.6" width="96.9" height="96.5" fill="none" stroke="#000" stroke-width="1.8"/>
<clipPath id="c8"><rect x="394.8" y="118.5" width="95.1" height="94.8"/></clipPath>
<g clip-path="url(#c8)">
<path d="M429.1 199.5h.6M428.3 213.9h.6M410.4 175.1h.6M422.5 204.3h.6M434.1 185.7h.6M427.6 197.6h.6M412 155.9h.6M441.4 196.4h.6M440 192.3h.6M396.8 174h.6M442.8 185.6h.6M432.8 184.7h.6M413.3 205.2h.6M419.6 156.1h.6M424.3 158h.6M412.3 195.4h.6M427.6 203h.6M402.4 214.1h.6M417 210.8h.6M398.9 202.2h.6M420.5 199.8h.6M442.5 194h.6M414.5 189.7h.6M411 186.2h.6M410 199.6h.6M402.8 182.6h.6M433.9 171h.6M429 207.1h.6M403.4 194.7h.6M400.2 184.1h.6M406 176.7h.6M405.6 164.2h.6M399.3 183h.6M430 180.3h.6M419.1 191.3h.6M404.9 184.4h.6M431.9 213.3h.6M427.5 174.6h.6M396.4 207h.6M411.5 179.4h.6M407.9 209.3h.6M423.4 153.6h.6M395.6 182.6h.6M418.9 194.5h.6M403.8 189.1h.6M436.3 175.6h.6M434.6 199.6h.6M440.8 207.6h.6M427.8 201.1h.6M407.2 209.5h.6M429.7 187.4h.6M419.7 193.7h.6M395.8 165.2h.6M407.1 199.7h.6M439.7 191.4h.6M403.9 156.9h.6M428.2 157.5h.6M424.2 185.8h.6M420.7 193.2h.6M418.3 181.8h.6" stroke="#1f5fae" stroke-width="0.6" opacity="0.5"/>
<path d="M407.9 186.2h.6M431.6 179.3h.6M440.9 180.2h.6M395.2 162h.6M412.9 199.7h.6M435.4 163.8h.6M425.7 160.9h.6M437.6 197.8h.6M420.9 183.6h.6M439.2 201.7h.6M426.8 194.5h.6M429.6 193.7h.6M444.7 195.7h.6M423.1 197.6h.6M430.4 174.7h.6M399.4 209.9h.6M404.3 181.7h.6M400.9 203.8h.6M423.7 211h.6M438.1 168.7h.6M412.5 199.7h.6M429.4 176.2h.6M441.8 195.6h.6M439.2 196.6h.6M428.8 213.8h.6M400 161.5h.6M431.8 200.8h.6M440.3 188.5h.6M397.7 176.4h.6M431.8 166h.6M399.7 214h.6M436.7 177.2h.6M395.4 166.4h.6M404.6 195.5h.6M438.8 166.9h.6M430.9 212.4h.6M408.4 165.4h.6M395.5 204.3h.6M427.9 181.6h.6M424.1 196.9h.6M417.3 195.8h.6M421.4 213.9h.6M440 205.8h.6M419.2 180.6h.6M433.1 188h.6M396.5 178h.6M420 168.3h.6M396 185.7h.6M415.5 197.4h.6M442.1 166.4h.6M412.9 180h.6M426.6 167.1h.6M415.6 209h.6M429.9 202.7h.6M409.5 159.2h.6M401.9 212.9h.6M443.5 209.3h.6M405.8 197.4h.6M431.5 200.5h.6M440.7 202.7h.6" stroke="#b81c20" stroke-width="0.6" opacity="0.5"/>
<path d="M404.9 212.9h.6M425.5 213h.6M415.4 185.6h.6M430 187.9h.6M419.1 185.9h.6M432.4 185.4h.6M408.9 209.8h.6M431.7 200.1h.6M430.8 197h.6M405.8 191.3h.6M412.7 193h.6M432.1 193.9h.6M432.1 200.4h.6M433.4 207.8h.6M411.2 180.5h.6M427.6 189.9h.6M425.5 188.5h.6M422 193.8h.6M438.4 178.9h.6M433.7 180.8h.6M406.7 180.3h.6M405.1 203.2h.6M418.1 177.7h.6M415.6 177.8h.6M424.7 204.8h.6M428.6 194.1h.6M429.1 211.2h.6M423.4 213.8h.6M444.1 201.8h.6M409.3 200.2h.6M442.2 195h.6M407.1 197.8h.6M424.7 194.4h.6M422.7 192.6h.6M424 202.3h.6M423.4 213.2h.6M412.4 211.2h.6M432.3 205.6h.6M406.7 180.9h.6M438.1 209.1h.6" stroke="#4cab36" stroke-width="0.6" opacity="0.5"/>
<path d="M443 176.3h.7M405.5 195.7h.7M433.7 177.5h.7M414.2 189.5h.7M410.2 182.5h.7M410.5 190.6h.7M413.9 204.3h.7M415.8 194.1h.7M407.5 188.9h.7M422.2 179.4h.7M440.6 165.7h.7M427.8 171.9h.7M437.3 162.9h.7M407 189.7h.7M432.4 170.9h.7M440.1 163.6h.7M433.6 164.7h.7M437.4 173h.7M407.8 201.7h.7M420.2 185.8h.7M412.3 199.1h.7M442 174h.7M423.3 185.8h.7M437.1 180.8h.7M420.9 168.6h.7M418.8 194h.7M427.5 177.8h.7M427.3 164.7h.7M417.7 186.4h.7M443.6 168.9h.7M414.5 194h.7M405.5 193.6h.7M412.2 191.9h.7M419.8 184.9h.7M435.2 178.7h.7M407.3 198.9h.7M437.2 163.9h.7M403.9 194h.7M427.7 177.5h.7M443.2 172h.7M430.7 178.4h.7M412.9 203.6h.7M411.6 185.7h.7M421.6 187.6h.7M431.9 165.5h.7M436.5 176h.7M411.8 202.4h.7M420.5 187.8h.7M413.9 182.5h.7M426.3 183.3h.7M419.5 188.3h.7M416.8 192.2h.7M424.9 171.9h.7M412.3 193.6h.7M420.3 179.4h.7M414.2 185.2h.7M410.4 179.1h.7M412 195.7h.7M420 187.3h.7M430.9 170.5h.7M428.3 190.3h.7M416.2 191.4h.7M435 173.4h.7M420.9 176.7h.7M414 193.9h.7M433.3 178.8h.7M404.3 193.4h.7M425.2 175.5h.7M435.9 169.9h.7M403.8 192.6h.7M432.9 179.4h.7M444.9 168.2h.7M425.7 168.7h.7M429.7 187.5h.7M442.9 167.3h.7M424.4 192.2h.7M408.7 186.5h.7M435.9 168.1h.7M408.8 196.2h.7M436.2 164.8h.7M442 165.6h.7M436.9 165.3h.7M406 179.5h.7M398.5 190.9h.7M440.9 167.5h.7M417.6 195.8h.7M400 182.5h.7M423.6 180.3h.7M410.8 200.5h.7M441.5 173h.7M430.1 171.1h.7M412 198.5h.7M413.1 185.2h.7M422.2 192.6h.7M422.4 184.8h.7M436.8 165.8h.7M404.6 192.2h.7M438.4 162.9h.7M433 172h.7M422.5 177.9h.7M412.3 184.5h.7M433.2 190.8h.7M414.4 185.7h.7M438.3 191.9h.7M406.9 198.7h.7M408.6 196.1h.7M414.2 198.2h.7M413.1 198.3h.7M428.2 174.2h.7M439.2 167.2h.7M405.6 191.9h.7M423.8 179h.7M418.3 193.6h.7M412.5 197.4h.7M444.3 171.1h.7M438.9 172.7h.7M425.7 172.9h.7M436.7 164.2h.7M432 174.9h.7M411.3 186.4h.7M407.2 188.9h.7M401.9 190.8h.7M410 196.6h.7M438 161.6h.7M414.1 197.9h.7M433.9 176.1h.7M444.1 170h.7M435.7 169.8h.7M427.3 174.9h.7M422.8 184.8h.7M407.4 190h.7M437.4 169.2h.7M422.9 191h.7M417.9 179.8h.7M433.9 175.4h.7M431.2 174.4h.7M425.6 176.4h.7M410.4 196.4h.7M418.9 182h.7M435.6 182.1h.7M416.9 186.3h.7M417.4 183.6h.7M429.5 170.5h.7M416 195.3h.7M412.2 190.7h.7M421.7 179.5h.7M424.4 184.3h.7M429.2 160.6h.7M426.8 192.3h.7M417.8 191.7h.7M417 190.7h.7M428.9 170.8h.7M434.6 162.8h.7M425.9 176h.7M429.8 178.3h.7M421.2 181.6h.7M435 171.4h.7M429.9 178.6h.7M418.9 198.9h.7M431.4 162.9h.7M411.6 193.1h.7M424 184.3h.7M411.6 193.9h.7M417 172.5h.7M398.1 184.1h.7M433.7 176.1h.7M413 182.9h.7M419.2 189.7h.7M419 186.7h.7M443.1 171h.7M409.5 196.3h.7M402.4 195h.7M438.3 179.3h.7M434 171.4h.7M403.4 191h.7M425.9 192.1h.7M420.9 192.1h.7M433 169.9h.7M420.8 177.4h.7M412.5 190h.7M435.7 164.3h.7M432.8 172.4h.7M429.4 182h.7M418 199.9h.7M402.4 190.1h.7M406.4 191.4h.7M420.8 183.7h.7M439.4 164.8h.7M430.8 166.6h.7M428.1 166.3h.7M404.4 185.9h.7M419.1 201.9h.7M414.2 199.8h.7M437.9 172.9h.7M427.1 181.3h.7M418.3 179.2h.7M416.6 193.1h.7M423.2 188.5h.7M420.3 186h.7M422.1 180.3h.7M440.4 163.2h.7M427.9 183.6h.7M444 169.8h.7M412.6 180.7h.7M408.7 201.2h.7M416.7 185.1h.7M438.6 174.3h.7M433.3 171h.7M407.6 189.5h.7M430.4 158.6h.7M414.1 188.2h.7M400.7 190.8h.7M438.3 180.9h.7M430 173.2h.7M403 191.5h.7M430.1 182.7h.7M446.4 178.8h.7M433.4 168.6h.7M441.3 171.8h.7M424.3 188.6h.7M434.4 171h.7M442.2 173.5h.7M415.9 196.4h.7M427.9 176.4h.7M417.3 195.6h.7M425.9 184h.7M424.8 179h.7M426.5 177.9h.7M416.1 188.7h.7M417.3 191.8h.7M416.2 184.6h.7M409.1 190h.7M411.4 194.7h.7M424.6 189.3h.7M425.7 173.8h.7M424.8 181h.7M436.8 165.3h.7M426.6 192.9h.7M429.7 167.7h.7M419.4 185.4h.7M414.4 185.7h.7M411.1 197.6h.7M411.9 195.4h.7M412.3 190.7h.7M428.7 187.4h.7M411.6 189.7h.7M415.8 179.4h.7M425.4 180.6h.7M421.9 174h.7M428 184.6h.7M426.6 181.5h.7M418.8 195.8h.7M420.5 174.5h.7M410.3 193.2h.7M409.5 202.2h.7M430.2 177.8h.7M419.6 186.2h.7M431.2 173.4h.7M436.7 177.2h.7M440.6 176.5h.7M444.8 173.5h.7M427.3 177.8h.7M409.9 181.6h.7M431.9 176.8h.7M413.6 192.7h.7M437 170.3h.7M416 192h.7M416.8 190.9h.7M413.8 192.3h.7M422.2 189.5h.7M416.6 187.8h.7M438 173.2h.7M412.4 192.8h.7M438.4 173.4h.7M432.3 174.9h.7M425.8 176h.7M411.8 188.9h.7M411.5 199.2h.7M426.5 182.2h.7M415.1 189.7h.7M420.4 180.6h.7M410.2 183.8h.7M422.1 186.2h.7M429.2 171.1h.7M405 198.4h.7M401.8 192.8h.7M425.5 182.7h.7M430.5 172.5h.7M410.3 192.2h.7M402.9 195.5h.7M409.2 196.7h.7M418.1 184.5h.7M442.6 171.7h.7M424.9 175.4h.7M415.5 180h.7M430.1 168.5h.7M407.8 192h.7M429.6 168.2h.7M423.5 185.5h.7M431.5 172.9h.7" stroke="#1f5fae" stroke-width="0.7" opacity="0.55"/>
<path d="M413.3 185.5h.7M435.8 161.7h.7M422.5 182.2h.7M439.2 168.2h.7M422.7 185.1h.7M409.1 194.8h.7M434.2 179.3h.7M421.7 177.9h.7M439.2 162.2h.7M431.4 170.2h.7M420.5 196.3h.7M405.1 186.2h.7M435.6 166.1h.7M405.6 194.1h.7M432.6 169.1h.7M416.7 200.9h.7M433.8 195.2h.7M426.4 173.5h.7M441 175.8h.7M409.8 202.6h.7M431 165.6h.7M426 182.8h.7M449.2 174.7h.7M411.7 190.1h.7M428.8 177.3h.7M426.4 179.5h.7M423.5 168.7h.7M449.4 172h.7M423.1 177.7h.7M415 185.6h.7M424.8 179.5h.7M437.9 184.1h.7M407.9 194.7h.7M422.8 173.9h.7M444.6 168.7h.7M411 202.8h.7M413.9 189.9h.7M439.1 161.7h.7M433 170.6h.7M415.1 196.8h.7M425.6 178.8h.7M439.1 162.5h.7M413.8 187h.7M406.1 188.2h.7M410.6 194.6h.7M427 198.2h.7M427.7 185.9h.7M409.2 187.9h.7M433.3 161.1h.7M409.8 197.8h.7M422.7 187.8h.7M436.7 165.8h.7M425.3 175.6h.7M426.5 182.4h.7M421.1 173.2h.7M420.7 181.9h.7M408.8 196.5h.7M420.2 183.9h.7M442.8 164.8h.7M418.4 187.7h.7M430.9 166.9h.7M422.1 188.2h.7M421.9 179.6h.7M415.2 189.4h.7M440.7 165.9h.7M440.3 172.9h.7M412 195.1h.7M402.1 192.3h.7M429 175.8h.7M436.4 171.8h.7M430.4 177.6h.7M411.3 192.1h.7M407.4 186h.7M426 173.2h.7M413.8 195.6h.7M427.6 174.7h.7M444.7 172.3h.7M427.2 185.9h.7M424.2 174.9h.7M422.7 181.7h.7M413.2 200.5h.7M410.4 195.8h.7M414.6 192.1h.7M421.6 183.6h.7M417.4 196.6h.7M428.7 182.6h.7M426.7 186.7h.7M433.7 173.3h.7M436 194.6h.7M439.5 172.4h.7M430.4 181.6h.7M411 192.9h.7M403.2 195.8h.7M407.3 196h.7M409.8 198.2h.7M416.1 192.2h.7M438.8 174.2h.7M405.4 187.7h.7M406.4 189.9h.7M437.8 160.7h.7M423.8 186.8h.7M432.5 166.1h.7M407.2 199.7h.7M397.4 189h.7M418.6 184h.7M403.6 193.2h.7M419.8 187.5h.7M424.8 181.7h.7M424.1 177.5h.7M441 163.3h.7M429.5 179.3h.7M402.4 187.9h.7M439.6 163h.7M427 179.1h.7M417.1 201.5h.7M404.1 192.9h.7M426.3 180.1h.7M432.4 181.9h.7M416.5 189.4h.7M437.9 166.3h.7M418.2 193.4h.7M424.8 189.6h.7M429.8 171.5h.7M428.5 176.1h.7M424.3 186.6h.7M431.7 181.8h.7M414.7 177.1h.7M419.2 191.2h.7M428.9 176h.7M415.5 189.2h.7M418.4 179h.7M417.4 184.7h.7M414.7 196.1h.7M434.1 175.5h.7M429.5 164.5h.7M413.6 179.7h.7M409.3 201.5h.7M395.6 186.4h.7M423.6 177.3h.7M433.7 158.9h.7M424.4 182h.7M433.5 168.2h.7M426.6 168.5h.7M411.1 191.9h.7M415.4 179.6h.7M413.6 179.5h.7M421.9 185.4h.7M414.5 189.2h.7M421 188.3h.7M440.7 175.8h.7M434.2 172.7h.7M440.3 166.5h.7M426.9 170.6h.7M435.3 171h.7M414.8 183.6h.7M414.8 195.3h.7M440.1 164.7h.7M432.2 166.2h.7M433.4 183.5h.7M417.5 185.2h.7M419.9 177.2h.7M437.7 166.9h.7M407.9 193.9h.7M436.4 162.9h.7M426.9 179.8h.7M420.3 187.4h.7M416 181.7h.7M440.9 163.9h.7M418.2 187h.7M402.9 194.4h.7M411.5 197.3h.7M423.3 183.5h.7M429.2 175.1h.7M415.9 184.4h.7M414.8 190.1h.7M420.3 182.3h.7M435.9 168.3h.7M438 170.2h.7M412.3 192.2h.7M433.3 166.6h.7M435 173.7h.7M408.1 197h.7M413 184.5h.7M430.8 190.5h.7M411.8 185.3h.7M406 191.1h.7M412.9 184.2h.7M408.4 202h.7M425.8 180.2h.7M441.4 174.2h.7M416.3 181.4h.7M431.6 164.6h.7M437 169.8h.7M402.1 190.2h.7M429.7 169h.7M430.3 186.1h.7M418.1 195.9h.7M434 170.6h.7M413.6 194.3h.7M417.7 185.2h.7M442.8 170.4h.7M432.8 171h.7M441.7 166h.7M444 173.1h.7M410.4 190.4h.7M418 178.5h.7M440.3 164.7h.7M436.4 159.8h.7M413.7 192.4h.7M421.5 183.6h.7M412.1 200.7h.7M421.8 181.8h.7M409.1 198.9h.7M442.4 170.4h.7M417.4 176.2h.7M433.8 169.1h.7M421.8 189.9h.7M439.6 164.4h.7M427.4 184.3h.7M418.8 187.9h.7M406.7 192.2h.7M431.7 170h.7M425.9 171.2h.7M417.9 187.7h.7M430.7 178.5h.7M399.5 191.2h.7M437 161h.7M434.3 167.4h.7M402.3 182.5h.7M439.8 165h.7M434.5 190.6h.7M409.1 192.4h.7M430.3 184.9h.7M424.3 167.9h.7M407.3 196.2h.7M408.3 201.5h.7M415 189.5h.7M429 175.3h.7M434.2 165h.7M406.3 195h.7M414.5 180.7h.7M424 187.8h.7M429.9 176.8h.7M428.4 166h.7M422.5 194.8h.7M406.8 196.8h.7M417.7 186.3h.7M403 191.9h.7M442.8 165.8h.7M434.6 170.6h.7M432.1 172h.7M411.6 188.2h.7M434.2 164.8h.7M410.5 193.3h.7M440.7 173.3h.7M424.9 187.4h.7M437.9 181.7h.7M423.7 180.3h.7M428.3 186.7h.7M417.2 186.5h.7M425 175.2h.7M426.6 184.4h.7M423.5 172.7h.7M440.1 162.8h.7M437.8 169.2h.7M412.5 189.7h.7M418.6 188.8h.7M423.5 184.9h.7M432.4 178.3h.7M408.3 195.7h.7M402.2 191.8h.7M432.3 183.5h.7M410.8 189.4h.7M410 192.9h.7M434 182.6h.7M444 170h.7M429.2 169.1h.7M419.2 172.9h.7M436.7 175.6h.7M421.2 186h.7M405.2 197.6h.7M427 173.7h.7M433 171h.7M419.1 186.9h.7M441 162.7h.7M404.5 197.1h.7M408.8 190.2h.7M431.4 173.6h.7M429.6 175.8h.7M414.8 198.9h.7M406.7 188.8h.7M413.2 188.6h.7M417.5 190.9h.7M413.9 196.9h.7M428.3 185.4h.7M421.6 192.7h.7M444.3 171.6h.7M435.7 173.9h.7M407.2 197.8h.7M412.2 193.1h.7" stroke="#b81c20" stroke-width="0.7" opacity="0.55"/>
<path d="M433.6 179.1h.7M426.9 182.7h.7M429.8 166.2h.7M431 172.5h.7M432.4 178.3h.7M434.9 170.3h.7M411.5 194.2h.7M417.6 183.9h.7M442.5 165.6h.7M409.8 188.4h.7M413.5 183.1h.7M413.3 188.3h.7M416.3 186.7h.7M421.9 184.8h.7M435.5 176.3h.7M411.4 182.6h.7M410.4 200.3h.7M416.2 191.5h.7M439.6 161.1h.7M432.5 164.6h.7M414.5 205.2h.7M419.8 184.7h.7M420.1 189.1h.7M424.8 177.9h.7M425.2 182.9h.7M431.3 187.3h.7M408.7 201.3h.7M420.2 175.6h.7M424.8 183.9h.7M440.6 168.4h.7M430.5 175.1h.7M430.4 169.7h.7M405.1 194.6h.7M428.5 175.6h.7M407.9 192.9h.7M419.5 168.4h.7M430.9 171.4h.7M408.4 194.6h.7M422.9 179.6h.7M411.4 187.6h.7M416.7 184.9h.7M413 182.5h.7M416.9 184h.7M414.8 182.9h.7M420.6 189.4h.7M429.9 177.8h.7M433 170.5h.7M410.5 185.9h.7M421.4 175.8h.7M411.6 192.8h.7M428.4 172h.7M424.2 182.2h.7M421.6 185.9h.7M427.4 175.3h.7M408.1 197.7h.7M410.4 186.8h.7M419.2 189.1h.7M429.6 163h.7M430.6 185.4h.7M430.5 173.9h.7M428.4 179.2h.7M430.6 167.4h.7M414.7 199.6h.7M420.6 187.4h.7M410.8 193.5h.7M432.3 177.9h.7M435.3 168.2h.7M429.2 171.3h.7M406.7 193.1h.7M433.8 175.9h.7M422.9 182.4h.7M432.4 175.2h.7M427.8 181.4h.7M429.5 177h.7M407.9 199.4h.7M414.5 197h.7M439.4 172.5h.7M433.9 172h.7M426.8 183.5h.7M438.3 177.2h.7M406.4 193.8h.7M430 183h.7M411.6 201.7h.7M440.9 167.5h.7M428.8 171h.7M408.8 202.2h.7M417 188.3h.7M435.7 167h.7M409.8 186h.7M409.9 198.1h.7M415.6 191h.7M440.5 164.1h.7M424.2 185.3h.7M425.7 176h.7M432.4 178.2h.7M405.3 196h.7M444.9 168.5h.7M418.6 181.4h.7M433.9 165.6h.7M408.4 193.7h.7M429.6 175.8h.7M425.5 180.4h.7M431.2 175.3h.7M427.9 176.3h.7M435.8 172.4h.7M408.5 185.8h.7M407.8 191.6h.7M445.2 169h.7M427.8 174.7h.7M413.8 187.4h.7M437.4 166.8h.7M415.4 182.9h.7M413 190.2h.7M410.3 186.3h.7M441.4 165.3h.7M420.5 174.9h.7M428.7 177.8h.7M433.8 174.3h.7M398.5 189.6h.7M436.7 163.1h.7M425.2 185.8h.7M416.8 166.4h.7M420.7 192.3h.7M420.4 180.7h.7M430.6 184.9h.7M408.1 189.3h.7M425.2 186h.7M413 187.3h.7M441.6 169.2h.7M409.6 190h.7M425 180.7h.7M438 162.7h.7M409.9 187.1h.7M406.1 184h.7M440.7 180.1h.7M409.6 189.3h.7M409 190.9h.7M426.3 183.4h.7M429.2 175.3h.7M415.4 200.9h.7M407.7 197.2h.7M402.2 191.9h.7M436.2 163.2h.7M428.6 182.3h.7M408.5 197h.7M426.3 180.4h.7M440.2 172.3h.7M433.1 170.7h.7M442.3 166.4h.7M426.8 175.3h.7M424.3 176.1h.7M413 190.7h.7M432.4 173.6h.7M427.2 169.3h.7M427.8 176h.7M435.9 167.1h.7M434.2 166h.7M414.8 187h.7M418.8 190.8h.7M407.5 190.7h.7M400.3 189.4h.7M434.8 176.5h.7M422.5 178.6h.7M407.3 192.6h.7M429 174.4h.7M447.8 177.7h.7M425.9 180.7h.7M413 182.4h.7M414.9 200.1h.7M434.7 168.8h.7M438.7 161h.7M438.6 170.5h.7M412.9 186.7h.7M405.7 193h.7M438.7 176.6h.7M442.8 175.7h.7M416.8 185h.7M413.4 199.2h.7M427.8 182.9h.7M414.2 187.8h.7M417.9 183.5h.7M424.4 182.5h.7M423.9 184h.7M432.7 173h.7M424.3 189.8h.7M431.9 166.9h.7M413.9 193h.7M418.7 177.5h.7M401.2 189.6h.7M412.3 182.7h.7M430 177.3h.7M438.4 176.2h.7M438.3 167.4h.7M427.8 179.2h.7M407.7 197.9h.7M411 197.9h.7M436.6 169.2h.7M423.9 195.7h.7M427.2 171.7h.7M422.3 173.2h.7M411.3 192h.7M441.1 179.8h.7M435.9 180.9h.7M416.5 183.4h.7M417.3 198.7h.7M435.2 167.1h.7M417.6 184h.7M412 196.2h.7M438.1 169.2h.7M441.5 173h.7M427.6 187.2h.7M418.3 189h.7M408.8 199.4h.7M422.4 183h.7M435.9 162.5h.7M440.7 164.4h.7M429.2 173.3h.7M417.1 194.8h.7M424.2 183.2h.7M438.9 176.1h.7M404.7 196.4h.7M434 167.4h.7M425 189.6h.7M436.3 177.3h.7M427.2 177.5h.7M410.3 195.3h.7M422.3 187.2h.7M427 166.7h.7M408.8 196h.7M408 195.5h.7M435.8 162.7h.7M421.6 183.5h.7M431.4 159.4h.7M416.9 180.7h.7M426.5 184.5h.7M431.6 171h.7M408 190.3h.7M430 179.9h.7M424.1 170.1h.7M433.7 177.4h.7M438.2 174.8h.7M429 176.2h.7M412.4 192h.7M428.9 172.9h.7M444.5 166.7h.7M437.6 167.3h.7M427.2 187.6h.7M417.2 191.6h.7M427.4 167.3h.7M442.2 168.4h.7M430.9 173.1h.7M414.6 197.6h.7M418.1 188.9h.7M422.9 183.5h.7M434.6 165h.7M428.5 169.8h.7M408.5 196.4h.7M434.3 183.1h.7M399.2 190.6h.7M425.1 184.8h.7M443.3 168h.7M432 178.6h.7M415.8 193.7h.7M434.3 165.2h.7M412.2 178.3h.7M402.1 194.4h.7M422.2 178.2h.7M439.2 165.9h.7M425.8 179.8h.7M427.6 176.5h.7M442.9 165.9h.7M418.5 185.2h.7M417.9 190.3h.7M435.5 182h.7M414 190.3h.7M435.6 177.3h.7M424.5 183.7h.7M418.4 186h.7M410.5 190.1h.7M427.4 172.1h.7M413.2 181.6h.7M430.5 169.9h.7M402.6 189.8h.7M427.6 177h.7M430 171.1h.7M435.5 174.8h.7M425.1 179.5h.7M418.7 190.9h.7M440.9 180.7h.7M411.2 185.8h.7M435.9 163.8h.7M416 183.2h.7M414.2 190.8h.7M420.9 187.5h.7M404.6 195.6h.7M401.2 191.5h.7M411.8 199.1h.7M410.7 182.7h.7M415.8 184.8h.7M411.8 198.1h.7" stroke="#4cab36" stroke-width="0.7" opacity="0.55"/>
<path d="M395 205.1h.7M406.8 206.3h.7M417.3 195.9h.7M416.3 208.7h.7M393.5 206.6h.7M411.2 200.7h.7M408.6 197.8h.7M408.1 217.5h.7M418.8 204h.7M420.8 206.3h.7M410.7 212h.7M400.4 205.9h.7M393.5 215.2h.7M400.9 204.7h.7M396.7 207.7h.7M407.9 194.8h.7M405.5 200.1h.7M412.7 212.6h.7M407.5 203.5h.7M419.6 197.2h.7M410.7 203.6h.7M410.2 188.2h.7M394.4 213.6h.7M407.2 211h.7M408.6 216.4h.7M411.3 199.4h.7M415.4 188.8h.7M420.1 197.3h.7M399.4 206.9h.7M406.6 205.7h.7M402.8 200.3h.7M413.1 209.4h.7M401.4 194.1h.7M409.9 198.3h.7M407.2 197.1h.7M411.5 212.6h.7M401.3 193.1h.7M407.8 188.1h.7M407.7 199.3h.7M413.4 214.4h.7M400 199h.7M397.8 202.1h.7M415.1 204.3h.7M401.9 196.1h.7M402.3 197.8h.7M419.5 195.1h.7M419.9 205.6h.7M419.2 200.7h.7M402.8 206.3h.7M410.9 201h.7M415.3 207.8h.7M412.4 187.2h.7M418.1 206.5h.7M418.4 203.8h.7M403.3 210.7h.7M401.3 201.9h.7M412.2 213h.7M403.6 198.3h.7M402 202.2h.7M409 193.2h.7M418.9 194.7h.7M409.4 200h.7M411.5 192.3h.7M404.1 205h.7M418.1 217.8h.7M405.5 207.4h.7M409.9 206.6h.7M402.5 192.7h.7M409.4 196h.7M418 198.9h.7M409.4 210.8h.7M417.7 198.1h.7M405.3 190.3h.7M394.6 207.2h.7M413.5 198.9h.7M413.6 191.9h.7M398.7 205h.7M412.9 206.3h.7M393.6 208.1h.7M396.7 212.3h.7M395.6 203h.7M402.3 202.4h.7M405.1 207.1h.7M417.2 199.2h.7M404.2 210.8h.7M416.3 199.4h.7M394.3 213.1h.7M402.7 211.9h.7M405.9 214.2h.7M410.7 212h.7M422.4 213.9h.7M404.1 195.7h.7M398 207.8h.7M406.6 195.4h.7M412.2 209.5h.7M419.7 212.5h.7M407.3 213.5h.7M413 185.9h.7M415.1 200.9h.7M415.6 202.3h.7M409.3 187.7h.7M405.3 198.5h.7M394.9 200.8h.7M409.6 187.1h.7M396 194.5h.7M412.9 192.2h.7M406.3 201.5h.7M412.3 200.3h.7M409.9 198h.7M402 210.3h.7M408.1 192.7h.7M396.4 204.2h.7M408.8 198.6h.7M418.5 208.6h.7M399.3 201.5h.7M403.9 204.7h.7M414.5 211.3h.7M394 213.8h.7M402.7 214.2h.7M422.2 203.6h.7M396.8 203.9h.7M402.6 201.7h.7M407.2 205.7h.7M398.3 204.4h.7M415.8 203.7h.7M415.1 210.5h.7M390.7 204.3h.7M414.4 210.6h.7M408.9 194.5h.7M402 214.6h.7M398 208.8h.7M420.9 193.9h.7M410.7 215.7h.7M407.2 195.2h.7M419.6 206.4h.7M405.7 197.1h.7M405.5 201.9h.7M411.9 209.1h.7M418.4 212.6h.7M414.2 202.8h.7M399.4 195.6h.7M414.9 214.1h.7M409 197.1h.7M406.7 212.9h.7M406.9 188.3h.7M408.9 201.5h.7M400.9 214.1h.7M390.7 215.3h.7M403.2 208.5h.7M399.9 205.6h.7M415.1 196.4h.7M397.5 210.2h.7M403.3 213.4h.7M419 197.4h.7M400.9 215h.7M406.7 201.2h.7M412.4 213.2h.7M416.4 202.3h.7M405 210.4h.7M395.6 200h.7M407.4 189.7h.7M408.3 215.9h.7M398.1 202.7h.7M420.9 207.7h.7M409.2 193h.7M420.5 210.4h.7M416.2 201.3h.7M414.7 208.2h.7M409.6 212h.7M418.3 209.8h.7M405 203.2h.7M397.6 205.8h.7M414.1 198.7h.7M410.5 192.8h.7M395 200.6h.7M417.8 200h.7M416.8 217.4h.7M412.5 212.8h.7M418.6 206.2h.7M411.3 200.4h.7M402.9 198.6h.7M418.4 208.1h.7M417.8 209.3h.7M396.4 196.3h.7M407.6 211.3h.7M395.9 202.3h.7M395.6 210.8h.7M419.1 203.9h.7M411.8 196.1h.7M421.1 208.7h.7M404.6 204.8h.7M410.5 212.8h.7M416.7 204.8h.7M413 189.5h.7M415.6 191.8h.7M414.2 189.1h.7M403.8 202.7h.7M405.5 215.8h.7M405.1 192.5h.7M401.9 199.9h.7M417.1 195.9h.7M399.2 214.7h.7M417.8 205.4h.7M413.5 198.7h.7M400.8 211.6h.7M420.7 201h.7M405.3 199.8h.7M398.6 213.6h.7M421.3 206.4h.7M408.9 202.2h.7M401.5 204.6h.7M420.8 198.5h.7M417.6 204.5h.7M398.4 197.2h.7M418.3 196.6h.7M413.3 191.3h.7M412.2 204.1h.7M409.7 207.2h.7M420 206.4h.7M400.3 198.4h.7M405.5 205.7h.7M420 200.7h.7M404.6 200.3h.7M393.7 214h.7M414.3 191.7h.7M395.1 212.5h.7M397.1 206.2h.7M414.7 203h.7M404 195.3h.7M419.9 208.8h.7M415.5 199.9h.7M417.2 210h.7M399.5 214.6h.7M405.4 213.5h.7M404.2 209h.7M402.9 197.9h.7M410.4 213.3h.7M397.5 210.4h.7M404.4 204.6h.7M421.7 198.9h.7M401.6 208h.7M398.1 199.3h.7M410.4 192.4h.7M404.7 202.8h.7M418.9 197.6h.7M413.5 204.2h.7M415.8 195.4h.7M395.9 198.2h.7M414.4 188.8h.7M405.3 194.3h.7M421 202.8h.7M394.1 200.9h.7M395.3 212.9h.7M415.7 211.1h.7M399 200.1h.7M420.5 192.4h.7M423.4 206.5h.7M402.9 199.6h.7M406.3 200.4h.7M401.9 211.1h.7M409.9 213.1h.7M408.5 189.5h.7M405.8 191h.7M411.4 192h.7M404.5 206.8h.7M407.5 194.9h.7M418.7 214.6h.7M406.9 206.9h.7M397.3 210.6h.7M405.7 205.7h.7M419.4 217.2h.7M411.9 200.4h.7M403.1 196.1h.7M416.1 203.6h.7M410.9 188.1h.7M420.3 195.1h.7M417.9 201.1h.7M417.1 196.7h.7M410.5 191.1h.7M415.1 189.5h.7M422.3 207.8h.7M414.4 214.9h.7M408.6 207.2h.7M403.5 207.5h.7M419.4 205.4h.7M396 203.4h.7M413 188.8h.7M407.5 206.6h.7M408.5 208.3h.7M420.7 207.6h.7M408 202.6h.7M409.7 189.5h.7M399.2 193.3h.7M418.4 197.8h.7M407.8 214h.7M397.2 203.6h.7M392.5 206.6h.7M404.6 202.6h.7M398.2 201.5h.7M411.1 189.3h.7M415.8 197.4h.7M415.7 194.7h.7M419.5 204.5h.7M407.7 204.2h.7M410.6 195.1h.7M407.1 207.1h.7M416.7 211.5h.7M407.7 199.1h.7M400.1 202.1h.7M397.4 211.9h.7M408.3 211.7h.7M415.1 207.3h.7M407 211.2h.7M413 186h.7M410.1 208.6h.7M404.7 204.7h.7M399.7 196h.7M394.4 204.6h.7M420 203.2h.7M409.9 197.3h.7M400.2 213.6h.7M408.5 204.5h.7M395.8 212.6h.7M405 203.2h.7M403.6 203.9h.7M408.2 204.1h.7M412.6 215.6h.7M407.2 197.7h.7M398.2 197.8h.7M397.5 205.9h.7M418.9 211.2h.7M406.6 201.6h.7M414.7 210.4h.7M405.4 207.3h.7M410.6 194.8h.7M411.6 212.3h.7M417.6 209.5h.7M406.8 196.2h.7M409.7 207.1h.7M392.5 205.4h.7M416.1 202.7h.7M408.5 195.6h.7M421.7 208.1h.7M405.4 195.6h.7M396 199.4h.7M415.2 197.9h.7M400.6 210.9h.7M407 195.3h.7M406.3 201.3h.7M420.5 201.5h.7M416.3 192.4h.7M402.9 209.3h.7M394.6 204.8h.7M395.9 204.6h.7M421 214.7h.7M401 204.7h.7M419.4 198.4h.7M410.2 196h.7M418.2 199.5h.7M416.9 211.2h.7M399.7 212.1h.7M417.1 199.2h.7M408.7 198h.7M396.9 208.3h.7M400.8 207.3h.7M403.4 194.6h.7M417.8 212.6h.7M403.1 202.1h.7M413.9 214.5h.7M415.1 202.8h.7M405.1 209.6h.7M394.1 210.4h.7M414.1 201.6h.7M410.3 209.8h.7M399.3 206.6h.7M415.7 216.9h.7M399.7 205.4h.7M412.4 200.5h.7M410 198.8h.7M400.5 200.2h.7M416.3 213.5h.7M396.1 212.4h.7M411.9 209h.7M406.6 211.9h.7M417.9 200.5h.7M408.9 207.7h.7M419.4 205.1h.7M417.2 205.8h.7M401.7 213.8h.7M402.8 199.3h.7M401.9 199.4h.7M411.2 201.1h.7M421.1 213.1h.7M400.9 205.2h.7M397.8 210.8h.7M409.9 203.2h.7M417.2 201.5h.7M419.6 202.3h.7M414.7 205.2h.7M404.8 210h.7M403.9 197.9h.7M399.2 213.3h.7M413.6 212h.7M401.5 209h.7M401.3 208.3h.7M405.8 199.8h.7M403.3 203.5h.7M409.1 208.1h.7M416.4 207.2h.7M394.4 204.9h.7M410.6 187.8h.7M412.8 212.2h.7M412.7 190.4h.7M416.8 209.2h.7M407.5 214.9h.7M419.5 201.7h.7M421.5 208.7h.7M398.8 212.4h.7M399.1 213.2h.7M417.1 212.8h.7M403.6 203.9h.7M402.1 209.4h.7M402.8 210.1h.7M418.7 208.4h.7M415.7 197.7h.7M420.5 208.5h.7M406.4 200.9h.7M405.2 204.5h.7M408.9 205.6h.7M413.4 206.5h.7M408.7 210.1h.7M400.4 213.9h.7M414 204.9h.7M406.5 201.1h.7M417.1 210.9h.7M405.1 198.8h.7M422.2 204.8h.7M420.5 202.8h.7M400.3 196.3h.7M400.6 200.9h.7M417.5 203.5h.7M406.7 199.8h.7M413.4 201.7h.7M404 195.1h.7M395.8 202.9h.7M394.1 205.3h.7M410.7 191.3h.7M413.7 216.3h.7M412 192.6h.7M410 210.8h.7M414.8 214.7h.7M414.6 193.7h.7M413.6 207.9h.7M397.6 203.3h.7M412.9 199h.7M408.4 208.2h.7M421 210.7h.7M411.5 210.5h.7M406.8 212.1h.7M407.1 191.7h.7M402.2 198.2h.7M416.3 207.7h.7M398 205.9h.7M401 208.3h.7M404.3 202.6h.7M411.9 191.6h.7M404.1 202.4h.7M409 187.4h.7M413.5 203h.7M400.3 203.1h.7M417 204.5h.7M403.1 216.1h.7M401.3 204.4h.7M409 195.6h.7M401.4 198.4h.7M399.2 205h.7M420.1 198.9h.7M404.2 214h.7M415.6 207.4h.7M403.5 202.1h.7M412 212h.7M417.9 207h.7M417.7 198.5h.7M405.2 212.5h.7M396.7 202h.7M404.7 211h.7M411.6 201h.7M406.6 207.6h.7M420.3 216.4h.7M409.9 188.8h.7M413 201.9h.7M401.2 197.5h.7M415.2 211.8h.7M404.5 196.6h.7M416.5 199.2h.7M398.6 212.9h.7M400.8 199.2h.7M418 207h.7M412.9 213.9h.7M399.9 213.5h.7" stroke="#1f5fae" stroke-width="0.7" opacity="0.6"/>
<path d="M392.80 202.50C393.63 199.50 396.13 199.17 397.80 197.50C399.47 195.83 401.13 194.08 402.80 192.50C404.47 190.92 406.47 188.95 407.80 188.00C409.13 187.05 409.80 186.80 410.80 186.80C411.80 186.80 412.63 187.05 413.80 188.00C414.97 188.95 416.63 190.92 417.80 192.50C418.97 194.08 420.08 195.83 420.80 197.50C421.52 199.17 422.02 200.67 422.10 202.50C422.18 204.33 421.60 206.33 421.30 208.50C421.00 210.67 425.05 214.33 420.30 215.50C415.55 216.67 397.38 217.67 392.80 215.50C388.22 213.33 391.97 205.50 392.80 202.50Z" fill="#1f5fae" fill-opacity="0.3" stroke="#1f5fae" stroke-width=".9"/>
<path d="M412.6 199.8h.7M412.7 204.5h.7M401.7 197.4h.7M397.6 212.4h.7M403.6 196.6h.7M401.6 205.9h.7M400.5 203.7h.7M414.4 203.9h.7M413.2 213.2h.7M408 212.1h.7M395.9 208.5h.7M408 195.3h.7M414.1 204.8h.7M396.8 201.9h.7M398 199.8h.7M419.1 204.3h.7M408.8 203.2h.7M403.9 203.5h.7M413.5 197.1h.7M406 197.9h.7M402.7 204.8h.7M407.7 192.2h.7M414.2 197.5h.7M408.4 197.8h.7M412.5 213.3h.7M420.5 208h.7M410.3 206.9h.7M409.9 199.4h.7M417.4 202.6h.7M397.9 209.4h.7M397.8 215.7h.7M403.3 192.7h.7M420.5 203.3h.7M408.5 204.7h.7M416.4 197.6h.7M403 212.7h.7M412.4 214.1h.7M402.1 213.1h.7M411.3 202.1h.7M407.7 199.6h.7M415.5 197.4h.7M411.7 193.6h.7M412 188.9h.7M408.9 199.9h.7M409.4 212.7h.7M407.8 192.4h.7M405.5 203.7h.7M411.3 195.2h.7M413.7 209.4h.7M400.6 208.1h.7M411.9 197.6h.7M403.1 212.3h.7M410.9 215.1h.7M400.9 197.1h.7M403.5 192.1h.7M420.3 209.8h.7M398.8 198h.7M410.9 212.4h.7M418.1 204.8h.7M417.1 199.4h.7M404.2 201h.7M408.2 197.9h.7M397.2 207.5h.7M417.8 201.3h.7M416.5 212.8h.7M406.2 202.8h.7M402.9 199.3h.7M406.6 209h.7M404.4 205.8h.7M399.1 208h.7M407.6 202h.7M393.9 205.9h.7M416.4 207.9h.7M407.3 195.8h.7M401.9 205.5h.7M398.7 209.2h.7M408.4 204.9h.7M394.3 210.4h.7M418.3 207.7h.7M406.8 189.2h.7M404.9 200h.7M402.1 207.3h.7M408.3 190.1h.7M404.5 195.5h.7M411.7 191.5h.7M405.7 205.3h.7M410.9 204.2h.7M408.5 202h.7M394.3 206.2h.7M400 214.5h.7M417.8 200.7h.7M404.5 197.8h.7M396.8 206.7h.7M393.5 210.5h.7M407 192.4h.7M401.7 214.4h.7M402.6 205.6h.7M407.3 213.5h.7M406.8 197.2h.7M414.7 196.7h.7M407.4 215.3h.7M411.7 206.5h.7M401.5 209.4h.7M416.1 205.4h.7M414.6 200.9h.7M417.4 212.5h.7M409.3 194h.7M399.4 215.5h.7M406.1 195.7h.7M403.1 197.6h.7M408.7 197.5h.7M414.6 203.1h.7M403.3 193.5h.7M405.9 198.2h.7M403.7 205.9h.7M400.9 214.5h.7M406 208.6h.7M415.2 205.6h.7M412.6 191.5h.7M395.1 201.1h.7M407.4 201h.7M412.6 208.5h.7M404.5 195.9h.7M405.8 198.4h.7M414.3 203.1h.7M418.8 203.5h.7M413.9 211h.7M408.9 211.5h.7M409.4 199.4h.7M392.9 216.6h.7M416.7 210.2h.7M403.3 212.4h.7M416.8 208.6h.7M416.4 196.4h.7M413.3 209.3h.7M405.4 202.1h.7M407.2 209.6h.7M399.5 202.2h.7M400 204.1h.7M413.6 198.1h.7M415.6 194.7h.7M413.5 204.6h.7M402.3 210.1h.7M394.9 213h.7M419.4 203.1h.7M408.2 199.7h.7M419.1 214.3h.7M413.6 199.1h.7M404.5 206.4h.7M410.3 205.2h.7M398.5 201.8h.7M403.8 197.8h.7M411.2 196.8h.7M406.7 194.4h.7M415 211.8h.7M406.7 209.4h.7M398.4 203.6h.7M399.7 208.5h.7M416.5 203.9h.7M405.5 205.5h.7M416.6 198.2h.7M406.7 208.1h.7M418.1 207.5h.7M419 208.3h.7M412 215.6h.7M399 207.1h.7M405.2 193.7h.7M413.2 201.9h.7M411.8 207.6h.7M417.7 202.7h.7M406.8 204.2h.7M397.5 209.5h.7M413.2 204.3h.7M395.7 207.6h.7M400.1 209.9h.7M395.9 210.3h.7M412.1 207h.7M395 207.4h.7M406.5 200.9h.7M414.9 193.5h.7M411.2 200.9h.7M409 200.7h.7M393.9 212.9h.7M397.9 213.2h.7M410.2 213.3h.7M408.2 207.4h.7M414.9 204.2h.7M405.4 208.4h.7M407.5 189.6h.7M407.1 205.7h.7M403.5 202.2h.7M414.5 209h.7M411.7 194.6h.7M400 210h.7M400.6 191.9h.7M402.9 207.5h.7M414.4 200.4h.7M414 212.1h.7M402.7 203.3h.7M394.3 204.5h.7" stroke="#b81c20" stroke-width="0.7" opacity="0.6"/>
<path d="M393.30 203.40C394.05 200.70 396.30 200.40 397.80 198.90C399.30 197.40 400.80 195.83 402.30 194.40C403.80 192.97 405.60 191.20 406.80 190.35C408.00 189.50 408.60 189.27 409.50 189.27C410.40 189.27 411.15 189.50 412.20 190.35C413.25 191.20 414.75 192.97 415.80 194.40C416.85 195.83 417.86 197.40 418.50 198.90C419.14 200.40 419.60 201.75 419.67 203.40C419.75 205.05 419.22 206.85 418.95 208.80C418.68 210.75 422.32 214.05 418.05 215.10C413.78 216.15 397.43 217.05 393.30 215.10C389.18 213.15 392.55 206.10 393.30 203.40Z" fill="#b81c20" fill-opacity="0.2" stroke="#b81c20" stroke-width=".9"/>
<path d="M409.3 208.6h.7M398.7 205h.7M403 216.2h.7M407.5 203.2h.7M393.9 199.5h.7M399 205.9h.7M410.7 217h.7M412.7 202.7h.7M405.6 203.2h.7M408.2 197.5h.7M411.7 200.7h.7M404.9 197.1h.7M409.7 194h.7M397.3 214.5h.7M414 200.9h.7M398.3 215.2h.7M407.4 205.1h.7M394.2 211.4h.7M399.3 208.9h.7M414.6 200.7h.7M404.8 198.9h.7M411.6 202.8h.7M407.2 201.1h.7M406 202.3h.7M404.2 202.5h.7M406.1 212.8h.7M414.2 197.3h.7M405.4 212.6h.7M415.8 202.5h.7M414 203.5h.7M402.6 213.2h.7M407.7 203h.7M413.4 203.1h.7M393.4 212.4h.7M412.2 211.8h.7M394.8 212.8h.7M409.8 215h.7M408.7 212.1h.7M409.3 209.2h.7M401.3 200h.7M398 204.8h.7M411.8 205.7h.7M399.6 205.5h.7M410.1 206.3h.7M414.1 199.6h.7M409.1 197.4h.7M396.6 208.2h.7M419.4 203.2h.7M407.4 198.1h.7M413.2 200.8h.7M406.7 201.1h.7M415.6 204.6h.7M409.7 191.7h.7M402.6 209.7h.7M416.1 215h.7M396.5 202.4h.7M400.5 205.3h.7M401.3 208.6h.7M407.8 195.1h.7M392.3 201.8h.7M408 202.1h.7M414.4 209.2h.7M403.8 203.3h.7M399.8 204.2h.7M407.2 200.3h.7M405.4 207.2h.7M399.2 201.2h.7M404.3 210.2h.7M392.6 204.9h.7M406.4 203.5h.7M408.3 196.8h.7M394.2 205.6h.7M408.3 206.2h.7M407.1 196h.7M410.3 211.5h.7M393.6 208.2h.7M400.7 198.8h.7M400.8 212.9h.7M396.8 206.4h.7M408.5 209.6h.7M413.7 201.9h.7M409.2 193.2h.7M409.1 210.9h.7M411 195.9h.7M407.7 200.9h.7M410.8 198.7h.7M405.8 202.3h.7M409.5 215.8h.7M401.3 212.5h.7M402.8 196.8h.7M403.3 198.7h.7M407.2 212.1h.7M401.9 209.2h.7M414.6 205.4h.7M404.7 201.8h.7M415.9 204.8h.7M409.5 204.2h.7M405.1 203h.7M401.3 198.8h.7M404.5 203.8h.7" stroke="#1f5fae" stroke-width="0.7" opacity="0.6"/>
<path d="M393.80 204.30C394.47 201.90 396.47 201.63 397.80 200.30C399.13 198.97 400.47 197.57 401.80 196.30C403.13 195.03 404.73 193.46 405.80 192.70C406.87 191.94 407.40 191.74 408.20 191.74C409.00 191.74 409.67 191.94 410.60 192.70C411.53 193.46 412.87 195.03 413.80 196.30C414.73 197.57 415.63 198.97 416.20 200.30C416.77 201.63 417.17 202.83 417.24 204.30C417.31 205.77 416.84 207.37 416.60 209.10C416.36 210.83 419.60 213.77 415.80 214.70C412.00 215.63 397.47 216.43 393.80 214.70C390.13 212.97 393.13 206.70 393.80 204.30Z" fill="#1f5fae" fill-opacity="0.0" stroke="#1f5fae" stroke-width=".9"/>
<path d="M401.5 203.3h.7M401 210.9h.7M407.2 192h.7M397.3 206.9h.7M407.5 195.1h.7M406.1 207.7h.7M412.7 207.7h.7M403.5 201.1h.7M397.8 209.2h.7M411 199.6h.7M408.1 194.5h.7M413.3 213.1h.7M396.2 201.4h.7M399.1 198h.7M410.1 213.4h.7M399.1 208.2h.7M411.6 204.7h.7M405.3 207.9h.7M401 203.2h.7M399.7 214.9h.7M406.5 206.4h.7M406.9 211.1h.7M398.9 206.7h.7M413.4 209.1h.7M408.7 205.7h.7M404.1 212.8h.7M406.3 194.5h.7M408 197.7h.7M400.8 205.6h.7M409.8 200.3h.7M401.6 204.6h.7M404.6 195.9h.7M400.2 202.7h.7M397.5 206.6h.7M412.8 215.4h.7M400.4 206.4h.7M409.2 199.9h.7M393.1 204.2h.7M399.5 203.1h.7M398.4 205.8h.7M397.3 206.9h.7M403.3 212.9h.7M393.7 202.7h.7M406 194.1h.7M399.3 206.2h.7M405.2 209.5h.7M400.7 211.1h.7M402.2 208h.7M400.4 209.3h.7M411.7 207.2h.7M402.5 213.5h.7M407.5 216.2h.7M401.9 196.8h.7M399.2 200.1h.7M398.5 205.5h.7M402.5 200.3h.7M406.3 212.3h.7M409.7 213h.7M409.4 208.8h.7M408.7 206.9h.7M409.1 199.2h.7M414.7 207.8h.7M394 210h.7M407.9 210.7h.7M400.6 210.6h.7M410.1 202.8h.7M407 195.4h.7M403.4 208.9h.7M398.1 202.9h.7M405.2 212.1h.7M402.5 214.6h.7M405.4 197.4h.7M414.6 201.5h.7M403 214.4h.7M404.2 199.4h.7M410.3 211.9h.7M413.9 214.6h.7M404.6 212.9h.7M414.1 203.5h.7M414.3 204.5h.7M403.2 206.6h.7M410.6 198.9h.7M402.6 217.5h.7M405 214.1h.7M397.3 206.7h.7M411.1 208h.7M409.5 203.6h.7M402.5 216.1h.7M405.8 205.3h.7M406 211.9h.7M410.6 192.4h.7M401.2 206h.7M412.8 208.5h.7M409.1 213.4h.7M406 205.1h.7M406.6 205.1h.7M402.2 203.8h.7M407 196.9h.7M412.8 209.6h.7M397.8 210.4h.7" stroke="#4cab36" stroke-width="0.7" opacity="0.6"/>
<path d="M394.20 205.02C394.80 202.86 396.60 202.62 397.80 201.42C399.00 200.22 400.20 198.96 401.40 197.82C402.60 196.68 404.04 195.26 405.00 194.58C405.96 193.90 406.44 193.72 407.16 193.72C407.88 193.72 408.48 193.90 409.32 194.58C410.16 195.26 411.36 196.68 412.20 197.82C413.04 198.96 413.84 200.22 414.36 201.42C414.88 202.62 415.24 203.70 415.30 205.02C415.36 206.34 414.94 207.78 414.72 209.34C414.50 210.90 417.42 213.54 414.00 214.38C410.58 215.22 397.50 215.94 394.20 214.38C390.90 212.82 393.60 207.18 394.20 205.02Z" fill="#4cab36" fill-opacity="0.2" stroke="#4cab36" stroke-width=".9"/>
<path d="M400.3 201.3h.7M405.6 208.2h.7M400.7 208.3h.7M410.2 197.3h.7M401.2 210.3h.7M410.9 205.1h.7M408.9 203h.7M409.2 209.7h.7M404.4 196.4h.7M399.1 204.3h.7M398.5 207.2h.7M406.6 200.9h.7M403.9 213.1h.7M404.5 198.8h.7M410.8 212h.7M401.7 203.3h.7M406.1 197.5h.7M407.5 210.9h.7M401 201.1h.7M409.1 206.6h.7M406.2 207.7h.7M413.1 214.8h.7M405 196.6h.7M412.2 202.2h.7M403.5 198.5h.7M409.3 203.6h.7M395.5 205.6h.7M412.6 205.9h.7M406.1 214.1h.7M401 199.4h.7M404 200.3h.7M401.6 204.2h.7M406.2 196.3h.7M401 207.1h.7M402.8 202.2h.7M406.2 205.9h.7M408.6 204.9h.7M409.5 213.1h.7M406.2 205.8h.7M402.7 209.8h.7M405.5 211.1h.7M407.6 207h.7M403.7 207.1h.7M404.1 201.5h.7M407.1 201.8h.7M401.9 203.8h.7M403.8 205.6h.7M399.6 203h.7M401.5 203.1h.7M405.2 205.9h.7M408.8 208.3h.7M397.9 212.3h.7M402.3 200.3h.7M394.2 214.8h.7M404.5 204h.7M413.9 207.7h.7M398.3 205.6h.7M399.5 212.4h.7M408.8 199h.7M407.4 214.6h.7M412.4 208.7h.7M410.9 213.7h.7M398.1 207.2h.7M404.1 208.6h.7M401.8 212.3h.7M413.1 207h.7M409.3 210.5h.7M407.7 203.1h.7M406.7 212.9h.7M405.2 211.4h.7M406.1 209.1h.7M398.1 204.6h.7M400 210.3h.7M399.4 205.7h.7M403.3 210.4h.7M411.9 204.9h.7M395.7 203h.7M401.3 213.1h.7M408.9 205.4h.7M400.8 208.5h.7M399 200.5h.7M408.3 208.3h.7M406.8 203.8h.7M407.1 200.5h.7M407.5 207.8h.7M400 205.6h.7M410 208.2h.7M412 211.1h.7M408.5 201.4h.7M407.8 201.1h.7M408.7 200.4h.7M413.8 205.7h.7M402.8 206.9h.7M406.6 213.9h.7M408.1 204.7h.7M397 210h.7M409.5 201.4h.7M404.9 203.4h.7M405.2 207.5h.7M398.6 209.7h.7" stroke="#b81c20" stroke-width="0.7" opacity="0.6"/>
<path d="M394.60 205.74C395.13 203.82 396.73 203.61 397.80 202.54C398.87 201.47 399.93 200.35 401.00 199.34C402.07 198.33 403.35 197.07 404.20 196.46C405.05 195.85 405.48 195.69 406.12 195.69C406.76 195.69 407.29 195.85 408.04 196.46C408.79 197.07 409.85 198.33 410.60 199.34C411.35 200.35 412.06 201.47 412.52 202.54C412.98 203.61 413.30 204.57 413.35 205.74C413.41 206.91 413.03 208.19 412.84 209.58C412.65 210.97 415.24 213.31 412.20 214.06C409.16 214.81 397.53 215.45 394.60 214.06C391.67 212.67 394.07 207.66 394.60 205.74Z" fill="#b81c20" fill-opacity="0.0" stroke="#b81c20" stroke-width=".9"/>
<path d="M402.9 199h.7M402.1 209.8h.7M404 206.1h.7M395.7 210.6h.7M398.4 210h.7M410.2 208.1h.7M404.7 200.8h.7M395.7 206.7h.7M404.6 209.4h.7M399.9 204.4h.7M412.6 203.9h.7M399.6 211.1h.7M397.5 212.1h.7M401.2 210.1h.7M401.4 204.6h.7M411.3 197.3h.7M413.4 212h.7M408.8 202.8h.7M404.6 205.8h.7M401 214.9h.7M410.4 212h.7M408.7 199.5h.7M401.6 209.4h.7M399.8 216.1h.7M407.5 208.5h.7M403.1 210.9h.7M401.1 207.1h.7M398.6 212.8h.7M397.9 209.5h.7M406 208.4h.7M397.1 213.4h.7M399.1 204.9h.7M402.5 211.6h.7M406.5 200.3h.7M405.2 200.4h.7M408.8 208.5h.7M397.8 213.9h.7M397 211.5h.7M401.1 205.6h.7M404.8 210.5h.7M409.8 202.6h.7M398.2 211h.7M400 208.2h.7M399.8 209.1h.7M396.9 215.5h.7M397.7 202.2h.7M402.2 210.3h.7M397.9 210.4h.7M398.5 210.5h.7M402.9 212.8h.7M408.5 206.9h.7M398.4 210.9h.7M401.6 209.1h.7M405.6 211.8h.7M405.6 210.4h.7M407.5 208.7h.7M407.4 205.3h.7M399.4 207.9h.7M404.6 201.2h.7M406.4 206.1h.7M395.6 208.1h.7M412.3 211.1h.7M400.1 208.7h.7M407.9 202.7h.7M404.9 211.8h.7M400.2 204.7h.7M408.9 209.5h.7M403.4 199.7h.7M408.6 210.3h.7M402.2 203h.7M397.6 213.1h.7M393.6 207.6h.7M396.6 208.1h.7M410.1 203.4h.7M400 213.2h.7M405.6 198h.7M408.1 204h.7M406 203.4h.7M403.8 204.1h.7M408 209.9h.7M394.5 206.6h.7M407.8 203.6h.7M404.9 205h.7M408.7 209.6h.7M397.5 208.3h.7M402.9 207.8h.7M406.3 210.3h.7M406.5 212.5h.7M403.9 201.5h.7M404.6 208.7h.7M398.2 209.2h.7M407.8 203.8h.7M399.7 208.7h.7M403.1 203.3h.7M400.5 206.7h.7M403 207.5h.7M411.5 212.1h.7M403.9 212h.7M406 208.7h.7M405.2 202.4h.7" stroke="#1f5fae" stroke-width="0.7" opacity="0.6"/>
<path d="M395.00 206.46C395.47 204.78 396.87 204.59 397.80 203.66C398.73 202.73 399.67 201.75 400.60 200.86C401.53 199.97 402.65 198.87 403.40 198.34C404.15 197.81 404.52 197.67 405.08 197.67C405.64 197.67 406.11 197.81 406.76 198.34C407.41 198.87 408.35 199.97 409.00 200.86C409.65 201.75 410.28 202.73 410.68 203.66C411.08 204.59 411.36 205.43 411.41 206.46C411.45 207.49 411.13 208.61 410.96 209.82C410.79 211.03 413.06 213.09 410.40 213.74C407.74 214.39 397.57 214.95 395.00 213.74C392.43 212.53 394.53 208.14 395.00 206.46Z" fill="#1f5fae" fill-opacity="0.0" stroke="#1f5fae" stroke-width=".9"/>
<path d="M397.6 207.5h.7M392.9 202.9h.7M403.9 202.2h.7M399.7 211.8h.7M408.7 212.8h.7M404.5 206.9h.7M400.7 204h.7M391.7 211.6h.7M405.6 209.2h.7M399.4 202.2h.7M407.1 201.9h.7M408 212.1h.7M406.5 209h.7M399.3 208h.7M408.9 213.5h.7M395.3 207.5h.7M403.1 196.8h.7M390.2 205.2h.7M396.3 212.4h.7M405.6 206.4h.7M400.2 215.7h.7M404.5 201.5h.7M401.9 206.7h.7M410.2 213.2h.7M405.5 206.7h.7M407.9 207.6h.7M412 201.7h.7M395.4 201h.7M407.5 211.1h.7M394.9 208h.7M406.9 198.6h.7M394.7 207.8h.7M399.8 211.2h.7M404.1 210.8h.7M403.2 204.1h.7M399.5 204.2h.7M403.5 202.4h.7M395.5 208.9h.7M395.5 199h.7M404 203.9h.7M393.2 210.6h.7M408.6 205h.7M397.4 212.8h.7M396.5 214.3h.7M406.8 206.3h.7M404.1 199h.7M394.2 206.3h.7M405.8 203.7h.7M407.9 214.9h.7M403.7 203.2h.7M405.7 211.3h.7M401.2 207.4h.7M407.4 212.3h.7M408.5 208.5h.7M395.6 208.3h.7M403.3 210.6h.7M404.7 204.7h.7M405.8 198.5h.7M403.2 207.5h.7M401.2 198.5h.7M401.5 207h.7M407.7 214h.7M400.9 202.3h.7M399.1 210.4h.7M400 213.2h.7M408.9 210.9h.7M399.4 215.9h.7M402 201.5h.7M394.1 213.4h.7M398.2 214.1h.7M394.3 211.7h.7M397.8 197.4h.7M397.7 199h.7M401.2 198.8h.7M395.5 206h.7M408.1 201.8h.7M398.4 204.2h.7M405.3 199.1h.7M395.6 203.1h.7M401.6 210.3h.7M401.9 202.3h.7M406.7 200.4h.7M406.7 199h.7M408.4 207.7h.7M401.1 205.4h.7M402.9 207.4h.7M408.9 200.1h.7M404.5 203.7h.7M395.4 210.4h.7M399.9 214.4h.7M395.2 210.2h.7M408 197.9h.7M403.3 206.6h.7M396.2 212.9h.7M403.3 203.2h.7M391.4 210h.7M406.7 214.4h.7M395.5 204.1h.7M403.7 201.2h.7M398.6 216.2h.7M408.3 209.5h.7M405.9 199.4h.7M404.7 212.5h.7M403 217.2h.7M410 204.4h.7M394 203h.7M394.8 201.3h.7M406.4 203.4h.7M407.2 208.5h.7M409.6 207.8h.7M399 207.3h.7M398.5 213.6h.7M398.5 209.5h.7M401.8 210.9h.7M404.2 212.5h.7M395.3 207.9h.7M410.1 209.2h.7M411.9 207.9h.7M397.2 204.3h.7M395.8 198.4h.7M393.9 215.1h.7M398.5 202.8h.7M393.2 208.6h.7M397.4 206.4h.7M406 199.7h.7M407.3 205.4h.7M405.7 201.4h.7M407.4 213.2h.7M405 201.4h.7M394.1 211.1h.7M397.7 212.4h.7M401.3 203.3h.7M398.2 208.3h.7M400.2 206.7h.7M396.8 205h.7M397.1 210.9h.7M395.5 201h.7M393.3 208.8h.7M400.4 208.3h.7M411 207.7h.7M398.8 204h.7M405.5 200.4h.7M394.5 208.7h.7M400.5 214.2h.7M407.8 209.8h.7M405.5 209.4h.7M404 207.5h.7M396.6 212h.7M398.3 202.7h.7M393.3 212.5h.7" stroke="#b81c20" stroke-width="0.7" opacity="0.6"/>
<path d="M392.80 203.50C393.63 200.83 396.13 200.58 397.80 199.50C399.47 198.42 401.30 197.33 402.80 197.00C404.30 196.67 405.63 196.75 406.80 197.50C407.97 198.25 409.13 200.00 409.80 201.50C410.47 203.00 410.63 204.17 410.80 206.50C410.97 208.83 413.80 214.00 410.80 215.50C407.80 217.00 395.80 217.50 392.80 215.50C389.80 213.50 391.97 206.17 392.80 203.50Z" fill="#b81c20" stroke="#b81c20" stroke-width="1.8"/>
<path d="M394.40 206.06C394.97 204.25 396.67 204.08 397.80 203.34C398.93 202.60 400.18 201.87 401.20 201.64C402.22 201.41 403.13 201.47 403.92 201.98C404.71 202.49 405.51 203.68 405.96 204.70C406.41 205.72 406.53 206.51 406.64 208.10C406.75 209.69 408.68 213.20 406.64 214.22C404.60 215.24 396.44 215.58 394.40 214.22C392.36 212.86 393.83 207.87 394.40 206.06Z" fill="none" stroke="#fff" stroke-width=".45" opacity=".9"/>
<ellipse cx="428.1" cy="174.1" rx="10" ry="3.5" transform="rotate(-27 428.1 174.1)" fill="none" stroke="#1f5fae" stroke-width=".9"/>
<ellipse cx="431.0" cy="179.5" rx="6.5" ry="2.6" transform="rotate(-25 431.0 179.5)" fill="none" stroke="#b81c20" stroke-width=".9"/>
</g>
<path d="M390.4 117.9h2.6M391.4 131.0h1.6M391.4 127.7h1.6M391.4 125.3h1.6M391.4 123.5h1.6M391.4 122.0h1.6M391.4 120.8h1.6M391.4 119.7h1.6M391.4 118.8h1.6M390.4 136.6h2.6M391.4 150.3h1.6M391.4 146.8h1.6M391.4 144.4h1.6M391.4 142.5h1.6M391.4 140.9h1.6M391.4 139.6h1.6M391.4 138.5h1.6M391.4 137.5h1.6M390.4 156.2h2.6M391.4 170.1h1.6M391.4 166.6h1.6M391.4 164.1h1.6M391.4 162.2h1.6M391.4 160.6h1.6M391.4 159.3h1.6M391.4 158.1h1.6M391.4 157.1h1.6M390.4 176.1h2.6M391.2 183.3h1.8M391.2 188.8h1.8M391.2 193.8h1.8M391.2 198.3h1.8M391.2 201.8h1.8M391.2 204.5h1.8M391.2 207.8h1.8M391.2 210.8h1.8M397.0 215.1v1.8M401.0 215.1v1.8M404.0 215.1v1.8M407.5 215.1v1.8M411.0 215.1v1.8M414.0 215.1v1.8M418.0 215.1v1.8M422.0 215.1v1.8M426.0 215.1v1.8M442.7 215.1v2.4M429.8 215.1v1.6M432.9 215.1v1.6M435.3 215.1v1.6M437.2 215.1v1.6M438.9 215.1v1.6M440.3 215.1v1.6M441.6 215.1v1.6M467.4 215.1v2.4M450.1 215.1v1.6M454.5 215.1v1.6M457.6 215.1v1.6M460.0 215.1v1.6M461.9 215.1v1.6M463.6 215.1v1.6M465.0 215.1v1.6M466.3 215.1v1.6M492.0 215.1v2.4M474.8 215.1v1.6M479.1 215.1v1.6M482.2 215.1v1.6M484.6 215.1v1.6M486.5 215.1v1.6M488.2 215.1v1.6M489.6 215.1v1.6M429.8 215.1v1.6M432.9 215.1v1.6M435.3 215.1v1.6M437.2 215.1v1.6M438.9 215.1v1.6M440.3 215.1v1.6M441.6 215.1v1.6" stroke="#000" stroke-width="1.1" fill="none"/>
<rect x="393.9" y="117.6" width="96.9" height="96.5" fill="none" stroke="#000" stroke-width="1.8"/>
<text x="379.4" y="123.9" font-size="11" text-anchor="end" fill="#000" >10</text>
<text x="380.5" y="116.2" font-size="7.8" text-anchor="start" fill="#000" >6</text>
<text x="379.4" y="143.8" font-size="11" text-anchor="end" fill="#000" >10</text>
<text x="380.5" y="136.1" font-size="7.8" text-anchor="start" fill="#000" >5</text>
<text x="379.4" y="162.4" font-size="11" text-anchor="end" fill="#000" >10</text>
<text x="380.5" y="154.7" font-size="7.8" text-anchor="start" fill="#000" >4</text>
<text x="379.4" y="183.0" font-size="11" text-anchor="end" fill="#000" >10</text>
<text x="380.5" y="175.3" font-size="7.8" text-anchor="start" fill="#000" >3</text>
<text x="380.2" y="209.7" font-size="11" text-anchor="end" fill="#000" >0</text>
<text x="355.0" y="165.3" font-size="12.2" text-anchor="middle" transform="rotate(-90 355.0 165.3)" dy="4.3">anti-Strep-PE</text>
<clipPath id="c9"><rect x="510.8" y="118.5" width="95.1" height="94.8"/></clipPath>
<g clip-path="url(#c9)">
<path d="M528.5 175.2h.6M531.9 208.7h.6M549.2 177.3h.6M535.9 182.5h.6M527.1 209.1h.6M519 188.3h.6M558.5 212.9h.6M539.5 196.5h.6M538.7 210.4h.6M565.4 212.3h.6M534.1 172.3h.6M551.3 188.4h.6M541.4 164.8h.6M520.4 192.9h.6M547.9 194.1h.6M563.4 209.6h.6M549.3 208h.6M563.4 171.4h.6M563.8 194.2h.6M550.3 190.2h.6M520.1 202.3h.6M512.8 196h.6M529.4 187.7h.6M540.5 202.9h.6M522.8 176.2h.6M520.7 172.5h.6M513.1 181.7h.6M539 165.6h.6M545.1 190h.6M518.8 178.3h.6M551.9 193.9h.6M554.6 195h.6M543.9 179.6h.6M544.7 166.6h.6M532.1 203.9h.6M558.7 213.1h.6M550.7 177.6h.6M537.8 189.9h.6M514.4 180.5h.6M531.7 166.9h.6M560 201.1h.6M555.2 193.1h.6M565.6 193.5h.6M532 165.1h.6M521.8 206.6h.6M553.1 183.9h.6M525.8 169.2h.6M554.5 186.1h.6M563.3 190.4h.6M539.9 165.7h.6" stroke="#1f5fae" stroke-width="0.6" opacity="0.5"/>
<path d="M556.3 171.2h.6M559.5 195.7h.6M513.7 210.5h.6M539.8 197.5h.6M559.6 181.6h.6M521.1 190.2h.6M539.5 174.8h.6M516.7 198h.6M518.6 195.8h.6M532.6 193.9h.6M516.3 167h.6M517.4 207.7h.6M521.6 199.2h.6M543.7 186.4h.6M559.9 213.5h.6M520.4 179.2h.6M522.2 200.4h.6M526.1 176h.6M552.2 203.2h.6M519.8 181.4h.6M526.2 173.8h.6M558.8 202.4h.6M561.8 212.3h.6M517.1 208.9h.6M557.3 163.5h.6M553.8 192.5h.6M546.6 188.7h.6M560.6 193.6h.6M521.2 198h.6M517.5 208.4h.6M511.4 169.9h.6M547.1 165.2h.6M556.5 165.2h.6M519.3 189.3h.6M557.9 198.9h.6M560.1 176h.6M533.4 175.3h.6M513.7 193.1h.6M525.6 195.1h.6M547.6 183.4h.6M516.3 210.5h.6M561.9 202.3h.6M521.9 210.1h.6M545.3 190.4h.6M564.3 212.8h.6M531 206.2h.6M556.8 171.6h.6M556.5 194.9h.6M552.5 198.5h.6M559.4 206.6h.6" stroke="#b81c20" stroke-width="0.6" opacity="0.5"/>
<path d="M556.6 192.5h.6M555.8 202.7h.6M556.6 206.8h.6M565.5 196.8h.6M552.6 201.3h.6M557.5 207.6h.6M549.3 201.5h.6M550.2 213.5h.6M561 214.4h.6M544.6 212.8h.6M547.7 212.7h.6M543.8 210.4h.6M554.3 202.8h.6M562.4 198.8h.6M559.3 198.5h.6M561.1 209.6h.6M554.3 202.1h.6M560.9 214.5h.6M569.4 197.5h.6M545.6 206.3h.6M556.7 193.9h.6M548.5 209.7h.6M544.2 188.6h.6M544.3 210h.6M568.1 206.3h.6M565.1 214.4h.6M545 210.3h.6M561.3 207.9h.6M557.1 206.5h.6M557.5 211.2h.6M551 207.9h.6M558.9 206.9h.6M567 191.7h.6M549.9 201.7h.6M559.8 190h.6M544.2 194h.6M570.4 214h.6M561.7 202.5h.6M558.3 213.2h.6M551.9 196h.6M543.6 196h.6M558.6 199.4h.6M562.3 199.5h.6M557.5 206.5h.6M558.3 202.2h.6M564.8 210.3h.6M559.6 204.3h.6M545.8 213.3h.6M550.4 205.9h.6M569.5 206.8h.6M566.6 203.7h.6M566.6 203.4h.6M562.1 193.5h.6M544.3 198.9h.6M542.6 192.3h.6M544.5 211h.6M563.6 209.1h.6M563.6 196.4h.6M546.1 206.7h.6M542.7 209.4h.6M547.3 202.2h.6M546.5 208.2h.6M547.5 196h.6M550.4 199.1h.6M570.2 197.6h.6M553.5 204.2h.6M548.9 207.3h.6M570.8 205.6h.6M563.2 194.6h.6M551.4 205.7h.6M564 209.5h.6M564.3 190.3h.6M558.8 196.3h.6M568.7 203h.6M562.8 207h.6M541.3 201.8h.6M570.1 210.1h.6M567.3 197.1h.6M552.5 202h.6M562.1 207.9h.6M565.2 188.8h.6M558.3 209h.6M566.9 206.2h.6M557.4 189.2h.6M570 208.5h.6M546.4 201.4h.6M558 212.1h.6M544.5 210.5h.6M562.5 199.1h.6M559.6 191.2h.6M557.4 194.6h.6M547.9 204.1h.6M560.6 207.6h.6M546.1 213.6h.6M543.3 209.8h.6M545 211h.6M557.7 192.1h.6M552.7 199.7h.6M559.8 192.2h.6M542.4 192.8h.6" stroke="#4cab36" stroke-width="0.6" opacity="0.5"/>
<path d="M524.2 206.3h.7M521.1 210.8h.7M551.8 186.2h.7M547.8 184.4h.7M529.9 200h.7M527.7 206.1h.7M522.3 209.4h.7M525 207.1h.7M530.3 190.9h.7M521.1 206.8h.7M525.7 197.8h.7M534.2 207.5h.7M521.4 199.2h.7M541.6 191.7h.7M554 193.4h.7M557.3 187.1h.7M556.2 192.9h.7M538.8 204.7h.7M522 200.5h.7M531.7 199.3h.7M555.7 180.7h.7M538.7 191.8h.7M556.2 182h.7M527.6 203.9h.7M543.5 185.9h.7M517.5 204.5h.7M537.8 201.9h.7M548.2 184.8h.7M529.7 196.7h.7M543.4 189.8h.7M524 209.6h.7M548.6 190.4h.7M544.2 187.3h.7M542.5 187h.7M537.2 200.4h.7M557.9 186h.7M561.8 188.2h.7M554.9 187.4h.7M522.8 204.7h.7M552.3 185.5h.7M547.7 186.7h.7M520.9 203.7h.7M526.6 194.6h.7M546.8 180.5h.7M545.9 189.1h.7M551.2 183.1h.7M529.3 192.7h.7M535.5 205.5h.7M551.3 175.3h.7M554.1 189.1h.7M548 179.8h.7M544.8 203.6h.7M549.4 193.2h.7M519.1 206.4h.7M551.4 187.6h.7M547.4 184.8h.7M529.7 199.7h.7M548.6 189.5h.7M557.2 183.8h.7M536.2 195.6h.7M522.3 205.8h.7M547.1 190.1h.7M562.1 187.4h.7M549.7 187.8h.7M544.6 182.4h.7M522.9 206.9h.7M538.7 195.7h.7M548.8 186.7h.7M529.9 203.4h.7M524.1 207.5h.7M547.3 182.5h.7M525.4 215.5h.7M547.2 195.5h.7M529.2 199.1h.7M539.4 191.5h.7M559.7 186h.7M545.9 182.8h.7M549.7 195.3h.7M556.2 177.7h.7M536 202.8h.7M539.5 186.9h.7M535.1 196.6h.7M520.1 209.6h.7M559.5 181.5h.7M514.9 203.7h.7M553.9 183.2h.7M538.4 200.8h.7M531 199.3h.7M539.6 193.9h.7M527 206.1h.7M536.9 189.6h.7M525.8 204.7h.7M543.1 191.7h.7M548.9 186h.7M522.8 213.2h.7M524.6 201.7h.7M530.1 209.1h.7M520.8 198h.7M536.3 206.3h.7M528.5 206.4h.7M527.5 207.2h.7M537.8 188.4h.7M526.3 204.4h.7M545.8 189.5h.7M547.5 189.9h.7M525.1 197.7h.7M530.1 205.8h.7M523.9 207.3h.7M548.4 182.4h.7M530 206.9h.7M556.2 178.8h.7M553.6 184.7h.7M538.8 193h.7M522.4 214.3h.7M540.6 193.2h.7M546.1 184.4h.7M539.3 196h.7M550.7 183.8h.7M550.5 192.9h.7M526.3 202.2h.7M516.3 200.6h.7M550.7 183.9h.7M538.7 190.9h.7M519.4 198.8h.7M530.5 196.9h.7M536.4 202.9h.7M530.3 207.2h.7M533.9 202.3h.7M561 182.9h.7M540.4 201.8h.7M520.4 209.4h.7M526 205.7h.7M522.8 195.9h.7M542.9 194.8h.7M557.9 181.4h.7M528.8 206.2h.7M537 185.9h.7M552.2 191.7h.7M546.9 182.3h.7M558.9 179.7h.7M522.4 211.2h.7M527.9 208.6h.7M544 178.2h.7M532.7 193.9h.7M533.6 201.9h.7M528.1 205.1h.7M560 182.5h.7M531.5 200.1h.7M530.4 212.2h.7M549 186.9h.7M535 204.6h.7M535.8 190.8h.7M524.1 204.6h.7M523.3 206h.7M549.6 189.2h.7M557.5 181.7h.7M539.3 199.8h.7M553.7 188.7h.7M525.6 215.8h.7M524.6 202.6h.7M524.4 209.9h.7M530.9 202.4h.7M546.9 184.9h.7M555.3 177.7h.7M533.6 192.6h.7M518.4 209.2h.7M533.7 210.5h.7M556.1 190.5h.7M544.8 182.6h.7M530.5 198.2h.7M557.3 182.5h.7M532.9 196h.7M525.3 208.4h.7M546.5 186.5h.7M545.8 183.9h.7M551.7 179.5h.7M529.4 209.9h.7M524.9 197.9h.7M520.3 201.3h.7M531.5 197.6h.7M518.7 209.1h.7M548.4 190.5h.7M538.8 184h.7M534.5 203h.7M553.7 183.3h.7M526.8 206.8h.7M547.2 182.6h.7M532.8 185.6h.7M547.2 189h.7M554 177.7h.7M525.9 197.6h.7M531.9 202.6h.7M531 203.4h.7M552.6 173.7h.7M531.5 197.5h.7M525.3 212.9h.7M523.9 209.5h.7M524.7 197.6h.7M518.5 206.1h.7M557.4 183.9h.7M552.1 184.7h.7M528.3 208.3h.7M544.3 195.8h.7M535.8 192.1h.7M522.2 201.4h.7M550.6 176.1h.7M557 177.4h.7M534.1 191.7h.7M524.5 197.9h.7M535.2 200.8h.7M547.6 195.8h.7M534.3 190.2h.7M533.3 204.9h.7M542.4 197.9h.7M536.8 191.3h.7M533 200.6h.7M537.8 192.3h.7M519.4 205.8h.7M553.9 173.8h.7M530.7 199.4h.7" stroke="#1f5fae" stroke-width="0.7" opacity="0.55"/>
<path d="M551.6 182h.7M546.1 184.7h.7M521.6 210.6h.7M528.8 203.7h.7M530 206.5h.7M558.5 183.2h.7M547.4 192.4h.7M522.1 207.5h.7M544.1 189.9h.7M547.6 183.7h.7M550.5 183.2h.7M546.5 188.1h.7M533.3 200.1h.7M531.7 193.1h.7M538 189.3h.7M544.6 185.3h.7M529.4 215h.7M535.1 191.7h.7M522.5 209.1h.7M525.5 208.1h.7M537.8 207.4h.7M544.2 195.3h.7M530.6 197.9h.7M558.6 185.5h.7M542.2 193.7h.7M539.7 196.5h.7M550.2 190.8h.7M544.3 191.7h.7M541.3 187.8h.7M545.6 193.6h.7M545.2 183.3h.7M550.7 187.3h.7M549.7 186.2h.7M520.6 203.9h.7M556.3 179.7h.7M536.4 196.8h.7M546.9 189.5h.7M527.7 219.2h.7M557.4 179.2h.7M533.5 198.7h.7M535.1 202.2h.7M520.8 196.5h.7M561 184.6h.7M540.5 187h.7M564.2 186.2h.7M521.4 205.4h.7M558.5 182.8h.7M538.3 195.9h.7M537.7 196.2h.7M544.2 186.9h.7M526.5 206.1h.7M537.7 200.1h.7M534.8 189h.7M558.6 187.6h.7M535.2 186.5h.7M535.4 191.5h.7M549.3 181.4h.7M544 182.4h.7M525.7 208.7h.7M532.7 194.5h.7M551.1 185.5h.7M545 184.7h.7M531.8 195.9h.7M535 195.2h.7M538.5 198.3h.7M554.6 177h.7M554.2 187.1h.7M534.6 203.2h.7M543.2 192.7h.7M537.2 192.2h.7M533.4 197.6h.7M549.1 200.9h.7M534.8 187.5h.7M528.7 204.5h.7M535.9 193h.7M548 192.5h.7M533.8 194.2h.7M522.4 204h.7M549.9 179.9h.7M549.2 184.7h.7M550.8 190.4h.7M550.6 190.6h.7M536 205h.7M523.3 201.5h.7M530.7 198.2h.7M533 198.9h.7M551.5 179.2h.7M528 200.1h.7M525.6 203.6h.7M545.4 187.1h.7M530.2 198.6h.7M530.2 207.3h.7M528.1 198.9h.7M535.4 197.4h.7M531 192h.7M549.2 180.2h.7M528.8 210.9h.7M519.6 207.7h.7M521.4 206.4h.7M548.4 184.2h.7M531.4 198.8h.7M540.9 189.6h.7M525.4 205.7h.7M539.8 194h.7M532.9 209.1h.7M534.8 197.9h.7M535.3 198.1h.7M521.6 203.1h.7M536 196.8h.7M525.2 213h.7M550.3 182.6h.7M532.8 189.8h.7M531.3 189.5h.7M519.1 207.1h.7M558.5 190.1h.7M525.7 200h.7M544.2 194.3h.7M532.1 194.6h.7M542.5 193h.7M527.3 198.8h.7M525.8 210h.7M531.9 207.7h.7M524.9 208.5h.7M534.7 194.8h.7M560.4 187.8h.7M546.9 190.4h.7M525.4 210.9h.7M544 187.5h.7M531.7 195.9h.7M534.6 184.8h.7M517.6 206.5h.7M544.5 186.3h.7M546.5 194.5h.7M534.2 186.7h.7M534.9 190h.7M550.7 192.7h.7M529.1 203.3h.7M539 191.5h.7M544.5 192.1h.7M541.9 193.5h.7M523.1 208.4h.7M543.4 184.9h.7M526.6 202.6h.7M523.7 206.2h.7M550.1 177.9h.7M535.9 204.5h.7M548.3 180.8h.7M525.2 198.1h.7M528.5 214.6h.7M525.3 211.5h.7M533.5 194.4h.7M521.9 211.8h.7M524.4 206.8h.7M552.5 182.2h.7M521.9 201.6h.7M541.3 196.4h.7M523.5 208.5h.7M556.1 183.6h.7M533.2 199.1h.7M542.9 198.8h.7M552.3 178.9h.7M530 201.5h.7M537.5 189h.7M541.1 187.6h.7M531 201.7h.7M540.4 188h.7M525.4 206.2h.7M556.4 180.2h.7M555.2 188.1h.7M552.9 188.5h.7M535.9 190.6h.7M557.6 183.2h.7M558.9 180.2h.7M550.3 184.3h.7M533.2 196.1h.7M537.5 196.7h.7M555.7 186h.7M526.8 205.9h.7M523.2 199.5h.7M538.3 198.1h.7M517.6 206.6h.7M546 186.6h.7M521.4 200.3h.7M541.6 194.7h.7M548.1 196.7h.7M552.4 181.1h.7M558.3 180.8h.7M545 186.6h.7M553 174.6h.7M556.1 178h.7M562.9 185.5h.7M549.3 186.9h.7M524.2 207.5h.7M530.7 202.9h.7M544.4 187.7h.7M532.7 198h.7M541.4 198.3h.7M523.6 208h.7M538.1 200.7h.7M545 187.6h.7M548.5 185.6h.7M556.7 179h.7M535 202.6h.7M525.7 198.8h.7M535.8 201.4h.7M544 200.8h.7M555 179h.7M527.2 210.9h.7M538.1 193.6h.7M526.8 192.1h.7M545.7 177.8h.7M550.7 190.4h.7M529.2 204.2h.7M552.5 177.6h.7M523.5 208.6h.7M521.2 207.5h.7M548.6 191.4h.7M545.7 182.8h.7M518.1 207.6h.7M538.8 205.3h.7" stroke="#b81c20" stroke-width="0.7" opacity="0.55"/>
<path d="M547.1 194h.7M546 188.8h.7M560.4 182.4h.7M549.9 189.3h.7M556.5 176h.7M554.6 192h.7M549.8 182.9h.7M559.6 183.3h.7M547.6 191.6h.7M560.4 182.5h.7M542 186.9h.7M560.7 182.9h.7M553 179.5h.7M550.3 192.4h.7M543.1 194.8h.7M558 181.5h.7M552.5 183.7h.7M546.2 184.4h.7M553.7 174.6h.7M545.7 185.1h.7M552.8 174.5h.7M547.3 182.5h.7M545.3 190.3h.7M549.7 192.8h.7M553.5 180.6h.7M541.6 190.2h.7M554.9 176.8h.7M545.2 188.2h.7M541.1 190.7h.7M553.2 181.8h.7M551.3 185.5h.7M554.2 190.9h.7M552.2 190.3h.7M562.5 184.2h.7M557.3 180.1h.7M545.6 186.3h.7M546.1 193.5h.7M543 192.6h.7M544.9 194.8h.7M554 186.6h.7M550.1 185.6h.7M541.9 185.2h.7M547.9 187.5h.7M560.4 181.5h.7M547.8 189.4h.7M547.2 182.8h.7M556.9 185.2h.7M553.2 183.8h.7M546.9 189.5h.7M553.6 182.9h.7M550.2 188.4h.7M547.6 187h.7M548.7 186.9h.7M546.7 190.7h.7M558.1 180.8h.7M549.1 190h.7M557.6 179.7h.7M549 182.4h.7M554.8 175.4h.7M555.2 179.8h.7M556.6 177.8h.7M543.6 189.2h.7M546.1 188.1h.7M543.9 191.7h.7M551 185.8h.7M545.3 189.6h.7M554.2 174.9h.7M553.9 186.8h.7M554.4 176.2h.7M544 191.5h.7M545.7 189.6h.7M561.5 184.8h.7M551.9 180.3h.7M557.6 178.6h.7M553.2 178h.7M550.2 185.5h.7M544.6 188.3h.7M545.8 176.4h.7M542.2 188.9h.7M541 191.5h.7M547.1 188.3h.7M557.3 180.5h.7M542.2 195h.7M550.7 180.5h.7M538.8 184.3h.7M542.4 187.9h.7M548 194.7h.7M546.9 187.9h.7M554.4 186.9h.7M542.4 188.5h.7M542 192.2h.7M556.3 182.6h.7M559.3 182h.7M543.7 196.5h.7M557 182.3h.7M549.9 187.3h.7M546.6 188h.7M551.3 182.5h.7M548.1 181.4h.7M545.2 188.2h.7M540.6 188.5h.7M558.2 179.2h.7M560.1 180.8h.7M560 180.8h.7M545.9 194.7h.7M550.3 188.5h.7M541.3 185.2h.7M553.7 179.1h.7M545.8 183h.7M551.7 188.1h.7M551.6 185.4h.7M551.1 184.6h.7M552.7 181.5h.7M549.3 186.4h.7M547.9 186.8h.7M540.9 189.3h.7M547 188.5h.7M549.3 183.3h.7M545.3 194h.7M547.6 182.9h.7" stroke="#1f5fae" stroke-width="0.7" opacity="0.55"/>
<path d="M548.5 187.7h.7M555.6 186.1h.7M545.4 189h.7M556.7 187.2h.7M562.4 188h.7M545.5 186.7h.7M545.9 179.2h.7M554.9 183.9h.7M545.3 183.3h.7M549.6 179.2h.7M545.3 191.1h.7M550.2 188.9h.7M548.8 185.2h.7M559.9 183.9h.7M538.3 190.1h.7M556.3 179.1h.7M546.5 188.4h.7M545 185.3h.7M559.3 179.1h.7M560.7 184.3h.7M549.9 188.8h.7M557.6 181.7h.7M547.7 179.8h.7M547.8 187.3h.7M539.9 191.7h.7M547 195.2h.7M550.4 186.6h.7M559.1 182.7h.7M548.3 186.3h.7M546 189.7h.7M546.6 187.1h.7M546.5 191.5h.7M541.2 193.2h.7M559.5 185.1h.7M541.8 190.1h.7M554.6 183.9h.7M544.7 192.6h.7M557 177.8h.7M541.3 189.7h.7M543.9 185.9h.7M543.1 190.7h.7M550.3 185.9h.7M557.8 178.8h.7M554.8 186.7h.7M554.4 183.6h.7M544.5 187.4h.7M557.4 177.4h.7M543.6 191.2h.7M547.7 183.1h.7M552.6 183.4h.7M541.9 194.5h.7M544.8 187.2h.7M544.4 188.7h.7M552 183.7h.7M542.4 187.5h.7M551.6 183.9h.7M544.6 190.3h.7M539.5 189.3h.7M541.3 182.7h.7M558.2 179.4h.7M541.2 190.2h.7M545.6 186.9h.7M546.2 187.5h.7M557.2 182.8h.7M548.5 191.2h.7M542.8 183.4h.7M539.4 190.3h.7M552.4 186.7h.7M550.7 181.5h.7M561.6 188h.7M559.3 180.7h.7M560.7 183.8h.7M557.8 180.2h.7M557.2 180.4h.7M559 180.2h.7M553 181.5h.7M550.3 187.9h.7M543.8 192.5h.7M559.4 187.2h.7M555.8 182.7h.7M552.1 184.4h.7M552.5 181.6h.7M553 180.8h.7M545.5 188.1h.7M542.6 194.4h.7M555.6 180.1h.7M555.6 183.4h.7M544 191h.7M560 181.3h.7M554.1 188.4h.7M547.6 189.8h.7M548.8 185.8h.7M548.4 195.3h.7M556.3 181.8h.7M539.4 187.2h.7M556.5 177.6h.7M549.3 188.3h.7M547.5 182.8h.7M547.5 186.5h.7M554.2 183h.7M549.8 180.7h.7M536.7 188.3h.7M554.5 182.9h.7M550.8 186.4h.7M551 186.1h.7M556.6 177.1h.7M557.7 180.2h.7M544.7 188.9h.7M550 180.1h.7M544.2 190h.7M540.7 192.3h.7M542.1 185.6h.7M545.7 187.1h.7M547.5 187.6h.7M543.9 188.5h.7M553.4 185h.7M544.8 189.9h.7M544 187.2h.7M550.5 189.2h.7M544.7 187.2h.7" stroke="#b81c20" stroke-width="0.7" opacity="0.55"/>
<path d="M573.8 158.5h.7M564.5 168.9h.7M561.8 180.6h.7M585.1 162.5h.7M583 161.9h.7M559.5 177.4h.7M582.2 151.9h.7M564.2 169.2h.7M577 164.6h.7M567.1 174h.7M566 166.4h.7M567.9 169.9h.7M569 162.8h.7M583.7 160.1h.7M561.3 176.2h.7M571.1 159.3h.7M580.5 156.6h.7M569.7 168.6h.7M565.8 170h.7M576 160.9h.7M572.6 163.1h.7M584.4 159.1h.7M573.4 164.3h.7M580.8 151.9h.7M569.7 169.4h.7M574.6 157h.7M563.3 168.2h.7M575.6 159.9h.7M563.1 170.7h.7M574.2 165.2h.7M586.2 156.9h.7M577.5 158.2h.7M557.6 176.4h.7M585 152.5h.7M570.4 157.8h.7M584 157.1h.7M578.1 163.8h.7M561.5 181.9h.7M576 163.3h.7M557.4 174.1h.7M567.9 173.3h.7M582.8 159h.7M563.7 166.7h.7M569.2 163h.7M560.7 179h.7M574.8 158.4h.7M573.9 168.7h.7M572.9 168.2h.7M573.9 165.2h.7M562.5 177.9h.7M585.3 159h.7M580.9 152.9h.7M578 165.5h.7M585.5 161.2h.7M564.4 171.6h.7M563.2 174.1h.7M581.5 164.2h.7M568.9 171.6h.7M578 166.3h.7M578 156.5h.7M583.8 161.1h.7M571.4 158.2h.7M579.4 160.1h.7M570.2 172.9h.7M570.1 165.7h.7M568.1 166.7h.7M584.4 155.8h.7M562.8 175.9h.7M565.8 173.4h.7M569.7 167.3h.7M564.6 179.5h.7M563 174.8h.7M576.4 163.3h.7M570.1 167.7h.7M568.3 172.5h.7M559.5 178.2h.7M559.5 174.6h.7M570.9 162.2h.7M583.2 161.6h.7M560.4 171.6h.7M562.8 178.4h.7M560.4 174h.7M586.6 155.6h.7M572.5 162.6h.7M581.6 159.1h.7M570.6 171h.7M586.1 158.7h.7M581.8 158.4h.7M585.2 153.7h.7M577.6 163.5h.7M580.1 158.9h.7M578.2 164.8h.7M574.9 164h.7M574.2 170.4h.7M579 155.8h.7M585.6 155.4h.7M563.2 172.5h.7M571.5 163.4h.7M582.5 160.5h.7M565.7 174.9h.7M577.5 165h.7M562.8 172h.7M577.2 156.4h.7M583.6 154h.7M571.9 172.8h.7M568.7 162h.7M577.2 161.2h.7M567.3 169.3h.7M578.9 164.3h.7M565.7 174.2h.7M557.7 178.7h.7M572.2 158.2h.7M560.4 175.8h.7M583.8 161.1h.7M560.7 173.5h.7M580.7 154.9h.7M562.7 176.1h.7M571.4 171.9h.7M575.6 156.4h.7M580.6 161.5h.7M575.4 160.4h.7M583.5 152.7h.7M572 166.5h.7M584.4 159.5h.7M578.4 161h.7M585.5 153.5h.7M564.9 170h.7M577.6 169.8h.7M563.8 177.2h.7M561.1 169h.7M570.3 167.8h.7M559.2 175.1h.7M579.6 163.8h.7M576.3 160.8h.7M562.2 173.6h.7M561.2 176.7h.7M566.2 169.2h.7M575.4 160.4h.7M561.9 178.5h.7M565 177.2h.7M574.3 165.2h.7M566.1 167.3h.7M567.1 174.6h.7M579.7 160.5h.7M578.4 159.5h.7M578.6 157.9h.7M563.4 172.4h.7M573.4 159.6h.7M568.8 169.9h.7M558.8 171.5h.7" stroke="#1f5fae" stroke-width="0.7" opacity="0.6"/>
<path d="M557.30 179.10C557.25 177.60 558.48 174.25 560.00 171.70C561.52 169.15 564.03 166.18 566.40 163.80C568.77 161.42 571.60 159.22 574.20 157.40C576.80 155.58 579.65 153.88 582.00 152.90C584.35 151.92 587.47 150.73 588.30 151.50C589.13 152.27 588.33 155.42 587.00 157.50C585.67 159.58 582.70 161.63 580.30 164.00C577.90 166.37 575.20 169.35 572.60 171.70C570.00 174.05 566.75 176.60 564.70 178.10C562.65 179.60 561.53 180.53 560.30 180.70C559.07 180.87 557.35 180.60 557.30 179.10Z" fill="#1f5fae" stroke="#1f5fae" stroke-width="1.8"/>
<path d="M562.4 178.7h.7M570.5 167.9h.7M561.4 176.5h.7M582.4 158.1h.7M580.6 153.9h.7M567 167.8h.7M570.3 170h.7M573.2 162.9h.7M566.6 167.9h.7M564.9 169.4h.7M576.8 159.7h.7M582 155.2h.7M571 176.1h.7M564.7 176.6h.7M574.3 162.7h.7M569.1 163.6h.7M566.4 167h.7M576.8 171.9h.7M576.5 164.6h.7M565.6 173.5h.7M562.8 171.3h.7M579.2 159.6h.7M564.2 174.7h.7M571.3 165.7h.7M564.6 173.5h.7M587.4 156.2h.7M567.5 175.5h.7M573.5 157.4h.7M561.9 176.1h.7M567.5 165.8h.7M572.5 167.4h.7M586.1 155.4h.7M571.5 169.7h.7M576.8 164.9h.7M575.2 158.5h.7M585.5 156h.7M570.9 162.2h.7M573.7 166.2h.7M575.7 158.4h.7M567.3 169.2h.7M576.2 159h.7M564.9 171.8h.7M565.1 170.2h.7M586.5 151.6h.7M574.9 161.3h.7M576.2 165.6h.7M571.6 163.7h.7M559.1 176.3h.7M564.7 169.3h.7M572.7 162.6h.7M563.1 179.1h.7M566.4 161.2h.7M575.8 160h.7M566.7 164.8h.7M577.2 159.6h.7M578.5 158.7h.7M573.8 170.8h.7M570.8 170.4h.7M557.3 174.7h.7M566.3 173.3h.7M565.1 172.5h.7M572.7 162.1h.7M575.4 157.1h.7M570.7 165.4h.7M568.2 167.4h.7M562.5 175.2h.7M571.4 165.4h.7M566.9 175.6h.7M566.8 164.9h.7M585.1 162.4h.7M577.9 163.3h.7M584.3 158.3h.7M575.3 168.6h.7M577.9 157h.7M561.2 172.1h.7M570.7 163.1h.7M580.3 160.1h.7M575.4 162.4h.7M582.2 160h.7M583.7 153.8h.7M579 157.5h.7M577.2 158.3h.7M562.2 169.2h.7M580.3 161h.7M568.5 174.2h.7M568 171h.7M574.4 162.5h.7M574.1 162.3h.7M562.4 172.3h.7M582.1 161.8h.7M564.4 174.3h.7M561.2 175.8h.7M558.2 178h.7M582.8 158.1h.7M576.4 170.2h.7M577.3 160.4h.7M583.7 153.6h.7M569.4 166.9h.7M569.8 169.5h.7M565.9 169.4h.7M581.7 152.4h.7M561 177.8h.7M576.4 164.5h.7M562.5 180.4h.7M582.5 156.7h.7M572.5 169.4h.7M566.4 165.1h.7M565.5 168.8h.7M565.8 166.3h.7M580.5 155.5h.7M561.3 175.6h.7M565.8 177.2h.7M581.3 159.5h.7M561.4 176.2h.7M574.6 170.2h.7M571.5 164.1h.7M563.9 171.1h.7M581.2 156.5h.7M579.3 165.4h.7M561.6 172h.7M576.9 162.6h.7M572.4 162.2h.7M578.7 163.9h.7M573.6 163.7h.7M568.4 166.4h.7M582.7 155.7h.7M561.3 177.6h.7M577.2 159h.7M560.1 180.3h.7M582.3 158.1h.7M579.2 159h.7M562.3 174.5h.7M572.8 168.3h.7M565.9 174.7h.7M573.8 164.6h.7M564.2 167.1h.7M573.3 166h.7M573.8 166h.7M576 160h.7M574.7 156.6h.7M583.8 152.9h.7M575.3 166.9h.7M571.6 165.6h.7M569.6 161.8h.7M570.5 161.9h.7M577.3 165.6h.7M578.2 160.4h.7M562 171.3h.7M565.3 178.6h.7M565.2 170.9h.7M569.4 169.5h.7M580.9 160.5h.7M562.6 180.3h.7M562.9 178.6h.7M566.8 174h.7M571.9 163h.7M570.2 160.3h.7M558.6 173.1h.7M562.5 169.6h.7M587.1 155.7h.7M559.7 175.2h.7M581.4 153.6h.7M563.7 177.4h.7M585.4 154.2h.7M580.7 152.8h.7M569.5 160h.7M565.8 166.3h.7M563.9 167.4h.7M582.6 158.9h.7M564.8 171.4h.7M560 179.9h.7M577.8 164.5h.7M584.6 156h.7M576.6 158.8h.7M575.7 159.8h.7M564.8 171.2h.7M567 170.9h.7M568 167.3h.7M565.8 171h.7M576.3 157.3h.7M570.6 165h.7M564.5 171.5h.7M580.9 151.7h.7M572.6 162.3h.7M584.5 158.5h.7M576.3 158.5h.7M576.7 158.9h.7M566.2 173.4h.7M575.7 165.4h.7M573.5 160.2h.7M574.2 158.9h.7M566.6 172.9h.7M566.3 172.6h.7M571.8 171.7h.7M570.7 171.3h.7M575.1 164.5h.7M566.5 174.2h.7M575.8 165.4h.7M573.8 160.1h.7M562.1 174.5h.7" stroke="#b81c20" stroke-width="0.7" opacity="0.6"/>
<path d="M558.10 178.60C558.10 177.32 559.22 174.55 560.70 172.20C562.18 169.85 564.67 166.85 567.00 164.50C569.33 162.15 572.13 159.90 574.70 158.10C577.27 156.30 580.27 154.65 582.40 153.70C584.53 152.75 586.87 151.87 587.50 152.40C588.13 152.93 587.48 155.10 586.20 156.90C584.92 158.70 582.13 160.87 579.80 163.20C577.47 165.53 574.75 168.55 572.20 170.90C569.65 173.25 566.42 175.80 564.50 177.30C562.58 178.80 561.77 179.68 560.70 179.90C559.63 180.12 558.10 179.88 558.10 178.60Z" fill="#b81c20" stroke="#b81c20" stroke-width="1.8"/>
<path d="M558.96 178.25C558.96 177.38 559.72 175.49 560.73 173.90C561.74 172.30 563.43 170.26 565.02 168.66C566.60 167.06 568.51 165.53 570.25 164.31C572.00 163.08 574.04 161.96 575.49 161.32C576.94 160.67 578.53 160.07 578.96 160.43C579.39 160.79 578.94 162.27 578.07 163.49C577.20 164.72 575.31 166.19 573.72 167.78C572.13 169.36 570.29 171.41 568.55 173.01C566.82 174.61 564.62 176.34 563.32 177.36C562.01 178.38 561.46 178.98 560.73 179.13C560.01 179.28 558.96 179.12 558.96 178.25Z" fill="none" stroke="#fff" stroke-width=".45" opacity=".9"/>
<path d="M559.42 178.06C559.42 177.41 559.99 176.00 560.75 174.80C561.51 173.60 562.77 172.07 563.96 170.87C565.15 169.67 566.58 168.52 567.89 167.61C569.20 166.69 570.73 165.85 571.82 165.36C572.90 164.88 574.09 164.43 574.42 164.70C574.74 164.97 574.41 166.08 573.75 166.99C573.10 167.91 571.68 169.02 570.49 170.21C569.30 171.40 567.91 172.94 566.61 174.13C565.31 175.33 563.66 176.63 562.69 177.40C561.71 178.16 561.29 178.61 560.75 178.72C560.21 178.83 559.42 178.72 559.42 178.06Z" fill="none" stroke="#fff" stroke-width=".45" opacity=".9"/>
<path d="M583.3 170h.7M583 169.9h.7M573.5 174.5h.7M580.1 175.6h.7M583.6 174.7h.7M575.8 180.3h.7M563.3 198.8h.7M572.2 178.2h.7M568.9 176h.7M560.9 196.6h.7M565.5 194.2h.7M565.8 184.7h.7M576.3 187.6h.7M564.5 183.9h.7M567.8 191.2h.7M561 202.2h.7M582.8 175.5h.7M568.3 187.8h.7M563.7 189.9h.7M569 194.6h.7M563.3 192.8h.7M574 192.3h.7M568.8 194.3h.7M564.6 188.5h.7M582.8 174.2h.7M567.1 193.3h.7M570.6 196.5h.7M577.1 178.8h.7M577.7 178.2h.7M561.2 202.9h.7M578.7 184h.7M571.4 182.9h.7M568.8 177.7h.7M570.4 194.5h.7M576.8 176h.7M571.9 177.9h.7M575.8 172.8h.7M568 188.4h.7M571.3 192.5h.7M563 192.6h.7M560.5 197.5h.7M571.3 181.9h.7M571.3 192.6h.7M571.5 181.4h.7M565.9 189.8h.7M570.1 192h.7M572.5 188h.7M561.3 197.2h.7M577 180.7h.7M569.3 180.3h.7M580.9 176.1h.7M571.6 173.8h.7M578.7 179.7h.7M572 183.1h.7M577.3 179.3h.7M576.3 183.3h.7M575.6 191.1h.7M575.5 188.8h.7M566.3 182.3h.7M560.4 187.9h.7M583.3 170.8h.7M569.2 177.9h.7M579.8 177.2h.7M575 189.1h.7M567.9 180.4h.7M574.3 180.7h.7M577.5 184.9h.7M562.1 187.5h.7M569.2 182.5h.7M564.6 182.2h.7M568.1 192.7h.7M563.6 187.8h.7M567.3 198.6h.7M573.2 187.9h.7M571.7 178.8h.7M577.7 178.7h.7M574.9 184.5h.7M570 193.4h.7M560.7 193.3h.7M566.8 202.8h.7M561.3 193.6h.7M570 187.7h.7M564.2 190.6h.7M569.2 185.5h.7M568 195.9h.7M568.9 186h.7M565.5 186h.7M582.5 175.2h.7M585.7 170.8h.7M583.4 171.2h.7M570.9 177.2h.7M562.3 200.1h.7M574.6 187h.7M566.6 186.9h.7M564.1 182.7h.7M579.3 170.2h.7M565.6 188.8h.7M573.4 178.1h.7M574.3 176.9h.7M568.4 185.9h.7M564.7 190h.7M583.9 168.2h.7M582 172.9h.7M575.9 185.7h.7M579.7 175.6h.7M563.9 187.8h.7M562.4 188.4h.7M572.5 183.6h.7M567.6 183.5h.7M571.1 176.6h.7M561.6 195.6h.7M576.2 178.4h.7M568.8 195.8h.7M570.4 181.6h.7M573.9 186.6h.7M567.4 184.9h.7M578.1 171.3h.7M574.6 178.9h.7M584 174.6h.7M584.6 176.6h.7M575.7 179.8h.7M571.2 192.4h.7M583.3 175.5h.7M567.7 200.9h.7M565 198.3h.7M570.7 185.3h.7M567.4 190.7h.7M572.6 185.7h.7M576.5 183.8h.7M579.8 183.1h.7M576.3 180h.7M569.9 186h.7M578.3 175.1h.7M571.2 176.3h.7M577.7 169.6h.7M571.4 186h.7M563.4 200.1h.7M566.9 195.3h.7M581.6 177.6h.7M578.8 183.7h.7M582.6 178.4h.7M566.1 201.1h.7M564.2 197h.7M577.3 177.6h.7M565 179.5h.7M579.7 168.5h.7M561.2 194.7h.7M579.4 177.5h.7M578.3 180.5h.7M572.4 186.2h.7M569 183.1h.7M573.2 181.7h.7M573.7 186.6h.7M575 174.9h.7M564.9 182.6h.7M567.2 190.7h.7M570.4 178.8h.7M576.2 181.5h.7M566.6 180.6h.7M569.9 194.7h.7M571.6 185.8h.7M564.6 197.9h.7M579.4 175.7h.7M579.4 188.1h.7M580.6 175.4h.7M578.9 182.5h.7M570.1 197.5h.7M565.1 197.2h.7M576.8 182.9h.7M574 184h.7M569.2 179h.7M564.1 192.9h.7M568.9 190.2h.7M581.9 173.3h.7M561.2 202.5h.7M566.3 183.8h.7M571.4 185.8h.7M568.3 182.2h.7M577.6 171.7h.7M561.6 188.8h.7M573.2 192.5h.7M559.9 195.6h.7M564.7 187.3h.7M565 181.5h.7M567.2 197.3h.7M572.4 182.4h.7M566.8 196.2h.7M576.2 188.5h.7M567.1 199h.7M566.9 193.8h.7M580.2 178h.7M582.2 169.8h.7M573.4 180.4h.7M583 172.8h.7M569.3 186.6h.7M565.1 183.1h.7M577 171.5h.7M563.5 196h.7M561 198.5h.7M581.9 171.7h.7M565.1 188.1h.7M574.5 187.6h.7M572.4 182h.7M577 186.7h.7M570.1 184.2h.7M582.4 181.4h.7M565.1 196.4h.7M579.9 176.3h.7M567.6 195.3h.7M562.9 195.8h.7M566.2 199.9h.7M571.5 190.2h.7M579.8 174h.7M566.7 181.2h.7M569.4 181.2h.7M575.5 190.1h.7M568.7 184.1h.7M566.8 191.9h.7M562.5 194.2h.7M577.8 176.9h.7M572.8 181.9h.7M564.7 197.6h.7M567.9 184.3h.7M576.6 177.1h.7M566.2 191.2h.7M561.2 195.5h.7M583 171.7h.7M574.2 180.1h.7M563.1 189.4h.7M563.3 184.8h.7M584.9 170.2h.7M576.9 172.7h.7M562.5 194.1h.7M577.9 181h.7M561.1 196.8h.7M577.4 181.4h.7M565.4 194.7h.7M568.6 188.4h.7M576.3 178.9h.7M566.5 195.7h.7M584 170.3h.7M562.2 187.9h.7M575.1 185.4h.7M566.8 201.1h.7M574.3 177.7h.7M558.7 195.2h.7M564.5 192.8h.7M572.6 185.3h.7M572.5 183h.7M571 194.6h.7" stroke="#4cab36" stroke-width="0.7" opacity="0.6"/>
<path d="M563.20 204.10C562.15 203.88 561.12 201.33 560.70 199.00C560.28 196.67 560.07 193.08 560.70 190.10C561.33 187.12 562.58 183.67 564.50 181.10C566.42 178.53 569.65 176.50 572.20 174.70C574.75 172.90 577.68 171.25 579.80 170.30C581.92 169.35 583.98 168.80 584.90 169.00C585.82 169.20 585.72 169.90 585.30 171.50C584.88 173.10 584.17 175.50 582.40 178.60C580.63 181.70 577.27 186.48 574.70 190.10C572.13 193.72 568.92 197.97 567.00 200.30C565.08 202.63 564.25 204.32 563.20 204.10Z" fill="#4cab36" stroke="#4cab36" stroke-width="1.8"/>
<path d="M563.62 200.18C563.31 200.12 563.00 199.35 562.87 198.65C562.75 197.95 562.68 196.88 562.87 195.98C563.06 195.08 563.43 194.05 564.01 193.28C564.59 192.51 565.55 191.90 566.32 191.36C567.08 190.82 567.96 190.32 568.60 190.04C569.23 189.75 569.86 189.59 570.13 189.65C570.40 189.71 570.38 189.92 570.25 190.40C570.12 190.88 569.91 191.60 569.38 192.53C568.85 193.46 567.84 194.89 567.07 195.98C566.30 197.06 565.34 198.34 564.76 199.04C564.18 199.74 563.93 200.25 563.62 200.18Z" fill="#fff"/>
<path d="M563.55 200.85C563.11 200.76 562.67 199.69 562.50 198.71C562.32 197.73 562.23 196.23 562.50 194.97C562.76 193.72 563.29 192.27 564.09 191.19C564.90 190.11 566.26 189.26 567.33 188.50C568.40 187.75 569.63 187.06 570.52 186.66C571.41 186.26 572.28 186.03 572.66 186.11C573.05 186.19 573.00 186.49 572.83 187.16C572.65 187.83 572.35 188.84 571.61 190.14C570.87 191.44 569.46 193.45 568.38 194.97C567.30 196.49 565.95 198.28 565.14 199.26C564.34 200.24 563.99 200.94 563.55 200.85Z" fill="none" stroke="#fff" stroke-width=".5"/>
<path d="M563.49 201.41C562.94 201.30 562.40 199.97 562.19 198.76C561.97 197.55 561.86 195.68 562.19 194.13C562.52 192.58 563.17 190.79 564.16 189.45C565.16 188.12 566.84 187.06 568.17 186.12C569.49 185.19 571.02 184.33 572.12 183.84C573.22 183.34 574.30 183.06 574.77 183.16C575.25 183.26 575.20 183.63 574.98 184.46C574.76 185.29 574.39 186.54 573.47 188.15C572.55 189.76 570.80 192.25 569.47 194.13C568.13 196.01 566.46 198.22 565.46 199.44C564.47 200.65 564.03 201.52 563.49 201.41Z" fill="none" stroke="#fff" stroke-width=".5"/>
<path d="M563.43 201.97C562.78 201.84 562.14 200.26 561.88 198.81C561.62 197.36 561.49 195.14 561.88 193.29C562.27 191.44 563.05 189.30 564.23 187.71C565.42 186.12 567.43 184.86 569.01 183.74C570.59 182.63 572.41 181.61 573.72 181.02C575.03 180.43 576.31 180.09 576.88 180.21C577.45 180.33 577.39 180.77 577.13 181.76C576.87 182.75 576.43 184.24 575.33 186.16C574.24 188.08 572.15 191.05 570.56 193.29C568.97 195.53 566.97 198.17 565.78 199.62C564.60 201.06 564.08 202.11 563.43 201.97Z" fill="none" stroke="#fff" stroke-width=".5"/>
<path d="M563.37 202.53C562.61 202.38 561.87 200.54 561.57 198.86C561.27 197.18 561.11 194.60 561.57 192.45C562.02 190.30 562.92 187.82 564.30 185.97C565.68 184.12 568.01 182.66 569.85 181.36C571.68 180.07 573.80 178.88 575.32 178.20C576.84 177.51 578.33 177.12 578.99 177.26C579.65 177.40 579.58 177.91 579.28 179.06C578.98 180.21 578.46 181.94 577.19 184.17C575.92 186.40 573.50 189.85 571.65 192.45C569.80 195.06 567.48 198.12 566.10 199.80C564.72 201.48 564.12 202.69 563.37 202.53Z" fill="none" stroke="#fff" stroke-width=".5"/>
<path d="M563.62 200.18C563.31 200.12 563.00 199.35 562.87 198.65C562.75 197.95 562.68 196.88 562.87 195.98C563.06 195.08 563.43 194.05 564.01 193.28C564.59 192.51 565.55 191.90 566.32 191.36C567.08 190.82 567.96 190.32 568.60 190.04C569.23 189.75 569.86 189.59 570.13 189.65C570.40 189.71 570.38 189.92 570.25 190.40C570.12 190.88 569.91 191.60 569.38 192.53C568.85 193.46 567.84 194.89 567.07 195.98C566.30 197.06 565.34 198.34 564.76 199.04C564.18 199.74 563.93 200.25 563.62 200.18Z" fill="none" stroke="#4cab36" stroke-width=".6"/>
<path d="M555 213.7h.7M548.9 216.2h.7M548.2 214.7h.7M556.1 212.7h.7M560.9 216h.7M557.2 213.2h.7M554.6 213.9h.7M563 207.9h.7M558.4 214.4h.7M553.7 214.1h.7M558.2 218.2h.7M549.8 214.2h.7M561.6 212.6h.7M546.4 215.6h.7M550 214.3h.7M558.6 216.7h.7M557.2 215.6h.7M561.2 213.6h.7M563 213.5h.7M553.1 211.9h.7M555.7 211h.7M551.2 216.8h.7M553.2 215.6h.7M553.8 210.3h.7M565.9 214.9h.7M555.2 216.2h.7M554.7 212.5h.7M563.4 217.8h.7M559.1 215.1h.7M550.3 213.3h.7M550 215h.7M555.7 213.1h.7M556.2 212.2h.7M556.7 212.5h.7M559.7 213.8h.7M564.1 213.1h.7M554.9 215.6h.7M559.8 214.2h.7M556.5 213.9h.7M552 214.2h.7" stroke="#4cab36" stroke-width="0.7" opacity="0.6"/>
<path d="M546.80 215.50C544.30 215.08 547.47 213.42 549.80 213.00C552.13 212.58 558.30 212.58 560.80 213.00C563.30 213.42 567.13 215.08 564.80 215.50C562.47 215.92 549.30 215.92 546.80 215.50Z" fill="#4cab36" stroke="#4cab36" stroke-width="1.8"/>
<path d="M507.6 208.2h.7M512.8 211.8h.7M514.9 212.3h.7M508.5 206.8h.7M509.9 213.7h.7M511.7 212.3h.7M510.7 216.3h.7M510.8 209.3h.7M509.5 203.7h.7M509.1 206.7h.7M511.7 213.3h.7M512.1 214.6h.7M513.3 214.7h.7M511.5 205.6h.7M512.5 215.5h.7M512.6 211.6h.7M507.6 206.6h.7M511.5 214.2h.7M508.1 209.4h.7M510.8 208.9h.7M510.6 212h.7M510.2 210.4h.7M511.6 210.6h.7M509.1 213.8h.7M510.9 213.3h.7M512.2 212.3h.7M514.7 212.7h.7M510.1 211.7h.7M506.6 206.7h.7M509.2 215.2h.7" stroke="#b81c20" stroke-width="0.7" opacity="0.6"/>
<path d="M508.80 204.50C509.47 203.17 511.88 205.67 512.80 207.50C513.72 209.33 514.97 214.17 514.30 215.50C513.63 216.83 509.72 217.33 508.80 215.50C507.88 213.67 508.13 205.83 508.80 204.50Z" fill="#b81c20" stroke="#b81c20" stroke-width="1.8"/>
<path d="M508.8 209.5h.7M508.2 201.6h.7M509.5 203.8h.7M508.5 200.3h.7M511.4 204.1h.7M510.4 201.3h.7M511.9 207.7h.7M505.4 205.8h.7M510.2 206.3h.7M509.8 209.4h.7" stroke="#4cab36" stroke-width="0.7" opacity="0.6"/>
<path d="M508.80 201.50C509.30 200.50 511.22 201.33 511.80 202.50C512.38 203.67 512.80 207.50 512.30 208.50C511.80 209.50 509.38 209.67 508.80 208.50C508.22 207.33 508.30 202.50 508.80 201.50Z" fill="#4cab36" stroke="#4cab36" stroke-width="1.8"/>
</g>
<path d="M506.4 117.9h2.6M507.4 131.0h1.6M507.4 127.7h1.6M507.4 125.3h1.6M507.4 123.5h1.6M507.4 122.0h1.6M507.4 120.8h1.6M507.4 119.7h1.6M507.4 118.8h1.6M506.4 136.6h2.6M507.4 150.3h1.6M507.4 146.8h1.6M507.4 144.4h1.6M507.4 142.5h1.6M507.4 140.9h1.6M507.4 139.6h1.6M507.4 138.5h1.6M507.4 137.5h1.6M506.4 156.2h2.6M507.4 170.1h1.6M507.4 166.6h1.6M507.4 164.1h1.6M507.4 162.2h1.6M507.4 160.6h1.6M507.4 159.3h1.6M507.4 158.1h1.6M507.4 157.1h1.6M506.4 176.1h2.6M507.2 183.3h1.8M507.2 188.8h1.8M507.2 193.8h1.8M507.2 198.3h1.8M507.2 201.8h1.8M507.2 204.5h1.8M507.2 207.8h1.8M507.2 210.8h1.8M513.0 215.1v1.8M517.0 215.1v1.8M520.0 215.1v1.8M523.5 215.1v1.8M527.0 215.1v1.8M530.0 215.1v1.8M534.0 215.1v1.8M538.0 215.1v1.8M542.0 215.1v1.8M558.7 215.1v2.4M545.8 215.1v1.6M548.9 215.1v1.6M551.3 215.1v1.6M553.2 215.1v1.6M554.9 215.1v1.6M556.3 215.1v1.6M557.6 215.1v1.6M583.4 215.1v2.4M566.1 215.1v1.6M570.5 215.1v1.6M573.6 215.1v1.6M576.0 215.1v1.6M577.9 215.1v1.6M579.6 215.1v1.6M581.0 215.1v1.6M582.3 215.1v1.6M608.0 215.1v2.4M590.8 215.1v1.6M595.1 215.1v1.6M598.2 215.1v1.6M600.6 215.1v1.6M602.5 215.1v1.6M604.2 215.1v1.6M605.6 215.1v1.6M545.8 215.1v1.6M548.9 215.1v1.6M551.3 215.1v1.6M553.2 215.1v1.6M554.9 215.1v1.6M556.3 215.1v1.6M557.6 215.1v1.6" stroke="#000" stroke-width="1.1" fill="none"/>
<rect x="509.9" y="117.6" width="96.9" height="96.5" fill="none" stroke="#000" stroke-width="1.8"/>
<clipPath id="c4"><rect x="84.8" y="229.0" width="95.1" height="94.8"/></clipPath>
<g clip-path="url(#c4)">
<path d="M132.8 306.1h.6M99 303.5h.6M123.3 273.1h.6M142.2 299.1h.6M105.3 303.5h.6M154.8 305.8h.6M101.9 276.7h.6M113.8 291.1h.6M116.6 275h.6M124 298.9h.6M149.9 295.4h.6M149.8 289h.6M123.2 272.8h.6M135.1 305.3h.6M102.3 296.6h.6M138.3 312h.6M154.2 299.2h.6M122.8 296.9h.6M154.4 286.4h.6M96.9 286.6h.6M120.2 273.6h.6M153.1 272.8h.6M106.1 274.3h.6M115.3 287h.6M102.1 287h.6" stroke="#b81c20" stroke-width="0.6" opacity="0.5"/>
<path d="M109.5 302.6h.6M95.6 309.1h.6M143.4 306.3h.6M138 296.2h.6M105.5 288.7h.6M125.5 284.6h.6M116.7 292.7h.6M153.9 301.4h.6M130.3 295h.6M95.6 284.2h.6M136.8 316.2h.6M120.8 308.5h.6M98.4 295.1h.6M109.8 300.4h.6M97.1 294.2h.6M140.9 288.3h.6M101.8 313.6h.6M121.8 291.3h.6M154.3 310.1h.6M155.6 289.8h.6" stroke="#4cab36" stroke-width="0.6" opacity="0.5"/>
<path d="M95.7 309.9h.6M114.5 318h.6M121.6 318.6h.6M153.5 305.4h.6M129 308.2h.6M136.4 312.7h.6M118.4 316.6h.6M155.1 305.4h.6M98.2 292.9h.6M97.1 293.8h.6M131.1 314.7h.6M99.7 309.6h.6M109.6 299h.6M116 318.3h.6M112.2 308.8h.6M153.4 315.6h.6M136.8 314.6h.6M138.4 311.1h.6M102.5 296.6h.6M109 310.1h.6" stroke="#1f5fae" stroke-width="0.6" opacity="0.5"/>
<path d="M143.8 315.8h.6M121.1 305.5h.6M123.7 320.2h.6M90.1 306.2h.6M139.6 315.2h.6M146.8 318.4h.6M130.2 310.7h.6M94.8 312.4h.6M94.3 304h.6M135.9 299.9h.6M129.2 299.7h.6M93.2 312.2h.6M102.5 320.2h.6M135.4 299.5h.6M109.4 300.8h.6M116 305h.6M94.3 299.7h.6M123.4 314.4h.6M100.4 309.7h.6M144.4 299.6h.6M140.6 312.4h.6M90.8 314.3h.6M85.6 303.8h.6M109.3 305.6h.6M115.9 309.6h.6M103.6 306.6h.6M136.6 305h.6M154 300.3h.6M103.8 313.8h.6M133.1 317.6h.6M153 313.5h.6M146.1 303.5h.6M102.8 315h.6M88.8 307h.6M152.7 320.5h.6M140.3 319.7h.6M108.2 305.1h.6M157.9 313.7h.6M116.2 304.1h.6M127.4 302.8h.6" stroke="#b81c20" stroke-width="0.6" opacity="0.5"/>
<path d="M115.2 321.6h.7M114 318.1h.7M118.8 315.3h.7M116.4 314.4h.7M110.3 315.5h.7M123 316.3h.7M121.8 319.5h.7M119.2 320.7h.7M110.6 311.2h.7M117.9 316.1h.7M112.9 315.1h.7M121.5 315.6h.7M111.9 317.3h.7M119.5 317.5h.7M116.4 312.6h.7M110.1 316.1h.7M121 315.8h.7M115.7 313.4h.7M123.5 312.2h.7M107.5 319.4h.7M104 320.6h.7M116.7 314h.7M117.4 320.7h.7M121.7 322.3h.7M119.3 313.5h.7M121.9 317.7h.7M111.4 319.4h.7M122.7 317.5h.7M118.7 315.3h.7M113.6 314.6h.7M116.2 317.4h.7M111.3 316.8h.7M119.6 318.8h.7M111.7 318.8h.7M107.4 319.4h.7M115.9 319.8h.7M118.6 316.7h.7M123 317.8h.7M111.8 319.3h.7M120.1 316.5h.7M121.9 314.4h.7M110.4 317.4h.7M110.5 315h.7M110.7 315.2h.7M111.7 315.7h.7M116.2 317.8h.7M122.5 312.9h.7M110.1 322.5h.7" stroke="#b81c20" stroke-width="0.7" opacity="0.6"/>
<path d="M146.1 316.8h.7M127.8 318.9h.7M141 312.9h.7M147.8 317h.7M154.6 316.8h.7M141.7 323.4h.7M138.6 313.1h.7M128.4 317.6h.7M133 324.7h.7M137.7 309.2h.7M147.3 320.7h.7M131.9 309.4h.7M142.6 314.8h.7M139.2 312h.7M152.5 314.6h.7M127.7 317.3h.7M139.4 318h.7M131.2 317.6h.7M152.1 315.1h.7M132.3 311.9h.7M139.7 321.2h.7M144.3 306.5h.7M146.8 319.8h.7M129.8 314.2h.7M151.4 316.6h.7M147.9 316.8h.7M140.4 314.4h.7M151.2 310.6h.7M137.5 321.8h.7M153.4 311.4h.7M133.1 313h.7M143 318.6h.7M135.6 317.1h.7M144.5 312.5h.7M134 316.5h.7M142.6 310.9h.7M144.4 318.1h.7M138.1 323.5h.7M147 322.3h.7M141 319.7h.7M147.5 319.2h.7M136.3 317h.7M137.3 311.3h.7M141.9 315h.7M150.6 314.6h.7M145 308.2h.7M139.3 313.3h.7M153.8 312.2h.7M145.4 317.3h.7M143.4 314.5h.7M149.1 316.8h.7M133.6 308.7h.7M141.3 319h.7M139.8 313.2h.7M129.6 321.6h.7M137.5 311.4h.7M137.4 315.5h.7M139.9 307h.7M145.1 316.8h.7M149.4 319.8h.7M131.8 317h.7M135.4 320.6h.7M125.7 318.3h.7M152.8 320.7h.7M148.2 306.5h.7M134.7 320.7h.7M132 317.3h.7M149.4 312.9h.7M127.3 314.4h.7M147.4 315.5h.7M143.6 315.2h.7M133.7 318.8h.7M152.9 312.9h.7M132.2 321h.7M129.7 316.2h.7M131.7 319.1h.7M128.9 320.1h.7M146.8 321.1h.7M134.4 322.3h.7M146.7 319.4h.7M134.7 313.7h.7M147.5 316.9h.7M133.9 314.2h.7M135.5 315.1h.7M139.2 323.5h.7M150.7 312.6h.7M153.1 318.4h.7M127.5 312.4h.7M145.3 311.5h.7M137.3 316.3h.7M139.1 309.6h.7M134.4 318.4h.7M146.2 312.1h.7M147.8 316.9h.7M130.3 319.2h.7M136.3 323h.7M156.7 312.1h.7M146.4 325.6h.7M137.4 312.2h.7M127.5 318h.7M122.5 316.8h.7M136 313.5h.7M146 312.5h.7M141.1 324.7h.7M138.2 315h.7M145 314.8h.7M143.1 308.3h.7M140 309h.7M134.7 323.2h.7M145.9 317.3h.7M151 312.5h.7M134.2 314.1h.7M144.8 314.2h.7M136.6 312.9h.7M143.7 315.1h.7M145.5 318.2h.7M155.3 317.2h.7M147.3 321.5h.7M133.9 318.2h.7M133.7 314.5h.7M149.1 320.9h.7M133.4 312.4h.7M151 314.2h.7M154.2 317.3h.7M129.1 318.3h.7M151.8 316h.7M153 318h.7M153.2 315.4h.7M140.3 311.5h.7M150 309.8h.7M135.1 320.3h.7M140 320h.7M132.6 317.8h.7M134.5 314.3h.7M138.2 313.4h.7M142.9 325.1h.7M148.7 320.7h.7M153.7 316.4h.7M136.7 321.8h.7M146.4 318h.7M124.7 320.4h.7M135.3 322h.7M136 319.3h.7M149.7 318.5h.7M146.1 318.6h.7M138.9 316.8h.7M140.9 312.9h.7M149.6 310.3h.7M131.8 318.6h.7M135.8 318.8h.7M140.7 313.6h.7M132.6 310.2h.7M147.5 314.1h.7M145.3 319.6h.7M145.6 308.8h.7M135.7 320.8h.7M132.8 314.5h.7M138 318.2h.7M149.7 321.4h.7M158.4 316.5h.7M151.3 317.8h.7M143 312.9h.7M128.6 322.1h.7M133.2 318.7h.7M153.7 315.4h.7M129.1 313.1h.7M130.7 311.7h.7M142 317.8h.7M135 318.8h.7M140.9 310.8h.7M141.4 309.9h.7M147.1 313.7h.7M145 309.8h.7M137.3 316.5h.7M138.9 318.1h.7M149.1 321.4h.7M148 315.8h.7M148.6 315h.7M133.6 321.2h.7M136.9 317.3h.7M138.1 320.8h.7M149.3 319h.7M134.5 315.7h.7M129.9 317.1h.7M146.6 315h.7M141 314.5h.7M141 311.6h.7M142.9 318.5h.7M156.1 312.9h.7M140.6 311.3h.7M131.3 320.2h.7M144.3 323.3h.7M139.4 321.9h.7M155.9 314.5h.7M148.4 315.7h.7M133.6 323h.7M150.2 313.6h.7M144.6 323.4h.7M127.2 317.9h.7M149.3 320.7h.7M143 309h.7M129.9 317.2h.7M130.5 315.1h.7M132 317.2h.7M139 320.2h.7M137 316.1h.7M135.4 314.6h.7M122.7 315.1h.7M129.5 313.3h.7M150.3 308.4h.7M150 312h.7M142.5 313.1h.7M138.1 308.2h.7M133.6 324h.7M148.3 317.8h.7M135.6 318.9h.7M153.4 315.3h.7M138.2 321.4h.7M146.5 320.9h.7M146.8 315.3h.7M130.4 318.3h.7M131.2 317.5h.7M133 320h.7M138.5 314.1h.7M128.8 319.9h.7M146.6 321.1h.7M137.8 323.1h.7M141.2 315h.7M140.2 320.4h.7M143.9 307.6h.7M130.1 318.9h.7M143.7 318.4h.7M135.2 316.8h.7M141.6 323.3h.7M137.5 320.3h.7M138.5 320.5h.7M150.3 318.7h.7M135.9 312.6h.7M138.3 311.6h.7M143.6 306.9h.7M130.1 314.8h.7M128.1 316.9h.7M132.6 323h.7M147.8 315h.7M156.6 318.3h.7M134.9 323.5h.7M134.8 319.7h.7M140.9 321.2h.7M140.8 306.6h.7M131.3 320.2h.7" stroke="#b81c20" stroke-width="0.7" opacity="0.6"/>
<path d="M123.20 316.60C123.20 315.10 126.87 313.22 128.80 312.00C130.73 310.78 132.55 309.92 134.80 309.30C137.05 308.68 139.80 308.27 142.30 308.30C144.80 308.33 147.72 308.80 149.80 309.50C151.88 310.20 153.77 311.42 154.80 312.50C155.83 313.58 156.08 314.67 156.00 316.00C155.92 317.33 155.50 319.30 154.30 320.50C153.10 321.70 150.80 322.62 148.80 323.20C146.80 323.78 144.63 324.03 142.30 324.00C139.97 323.97 137.05 323.50 134.80 323.00C132.55 322.50 130.73 322.07 128.80 321.00C126.87 319.93 123.20 318.10 123.20 316.60Z" fill="#b81c20" stroke="#b81c20" stroke-width="1.8"/>
<path d="M123.20 316.60C123.20 315.10 126.87 313.22 128.80 312.00C130.73 310.78 132.55 309.92 134.80 309.30C137.05 308.68 139.80 308.27 142.30 308.30C144.80 308.33 147.72 308.80 149.80 309.50C151.88 310.20 153.77 311.42 154.80 312.50C155.83 313.58 156.08 314.67 156.00 316.00C155.92 317.33 155.50 319.30 154.30 320.50C153.10 321.70 150.80 322.62 148.80 323.20C146.80 323.78 144.63 324.03 142.30 324.00C139.97 323.97 137.05 323.50 134.80 323.00C132.55 322.50 130.73 322.07 128.80 321.00C126.87 319.93 123.20 318.10 123.20 316.60Z" fill="none" stroke="#1f5fae" stroke-width=".7"/>
<path d="M124.35 316.57C124.35 315.55 126.85 314.27 128.16 313.44C129.47 312.61 130.71 312.02 132.24 311.60C133.77 311.18 135.64 310.90 137.34 310.92C139.04 310.95 141.02 311.26 142.44 311.74C143.86 312.22 145.14 313.04 145.84 313.78C146.54 314.52 146.71 315.25 146.66 316.16C146.60 317.07 146.32 318.40 145.50 319.22C144.68 320.04 143.12 320.66 141.76 321.06C140.40 321.45 138.93 321.62 137.34 321.60C135.75 321.58 133.77 321.26 132.24 320.92C130.71 320.58 129.47 320.29 128.16 319.56C126.85 318.83 124.35 317.59 124.35 316.57Z" fill="none" stroke="#fff" stroke-width=".45" opacity=".9"/>
<path d="M124.96 316.55C124.96 315.79 126.83 314.83 127.82 314.20C128.81 313.58 129.73 313.14 130.88 312.83C132.03 312.51 133.43 312.30 134.71 312.32C135.98 312.33 137.47 312.57 138.53 312.93C139.59 313.29 140.55 313.91 141.08 314.46C141.61 315.01 141.73 315.56 141.69 316.25C141.65 316.93 141.44 317.93 140.83 318.54C140.21 319.15 139.04 319.62 138.02 319.92C137.00 320.21 135.90 320.34 134.71 320.32C133.52 320.31 132.03 320.07 130.88 319.81C129.73 319.56 128.81 319.34 127.82 318.80C126.83 318.25 124.96 317.32 124.96 316.55Z" fill="none" stroke="#fff" stroke-width=".45" opacity=".9"/>
<path d="M125.58 316.53C125.58 316.02 126.82 315.38 127.48 314.97C128.14 314.56 128.76 314.26 129.52 314.05C130.28 313.84 131.22 313.70 132.07 313.71C132.92 313.72 133.91 313.88 134.62 314.12C135.33 314.36 135.97 314.77 136.32 315.14C136.67 315.51 136.76 315.88 136.73 316.33C136.70 316.78 136.56 317.45 136.15 317.86C135.74 318.27 134.96 318.58 134.28 318.78C133.60 318.98 132.86 319.06 132.07 319.05C131.28 319.04 130.28 318.88 129.52 318.71C128.76 318.54 128.14 318.39 127.48 318.03C126.82 317.67 125.58 317.04 125.58 316.53Z" fill="none" stroke="#fff" stroke-width=".45" opacity=".9"/>
<path d="M87.4 316.7h.7M81 314.6h.7M82 312.5h.7M88.3 311.8h.7M81.6 319.1h.7M89 320.3h.7M99.2 316.4h.7M93.8 317.6h.7M93.3 317.1h.7M91.2 315.9h.7M84.3 316.7h.7M90.4 319.8h.7M82 321.7h.7M83.2 322.5h.7M84 316.4h.7M88.3 320.3h.7M86.3 316h.7M84.3 317h.7M95.7 315.3h.7M92.4 316.5h.7M94 318.7h.7M87.1 320h.7M87.4 319h.7M84.6 314.1h.7M80.7 310.8h.7M91.5 315h.7M94.2 313.4h.7M85.8 314.8h.7M85.1 320.1h.7M87.9 320.8h.7M86.5 318.4h.7M86.5 322.4h.7M88.7 317.7h.7M83.7 314.1h.7M84.3 318.2h.7M92 318.8h.7M88.5 318.1h.7M85.3 316.3h.7M90.1 314h.7M89.8 313.2h.7M87.8 322h.7M92.8 320h.7M85.3 312.2h.7M93.2 314.6h.7M86 318h.7M98 316.5h.7M84.1 314.1h.7M101.1 317.6h.7M85.3 314.7h.7M84.3 320.1h.7M86.2 317h.7M86.3 312.6h.7M84.4 313.2h.7M94.7 315.5h.7M83.8 314.9h.7M91 311.8h.7M85.3 316.6h.7M98.8 318.2h.7M89.3 312.8h.7M86.8 313.9h.7M95.7 315.4h.7M85.9 313.4h.7M88.7 320.7h.7M91.5 318.4h.7M92.5 318.7h.7M92.3 313.2h.7M88.2 323h.7M88 314.9h.7M86.8 321.1h.7M97.5 315.4h.7M85.7 315.4h.7M87.6 313.3h.7M95 320.1h.7M82.2 317.2h.7M85.3 319.4h.7M84.4 315.4h.7M90.3 322h.7M90.6 316.6h.7M86.9 316h.7M86.4 322h.7M98.3 312.6h.7M82.9 313.3h.7M96.9 315.5h.7M82.6 311.2h.7M84.6 313h.7M95.2 315.6h.7M85.3 312.1h.7M99.6 314.8h.7M84.3 312.6h.7M92.5 316.6h.7M83.2 320.7h.7M83.9 311.9h.7M85.5 315.7h.7M89.3 313.8h.7M86.3 311.1h.7M89.3 314.5h.7M96.8 320.8h.7M84.3 312.1h.7M83.1 312.5h.7M86.9 312.7h.7M85.3 321.5h.7M90 317.4h.7M95.9 315.9h.7M94.1 319.8h.7M84.8 312h.7M86.7 313.1h.7M82 315.9h.7M88 315.8h.7M93.2 315.9h.7M93.2 317.8h.7M92.5 321.2h.7M89.8 318.3h.7M83.8 316.3h.7M98 315.8h.7M86.2 313.6h.7M93 313.5h.7M87.1 310.9h.7M88 311.7h.7M86.6 312h.7M97.4 318.6h.7M87.8 317.4h.7M86.9 312h.7M86.1 319.6h.7M91 316.9h.7M85.7 317.6h.7M88.9 316.2h.7M85.3 314.8h.7M85.6 318h.7M91.8 322.7h.7M93.5 317.7h.7M83.1 315h.7M90.2 312h.7M88.2 313h.7M86.2 315.7h.7M88 314.8h.7M85.5 324.1h.7M93.4 313.1h.7M83.1 313h.7M86.1 318.9h.7M82.6 312.4h.7M100.8 318.1h.7M85.8 309.6h.7M94.4 314.5h.7M92.7 317.4h.7M93.7 313.9h.7M86.1 312.3h.7M86 314.4h.7M90.8 312.8h.7M99.7 313.6h.7M88.7 319.7h.7" stroke="#b81c20" stroke-width="0.7" opacity="0.6"/>
<path d="M82.80 310.80C84.13 309.08 88.47 311.38 90.80 312.00C93.13 312.62 95.03 313.73 96.80 314.50C98.57 315.27 101.40 315.85 101.40 316.60C101.40 317.35 98.57 318.18 96.80 319.00C95.03 319.82 93.13 320.95 90.80 321.50C88.47 322.05 84.13 324.08 82.80 322.30C81.47 320.52 81.47 312.52 82.80 310.80Z" fill="#b81c20" stroke="#b81c20" stroke-width="1.8"/>
<path d="M84.08 312.62C84.99 311.46 87.93 313.02 89.52 313.44C91.11 313.86 92.40 314.62 93.60 315.14C94.80 315.66 96.73 316.06 96.73 316.57C96.73 317.08 94.80 317.64 93.60 318.20C92.40 318.76 91.11 319.53 89.52 319.90C87.93 320.27 84.99 321.66 84.08 320.44C83.17 319.23 83.17 313.79 84.08 312.62Z" fill="none" stroke="#fff" stroke-width=".45" opacity=".9"/>
<path d="M84.76 313.59C85.44 312.72 87.65 313.89 88.84 314.20C90.03 314.52 91.00 315.09 91.90 315.48C92.80 315.87 94.25 316.17 94.25 316.55C94.25 316.93 92.80 317.36 91.90 317.77C91.00 318.19 90.03 318.77 88.84 319.05C87.65 319.33 85.44 320.37 84.76 319.46C84.08 318.55 84.08 314.47 84.76 313.59Z" fill="none" stroke="#fff" stroke-width=".45" opacity=".9"/>
<path d="M85.44 314.56C85.89 313.98 87.37 314.76 88.16 314.97C88.95 315.18 89.60 315.56 90.20 315.82C90.80 316.08 91.76 316.28 91.76 316.53C91.76 316.79 90.80 317.07 90.20 317.35C89.60 317.63 88.95 318.01 88.16 318.20C87.37 318.39 85.89 319.08 85.44 318.47C84.99 317.87 84.99 315.15 85.44 314.56Z" fill="none" stroke="#fff" stroke-width=".45" opacity=".9"/>
</g>
<path d="M80.4 228.4h2.6M81.4 241.5h1.6M81.4 238.2h1.6M81.4 235.8h1.6M81.4 234.0h1.6M81.4 232.5h1.6M81.4 231.3h1.6M81.4 230.2h1.6M81.4 229.3h1.6M80.4 247.1h2.6M81.4 260.8h1.6M81.4 257.3h1.6M81.4 254.9h1.6M81.4 253.0h1.6M81.4 251.4h1.6M81.4 250.1h1.6M81.4 249.0h1.6M81.4 248.0h1.6M80.4 266.7h2.6M81.4 280.6h1.6M81.4 277.1h1.6M81.4 274.6h1.6M81.4 272.7h1.6M81.4 271.1h1.6M81.4 269.8h1.6M81.4 268.6h1.6M81.4 267.6h1.6M80.4 286.6h2.6M81.2 293.8h1.8M81.2 299.3h1.8M81.2 304.3h1.8M81.2 308.8h1.8M81.2 312.3h1.8M81.2 315.0h1.8M81.2 318.3h1.8M81.2 321.3h1.8M87.0 325.6v1.8M91.0 325.6v1.8M94.0 325.6v1.8M97.5 325.6v1.8M101.0 325.6v1.8M104.0 325.6v1.8M108.0 325.6v1.8M112.0 325.6v1.8M116.0 325.6v1.8M132.7 325.6v2.4M119.8 325.6v1.6M122.9 325.6v1.6M125.3 325.6v1.6M127.2 325.6v1.6M128.9 325.6v1.6M130.3 325.6v1.6M131.6 325.6v1.6M157.4 325.6v2.4M140.1 325.6v1.6M144.5 325.6v1.6M147.6 325.6v1.6M150.0 325.6v1.6M151.9 325.6v1.6M153.6 325.6v1.6M155.0 325.6v1.6M156.3 325.6v1.6M182.0 325.6v2.4M164.8 325.6v1.6M169.1 325.6v1.6M172.2 325.6v1.6M174.6 325.6v1.6M176.5 325.6v1.6M178.2 325.6v1.6M179.6 325.6v1.6M119.8 325.6v1.6M122.9 325.6v1.6M125.3 325.6v1.6M127.2 325.6v1.6M128.9 325.6v1.6M130.3 325.6v1.6M131.6 325.6v1.6" stroke="#000" stroke-width="1.1" fill="none"/>
<rect x="83.9" y="228.2" width="96.9" height="96.5" fill="none" stroke="#000" stroke-width="1.8"/>
<text x="69.3" y="234.4" font-size="11" text-anchor="end" fill="#000" >10</text>
<text x="70.5" y="226.7" font-size="7.8" text-anchor="start" fill="#000" >6</text>
<text x="69.3" y="254.3" font-size="11" text-anchor="end" fill="#000" >10</text>
<text x="70.5" y="246.6" font-size="7.8" text-anchor="start" fill="#000" >5</text>
<text x="69.3" y="272.9" font-size="11" text-anchor="end" fill="#000" >10</text>
<text x="70.5" y="265.2" font-size="7.8" text-anchor="start" fill="#000" >4</text>
<text x="69.3" y="293.5" font-size="11" text-anchor="end" fill="#000" >10</text>
<text x="70.5" y="285.8" font-size="7.8" text-anchor="start" fill="#000" >3</text>
<text x="70.2" y="320.2" font-size="11" text-anchor="end" fill="#000" >0</text>
<text x="45.0" y="275.8" font-size="12.2" text-anchor="middle" transform="rotate(-90 45.0 275.8)" dy="4.3">anti-Strep-PE</text>
<text x="97.8" y="347.4" font-size="11" text-anchor="middle" fill="#000" >0</text>
<text x="123.2" y="347.4" font-size="11" text-anchor="start" fill="#000" >10</text>
<text x="135.5" y="338.6" font-size="11.5" text-anchor="start" fill="#000" >3</text>
<text x="147.5" y="347.4" font-size="11" text-anchor="start" fill="#000" >10</text>
<text x="160.0" y="338.6" font-size="11.5" text-anchor="start" fill="#000" >4</text>
<text x="174.8" y="347.4" font-size="11" text-anchor="start" fill="#000" >10</text>
<text x="186.6" y="338.6" font-size="11.5" text-anchor="start" fill="#000" >5</text>
<text x="134.3" y="360.9" font-size="12.2" text-anchor="middle" fill="#000" >anti-myc-FITC</text>
<clipPath id="c5"><rect x="200.8" y="229.0" width="95.1" height="94.8"/></clipPath>
<g clip-path="url(#c5)">
<path d="M247.6 315h.6M238.9 285.9h.6M259.1 283.4h.6M217.3 275.5h.6M237.5 304.1h.6M259.8 299h.6M230.8 277.7h.6M206.7 280.7h.6M215.9 308.6h.6M253.1 283.9h.6M211.2 315.6h.6M223.3 311.3h.6M232.5 291.3h.6M229.6 275.8h.6M238.1 314.4h.6M230.7 281.9h.6M208.7 297.9h.6M240.4 311.4h.6M224.1 305.6h.6M245.4 283.4h.6M208.1 280.4h.6M230.3 293.1h.6M215.5 300.6h.6M211.3 311.5h.6M218.5 314.7h.6M258.7 313.9h.6M244.5 285.2h.6M229.6 277.3h.6M209 291.6h.6M253.9 301.9h.6M231.2 291h.6M231.3 299.4h.6M241.8 308.5h.6M210.5 284.6h.6M210.5 292h.6M223.7 282.7h.6M217.9 283.4h.6M250.7 286.8h.6M210.6 287.7h.6M217.9 303.3h.6M216.1 307.7h.6M237.1 299.9h.6M235.6 297.8h.6M260.4 287.3h.6M240.8 316.9h.6M237.6 309.7h.6M242.9 311.3h.6M209 292.3h.6M248.2 294.8h.6M252.9 282.7h.6M249.9 287.8h.6M236.7 285.4h.6M219.6 307.5h.6M254.5 282.7h.6M226.1 318.5h.6M237.1 299.8h.6M230.2 302.3h.6M230 317.4h.6M216.7 317.9h.6M216.1 314.8h.6M254.2 313.8h.6M258.6 276.2h.6M215.3 317.4h.6M206 312.2h.6M254 285h.6M248.1 301h.6M236.2 290.4h.6M226 295.4h.6M260.7 300.7h.6M222.1 299.6h.6M248 299.7h.6M209.9 307.1h.6M251 275.8h.6M210.2 276.7h.6M243 285.1h.6" stroke="#b81c20" stroke-width="0.6" opacity="0.5"/>
<path d="M259.2 302.6h.6M229.6 324.5h.6M221.3 312.8h.6M240.7 315.3h.6M251 311.4h.6M209.5 319.8h.6M227.9 314.6h.6M255.8 302.2h.6M213.6 295.4h.6M211.6 305.2h.6M206.5 300h.6M243.6 309.6h.6M227 315.3h.6M242.2 297.1h.6M253.7 311.4h.6M227 298.9h.6M228 293.7h.6M254.1 304.3h.6M251.5 305.5h.6M259.9 310.2h.6M253.1 310h.6M234.9 289.8h.6M251 323.3h.6M214.8 292h.6M227.5 323.5h.6M228.1 312.1h.6M234.6 293.4h.6M241.8 306.1h.6M232.6 298h.6M244.7 289.1h.6M230 311.7h.6M247.2 296.5h.6M207.6 311.5h.6M238.9 318h.6M239.4 313.1h.6M251.3 301.1h.6M214.8 324.7h.6M209.7 294.3h.6M224.7 299.9h.6M243 304.6h.6M241.2 324.3h.6M214.6 303.9h.6M232.5 315.5h.6M228.7 296h.6M225.4 299.1h.6M225 303.9h.6M225.4 322.5h.6M225.7 322.7h.6M219.5 296.4h.6M232.3 302.4h.6M241.1 298.6h.6M232.9 312.6h.6M252.9 315.3h.6M242 313.8h.6M214.4 320.1h.6M247.5 295.9h.6M259.5 307.1h.6M232.4 290.2h.6M245.5 309.2h.6M222.2 292.7h.6M245.6 296h.6M207.2 320.4h.6M212.1 324.4h.6M227.5 296.8h.6M242 301.6h.6M226.1 322.7h.6M253.3 318.3h.6M231 311.2h.6M256.9 304.9h.6M248.4 302.7h.6M250 304.6h.6M208.7 324.5h.6M219.2 316h.6M222.1 312.4h.6M219.4 293.2h.6M215.5 291.5h.6M257.7 313.1h.6M250.2 295.3h.6M206.8 289.4h.6M227 297.9h.6M236.8 323.5h.6M229.5 320.3h.6M236.6 289.9h.6M253.5 303.7h.6M212.5 314.3h.6M237.9 294.9h.6M232.4 311.8h.6M239.6 313.4h.6M209.4 295.3h.6M226.3 296.6h.6M222.2 313.1h.6M250.9 316.3h.6M247.4 313.1h.6M223 292.2h.6M213.5 300.8h.6M213.8 311.4h.6M215.8 313.8h.6M247.4 308.4h.6M212.8 322.3h.6M255.6 291.8h.6M256.8 300.9h.6M209.2 292.7h.6M245.6 315.6h.6M249.4 311.8h.6M215.3 324.2h.6M250.6 295.6h.6M238.7 318.2h.6M217 319.3h.6M240.1 292.2h.6M248.7 297.9h.6M223.4 306.6h.6M250.9 292.8h.6M209.8 296.6h.6M245.6 296.2h.6M241.9 296h.6M230.3 290.2h.6M226.2 314.5h.6M255.6 320.1h.6M251.5 305.1h.6M225.7 312.1h.6M235.4 297.1h.6M251.5 300.2h.6M212.2 301h.6M236.6 308.6h.6M239.3 304.7h.6M220.5 310.1h.6M238.8 291.5h.6M259.7 296.3h.6M257 308.7h.6M221.8 309.6h.6M229.6 307h.6M227.3 292.3h.6M209.2 299.5h.6M222.2 294.5h.6M254.1 313h.6M223.2 315.9h.6M212.8 308.1h.6M237.6 305.4h.6M235.2 324.6h.6M251.3 306.9h.6M216.7 304h.6M241.9 298.3h.6M233 293.7h.6M256 306.9h.6M230.3 307.8h.6M222.2 297.2h.6M215.7 301.6h.6M222.1 314h.6M217.6 301.5h.6M236.7 303.1h.6" stroke="#1f5fae" stroke-width="0.6" opacity="0.5"/>
<path d="M239.1 320.1h.6M250.1 290.8h.6M227.9 318.3h.6M216.3 295.1h.6M228.9 297.7h.6M218.8 309.2h.6M221.3 312.1h.6M249 312.5h.6M254.6 314.4h.6M219.8 299.2h.6M260.2 304.2h.6M236.7 290.4h.6M235.4 299.4h.6M255.1 322.2h.6M216.9 290h.6M247.3 289.5h.6M223.2 300.4h.6M215.4 295.1h.6M236.4 305.4h.6M211.6 291.2h.6M237.6 318.6h.6M252.2 309.4h.6M229.4 314h.6M221.4 315.5h.6M237.7 306.7h.6M250.4 305.7h.6M225.9 304.4h.6M221.9 318.5h.6M235.4 317h.6M255.6 319.5h.6M236.9 290.7h.6M241.4 298.7h.6M254.3 322.8h.6M219 307.5h.6M256 301.7h.6M242.1 290.4h.6M216.7 299.1h.6M245.7 309.6h.6M227 314.6h.6M258.8 300.3h.6M229.8 308.4h.6M222.2 324.6h.6M228.9 301.4h.6M236.1 295.9h.6M214.7 323.9h.6M216.6 308.4h.6M253.2 313.3h.6M252.1 314.3h.6M219.4 322.3h.6M253.5 290.2h.6M224.2 319.9h.6M233.3 324.5h.6M254.1 315.1h.6M240.8 299.1h.6M238.7 320.5h.6M236.1 318.4h.6M239.6 318.1h.6M220.8 305.8h.6M244.5 321.6h.6M218.9 321.4h.6M241.3 319.7h.6M229.1 315h.6M253.7 314.3h.6M260 293.6h.6M252.4 316.9h.6M245.2 292.1h.6M211.5 312.9h.6M257 291.1h.6M253 309.3h.6M211.9 321.5h.6M260.8 307.9h.6M242.2 290.3h.6M218.8 295.1h.6M223.4 311h.6M259.7 310.4h.6M244.4 294.1h.6M255.6 289h.6M259 290.7h.6M258 323h.6M258.4 298.7h.6M226.7 303.3h.6M240.8 295.7h.6M219.1 306.1h.6M217.7 320.6h.6M231.8 297.5h.6M256.5 304.7h.6M221.8 308.8h.6M221.2 306.7h.6M233.9 307.2h.6M238.8 297.7h.6M224.1 303.6h.6M255.2 293.7h.6M247.4 300.3h.6M212.6 302.7h.6M252.8 295.4h.6M242.6 321h.6M215.8 314.6h.6M227.6 305.7h.6M245.4 289.8h.6M253.8 320.4h.6M216.3 312.9h.6M223.9 317.8h.6M234 298h.6M256.6 314.5h.6M223.3 320h.6M227.2 291.1h.6M230.3 301.2h.6M245.9 306.5h.6M232.4 311.1h.6M215.8 307.9h.6M231.2 303.6h.6M225 289.5h.6M249.9 309.9h.6M243.2 290.4h.6M257.3 303.6h.6M229.5 300.5h.6M213.3 297.1h.6M234.3 290.1h.6M236.6 291.1h.6M220 304.7h.6M215.6 313.7h.6M219.9 290.6h.6M226.1 307.1h.6M250.4 299.4h.6M243.6 321h.6" stroke="#4cab36" stroke-width="0.6" opacity="0.5"/>
<path d="M239.8 309h.6M233.5 311.7h.6M228.9 317.9h.6M220.1 321.9h.6M219.9 317.5h.6M219.1 304h.6M223.1 306h.6M227.4 300h.6M219.3 315.5h.6M238.8 308.5h.6M228.3 306.4h.6M222.8 313.5h.6M230.9 307.1h.6M225.4 305.9h.6M239.9 309h.6M217.8 315.2h.6M216.6 312.7h.6M237.8 324.7h.6M222.4 313.5h.6M229.7 316.9h.6M232.1 301.8h.6M236.5 324.3h.6M220 320.2h.6M220.7 310.9h.6M233.5 315.4h.6M222.7 303.3h.6M237.8 321.3h.6M232.8 307.2h.6M225.3 299.6h.6M244 311.1h.6M230.7 323.6h.6M211.7 313.6h.6M216.4 314.3h.6M218.8 303.6h.6M219 305.2h.6M243.3 319.5h.6M218.8 313.8h.6M223.6 321.6h.6M225.4 300.9h.6M239 308.1h.6M237 302.7h.6M213.7 303h.6M219.7 301.1h.6M213.2 312.1h.6M221.1 322.9h.6M223 319.9h.6M221.1 323.8h.6M214.3 306.1h.6M241.5 320.8h.6M233.3 311.7h.6M226.4 308.8h.6M218.1 309.3h.6M211.6 312.6h.6M227.4 317h.6M218.1 310.7h.6M215.2 306.6h.6M215.6 301.2h.6M216.9 303.9h.6M227.1 317.8h.6M233.1 310.5h.6M221.3 317.9h.6M233.9 299.5h.6M232.5 304h.6M227.1 307.3h.6M223.4 310.8h.6M235.9 305.4h.6M217.3 321.4h.6M240.2 315h.6M233.1 310h.6M228.9 323.3h.6M240.7 319.7h.6M232.4 299.9h.6M236.5 303.1h.6M228.9 315.1h.6M229 311.9h.6M212.9 310.2h.6M214.7 314.5h.6M229 321.1h.6M227.8 316.1h.6M242.9 324.9h.6M222.9 304.6h.6M241.7 317.8h.6M233.8 311.8h.6M228 318.8h.6M245.5 309.4h.6M235.9 311.3h.6M223.3 305h.6M243.5 312.1h.6M222.5 318.4h.6M237.1 316.6h.6M211.8 314.2h.6M213.9 308.4h.6M232.7 306.9h.6M226.8 314.9h.6M244.4 317.1h.6M213.5 320.1h.6M227.9 304.3h.6M216.7 317.6h.6M244.9 317.4h.6M222.4 300.2h.6M212.8 309.7h.6M220.8 320.5h.6M237.1 308.5h.6M233.7 315h.6M219.3 318h.6M228.7 316.7h.6M235.3 306.4h.6M236 307.3h.6M242.3 324.1h.6M211 321.7h.6M221.6 300.1h.6M217.3 318.6h.6M237.9 312.6h.6M227.1 320.7h.6M217.1 315.9h.6M230.4 305.6h.6M216.1 299.2h.6M240.8 304.4h.6M224.4 321.6h.6M215 312.1h.6M211.5 309.8h.6M227.1 315.3h.6M236 312.3h.6M224.3 299.8h.6M220.1 319.5h.6M231.1 307.5h.6M215.6 310.5h.6M220.6 320.5h.6M244.2 317.8h.6M226.1 317.1h.6M241.9 321.2h.6M242.9 322.4h.6M214.6 323.7h.6M217 299.1h.6M215.2 314.4h.6M223 305.4h.6M211.4 310.2h.6M242.6 316.1h.6M223.4 320h.6M212.3 309.4h.6M237.1 316.1h.6M213.4 307.1h.6M224.1 309.1h.6M228.8 319.7h.6M223.2 318.3h.6M220.6 321.9h.6M235.2 312.9h.6M212.3 299.8h.6M223.5 299.1h.6M223.5 315.8h.6M235.2 317.9h.6M215.3 311.7h.6M244.6 306.7h.6M243.4 323.4h.6M233.4 314.6h.6M212.8 308.1h.6M245.6 323.8h.6M212.8 318.4h.6M232.5 307.6h.6M233.8 302.5h.6M245.6 312.9h.6M237.1 303.3h.6M225.3 304.2h.6M232.2 299.4h.6M235.8 300h.6M222 304.4h.6M236.3 311.8h.6M223.8 323.9h.6M226.5 303.9h.6M229.3 319.7h.6M216.2 309.6h.6M222.2 313.5h.6M218.4 323.4h.6M222.7 303.7h.6M218.8 323.8h.6" stroke="#1f5fae" stroke-width="0.6" opacity="0.5"/>
<path d="M238.5 309.5h.6M218.6 311.9h.6M223.6 308.7h.6M243.5 307.7h.6M223.4 321.1h.6M245.5 306.6h.6M226.6 302.4h.6M243.7 310.6h.6M228.6 322.7h.6M239.3 306.3h.6M221.2 318h.6M246 320.7h.6M223.8 301.4h.6M237 321.3h.6M218.3 309.2h.6M231.9 307.3h.6M217.7 323.2h.6M224.2 318.3h.6M231.1 318.9h.6M236.2 313.7h.6M221.9 304.1h.6M226.6 318.2h.6M248.9 315.1h.6M230 304.8h.6M246.3 308h.6M218 309h.6M246.3 322.9h.6M250.3 321.1h.6M225.4 308.1h.6M218.6 305.2h.6M232.2 314.8h.6M222 308.6h.6M234.3 312.8h.6M245.2 314.9h.6M240.8 309.2h.6M241.9 309.6h.6M242.6 302.4h.6M219.1 317.3h.6M220.8 309.9h.6M241.7 322.1h.6M227.6 324.1h.6M239 302.9h.6M227.1 321.4h.6M233 304.1h.6M222.3 305.7h.6M229.6 318.1h.6M241.9 325h.6M242.7 315.6h.6M216.6 324.7h.6M220.6 310.3h.6M223.4 309.2h.6M247.6 312.1h.6M245 313.5h.6M223.3 309.7h.6M244.4 313.6h.6M248.3 311.3h.6M233.5 313.5h.6M249.5 318.5h.6M227.3 321.3h.6M240.8 306.8h.6M240.9 316.7h.6M227.3 304.2h.6M229.2 309.3h.6M219 312.5h.6M223.2 319.6h.6M223.4 305.4h.6M242.3 311.9h.6M220.8 320.2h.6M218.5 319.6h.6M236 315h.6M220.3 309.6h.6M250.5 312.9h.6M223.9 321.2h.6M245.4 321.2h.6M217.5 319.4h.6M227.9 314.5h.6M218.6 321.9h.6M230.2 306h.6M246.5 319.9h.6M249.8 306.2h.6M221.1 302.9h.6M228.5 301.6h.6M223.9 319h.6M234.3 307.3h.6M220.8 311.6h.6M220.6 311.1h.6M229.4 318.7h.6M219.1 318.5h.6M234.7 312.2h.6M249.2 309.5h.6M216.1 311h.6M233 324.7h.6M235.8 308.5h.6M238.8 305.4h.6M222.7 314.9h.6M221.1 321.2h.6M219.2 315.6h.6M244.9 301.3h.6M217.6 314.6h.6M247.1 303.1h.6M235.2 306.5h.6M221 317.3h.6M242.2 315.3h.6M228.6 309.1h.6M230.7 316.4h.6M241 317h.6M249.8 319.5h.6M226.2 314.3h.6M248.9 322.5h.6M230.5 323.3h.6M220.8 320.1h.6M223.2 312.8h.6M229.6 308.9h.6M223.4 303.8h.6M229.6 305.3h.6M243.5 301.5h.6M226.3 309.4h.6M221.5 306h.6M239.8 303h.6M241.6 312.9h.6M249.1 323.6h.6M225.3 321.2h.6M228.1 322h.6M224.2 314.5h.6M221.5 322.4h.6M245.2 314.2h.6M247.2 301.2h.6M232.8 303h.6M233.3 308.4h.6M220.7 318.6h.6M237.1 306h.6M221.5 301.5h.6M242.7 303.9h.6M246 315h.6M243 310.9h.6M243.5 310.8h.6M243.7 321.8h.6M222.9 306.5h.6M244.4 301.5h.6M225.2 320.6h.6M220.7 314.4h.6M233.7 305.2h.6M224.7 317.5h.6M248.6 301.6h.6M248.8 305.3h.6M227.3 304.8h.6M245.1 312.4h.6M221 321.6h.6M229.4 315.8h.6M247.7 315.9h.6" stroke="#4cab36" stroke-width="0.6" opacity="0.5"/>
<path d="M222.9 294.2h.7M230.5 291.7h.7M225.4 292h.7M231.6 293.8h.7M229.1 292.9h.7M228.8 293.1h.7M232.1 296.1h.7M233.6 298.6h.7M229.4 295h.7M230.8 290.6h.7M232.4 293.7h.7M225.8 296.4h.7M233.4 294.6h.7M225.7 296.3h.7M223.4 295.8h.7M234.6 288.5h.7M229.3 298.5h.7M230.9 293.3h.7M232.7 283.8h.7M235.3 296.3h.7M229.4 298.6h.7M228.5 295.9h.7M232.5 293h.7M222.7 298.6h.7M231.8 294.4h.7M225.7 298.5h.7M229.5 297.4h.7M223.3 298h.7M230.3 292.3h.7M230 294.2h.7M229 293.1h.7M225 295.6h.7M223.9 299.6h.7M230.5 295.6h.7M235.2 289.4h.7M230 300.8h.7M237.6 292.4h.7M234.1 289.8h.7M234.1 294.1h.7M233.5 296.5h.7M223.5 296.5h.7M227 297.1h.7M231.7 292.3h.7M229.3 294.9h.7M223.2 297.4h.7M231.7 292.2h.7M226.3 299.6h.7M220.3 303.1h.7" stroke="#b81c20" stroke-width="0.7" opacity="0.6"/>
<path d="M262.4 274.7h.7M265.2 269h.7M266.7 267.6h.7M241.1 290.3h.7M239.9 291.7h.7M264.9 273.3h.7M262.5 269.8h.7M254.4 276.9h.7M264.1 273.5h.7M241.1 291.6h.7M249.2 281.8h.7M268.7 263.6h.7M259.8 271.1h.7M258.7 272.3h.7M272.7 266.3h.7M270.9 264.4h.7M267 264.9h.7M243.5 279.1h.7M244.4 283.7h.7M267.2 263.9h.7M242.6 284.9h.7M268.2 272.2h.7M243 281.5h.7M256.5 277.4h.7M241.8 286.7h.7M258.7 272.4h.7M268.3 268.2h.7M238.5 288.2h.7M251.3 281.7h.7M263.8 270.5h.7M268.7 265.8h.7M260.9 273.4h.7M245.1 285.3h.7M255 281.1h.7M262.2 267.7h.7M253.1 279.3h.7M253.9 280.8h.7M273.8 264.7h.7M276.1 260.6h.7M253.8 275.5h.7M271.6 263.3h.7M243.9 283.8h.7M269.8 269.2h.7M254 280h.7M260.3 271.5h.7M239.6 290.8h.7M247.1 289.4h.7M256.7 273h.7M264.6 270.2h.7M265.4 270.9h.7M254.1 274.2h.7M251.6 279h.7M244.3 287h.7M240.7 292.9h.7M249.2 278.2h.7M245.9 281.1h.7M254.5 275.9h.7M262 266.4h.7M271 260.5h.7M276.1 260.6h.7M269.4 267h.7M261.3 271h.7M260 273.5h.7M257.5 280h.7M262.7 272.2h.7M264.6 270.1h.7M261.6 271.3h.7M256.8 273.2h.7M262.8 273.5h.7M265.9 264.5h.7M242.1 288h.7M260.8 277.3h.7M251.5 277.7h.7M264.4 271.3h.7M270.6 260.7h.7M263.4 274.5h.7M260.6 272.4h.7M242.6 282.4h.7M272.3 264.8h.7M259.7 270.7h.7M249.7 283h.7M254.5 280.7h.7M254.8 271.7h.7M238.1 285.5h.7M241.9 282.3h.7M266.2 271.6h.7M270 263.1h.7M234.4 290.7h.7M266.9 268.7h.7M258.5 271.7h.7M263.1 269.7h.7M250.8 283.3h.7M256.3 280.8h.7M258.5 272.6h.7M248.7 287h.7M250.6 281.8h.7M272.4 262.5h.7M265.2 266.8h.7M243.4 291.3h.7M246.2 279.8h.7M255.7 275.3h.7M256.5 277h.7M257.5 280h.7M248.5 280.1h.7M266.6 272h.7M258.3 277.6h.7M268.8 264.7h.7M260.2 275.7h.7M252.4 284.4h.7M255.8 276.4h.7M256.9 278.1h.7M236.3 290.2h.7M262.4 267.1h.7M257.6 275.2h.7M269.7 266.1h.7M243.8 286.5h.7M273 260.9h.7M249.2 283.6h.7M263.1 272.3h.7M255.8 274.1h.7M238.1 287.7h.7M271.3 265h.7M251.7 276h.7M240.1 286h.7M267.6 266.2h.7M256 282.7h.7M264.9 272h.7M249.5 277.8h.7M242 285.6h.7M244.9 285.9h.7M249.2 282.3h.7M254.7 273.4h.7M244.7 285.8h.7M246.5 281.3h.7M262.9 275.3h.7M251 274.7h.7M274.6 265h.7M264.3 268.9h.7M261.8 264.2h.7M251.2 283.2h.7M268.4 272.6h.7M238.1 286.9h.7M256.9 276.3h.7M270.7 264.2h.7M270.8 266.7h.7M273.8 264h.7M249.9 285.3h.7M238.9 286h.7M256.9 273.2h.7M248.3 281.6h.7M248.4 290.2h.7M262.6 268.1h.7M253.9 273.1h.7M274.3 265.9h.7M261.1 276.5h.7M242 286h.7M250.9 282.5h.7M257.9 276.2h.7M266.4 269.1h.7M255.7 280.6h.7M262.7 275.7h.7M250.8 285.2h.7M238.7 290.6h.7M265.3 266.8h.7M253.3 280h.7M241.6 284.5h.7M249.3 275.8h.7M267.1 266h.7M266.3 266.2h.7M243 280.6h.7M256.1 269.9h.7M275.5 261.6h.7M271 262.8h.7M243.4 287.5h.7M272.1 266.1h.7M256.4 272.7h.7M248.4 283.1h.7M249.7 283.4h.7M261.5 269.8h.7M257 279.1h.7M254.4 275h.7M247 282.5h.7M245.8 285.5h.7M266.5 274.3h.7M239.4 293h.7M249 279.8h.7M257.1 277.7h.7M253 272.7h.7M270.2 268.3h.7M254 273.7h.7M247.5 280.9h.7M263.9 270.7h.7M270.8 265.3h.7M264.9 263.1h.7M244 286.6h.7M265.3 268.7h.7M241 287.3h.7M246.8 283.6h.7M244.3 283.7h.7M267.6 270.7h.7M254.7 277.5h.7M266.5 262.7h.7M236.1 286.6h.7M262.8 274.4h.7M269.3 266.4h.7M260.6 269.7h.7M239.6 287.9h.7M272.4 262.4h.7M263.8 267.4h.7M254.7 280.9h.7M239.8 289.1h.7M260.3 271.7h.7M249.3 281.9h.7M265.1 269.1h.7M249.2 278.5h.7M264.3 268.1h.7M259.5 271.1h.7M249.3 287.1h.7M269.1 268.1h.7M257.4 279.9h.7M271.8 263.6h.7M244.3 283.1h.7M245.5 280.8h.7M264.9 272.9h.7M269.5 266.8h.7M260.1 276.1h.7M259 277.2h.7M239 286.8h.7M257 270.6h.7M264.4 267.3h.7M261.6 271.8h.7M243.9 287.3h.7M268.7 268.8h.7M239.5 291.4h.7M239.5 287.1h.7M262.6 279.2h.7M262.1 270.7h.7M243.9 288.2h.7M242.9 284.5h.7M237.6 283.8h.7M254.8 277h.7M272.8 263.6h.7M252.8 280.2h.7M261.8 268.2h.7M254 279.8h.7M275.6 266.1h.7M268.6 271.2h.7M264.7 272.4h.7M238.2 287.9h.7M254.6 279.7h.7" stroke="#b81c20" stroke-width="0.7" opacity="0.6"/>
<path d="M235.30 290.40C235.50 289.22 238.05 287.12 240.40 285.20C242.75 283.28 246.63 281.45 249.40 278.90C252.17 276.35 254.02 272.47 257.00 269.90C259.98 267.33 264.32 265.10 267.30 263.50C270.28 261.90 273.32 260.72 274.90 260.30C276.48 259.88 276.58 260.35 276.80 261.00C277.02 261.65 277.37 262.72 276.20 264.20C275.03 265.68 272.35 267.88 269.80 269.90C267.25 271.92 263.67 274.17 260.90 276.30C258.13 278.43 255.77 280.57 253.20 282.70C250.63 284.83 247.83 287.50 245.50 289.10C243.17 290.70 240.90 292.08 239.20 292.30C237.50 292.52 235.10 291.58 235.30 290.40Z" fill="#b81c20" stroke="#b81c20" stroke-width="1.8"/>
<path d="M236.42 290.11C236.56 289.31 238.29 287.88 239.89 286.58C241.49 285.27 244.13 284.03 246.01 282.29C247.89 280.56 249.15 277.92 251.18 276.17C253.20 274.43 256.15 272.91 258.18 271.82C260.21 270.73 262.27 269.93 263.35 269.64C264.42 269.36 264.49 269.68 264.64 270.12C264.79 270.56 265.03 271.29 264.23 272.30C263.44 273.30 261.61 274.80 259.88 276.17C258.15 277.54 255.71 279.07 253.83 280.52C251.95 281.97 250.34 283.43 248.59 284.88C246.85 286.33 244.94 288.14 243.36 289.23C241.77 290.32 240.23 291.26 239.07 291.40C237.92 291.55 236.28 290.92 236.42 290.11Z" fill="none" stroke="#fff" stroke-width=".45" opacity=".9"/>
<path d="M237.02 289.96C237.12 289.36 238.42 288.28 239.62 287.31C240.81 286.33 242.80 285.39 244.21 284.09C245.62 282.79 246.56 280.81 248.08 279.50C249.60 278.19 251.81 277.06 253.34 276.24C254.86 275.42 256.40 274.82 257.21 274.61C258.02 274.40 258.07 274.63 258.18 274.96C258.29 275.30 258.47 275.84 257.87 276.60C257.28 277.35 255.91 278.48 254.61 279.50C253.31 280.53 251.48 281.68 250.07 282.77C248.66 283.86 247.45 284.94 246.14 286.03C244.84 287.12 243.41 288.48 242.22 289.30C241.03 290.11 239.87 290.82 239.00 290.93C238.14 291.04 236.91 290.56 237.02 289.96Z" fill="none" stroke="#fff" stroke-width=".45" opacity=".9"/>
<path d="M237.61 289.81C237.68 289.40 238.55 288.69 239.34 288.04C240.14 287.39 241.46 286.76 242.40 285.90C243.34 285.03 243.97 283.71 244.99 282.84C246.00 281.96 247.48 281.20 248.49 280.66C249.50 280.12 250.54 279.71 251.07 279.57C251.61 279.43 251.65 279.59 251.72 279.81C251.79 280.03 251.91 280.39 251.52 280.90C251.12 281.40 250.21 282.15 249.34 282.84C248.47 283.52 247.25 284.29 246.31 285.01C245.37 285.74 244.57 286.46 243.70 287.19C242.82 287.91 241.87 288.82 241.08 289.36C240.28 289.91 239.51 290.38 238.94 290.45C238.36 290.53 237.54 290.21 237.61 289.81Z" fill="none" stroke="#fff" stroke-width=".45" opacity=".9"/>
<path d="M238.21 289.65C238.24 289.45 238.67 289.09 239.07 288.77C239.47 288.44 240.13 288.13 240.60 287.70C241.07 287.26 241.39 286.60 241.89 286.17C242.40 285.73 243.14 285.35 243.65 285.08C244.15 284.81 244.67 284.61 244.94 284.54C245.21 284.47 245.22 284.54 245.26 284.65C245.30 284.77 245.36 284.95 245.16 285.20C244.96 285.45 244.50 285.83 244.07 286.17C243.64 286.51 243.03 286.89 242.56 287.26C242.09 287.62 241.68 287.98 241.25 288.34C240.81 288.71 240.34 289.16 239.94 289.43C239.54 289.70 239.16 289.94 238.87 289.98C238.58 290.01 238.17 289.85 238.21 289.65Z" fill="none" stroke="#fff" stroke-width=".45" opacity=".9"/>
<path d="M258.4 316.1h.7M253.2 310.7h.7M275 288.4h.7M269.3 291.4h.7M259.6 317h.7M267.6 298.6h.7M271.4 296h.7M268.9 293h.7M264.5 296.7h.7M275.3 285.7h.7M265.4 303.3h.7M259 307.8h.7M257.8 310.1h.7M271.6 292h.7M274.3 284.5h.7M273.7 284h.7M265.5 289.3h.7M268.9 293.2h.7M263.5 299.7h.7M264.4 305.1h.7M255.7 317h.7M256.6 310.6h.7M273.6 290.9h.7M263.6 305.6h.7M271.1 295.9h.7M261.7 300.6h.7M273.6 292.1h.7M276.8 284.4h.7M254 312.6h.7M275.4 287.2h.7M259.6 301.8h.7M265.5 294.7h.7M259.8 301.9h.7M255 310.2h.7M258.7 308.2h.7M270.8 297.9h.7M266.9 295.9h.7M260.7 300.5h.7M264.1 295.5h.7M262.8 303.1h.7M255.7 309.4h.7M267 302.7h.7M265.7 304h.7M260 305.7h.7M271.9 290.1h.7M264 302.6h.7M269.2 290.6h.7M266.6 298.4h.7M261.8 310.1h.7M264.8 304.2h.7M257.9 310.5h.7M274.2 283.7h.7M257.9 311.1h.7M256.2 313.3h.7M268 293.9h.7M265.4 299.4h.7M271.4 293.3h.7M265.2 305.2h.7M259.5 303.5h.7M252 318.2h.7M257.3 302.3h.7M267.1 300.1h.7M265.6 307.7h.7M265.3 290.6h.7M265.4 301.5h.7M255.7 312.2h.7M257.5 311.6h.7M270.4 291.3h.7M252.3 311.8h.7M253.6 307.9h.7M263.1 296.8h.7M254.2 310.8h.7M266.3 295.5h.7M260.6 307.2h.7M266.6 295h.7M277.5 287.7h.7M271.8 284.2h.7M271.4 292.7h.7M274.7 284h.7M264.7 297.5h.7M266.2 292.3h.7M267.9 292.9h.7M261.2 302.7h.7M258.4 308.3h.7M273.9 283.8h.7M256.7 315.3h.7M262.9 303.5h.7M267.6 300h.7M264.3 298.2h.7M256.5 314.9h.7M273.7 288.9h.7M258.6 311.2h.7M259.1 306.8h.7M267.1 288.8h.7M253.1 312.5h.7M266.4 297.3h.7M262.6 299.4h.7M269.6 292.4h.7M256.5 304.9h.7M264.8 300.5h.7M273.6 291.2h.7M259 311.8h.7M264.9 295.6h.7M260.7 300.9h.7M260 303.1h.7M258.9 300.2h.7M269.1 299.6h.7M268.7 296.5h.7M265.2 290.6h.7M262.4 299.3h.7M269.2 293.7h.7M261.5 301.8h.7M269.3 289.6h.7M256.4 313.7h.7M267 299.5h.7M254.8 315.8h.7M270.3 283.9h.7M262.8 295.8h.7M256.8 305.8h.7M270.8 295.1h.7M275.2 286.4h.7M258.5 305.5h.7M259.8 306.5h.7M268.3 304.6h.7M262.6 294.4h.7M271.2 294.4h.7M266.1 296h.7M268.1 296.4h.7M267.5 296.7h.7M274.4 285.8h.7M261.6 302.1h.7M259.5 304.6h.7M273.3 289.1h.7M259.2 305.7h.7M270.8 298.4h.7M262.6 304.5h.7M273.6 281.7h.7M269.8 284.9h.7M270.5 293.2h.7M266.4 294h.7M270.3 293.1h.7M259.6 308.2h.7M270.7 285.2h.7M263.8 296.2h.7M256.9 312.1h.7M268.1 298.6h.7M256 311.5h.7M268.2 298.3h.7M253.8 318.6h.7M261.4 304.9h.7" stroke="#4cab36" stroke-width="0.7" opacity="0.6"/>
<path d="M254.50 318.50C253.58 318.23 252.42 315.25 252.80 313.00C253.18 310.75 254.97 308.00 256.80 305.00C258.63 302.00 261.47 298.17 263.80 295.00C266.13 291.83 268.73 288.17 270.80 286.00C272.87 283.83 275.30 282.13 276.20 282.00C277.10 281.87 276.83 282.95 276.20 285.20C275.57 287.45 274.32 292.08 272.40 295.50C270.48 298.92 267.05 302.52 264.70 305.70C262.35 308.88 260.00 312.47 258.30 314.60C256.60 316.73 255.42 318.77 254.50 318.50Z" fill="#4cab36" stroke="#4cab36" stroke-width="1.8"/>
<path d="M266.1 292.4h.7M261.4 288.8h.7M248.3 308.1h.7M265.9 285.6h.7M261.3 292.6h.7M260.2 294.1h.7M250.3 299.8h.7M259 286.9h.7M257.9 299.1h.7M255.3 306.5h.7M254.9 300.9h.7M273.8 279.6h.7M257 293.6h.7M263.7 284.2h.7M258.3 290.1h.7M259.1 307.3h.7M256.6 293.6h.7M266.9 288.9h.7M265.5 297.4h.7M250.3 307.3h.7M253 298h.7M258.5 283.8h.7M264.9 297.2h.7M271.5 287.5h.7M266.6 288.2h.7M258 304.9h.7M261.6 293.5h.7M265.4 290.1h.7M273.1 285.9h.7M272.4 290.4h.7M270.7 286.7h.7M257.9 291.2h.7M267.5 283.7h.7M259.3 305.7h.7M270.3 288.5h.7M270.4 286.9h.7M252.2 310h.7M256.9 302.9h.7M251.5 305.7h.7M250.8 297.2h.7M250 305.9h.7M252.9 305.2h.7M250.8 311.9h.7M256.1 299.8h.7M265.4 291.3h.7M263.4 287.9h.7M244.6 307.4h.7M261.8 304.6h.7M253.7 304h.7M274.3 286.4h.7M255.2 299.8h.7M263.6 285.3h.7M271.1 281.5h.7M264.4 297.7h.7M261 297.9h.7M268.3 290.4h.7M263.9 282.3h.7M267.2 291.1h.7M272.1 282.4h.7M252.6 302h.7M253.1 299h.7M259.8 300.1h.7M257.5 306.8h.7M252.3 304.1h.7M253.7 303.8h.7M255.7 297.9h.7M259.8 287.1h.7M273.5 286.2h.7M251.3 310.8h.7M252.3 301.2h.7M265.6 296.8h.7M274.7 284.5h.7M252.8 297.3h.7M272 279.5h.7M253.1 293.9h.7M262 298.4h.7M262.6 296.1h.7M260.7 299h.7M263 281.7h.7M250.4 310.4h.7M256.1 304.4h.7M262.3 291.7h.7M266.9 297.1h.7M276.5 280.3h.7M273.8 280.8h.7M250.4 313.8h.7M253.3 307.9h.7M255.1 303.5h.7M268.4 287.3h.7M261.9 296.7h.7M262.1 305.4h.7M256.2 299.1h.7M262.1 294.8h.7M254.6 300.6h.7M261.7 291.3h.7M272 280h.7M249.6 302h.7M256.3 296.3h.7M261.2 286.5h.7M266.6 291.1h.7M258.6 304.5h.7M272.5 282.6h.7M272.2 287.2h.7M261.3 289.3h.7M278.5 280.1h.7M270.9 285.5h.7M258.7 285.8h.7M271.8 280h.7M261.7 297.1h.7M251.1 310.4h.7M255.6 293.8h.7M269 289h.7M263 296.5h.7M263.9 288.2h.7M256.1 311.4h.7M266.3 290.5h.7M277.4 275.5h.7M259.1 294h.7M250 306.2h.7M262.2 293.5h.7M270 286.3h.7M252.8 306.9h.7M273.2 282h.7M253.4 305.9h.7M254.6 301.6h.7M262.6 300.3h.7M257.3 288.9h.7M268.7 286.6h.7M276.5 281.7h.7M256.4 296.7h.7M253.7 304.4h.7M266.3 285.8h.7M255.2 308.8h.7M262.7 294.8h.7M250.5 295.4h.7M253.1 296.9h.7M254.1 290.2h.7M273.4 286.5h.7M252.3 305.1h.7M249.6 307.4h.7M258.6 293.9h.7M266.2 289h.7M268.1 291.4h.7M264.5 287.3h.7M256.3 292.3h.7M250.8 300.1h.7M252.4 312.5h.7M254.4 306.3h.7M252.9 305.6h.7M249.7 303.5h.7M266.3 289h.7M255.4 302.2h.7M265.3 287.6h.7M266.8 297.7h.7M247.7 303.8h.7M255.5 302.8h.7M247.5 309.4h.7M269.7 285.9h.7M251.9 302.3h.7M251.8 301.9h.7M254.6 295.7h.7M254.7 298.3h.7M256.2 293.5h.7M267.2 295.5h.7M269 285.2h.7M256.1 296.3h.7M260.3 296.9h.7M265.7 286.7h.7M258.9 295.2h.7M277 282.6h.7M264.2 291.3h.7M271 285h.7M251.8 299.8h.7M264 290.9h.7M267.1 296.7h.7M259 302.2h.7M253.3 315h.7M251 299.4h.7M273.6 285.8h.7M258.8 306h.7M268.5 296.4h.7M262.7 293h.7M261.8 289.9h.7M255.7 291.6h.7M252.7 302h.7M254.9 305.7h.7M249.9 308.6h.7M270.4 284.6h.7M256.6 290.6h.7M275.5 285.2h.7M255.9 298.5h.7M265 290.3h.7M254.9 294.9h.7M249.7 305.6h.7M262.1 300h.7M266.2 290.1h.7M270.5 288.6h.7M254 295.2h.7M251.4 310.4h.7M252 314.9h.7M253.1 308.9h.7M258.2 297.2h.7M272.8 284.3h.7M270.6 288.8h.7M262.5 291.3h.7M271.7 285.7h.7M268 285.1h.7M262.4 284.6h.7M249.2 305.4h.7M256.6 303h.7M253.2 306.7h.7M259.3 297h.7M250.2 313.6h.7M261.9 292.4h.7M259.1 301h.7M257.3 303h.7M254.7 301.3h.7M271.8 281.9h.7M252.6 312.1h.7M270.2 281.5h.7M257.1 294.6h.7M251.2 311.7h.7M258.9 307.3h.7M267.6 291h.7M251.8 305.6h.7M257.9 297.3h.7M261.3 294.1h.7M271.7 287.5h.7M273.4 281.9h.7M250.2 308h.7M261.4 292.1h.7M266.1 289.8h.7M251 295.8h.7M256.5 292.6h.7M262.1 298.2h.7M258.7 300.4h.7M271.3 287.2h.7M260.8 298.4h.7M263.6 297.6h.7M256.4 289.9h.7M276.7 282.6h.7M258.1 296.7h.7M252.2 310.1h.7M252.5 305.2h.7M272.6 289.2h.7M267.4 298.5h.7M260.1 301.2h.7M266 283.6h.7M254.2 309.5h.7M250.8 289.9h.7" stroke="#1f5fae" stroke-width="0.7" opacity="0.6"/>
<path d="M248.10 309.00C247.88 307.78 247.88 307.53 248.10 305.70C248.32 303.87 248.33 300.55 249.40 298.00C250.47 295.45 252.37 292.73 254.50 290.40C256.63 288.07 259.43 285.72 262.20 284.00C264.97 282.28 268.77 280.85 271.10 280.10C273.43 279.35 275.45 278.85 276.20 279.50C276.95 280.15 276.67 281.77 275.60 284.00C274.53 286.23 272.03 289.92 269.80 292.90C267.57 295.88 264.53 298.92 262.20 301.90C259.87 304.88 257.52 308.88 255.80 310.80C254.08 312.72 252.97 313.03 251.90 313.40C250.83 313.77 250.03 313.73 249.40 313.00C248.77 312.27 248.32 310.22 248.10 309.00Z" fill="#1f5fae" stroke="#1f5fae" stroke-width="1.8"/>
<path d="M248.96 308.36C248.82 307.53 248.82 307.36 248.96 306.12C249.11 304.87 249.12 302.61 249.85 300.88C250.57 299.15 251.87 297.30 253.32 295.71C254.77 294.13 256.67 292.53 258.55 291.36C260.43 290.19 263.02 289.22 264.60 288.71C266.19 288.20 267.56 287.86 268.07 288.30C268.58 288.74 268.39 289.84 267.66 291.36C266.94 292.88 265.24 295.38 263.72 297.41C262.20 299.44 260.14 301.50 258.55 303.53C256.97 305.56 255.37 308.28 254.20 309.58C253.03 310.89 252.27 311.10 251.55 311.35C250.82 311.60 250.28 311.58 249.85 311.08C249.42 310.58 249.11 309.19 248.96 308.36Z" fill="none" stroke="#fff" stroke-width=".45" opacity=".9"/>
<path d="M249.42 308.02C249.31 307.40 249.31 307.27 249.42 306.34C249.53 305.40 249.54 303.71 250.09 302.41C250.63 301.11 251.60 299.72 252.69 298.53C253.78 297.34 255.20 296.15 256.61 295.27C258.02 294.39 259.96 293.66 261.15 293.28C262.34 292.90 263.37 292.64 263.75 292.98C264.14 293.31 263.99 294.13 263.45 295.27C262.90 296.41 261.63 298.29 260.49 299.81C259.35 301.33 257.80 302.88 256.61 304.40C255.42 305.92 254.23 307.96 253.35 308.94C252.47 309.92 251.91 310.08 251.36 310.26C250.82 310.45 250.41 310.43 250.09 310.06C249.76 309.69 249.53 308.64 249.42 308.02Z" fill="none" stroke="#fff" stroke-width=".45" opacity=".9"/>
<path d="M249.88 307.68C249.81 307.27 249.81 307.18 249.88 306.56C249.96 305.93 249.96 304.81 250.32 303.94C250.69 303.07 251.33 302.15 252.06 301.36C252.78 300.56 253.74 299.76 254.68 299.18C255.62 298.60 256.91 298.11 257.70 297.85C258.50 297.60 259.18 297.43 259.44 297.65C259.69 297.87 259.59 298.42 259.23 299.18C258.87 299.94 258.02 301.19 257.26 302.21C256.50 303.22 255.47 304.25 254.68 305.27C253.88 306.28 253.08 307.64 252.50 308.29C251.92 308.94 251.54 309.05 251.17 309.18C250.81 309.30 250.54 309.29 250.32 309.04C250.11 308.79 249.96 308.09 249.88 307.68Z" fill="none" stroke="#fff" stroke-width=".45" opacity=".9"/>
<path d="M250.34 307.34C250.30 307.13 250.30 307.09 250.34 306.78C250.38 306.47 250.38 305.90 250.56 305.47C250.74 305.04 251.07 304.57 251.43 304.18C251.79 303.78 252.27 303.38 252.74 303.09C253.21 302.80 253.85 302.55 254.25 302.43C254.65 302.30 254.99 302.21 255.12 302.32C255.25 302.44 255.20 302.71 255.02 303.09C254.83 303.47 254.41 304.10 254.03 304.60C253.65 305.11 253.13 305.63 252.74 306.13C252.34 306.64 251.94 307.32 251.65 307.65C251.36 307.97 251.17 308.03 250.99 308.09C250.81 308.15 250.67 308.14 250.56 308.02C250.45 307.90 250.38 307.55 250.34 307.34Z" fill="none" stroke="#fff" stroke-width=".45" opacity=".9"/>
<path d="M207.8 322.5h.7M206.2 320h.7M201.1 317h.7M201.6 319.3h.7M198.6 315.2h.7M210.6 327.7h.7M208.9 320.5h.7M211.4 321h.7M217.9 321.4h.7M214.1 326.5h.7M212.7 325.4h.7M198 311.9h.7M216.4 324.8h.7M203.9 320.7h.7M213.4 323.6h.7M214.3 316h.7M204.5 316.5h.7M200.7 314.4h.7M209.6 318.8h.7M212.2 319.4h.7M201.3 321.6h.7M212.8 325.2h.7M212.6 322.3h.7M209.1 321h.7M211.1 327.2h.7M206.6 311.4h.7M213.9 319.6h.7M205.7 317.5h.7M209.4 314.6h.7M214.5 317h.7M207.8 319.7h.7M216.4 320.5h.7M209.2 320.3h.7M205.8 321.8h.7M205.3 310.6h.7M207.5 318h.7M209.5 315.8h.7M209.6 323.9h.7M201.6 322.5h.7M201.5 311.9h.7M201.7 312.2h.7M199 323.1h.7M200.2 318.1h.7M201.7 320.5h.7M211.6 320h.7M213.3 320.2h.7M213 319.5h.7M200.5 322.2h.7M206 320.6h.7M198 322.9h.7M199.1 315.9h.7M204.7 320h.7M213.3 318.3h.7M207.4 322.6h.7M208 310.7h.7M203.1 327h.7M202.4 321.1h.7M200.7 320.9h.7M209.2 317.1h.7M206 318.6h.7M205.2 312.3h.7M208.2 325.7h.7M204.7 325.9h.7M211.5 316.5h.7M198.2 313.2h.7M204.9 314.9h.7M208.6 325.2h.7M199.7 317h.7M204.5 320.2h.7M201.8 319.1h.7M213.2 325.1h.7M198.9 316.3h.7M205 328h.7M212.6 325.7h.7M201.7 310.9h.7M202.3 310.1h.7M208 327.7h.7M202.5 327h.7M208.2 316.4h.7M213 319.9h.7M208.5 317.6h.7M214.2 323.2h.7M212.7 319.1h.7M212.9 313.6h.7M207.6 317.9h.7M217.7 319.4h.7M200.8 317.4h.7M201.1 319.2h.7M205.1 324.2h.7M203.6 320.1h.7M198.9 314.1h.7M206.9 326.9h.7M203.8 324.5h.7M209.5 312.8h.7M207 323.2h.7M206.2 320.2h.7M212.9 323.1h.7M199.4 317.9h.7M202.7 322.2h.7M201.7 311h.7M211.8 315.1h.7M209.8 320.5h.7M205 313.2h.7M205.3 318.4h.7M199.4 321.6h.7M209.4 311.8h.7M208.9 321.8h.7M200.1 312.8h.7M198.2 319.6h.7M200.7 321.9h.7M211 318.5h.7M211.3 314.3h.7M201.8 318.4h.7M208.7 324.9h.7M216.1 318.4h.7M218.4 324.8h.7M202.2 315.8h.7M213.9 317.4h.7M196.6 315.9h.7M216.4 320.8h.7M202.3 320.7h.7M210 321.8h.7M201.8 312h.7M205.2 320.7h.7M199.9 318h.7M205.8 320.1h.7M199.3 308h.7M205 321.2h.7M203.5 317.7h.7M201.8 317.9h.7M209 318.8h.7M216.1 326.3h.7M199.1 321.6h.7M199.2 319h.7M207.2 321.5h.7M212.2 320.9h.7M215.7 323.3h.7M211.6 320.7h.7M200.5 309h.7M207 327.6h.7M200.5 320.7h.7M214.8 317.1h.7M208.7 312.2h.7M207.2 320.8h.7M212.9 325.7h.7M199.6 314.7h.7M202.3 320.9h.7M206.7 313.6h.7M213.2 325.7h.7M211 326.8h.7" stroke="#b81c20" stroke-width="0.7" opacity="0.6"/>
<path d="M198.80 309.00C199.97 306.33 203.63 309.17 205.80 310.00C207.97 310.83 210.08 312.50 211.80 314.00C213.52 315.50 215.38 317.00 216.10 319.00C216.82 321.00 218.98 324.83 216.10 326.00C213.22 327.17 201.68 328.83 198.80 326.00C195.92 323.17 197.63 311.67 198.80 309.00Z" fill="#b81c20" stroke="#b81c20" stroke-width="1.8"/>
<path d="M200.72 312.20C201.51 310.39 204.01 312.31 205.48 312.88C206.95 313.45 208.39 314.58 209.56 315.60C210.73 316.62 212.00 317.64 212.48 319.00C212.97 320.36 214.44 322.97 212.48 323.76C210.52 324.55 202.68 325.69 200.72 323.76C198.76 321.83 199.93 314.01 200.72 312.20Z" fill="none" stroke="#fff" stroke-width=".45" opacity=".9"/>
<path d="M201.74 313.90C202.34 312.54 204.21 313.99 205.31 314.41C206.41 314.84 207.49 315.69 208.37 316.45C209.25 317.21 210.20 317.98 210.56 319.00C210.93 320.02 212.03 321.98 210.56 322.57C209.09 323.16 203.21 324.01 201.74 322.57C200.27 321.12 201.15 315.26 201.74 313.90Z" fill="none" stroke="#fff" stroke-width=".45" opacity=".9"/>
<path d="M200.80 308.00C201.80 307.92 204.80 307.00 206.80 307.50C208.80 308.00 211.13 309.42 212.80 311.00C214.47 312.58 216.13 314.83 216.80 317.00C217.47 319.17 216.80 322.83 216.80 324.00" fill="none" stroke="#1f5fae" stroke-width=".8"/>
<path d="M232.80 325.00C233.47 324.50 234.13 322.50 236.80 322.00C239.47 321.50 245.97 321.50 248.80 322.00C251.63 322.50 252.97 324.50 253.80 325.00" fill="none" stroke="#1f5fae" stroke-width=".8"/>
</g>
<path d="M196.4 228.4h2.6M197.4 241.5h1.6M197.4 238.2h1.6M197.4 235.8h1.6M197.4 234.0h1.6M197.4 232.5h1.6M197.4 231.3h1.6M197.4 230.2h1.6M197.4 229.3h1.6M196.4 247.1h2.6M197.4 260.8h1.6M197.4 257.3h1.6M197.4 254.9h1.6M197.4 253.0h1.6M197.4 251.4h1.6M197.4 250.1h1.6M197.4 249.0h1.6M197.4 248.0h1.6M196.4 266.7h2.6M197.4 280.6h1.6M197.4 277.1h1.6M197.4 274.6h1.6M197.4 272.7h1.6M197.4 271.1h1.6M197.4 269.8h1.6M197.4 268.6h1.6M197.4 267.6h1.6M196.4 286.6h2.6M197.2 293.8h1.8M197.2 299.3h1.8M197.2 304.3h1.8M197.2 308.8h1.8M197.2 312.3h1.8M197.2 315.0h1.8M197.2 318.3h1.8M197.2 321.3h1.8M203.0 325.6v1.8M207.0 325.6v1.8M210.0 325.6v1.8M213.5 325.6v1.8M217.0 325.6v1.8M220.0 325.6v1.8M224.0 325.6v1.8M228.0 325.6v1.8M232.0 325.6v1.8M248.7 325.6v2.4M235.8 325.6v1.6M238.9 325.6v1.6M241.3 325.6v1.6M243.2 325.6v1.6M244.9 325.6v1.6M246.3 325.6v1.6M247.6 325.6v1.6M273.4 325.6v2.4M256.1 325.6v1.6M260.5 325.6v1.6M263.6 325.6v1.6M266.0 325.6v1.6M267.9 325.6v1.6M269.6 325.6v1.6M271.0 325.6v1.6M272.3 325.6v1.6M298.0 325.6v2.4M280.8 325.6v1.6M285.1 325.6v1.6M288.2 325.6v1.6M290.6 325.6v1.6M292.5 325.6v1.6M294.2 325.6v1.6M295.6 325.6v1.6M235.8 325.6v1.6M238.9 325.6v1.6M241.3 325.6v1.6M243.2 325.6v1.6M244.9 325.6v1.6M246.3 325.6v1.6M247.6 325.6v1.6" stroke="#000" stroke-width="1.1" fill="none"/>
<rect x="199.9" y="228.2" width="96.9" height="96.5" fill="none" stroke="#000" stroke-width="1.8"/>
<text x="212.3" y="347.4" font-size="11" text-anchor="middle" fill="#000" >0</text>
<text x="237.7" y="347.4" font-size="11" text-anchor="start" fill="#000" >10</text>
<text x="250.0" y="338.6" font-size="11.5" text-anchor="start" fill="#000" >3</text>
<text x="262.0" y="347.4" font-size="11" text-anchor="start" fill="#000" >10</text>
<text x="274.5" y="338.6" font-size="11.5" text-anchor="start" fill="#000" >4</text>
<text x="289.3" y="347.4" font-size="11" text-anchor="start" fill="#000" >10</text>
<text x="301.1" y="338.6" font-size="11.5" text-anchor="start" fill="#000" >5</text>
<text x="248.8" y="360.9" font-size="12.2" text-anchor="middle" fill="#000" >anti-myc-FITC</text>
<clipPath id="c10"><rect x="394.8" y="229.0" width="95.1" height="94.8"/></clipPath>
<g clip-path="url(#c10)">
<path d="M403.6 279.6h.6M399 290.9h.6M395.7 286h.6M396.2 308.6h.6M398.5 282.6h.6M398.7 280.5h.6M399.3 286.8h.6M403.3 301.8h.6M404.3 304.2h.6M400.4 311.3h.6M397.4 301.5h.6M396.9 296.4h.6M402.2 308.6h.6M401.7 259.1h.6M401.9 305.2h.6M399.9 299.8h.6M404.3 275.5h.6M402.4 292.9h.6M395.7 289.2h.6M399 265.7h.6M404 302.1h.6M402 298.8h.6M395.6 299.5h.6M403.8 303.6h.6M399.7 269.4h.6M405.2 305.1h.6M402.1 298.9h.6M402.4 283.1h.6M400.3 290.9h.6M399.6 298h.6M397.2 259h.6M395.1 276.1h.6M405.4 297.1h.6M397.7 259.2h.6M403 266.7h.6M397.7 298.1h.6M401.1 262h.6M397.6 304.1h.6M398.7 310.5h.6M402.9 278.9h.6M401.3 275.9h.6M398.1 301.6h.6M404.1 314h.6M404.2 306.4h.6M397.9 300.3h.6M406 260.7h.6M402.2 290.5h.6M405.4 309.3h.6M403.9 301.6h.6M396.9 300.9h.6M400.2 279.2h.6M395.4 271.6h.6M404.1 303.2h.6M396.6 306.2h.6M405.7 270.4h.6M405.1 260.6h.6M397.4 289.3h.6M406.4 311.8h.6M396.7 308.4h.6M406.5 280h.6M406 265.2h.6M400.8 285.8h.6M397.8 298.7h.6M403.9 266.3h.6M399.6 298.3h.6M397.1 302.1h.6M401.5 268.7h.6M400.3 311.8h.6M399.6 303.2h.6M397.5 301.8h.6M403.1 282.8h.6M402.2 267h.6M399.9 264.2h.6M396.8 302.9h.6M401.3 274.3h.6M397 291.1h.6M406.3 275.4h.6M405.7 275h.6M404.8 310h.6M397.1 269.1h.6M403.6 310.7h.6M401.2 312.1h.6M406.4 295.1h.6M403.1 272.1h.6M406.2 286.9h.6M400.1 283.4h.6M398.4 263.3h.6M397.8 277.2h.6M401.1 265.9h.6M395.3 296h.6M406.4 279.9h.6M398 303.2h.6M401.5 288.5h.6M401.4 305.8h.6M403.3 267.9h.6M396 265h.6M397 266.3h.6M395.5 261.9h.6M396.2 303.8h.6M398.9 282.1h.6M402.4 309.4h.6M398.5 293.7h.6M402.5 298.2h.6M396.5 273.9h.6M402.8 273.8h.6M404.5 264.3h.6M398.1 274.4h.6M405.8 262.3h.6M403.8 280.4h.6M406 295.1h.6M395 289.5h.6M397.8 265.6h.6M403.7 298.2h.6M403.6 309.5h.6M405.1 299.7h.6M404.4 300.6h.6M403.5 283.6h.6M405.5 290.3h.6M404.5 307.3h.6M399.1 289.6h.6M395.3 298.8h.6M398 289h.6M396.2 298.7h.6M401 292h.6M395.6 294.3h.6M399.6 308.3h.6M399.4 296.5h.6M396.3 260.8h.6M406.4 277.4h.6M395.7 283.3h.6M397.7 309.6h.6M398.5 308.3h.6M405.7 313.7h.6M398.2 295.2h.6M397.5 294.3h.6M395.4 304.3h.6M402.4 312.4h.6M397.9 289.1h.6M406 283.3h.6M400.7 283h.6M403.8 312.1h.6M400.8 288.4h.6M395.8 265.9h.6M400 288.5h.6M398.9 311.6h.6M399.3 285.7h.6M399.7 271.2h.6M402.7 301.2h.6M402.4 291.3h.6M396.6 262h.6" stroke="#b81c20" stroke-width="0.6" opacity="0.5"/>
<path d="M420.6 279.6h.6M425.5 284.2h.6M395.1 310.3h.6M426.6 308.6h.6M395.1 307.9h.6M418.4 290.1h.6M434.2 312.8h.6M426.9 313.5h.6M429.7 299.2h.6M434.2 313.6h.6M394.9 291.2h.6M402 320.7h.6M398.5 310.3h.6M400.4 285.7h.6M427.7 307.8h.6M430.6 315.7h.6M419 281.4h.6M408.6 304.4h.6M430.1 318.2h.6M419.5 284.7h.6M398.7 307.2h.6M399.7 312.1h.6M429.6 304.1h.6M399.4 301.2h.6M411.6 289.5h.6M396.4 297h.6M404.4 280.9h.6M424 289h.6M412.3 287.8h.6M411.4 307.6h.6M417.3 319.2h.6M420.5 312.8h.6M407.4 294.6h.6M398.6 283.6h.6M407.9 309.5h.6M399.5 305.1h.6M414.2 284.1h.6M423.7 283.8h.6M419.7 284.4h.6M407.5 315.5h.6M401 292.8h.6M412.3 287h.6M411.9 309.9h.6M402.9 285.9h.6M399.6 306.6h.6M412.7 288.5h.6M414.4 301.6h.6M397.7 292h.6M414.2 306h.6M404.8 317.9h.6M431.6 292.5h.6M431.7 302.7h.6M415.3 317.5h.6M400.5 279.4h.6M424.2 281.6h.6M427.5 306.9h.6M411 318.1h.6M425.3 297.1h.6M411.9 288.9h.6M424.5 316.7h.6M399.7 296.6h.6M398.4 304.8h.6M399.7 319.6h.6M405.5 295.7h.6M403.9 295.9h.6M425.5 316.2h.6M414.9 283.4h.6M421.3 297.7h.6M432.7 324.2h.6M406.3 291.7h.6M426.6 295.1h.6M403.2 320.3h.6M401.7 305.8h.6M425.9 290.7h.6M396.1 318.4h.6M418 289.6h.6M395.7 320.8h.6M409.4 318.1h.6M398.9 287.6h.6M396.8 323.8h.6M414.3 311.9h.6M398.7 288.9h.6M425.6 319.4h.6M414 279.7h.6M430.2 300.6h.6M427.6 316.2h.6M420.2 318h.6M395.9 324.2h.6M424.4 294.5h.6M429.7 312.9h.6M422.1 305.4h.6M415.7 318.5h.6M432.9 302.3h.6M400.2 313.1h.6M418.3 301.5h.6M411.7 298.3h.6M425.7 310.3h.6M419.7 287.3h.6M422.4 311.6h.6M413.2 321.2h.6M431.3 293.6h.6M397.8 299.2h.6M396.1 287.8h.6M424.4 307.7h.6M417.5 286.2h.6M411.9 305.2h.6M425.3 293.5h.6M413.5 303.9h.6M405.5 288.9h.6M421.9 310.4h.6M433.1 298h.6M427.7 305.3h.6M398.7 285.9h.6M410.5 312.7h.6M399.2 302.7h.6M403.6 282.2h.6M401.9 299.8h.6M427.4 308.8h.6M397.5 313.9h.6M418 300.9h.6M427 303h.6M428 319.6h.6M408.2 283.2h.6M404.3 300h.6M433.1 283h.6M432.4 323.2h.6M413.7 290.8h.6M431.9 318.1h.6M411.1 305.8h.6M424 311.9h.6M426.6 310.4h.6M406.1 311.7h.6M417.7 317.8h.6M416.1 288.2h.6M420.8 324.2h.6M428.3 295.6h.6M414.1 323.5h.6M411.4 291.9h.6M418.7 313.8h.6M411.1 300h.6M432.2 297.7h.6M421.1 314.9h.6M432.9 291h.6M400.2 324.8h.6M426.5 303.7h.6M431.2 286.1h.6M406.3 302h.6M405.7 321h.6M408.4 296.4h.6M417 324.4h.6M402.9 322.7h.6M419.3 308.8h.6M405.2 321.4h.6M407.3 313h.6M401.4 281.5h.6M401 321.2h.6M408.7 309.4h.6M402.9 285.8h.6M410.6 281.2h.6M428.3 308.3h.6M430.3 294.1h.6M398.5 291.4h.6M429 323.2h.6M419.4 317.8h.6M412.9 323h.6M406.1 307.7h.6M409.7 293.2h.6M423.3 286.5h.6M419.5 296.2h.6M418.6 311.6h.6M427.9 284.1h.6M418.1 291.6h.6M411.1 321.1h.6M424.9 316.1h.6M402.4 290.8h.6M403.9 285.6h.6M433.7 302.3h.6M409.7 294.1h.6M403 293.1h.6M414.6 311.1h.6M432.1 300.5h.6M405.6 308.2h.6M413 321.7h.6M425.8 299.7h.6M408.8 285.7h.6M417 300.3h.6M405.7 300.9h.6M424.7 294.5h.6M425.5 299.8h.6M425.1 299.8h.6M396.4 289.8h.6M407.6 284.4h.6M417.2 298.2h.6M408.3 302h.6M402.1 312.4h.6M405.9 310.8h.6M429.1 311.5h.6M424.5 304.7h.6M416.2 307.5h.6M419.4 299.6h.6" stroke="#1f5fae" stroke-width="0.6" opacity="0.5"/>
<path d="M432 299.9h.6M407.6 305.8h.6M427.2 251.2h.6M432.3 295.3h.6M412.8 255.2h.6M423.4 260h.6M416.1 256.7h.6M417.5 320.5h.6M427.1 254.7h.6M418.9 301.4h.6M418.1 304.1h.6M411.4 276.7h.6M413.9 276.7h.6M419.3 253.1h.6M399.2 296.3h.6M415.3 321.9h.6M439.7 272.1h.6M413.1 268.9h.6M430.5 307h.6M432.1 314.4h.6M423 250.7h.6M436.6 300.5h.6M425.2 265.2h.6M433.9 257.1h.6M423 307.1h.6M438.4 292.3h.6M398 277h.6M416.7 263.6h.6M399.3 286.7h.6M423.7 272.1h.6M429.9 268.8h.6M405.4 262h.6M430.7 289.7h.6M397.9 318.8h.6M413.1 279.8h.6M439.3 317.2h.6M436.8 313.6h.6M413.4 319.7h.6M395.9 299.6h.6M429.3 317.8h.6M404 295.5h.6M413.7 307.9h.6M403.8 293.3h.6M426.4 307.8h.6M412.2 305.8h.6M435.9 280.3h.6M423 256.7h.6M416.2 268.5h.6M433.6 287.4h.6M406.6 300.1h.6M434.4 323.5h.6M404.8 308.3h.6M420.7 296.7h.6M421.3 316.9h.6M407.7 259.7h.6M410.2 252.2h.6M429.6 264.1h.6M433.7 274.8h.6M438.3 289.3h.6M406.6 279.1h.6M425.1 323.8h.6M421.6 281.9h.6M413.7 251.3h.6M395.5 287.1h.6M430.1 265.2h.6M399.4 298.5h.6M438.4 314.7h.6M438 270h.6M434.6 280.2h.6M436.1 285.4h.6M398.2 285.6h.6M430 313.4h.6M399.8 284.8h.6M432.1 310.3h.6M418.7 320.1h.6M434.1 265.4h.6M395.5 265.4h.6M439.7 256.5h.6M436.9 266.1h.6M409.2 260.1h.6M411.1 263h.6M404.2 264.7h.6M400 304.2h.6M438.9 271.2h.6M421.5 257.2h.6M425.9 307.7h.6M418 294.5h.6M426.9 306.2h.6M397.7 253.7h.6M395.2 321h.6M434.8 267h.6M425.5 265.4h.6M421.6 258.9h.6M399.8 253.2h.6M426 251.8h.6M417.7 309h.6M400.7 285.8h.6M429.4 304.1h.6M396 257.6h.6M410.3 283.7h.6" stroke="#b81c20" stroke-width="0.6" opacity="0.5"/>
<path d="M419.9 295.5h.6M409.2 309.9h.6M403.1 299.4h.6M395.9 307h.6M395.5 305.3h.6M403.8 310.2h.6M417.8 308.2h.6M396.2 302.8h.6M421.2 276.1h.6M396.8 312.8h.6M396.4 287.9h.6M407.8 306h.6M422.1 291.1h.6M395.8 276h.6M402.6 269.3h.6M398.2 291.9h.6M416.6 280.5h.6M402.8 298.4h.6M422.5 280.2h.6M420.4 281.5h.6M417 281.8h.6M405.8 298.1h.6M422 292.5h.6M407 279.8h.6M399.9 292.3h.6M400.4 272.4h.6M416.4 293.5h.6M413.9 274.1h.6M407.8 292.1h.6M414.1 278.1h.6M422.6 273.9h.6M422.4 302h.6M411.5 271h.6M417.5 314.1h.6M414.6 271.3h.6M422.6 313.5h.6M402.6 312.8h.6M407.7 298.1h.6M421.2 285.5h.6M414 302.8h.6M412 276.6h.6M400 305.3h.6M399 269.6h.6M420.2 306.6h.6M398.5 274.1h.6M411 313.8h.6M423.9 301h.6M394.9 272.9h.6M409.7 280.8h.6M420 313.7h.6M409.1 298h.6M411.3 297.2h.6M411.1 311.8h.6M411.3 307.4h.6M413.6 310.7h.6M410.9 308.6h.6M403.8 273.8h.6M397.6 297.2h.6M405.7 276h.6M417.8 286.5h.6" stroke="#4cab36" stroke-width="0.6" opacity="0.5"/>
<path d="M427 284.7h.6M415.8 278.5h.6M415.7 278.5h.6M423.4 281h.6M402.9 292.2h.6M429.1 299.4h.6M401.6 288.5h.6M416.2 284.3h.6M426.7 299.2h.6M424 286.3h.6M404.1 283.4h.6M429.1 276.9h.6M407.9 296.3h.6M428.1 274.7h.6M416 304.2h.6M429.5 300.8h.6M428.8 307.1h.6M404.6 291.4h.6M425 276.1h.6M412.2 297h.6M415 274.9h.6M400.9 303.9h.6M401.2 281.2h.6M420.6 305.8h.6M416.7 277.3h.6M402.7 294.5h.6M410 292.7h.6M412.5 275.5h.6M402.3 300.1h.6M425.8 299.6h.6M428.2 276.7h.6M421 286.5h.6M414.8 282.1h.6M406.1 275.2h.6M427.4 293.5h.6M403.5 299.4h.6M420.6 303.1h.6M405.5 277.5h.6M424.3 276.1h.6M421.2 295.8h.6M410.9 302.2h.6M409.7 293.1h.6M415.2 302.8h.6M411 308.6h.6M425.7 295.6h.6M405.6 299.5h.6M406.5 293.9h.6M404.8 300.9h.6M413.6 302.5h.6M419.4 277.1h.6M403.6 280.1h.6M420.9 292.1h.6M402.9 302.2h.6M404.1 274.3h.6M421.5 280.4h.6M429.4 283.6h.6M412.8 278.5h.6M409.1 308.4h.6M413.1 307.9h.6M414.6 299.6h.6M420.8 297.4h.6M422.7 282.2h.6M422.9 285.6h.6M412.3 278h.6M419.4 305.1h.6M403.2 282.5h.6M411.7 279.7h.6M408.3 286.3h.6M419 306.3h.6M410.1 276.8h.6M411.2 280.2h.6M418.2 305.1h.6M411.2 292.5h.6M425.9 276.6h.6M427.1 307.9h.6M416.2 302.7h.6M409.4 276.5h.6M411.4 296.7h.6M403.6 275.1h.6M404.3 275.6h.6M419.2 308.2h.6M411.3 278.4h.6M400.3 284.9h.6M400.6 280h.6M420.2 275h.6M426.6 291.4h.6M427.7 290.2h.6M400.9 302h.6M404.6 286h.6M406.3 278.4h.6M401.8 279.5h.6M415.4 290.1h.6M401.6 282.8h.6M413.6 308h.6M401.4 286.8h.6M404.3 288.7h.6M421.8 293.7h.6M424.7 278.8h.6M422.4 293.9h.6M428.1 290.9h.6M415.4 300.1h.6M429.1 297.1h.6M416.3 295h.6M419 290.2h.6M425.9 299.2h.6M415.7 291.1h.6M428.7 297.6h.6M401 298h.6M406.4 298h.6M417.9 300.5h.6M400.9 305.3h.6M419 294.8h.6M407.9 292.1h.6M410.8 283.4h.6M427.6 295.5h.6M428.8 276.3h.6M413.5 294h.6M421.9 290.7h.6M423.4 294.5h.6M407.4 290.8h.6M406.9 279.1h.6M426.4 300.8h.6M405.4 306.8h.6M428.1 288.3h.6M409.9 304.9h.6" stroke="#b81c20" stroke-width="0.6" opacity="0.5"/>
<path d="M410.4 264.1h.7M423.3 264.1h.7M417.3 262.3h.7M419.5 260h.7M404.9 271.7h.7M432 261.5h.7M424.2 258.9h.7M417.3 265.6h.7M428.2 265.3h.7M434.2 259.3h.7M416.6 268.1h.7M415.8 275h.7M418 269.8h.7M411.4 272.7h.7M413.6 272.1h.7M420.5 266.8h.7M422.1 263.6h.7M411.8 270.2h.7M410 262h.7M417.6 266.6h.7M422.8 264.2h.7M422.6 261.8h.7M433.3 263.6h.7M425.1 260.9h.7M421.1 264.6h.7M423.2 262.7h.7M403.9 275.2h.7M429.8 260.5h.7M411.5 265.7h.7M427.2 266.4h.7M420.5 268.8h.7M409.6 268.4h.7M405.3 275.8h.7M404.9 276.3h.7M418.1 267.4h.7M419.2 271h.7M436.8 258.2h.7M412.2 270.1h.7M427.3 262.1h.7M421 266.5h.7M417.4 268.6h.7M433.3 259.4h.7M411.9 270.2h.7M416.6 266.7h.7M430.7 267.4h.7M423.5 260.7h.7M427.1 263.6h.7M425.2 262.3h.7M407.9 271.9h.7M407.4 274.6h.7M415.8 269.9h.7M425.3 260.2h.7M426.5 262.3h.7M426 270.6h.7M429.5 261.7h.7M409.7 275.5h.7M411.4 275.4h.7M413.2 264.3h.7M404.3 277.1h.7M414.6 271.5h.7M415.8 266.6h.7M430.5 263.3h.7M401.6 274.5h.7M405.8 275.9h.7M429.3 261.5h.7M424.6 267.7h.7M422.3 264h.7M413.2 275.5h.7M426 266.4h.7M429.9 262.4h.7M427.7 265.4h.7M408.4 274.8h.7M409.2 265.7h.7M426.7 263.7h.7M432.2 264.5h.7M422.6 268.8h.7M414.5 270.6h.7M408.5 272.5h.7M404.6 270.2h.7M413.9 274.8h.7" stroke="#4cab36" stroke-width="0.7" opacity="0.6"/>
<path d="M402.50 274.00C403.15 272.15 405.05 268.75 407.60 266.80C410.15 264.85 414.60 263.70 417.80 262.30C421.00 260.90 424.03 259.47 426.80 258.40C429.57 257.33 432.77 256.17 434.40 255.90C436.03 255.63 436.60 255.92 436.60 256.80C436.60 257.68 436.03 259.60 434.40 261.20C432.77 262.80 429.57 264.68 426.80 266.40C424.03 268.12 420.78 269.57 417.80 271.50C414.82 273.43 411.25 276.93 408.90 278.00C406.55 279.07 404.77 278.57 403.70 277.90C402.63 277.23 401.85 275.85 402.50 274.00Z" fill="#4cab36" stroke="#4cab36" stroke-width="1.8"/>
<path d="M418.5 270.2h.7M425.4 263.5h.7M406.3 276.9h.7M414.1 270.4h.7M415.7 264.3h.7M422.2 268.2h.7M415 267.2h.7M418.6 273.4h.7M414.2 274.5h.7M414.1 274.5h.7M416.9 264.7h.7M430.1 264.9h.7M423.3 265.7h.7M427.6 264.4h.7M412.7 265.6h.7M413.1 277h.7M410.5 274h.7M420.8 263.7h.7M409.6 271.7h.7M432.1 265.3h.7M430.2 262.7h.7M421.2 266.8h.7M419.8 269.7h.7M415.4 266.8h.7M428.1 261.1h.7M410 278h.7M410.8 273.1h.7M406.7 268.2h.7M429.7 266h.7M407.3 278.1h.7M420.1 263.4h.7M421.5 263.2h.7M401.4 272.5h.7M419.1 268.2h.7M433.7 258.4h.7M417.7 267.3h.7M417.5 269.3h.7M423.9 262.9h.7M422 267.3h.7M423.4 262.9h.7M406.1 274.2h.7M420.5 265.6h.7M414.8 268.5h.7M427.1 263.2h.7M433.8 259.4h.7M417 272.9h.7M419.7 271.9h.7M417.2 267.8h.7M413.1 273.5h.7M420.9 268.5h.7M407.5 270.6h.7M418.7 266h.7M409.7 279.8h.7M408.5 275.4h.7M414.5 265h.7M422.9 265.4h.7M429.3 268.7h.7M408.6 267.1h.7M422.6 261.3h.7M419.6 270.5h.7M407 278.4h.7M407.1 272h.7M409.6 273.6h.7M408.7 279.6h.7M423.6 268.1h.7M402.2 275.6h.7M421.4 269.7h.7M423.8 266.5h.7M418.6 265.6h.7M423.5 266.3h.7M409.5 270.1h.7M411.1 272h.7M406.9 279.3h.7M423.4 267.2h.7M436.7 258.2h.7M409.4 273.9h.7M420.8 270h.7M434.6 260.8h.7M404 274.4h.7M408.3 270.6h.7M429.4 261.8h.7M412.7 269.1h.7M431.5 262.9h.7M422.2 266.5h.7M411.3 273.2h.7M436.6 262.2h.7M415.9 266.8h.7M417.7 267.8h.7M418.9 266.7h.7M421.5 269h.7M425.9 263.5h.7M414.5 275.2h.7M409.6 280.1h.7M420.9 266.3h.7M411.9 274.6h.7M429.5 265.3h.7M410 276.3h.7M404.7 273.5h.7M411.9 270.4h.7M427.7 261.8h.7M405.9 277.8h.7M405.2 277.4h.7M431.5 260.2h.7M412.6 277.4h.7M406 277.1h.7M419.9 265.5h.7M404.2 276.7h.7M412.1 271h.7M408.2 273.8h.7M421.7 268.2h.7M408.2 269.4h.7M416.9 268.8h.7M400.6 271.7h.7M426 261.5h.7M415 267.8h.7M419.9 271.4h.7M409.5 277.4h.7M420.1 268.1h.7M417.1 267.4h.7M428.7 259.5h.7M422.2 263h.7M427.6 268.5h.7M407.5 277.9h.7M412.3 270.6h.7M412 269.9h.7M407.3 274.9h.7M432.9 260.8h.7M416.4 267.1h.7M402.9 272.1h.7M434.3 265.3h.7M407.1 280.2h.7M418.3 272.1h.7M406.6 279.8h.7M412 276.9h.7M407.9 269.7h.7M411.6 273.4h.7M402.6 272.7h.7M412.1 266.2h.7M405.9 277.2h.7M416.8 264h.7M408.2 273.8h.7M425.5 262.1h.7M421.1 269.6h.7M435.3 261.1h.7M410.2 269.8h.7M416.1 264.7h.7M413.8 273.9h.7M409.7 276.3h.7M425.7 263.3h.7M412.3 273.3h.7M434.1 258.3h.7M407.2 273.1h.7M424.6 263.3h.7M413.2 268.3h.7M416.1 266h.7M428.3 259.6h.7M422.5 266.5h.7M424.2 264.8h.7M417.8 268.7h.7M408.2 277.4h.7M425.7 259.2h.7M407.4 269.6h.7M419.1 271.4h.7M408.3 275.9h.7M413 276.2h.7M406.5 268.8h.7M435.4 261.7h.7M432 263.4h.7M415.3 269.2h.7M414.4 271.4h.7M432.1 262h.7M433.3 264.7h.7M411.3 265.3h.7M423.8 263.9h.7M415.7 269.7h.7M411.9 270.1h.7M409.5 265.6h.7M409.6 276.6h.7M409.9 275.2h.7M410.7 266.1h.7M405.3 274.9h.7M406.9 272.4h.7M414.3 267.2h.7M420 262h.7M423.5 269.5h.7M406.5 278.1h.7M432.4 260.1h.7M407 274.7h.7M409.2 274.8h.7M410.2 273.8h.7M411.2 270.1h.7M422.5 265.2h.7M424.4 261h.7M408.3 273.8h.7M421.5 269.7h.7M413.1 268.1h.7M428.9 260.4h.7M424.9 267.8h.7M417.8 266.2h.7M420.2 262.8h.7M429.1 261.9h.7M407.5 271.5h.7M427.5 258.2h.7M426.2 261.2h.7M424.3 268.6h.7M415.1 265.5h.7M417.5 263h.7M418.9 263.4h.7M422.1 263.6h.7M428.8 263.3h.7M417.6 272.7h.7M429.1 266.4h.7M401.7 277.3h.7M430.4 261.8h.7M417.6 267.6h.7M408.5 271h.7M427.1 262h.7M409.9 274.8h.7M406.7 270.8h.7M428.6 263.6h.7M433.7 259.5h.7M408.7 272h.7M402.9 274.1h.7M410.2 274.7h.7M408.1 276.3h.7M404.6 276.4h.7M408 269.3h.7M411.2 271.3h.7M408.7 276.8h.7M419.9 267.2h.7M417.3 263.7h.7M414.4 267.8h.7M425.3 261.9h.7M434.7 262.3h.7M412.8 273.3h.7M416.9 265.3h.7M429.8 266.5h.7M430.5 255.7h.7M412.1 270.8h.7M425.5 266.3h.7M409.6 276.1h.7M433.8 260.7h.7M430.1 260.9h.7M421.8 267.6h.7M412.4 270.9h.7M404.6 271.9h.7M406.5 273.7h.7M414.5 265.2h.7M418.6 267.8h.7M410.5 277.1h.7" stroke="#b81c20" stroke-width="0.7" opacity="0.6"/>
<path d="M402.50 275.00C403.15 273.22 405.05 270.05 407.60 268.20C410.15 266.35 414.60 265.27 417.80 263.90C421.00 262.53 424.03 261.07 426.80 260.00C429.57 258.93 432.82 257.77 434.40 257.50C435.98 257.23 436.30 257.62 436.30 258.40C436.30 259.18 435.98 260.70 434.40 262.20C432.82 263.70 429.57 265.68 426.80 267.40C424.03 269.12 420.78 270.38 417.80 272.50C414.82 274.62 411.25 279.03 408.90 280.10C406.55 281.17 404.77 279.75 403.70 278.90C402.63 278.05 401.85 276.78 402.50 275.00Z" fill="#b81c20" stroke="#b81c20" stroke-width="1.8"/>
<path d="M406.51 273.35C406.81 272.55 407.66 271.12 408.81 270.29C409.96 269.46 411.96 268.97 413.40 268.36C414.84 267.74 416.20 267.08 417.45 266.60C418.69 266.12 420.16 265.60 420.87 265.48C421.58 265.36 421.73 265.53 421.73 265.88C421.73 266.23 421.58 266.91 420.87 267.59C420.16 268.26 418.69 269.16 417.45 269.93C416.20 270.70 414.74 271.27 413.40 272.23C412.06 273.18 410.45 275.16 409.40 275.64C408.34 276.12 407.54 275.49 407.06 275.11C406.57 274.72 406.22 274.15 406.51 273.35Z" fill="#fff"/>
<path d="M405.64 273.71C406.01 272.69 407.09 270.89 408.55 269.83C410.00 268.78 412.54 268.16 414.36 267.38C416.18 266.60 417.91 265.77 419.49 265.16C421.07 264.55 422.92 263.89 423.82 263.74C424.72 263.58 424.91 263.80 424.91 264.25C424.91 264.69 424.72 265.56 423.82 266.41C422.92 267.27 421.07 268.40 419.49 269.38C417.91 270.36 416.06 271.08 414.36 272.29C412.66 273.49 410.63 276.01 409.29 276.62C407.95 277.23 406.93 276.42 406.32 275.93C405.71 275.45 405.27 274.73 405.64 273.71Z" fill="none" stroke="#fff" stroke-width=".5"/>
<path d="M404.91 274.01C405.34 272.82 406.62 270.69 408.33 269.45C410.03 268.21 413.02 267.49 415.16 266.57C417.30 265.66 419.34 264.67 421.19 263.96C423.04 263.25 425.22 262.46 426.28 262.29C427.34 262.11 427.56 262.36 427.56 262.89C427.56 263.41 427.34 264.43 426.28 265.43C425.22 266.44 423.04 267.77 421.19 268.92C419.34 270.07 417.16 270.92 415.16 272.33C413.16 273.75 410.77 276.71 409.20 277.43C407.62 278.14 406.43 277.19 405.71 276.62C405.00 276.05 404.47 275.20 404.91 274.01Z" fill="none" stroke="#fff" stroke-width=".5"/>
<path d="M404.18 274.31C404.68 272.94 406.14 270.50 408.11 269.07C410.07 267.65 413.50 266.82 415.96 265.76C418.42 264.71 420.76 263.58 422.89 262.76C425.02 261.94 427.52 261.04 428.74 260.83C429.96 260.63 430.21 260.92 430.21 261.53C430.21 262.13 429.96 263.30 428.74 264.45C427.52 265.61 425.02 267.14 422.89 268.46C420.76 269.78 418.26 270.76 415.96 272.38C413.66 274.01 410.92 277.42 409.11 278.24C407.30 279.06 405.92 277.97 405.10 277.31C404.28 276.66 403.68 275.68 404.18 274.31Z" fill="none" stroke="#fff" stroke-width=".5"/>
<path d="M406.51 273.35C406.81 272.55 407.66 271.12 408.81 270.29C409.96 269.46 411.96 268.97 413.40 268.36C414.84 267.74 416.20 267.08 417.45 266.60C418.69 266.12 420.16 265.60 420.87 265.48C421.58 265.36 421.73 265.53 421.73 265.88C421.73 266.23 421.58 266.91 420.87 267.59C420.16 268.26 418.69 269.16 417.45 269.93C416.20 270.70 414.74 271.27 413.40 272.23C412.06 273.18 410.45 275.16 409.40 275.64C408.34 276.12 407.54 275.49 407.06 275.11C406.57 274.72 406.22 274.15 406.51 273.35Z" fill="none" stroke="#b81c20" stroke-width=".6"/>
<path d="M419.4 285.8h.7M424.1 282.5h.7M428.5 286h.7M423.1 284.1h.7M422.4 283.3h.7M411.6 292.8h.7M419 293.5h.7M415.5 289.1h.7M419 284.8h.7M411.5 291.5h.7M420.5 286.1h.7M421.6 284.2h.7M412.9 286.3h.7M426 286.5h.7M416.2 290h.7M405.9 295.4h.7M419.8 284.2h.7M415.3 289.8h.7M417.6 295.2h.7M416.1 296.3h.7M418.5 285.1h.7M415.2 291.7h.7M412.5 290.5h.7M418.5 289.4h.7M418.8 289h.7M420.4 289h.7M413.5 293.3h.7M425 286.1h.7M421.6 285.3h.7M421.6 293.5h.7M422.8 283.1h.7M411.1 292.3h.7M420.6 285.4h.7M424 286.1h.7M423.9 282.4h.7M413.3 293.8h.7M420 288h.7M423.9 283.6h.7M406.8 294.6h.7M425.6 283.1h.7M426.6 285.5h.7M420.9 289.3h.7M420.6 285.9h.7M427.4 285.9h.7M408.7 295h.7M420 293.7h.7M417.7 291.1h.7M413.9 292.9h.7M421.3 288.4h.7M422.2 287.7h.7M425.1 284.9h.7M424 287.3h.7M407.8 294.7h.7M410.5 290.4h.7M426.6 282.9h.7M409.4 292.3h.7M407.6 297.1h.7M414.2 283.5h.7M416.9 288.6h.7M414 288.9h.7M426.8 282.6h.7M422.7 286.4h.7M421.6 288.6h.7M417.9 286h.7M423.9 283.6h.7M425.4 280.8h.7M408 294.1h.7M409.1 289.2h.7M409.2 293.3h.7M411.9 285.3h.7M411.9 285.9h.7M423.4 283.5h.7M425.6 291.6h.7M425.6 285.9h.7M411.6 290.2h.7M413.5 295.7h.7M420.7 282.4h.7M430.5 277.6h.7M408.6 294.5h.7M410.3 290.7h.7M408.3 291.1h.7M426.1 288.3h.7M409.4 291.7h.7M409.5 295.5h.7M413.9 288.3h.7M407.7 292.9h.7M417 293.3h.7M423.8 285.2h.7M412.4 290.5h.7M422.1 284.4h.7M427.5 283.8h.7M413.9 288.6h.7M410.3 290.7h.7M414.6 288.6h.7M409.3 289.6h.7M410.5 293.6h.7M417.3 286.8h.7M412.1 293.7h.7M414.6 292.9h.7M424.5 289.1h.7M417.6 291.1h.7M412.9 290.2h.7M425.6 287h.7M422.6 285.7h.7M420.7 286.4h.7M421.7 289.9h.7M422.7 289.5h.7M420.3 288.7h.7M422.7 286.7h.7M415.3 292h.7M413.9 286.3h.7M410.5 291.9h.7M413.4 295.5h.7M415.2 291.7h.7M422.4 280.4h.7M410.4 292.4h.7M421.7 284.9h.7M422.2 286.8h.7M422.6 287.5h.7M413.8 294.4h.7M409.9 294.2h.7M407.8 291.9h.7M420.2 292.2h.7M407.6 291.8h.7M425.8 286h.7M427.2 283.1h.7M417.7 283.9h.7M424.1 286.6h.7M416.8 291.4h.7M424.7 280.7h.7M420.3 289.6h.7M406.2 293h.7M410.1 291.5h.7M416.4 287h.7M417.9 285.6h.7M410.5 289.4h.7M417.6 293.8h.7M414.1 288.9h.7M430.8 281.6h.7M426.4 284.9h.7M421.8 288.4h.7M422.3 287.2h.7M421.6 291.3h.7M423.5 287.3h.7M424.3 286.9h.7M417.3 285.4h.7M407.4 291.9h.7M421.5 288h.7M421.9 286.1h.7M410.7 294.9h.7M422.5 285.5h.7M407.8 289h.7M412.7 297h.7M410.3 289.5h.7M422.3 285.3h.7M408.2 294.2h.7M410.9 291.2h.7M411.8 291h.7M417 290.9h.7M427.8 284.1h.7M426.3 290.8h.7M423.5 288.7h.7M416.4 289.4h.7M426.2 286.5h.7M426.3 283.2h.7M424.5 286.2h.7M424.4 279.9h.7M408.6 293.8h.7M412.6 292.6h.7M417.6 292.5h.7M426.6 285.8h.7M418.2 294.4h.7M417.1 284.1h.7M413.7 290.4h.7M424.9 285.4h.7M406.6 297h.7M415.2 293.2h.7M410.8 288.2h.7M416.3 290.7h.7M405.3 291.5h.7M410 291.7h.7M423.2 283.5h.7M423 280.7h.7M425.5 286h.7M425.5 278.6h.7M425.1 286.5h.7M409.5 293.8h.7M407.3 295.4h.7M415.3 283.7h.7M413.4 288.8h.7M406.1 295.1h.7M421.4 290.3h.7M424.2 284.9h.7M424.2 285.2h.7M408.4 292.9h.7M407.5 295.9h.7M423.3 285.5h.7M413.2 290.1h.7M413.9 289.7h.7M406.1 294.2h.7M425 294.7h.7M407.6 296.6h.7M421.1 294.9h.7M413.3 290.2h.7M426.5 279.8h.7M421.1 288.7h.7M415.7 284.4h.7M414.6 292.6h.7M411 290.8h.7M417.2 293.3h.7M426.4 284.9h.7M426.8 286.8h.7M412.3 295.4h.7M408.2 288.5h.7M417.5 286.9h.7M427.2 287.3h.7M414.8 290.3h.7M419.9 286.3h.7M422 282.4h.7M421.9 283.4h.7M418.7 288h.7M419 292h.7M416.8 290.1h.7M417.3 288.8h.7M405.7 293.8h.7M426.8 287.1h.7M414.6 289.5h.7M427.3 287.4h.7M419.4 281.7h.7M421.2 288.1h.7M428.1 280.4h.7M405.7 295h.7M422.2 289.4h.7M415.2 293.9h.7M407.9 295.5h.7M419.4 290.5h.7M413.4 293.3h.7M425.2 287h.7M425.6 281.9h.7M422.8 289.1h.7M415.5 290.3h.7M412.6 292h.7M416 287.7h.7M417.8 293.3h.7M419.3 289.2h.7M408 292.9h.7M415.8 286.6h.7M410.1 289.9h.7M422.7 282.5h.7M408.3 292.4h.7M418.5 287.3h.7M412.3 289.9h.7M410.4 296.8h.7M418.4 289.6h.7M421.5 286.8h.7M416.7 283.8h.7M425.1 284.3h.7M413.9 295h.7M420.5 290.1h.7M427.5 283.7h.7M407.6 290.3h.7M421.6 292h.7M426 281.7h.7M417.9 290.7h.7M415.3 291.4h.7M419.9 283.7h.7M418.4 286.9h.7M408.3 296.4h.7M417.8 294.4h.7M409.8 293.4h.7M425.5 281.8h.7M423.9 287.9h.7M415.7 292.9h.7M419.5 286.8h.7M411.9 291.3h.7M417.6 291.3h.7M417.4 286.9h.7M417.7 290.9h.7M418.4 291.4h.7M419.3 286.8h.7M416.7 290.7h.7M423.3 288h.7M410.9 290.6h.7M408.8 295.9h.7M408.8 288.3h.7M425.8 285.7h.7M423.2 288.3h.7M413.8 291.4h.7M420.6 282.7h.7M428.2 281.9h.7M425.5 282h.7M425.4 283.7h.7M417.1 284.8h.7M422.1 282.9h.7M410.4 294.3h.7M422.5 291.8h.7M413.3 289.2h.7M416.1 292.9h.7M419 286.8h.7M415.6 292.7h.7" stroke="#1f5fae" stroke-width="0.7" opacity="0.6"/>
<path d="M405.00 295.50C405.22 294.23 406.77 291.02 408.90 289.10C411.03 287.18 415.03 285.38 417.80 284.00C420.57 282.62 423.58 281.02 425.50 280.80C427.42 280.58 428.77 281.75 429.30 282.70C429.83 283.65 429.77 285.02 428.70 286.50C427.63 287.98 425.35 290.10 422.90 291.60C420.45 293.10 416.55 294.65 414.00 295.50C411.45 296.35 409.10 296.70 407.60 296.70C406.10 296.70 404.78 296.77 405.00 295.50Z" fill="#1f5fae" fill-opacity="0.15" stroke="#1f5fae" stroke-width=".9"/>
<path d="" stroke="#1f5fae" stroke-width="0.7" opacity="0.6"/>
<path d="M406.36 294.40C406.53 293.39 407.77 290.81 409.48 289.28C411.19 287.75 414.39 286.31 416.60 285.20C418.81 284.09 421.23 282.81 422.76 282.64C424.29 282.47 425.37 283.40 425.80 284.16C426.23 284.92 426.17 286.01 425.32 287.20C424.47 288.39 422.64 290.08 420.68 291.28C418.72 292.48 415.60 293.72 413.56 294.40C411.52 295.08 409.64 295.36 408.44 295.36C407.24 295.36 406.19 295.41 406.36 294.40Z" fill="#1f5fae" fill-opacity="0" stroke="#1f5fae" stroke-width=".9"/>
<path d="" stroke="#1f5fae" stroke-width="0.7" opacity="0.6"/>
<path d="M407.72 293.30C407.85 292.54 408.78 290.61 410.06 289.46C411.34 288.31 413.74 287.23 415.40 286.40C417.06 285.57 418.87 284.61 420.02 284.48C421.17 284.35 421.98 285.05 422.30 285.62C422.62 286.19 422.58 287.01 421.94 287.90C421.30 288.79 419.93 290.06 418.46 290.96C416.99 291.86 414.65 292.79 413.12 293.30C411.59 293.81 410.18 294.02 409.28 294.02C408.38 294.02 407.59 294.06 407.72 293.30Z" fill="#1f5fae" fill-opacity="0" stroke="#1f5fae" stroke-width=".9"/>
<path d="M411.6 325.8h.7M394 313.4h.7M409.3 320.3h.7M407.8 306.9h.7M394.9 317h.7M404.7 315.4h.7M407.8 307.4h.7M414.7 315.3h.7M414.9 325h.7M405.8 316.2h.7M416 315.5h.7M402.7 323.6h.7M408.5 324.5h.7M414.9 318.2h.7M399.2 308.1h.7M399.1 309.5h.7M413.1 308.6h.7M411.7 319.3h.7M395.2 323h.7M408.2 310.8h.7M400.8 312h.7M410.5 320.9h.7M397 321.2h.7M410.4 320.6h.7M398 320.1h.7M403.4 307.7h.7M396.7 317.5h.7M397.4 315h.7M394.1 320.3h.7M414.1 324.7h.7M406.1 311.6h.7M414.4 324.2h.7M407.3 306.9h.7M400.4 320.5h.7M401.6 313.3h.7M397.9 317.3h.7M395.3 322.5h.7M408.8 313.3h.7M398.4 319.9h.7M415.7 324.4h.7M397.8 322.5h.7M396.9 316.9h.7M401.1 313.3h.7M398.9 323.8h.7M410.3 320.7h.7M413.6 325.5h.7M411.1 314.7h.7M412.9 314.4h.7M402.1 312.6h.7M398.2 326h.7M403.8 318.8h.7M414.8 318.7h.7M403.2 318.8h.7M408.5 317.5h.7M393.4 321.1h.7M416.4 321.3h.7M407.9 310h.7M404.2 314.2h.7M405 310.1h.7M404.6 312.3h.7M411.9 318.9h.7M401.3 317.4h.7M411.7 322.6h.7M396.1 314.7h.7M398.1 319.5h.7M403.3 322.2h.7M416.7 319.9h.7M405.9 310h.7M405.5 312.3h.7M392 319.7h.7M397.2 314.9h.7M407.2 307.3h.7M408.6 307.3h.7M416 312.6h.7M407.1 317.8h.7M412.7 314.8h.7M405 306.2h.7M405.7 317.7h.7M405.5 315.3h.7M401.2 322h.7M405.9 323.3h.7M403.4 318h.7M405.6 310.4h.7M395.2 317.8h.7M412.5 320.5h.7M402.8 319.9h.7M413.4 309.6h.7M411.4 323.8h.7M411.8 320.5h.7M404.5 323.8h.7M396.2 315.1h.7M401.3 305.4h.7M394.1 327.9h.7M398.6 314.2h.7M405.1 318h.7M394.3 319.4h.7M408.6 308h.7M412.6 325.3h.7M406.1 315.1h.7M400.7 307.8h.7M408.4 323.9h.7M402 319.1h.7M402.8 315.5h.7M395.1 320.2h.7M413.9 317.3h.7M412 316.5h.7M396.4 314.6h.7M391.5 321.6h.7M406.2 312.2h.7M403.7 321.5h.7M397.7 322.8h.7M411.3 311.6h.7M400.7 318.4h.7M404 314.5h.7M403.2 326.5h.7M399.2 316h.7M411.1 313.6h.7M398.2 323.2h.7M397.9 319h.7M404.7 321h.7M393.7 323.2h.7M414.4 311.7h.7M419 324.3h.7M411.5 323.7h.7M396.9 318.5h.7M413.9 318.7h.7M405.2 323.4h.7M417.3 328.4h.7M408.7 317.4h.7M409.4 325.7h.7M397 313.1h.7M408.2 322.6h.7M414.2 313.8h.7M404.3 319.8h.7M415 313.7h.7M409.8 316.3h.7M401.5 317.2h.7M397.9 316.5h.7M393.4 318.7h.7M404.4 323.9h.7M405.7 306.7h.7M407.7 318.5h.7M407.4 308.4h.7M411 313.7h.7M400.6 322.3h.7M406.9 309.1h.7M410.9 310.2h.7M401 319.9h.7M399.7 320.8h.7M408.6 320.3h.7M398.1 318.5h.7M398.2 311.9h.7M404.9 314.4h.7M398.4 320.8h.7M410.9 322.6h.7M414.7 318.6h.7M400.3 312.9h.7M407.5 317.3h.7M400.3 321.1h.7M414.8 319.6h.7M405.6 323.4h.7M407.1 310.3h.7M396.2 317.4h.7M404.4 314h.7M406.2 304.6h.7M403.8 321.2h.7M405.8 307.9h.7M413.9 319.6h.7M396.7 325.2h.7M405.2 310.2h.7M409.2 319.9h.7M402.4 324.2h.7M410.3 327.6h.7M409.2 324.1h.7M414.3 323.5h.7M408.8 314.6h.7M399.5 325.1h.7M397.9 316.7h.7M411.6 319.2h.7M405 315.3h.7M397.5 321.8h.7M405.3 319.4h.7M406.2 318.1h.7M403.5 316.9h.7M405.5 308h.7M400 323.8h.7M414.2 317.6h.7M416.6 325h.7M406.2 310h.7M412.5 324.8h.7M407.2 311.6h.7M407 313.4h.7M404.7 307.8h.7M398.3 320.9h.7M403.1 311h.7M391.7 315.5h.7M416.2 323.7h.7M408.1 313.3h.7M407.5 314.9h.7M418 314.9h.7M406.3 319.3h.7M394.9 326.3h.7M403.1 311.4h.7M409.9 310.3h.7M391 315.9h.7M407.9 315.1h.7M401.5 305.4h.7M416.2 319.7h.7M406.6 325.5h.7M415.1 314.5h.7M405.9 322.2h.7M409.1 308.8h.7M405.9 309.2h.7M407.2 316h.7M397.8 316h.7M402.7 314.3h.7M408.6 314.3h.7M407 307.6h.7M404.7 318.3h.7M406.2 306.2h.7M397.1 322.6h.7M401.9 318.6h.7M414.2 320.2h.7M404.9 308.5h.7M393.6 323.4h.7M401.2 324.3h.7M414.7 314.3h.7M403.2 313.6h.7M396.1 321.5h.7M411 317.7h.7M405.6 324.5h.7M406.9 320.6h.7M399.3 319.2h.7M405.7 313.8h.7M416.8 327.2h.7M414.4 312.9h.7M399.1 309.4h.7M399.7 322.3h.7M408.5 314.2h.7M416.2 311.9h.7M408.5 314.9h.7M404.6 320.9h.7M409.7 322.6h.7M394.8 326.5h.7M401.5 307.3h.7M415.1 309.8h.7M397.6 313.3h.7M410.1 313.4h.7M404.5 308.1h.7M411.1 329h.7" stroke="#b81c20" stroke-width="0.7" opacity="0.6"/>
<path d="M392.80 316.00C393.63 313.67 396.13 313.58 397.80 312.00C399.47 310.42 401.30 307.67 402.80 306.50C404.30 305.33 405.47 304.92 406.80 305.00C408.13 305.08 409.47 305.92 410.80 307.00C412.13 308.08 413.72 309.50 414.80 311.50C415.88 313.50 416.72 316.58 417.30 319.00C417.88 321.42 422.38 324.83 418.30 326.00C414.22 327.17 397.05 327.67 392.80 326.00C388.55 324.33 391.97 318.33 392.80 316.00Z" fill="#b81c20" stroke="#b81c20" stroke-width="1.8"/>
<path d="M396.00 317.60C396.57 316.01 398.27 315.96 399.40 314.88C400.53 313.80 401.78 311.93 402.80 311.14C403.82 310.35 404.61 310.06 405.52 310.12C406.43 310.18 407.33 310.74 408.24 311.48C409.15 312.22 410.22 313.18 410.96 314.54C411.70 315.90 412.26 318.00 412.66 319.64C413.06 321.28 416.12 323.61 413.34 324.40C410.56 325.19 398.89 325.53 396.00 324.40C393.11 323.27 395.43 319.19 396.00 317.60Z" fill="none" stroke="#fff" stroke-width=".45" opacity=".9"/>
<path d="M397.70 318.45C398.12 317.26 399.40 317.22 400.25 316.41C401.10 315.60 402.04 314.20 402.80 313.61C403.56 313.01 404.16 312.80 404.84 312.84C405.52 312.88 406.20 313.31 406.88 313.86C407.56 314.41 408.37 315.13 408.92 316.15C409.47 317.17 409.90 318.75 410.19 319.98C410.49 321.21 412.79 322.96 410.70 323.55C408.62 324.14 399.87 324.40 397.70 323.55C395.53 322.70 397.27 319.64 397.70 318.45Z" fill="none" stroke="#fff" stroke-width=".45" opacity=".9"/>
<path d="M406.80 273.00C408.13 272.33 411.80 270.50 414.80 269.00C417.80 267.50 421.80 265.50 424.80 264.00C427.80 262.50 431.47 260.67 432.80 260.00" fill="none" stroke="#4cab36" stroke-width=".8"/>
<path d="M405.30 296.00C405.05 296.83 404.22 299.50 403.80 301.00C403.38 302.50 402.97 304.33 402.80 305.00" fill="none" stroke="#1f5fae" stroke-width=".8"/>
<path d="M412.30 296.50C412.05 297.42 410.97 300.25 410.80 302.00C410.63 303.75 411.22 306.17 411.30 307.00" fill="none" stroke="#1f5fae" stroke-width=".8"/>
<path d="M400.80 309.00C401.47 308.50 403.47 306.42 404.80 306.00C406.13 305.58 407.47 305.83 408.80 306.50C410.13 307.17 411.63 308.25 412.80 310.00C413.97 311.75 415.13 314.50 415.80 317.00C416.47 319.50 416.63 323.67 416.80 325.00" fill="none" stroke="#1f5fae" stroke-width=".8"/>
<path d="M404.80 322.00C405.13 320.83 406.13 316.00 406.80 315.00C407.47 314.00 408.30 314.83 408.80 316.00C409.30 317.17 409.63 321.00 409.80 322.00" fill="none" stroke="#1f5fae" stroke-width=".8"/>
</g>
<path d="M390.4 228.4h2.6M391.4 241.5h1.6M391.4 238.2h1.6M391.4 235.8h1.6M391.4 234.0h1.6M391.4 232.5h1.6M391.4 231.3h1.6M391.4 230.2h1.6M391.4 229.3h1.6M390.4 247.1h2.6M391.4 260.8h1.6M391.4 257.3h1.6M391.4 254.9h1.6M391.4 253.0h1.6M391.4 251.4h1.6M391.4 250.1h1.6M391.4 249.0h1.6M391.4 248.0h1.6M390.4 266.7h2.6M391.4 280.6h1.6M391.4 277.1h1.6M391.4 274.6h1.6M391.4 272.7h1.6M391.4 271.1h1.6M391.4 269.8h1.6M391.4 268.6h1.6M391.4 267.6h1.6M390.4 286.6h2.6M391.2 293.8h1.8M391.2 299.3h1.8M391.2 304.3h1.8M391.2 308.8h1.8M391.2 312.3h1.8M391.2 315.0h1.8M391.2 318.3h1.8M391.2 321.3h1.8M397.0 325.6v1.8M401.0 325.6v1.8M404.0 325.6v1.8M407.5 325.6v1.8M411.0 325.6v1.8M414.0 325.6v1.8M418.0 325.6v1.8M422.0 325.6v1.8M426.0 325.6v1.8M442.7 325.6v2.4M429.8 325.6v1.6M432.9 325.6v1.6M435.3 325.6v1.6M437.2 325.6v1.6M438.9 325.6v1.6M440.3 325.6v1.6M441.6 325.6v1.6M467.4 325.6v2.4M450.1 325.6v1.6M454.5 325.6v1.6M457.6 325.6v1.6M460.0 325.6v1.6M461.9 325.6v1.6M463.6 325.6v1.6M465.0 325.6v1.6M466.3 325.6v1.6M492.0 325.6v2.4M474.8 325.6v1.6M479.1 325.6v1.6M482.2 325.6v1.6M484.6 325.6v1.6M486.5 325.6v1.6M488.2 325.6v1.6M489.6 325.6v1.6M429.8 325.6v1.6M432.9 325.6v1.6M435.3 325.6v1.6M437.2 325.6v1.6M438.9 325.6v1.6M440.3 325.6v1.6M441.6 325.6v1.6" stroke="#000" stroke-width="1.1" fill="none"/>
<rect x="393.9" y="228.2" width="96.9" height="96.5" fill="none" stroke="#000" stroke-width="1.8"/>
<text x="379.4" y="234.4" font-size="11" text-anchor="end" fill="#000" >10</text>
<text x="380.5" y="226.7" font-size="7.8" text-anchor="start" fill="#000" >6</text>
<text x="379.4" y="254.3" font-size="11" text-anchor="end" fill="#000" >10</text>
<text x="380.5" y="246.6" font-size="7.8" text-anchor="start" fill="#000" >5</text>
<text x="379.4" y="272.9" font-size="11" text-anchor="end" fill="#000" >10</text>
<text x="380.5" y="265.2" font-size="7.8" text-anchor="start" fill="#000" >4</text>
<text x="379.4" y="293.5" font-size="11" text-anchor="end" fill="#000" >10</text>
<text x="380.5" y="285.8" font-size="7.8" text-anchor="start" fill="#000" >3</text>
<text x="380.2" y="320.2" font-size="11" text-anchor="end" fill="#000" >0</text>
<text x="355.0" y="275.8" font-size="12.2" text-anchor="middle" transform="rotate(-90 355.0 275.8)" dy="4.3">anti-Strep-PE</text>
<text x="407.2" y="347.4" font-size="11" text-anchor="middle" fill="#000" >0</text>
<text x="433.2" y="347.4" font-size="11" text-anchor="start" fill="#000" >10</text>
<text x="445.7" y="338.6" font-size="7.8" text-anchor="start" fill="#000" >3</text>
<text x="457.5" y="347.4" font-size="11" text-anchor="start" fill="#000" >10</text>
<text x="470.2" y="338.6" font-size="7.8" text-anchor="start" fill="#000" >4</text>
<text x="484.8" y="347.4" font-size="11" text-anchor="start" fill="#000" >10</text>
<text x="496.8" y="338.6" font-size="7.8" text-anchor="start" fill="#000" >5</text>
<text x="444.4" y="360.9" font-size="12.2" text-anchor="middle" fill="#000" >anti-myc-FITC</text>
<clipPath id="c11"><rect x="510.8" y="229.0" width="95.1" height="94.8"/></clipPath>
<g clip-path="url(#c11)">
<path d="M532.2 311.4h.6M522.4 268.9h.6M513 264.6h.6M548.2 292.9h.6M528.8 299.9h.6M535.7 321.9h.6M535.1 288.6h.6M539.2 270.8h.6M524 267.9h.6M537.4 307.2h.6M530.4 305.5h.6M514.7 300.7h.6M535.6 277.3h.6M539.8 304.3h.6M518 302.1h.6M541 318.5h.6M546.5 282.8h.6M539.8 274.2h.6M519.5 323.1h.6M521 271h.6M517.2 272.7h.6M519.1 317.3h.6M535.3 265.4h.6M534.2 299.9h.6M545.1 281.7h.6M546.4 277.9h.6M534.8 306.3h.6M543.8 276.5h.6M534 318.2h.6M542.7 269.5h.6M544.2 303.4h.6M513.6 267.9h.6M532.5 309.3h.6M515 272.8h.6M515.4 318.9h.6M543.8 264.7h.6M544.8 297.2h.6M549.1 290.6h.6M526.4 319.2h.6M516.7 298h.6M511.8 314.7h.6M537.2 317.6h.6M530.1 300.4h.6M531.9 298.1h.6M545.8 313.1h.6M540 314.9h.6M550 304.7h.6M519.3 321.8h.6M542.2 271.1h.6M517 317.3h.6M544.5 277.8h.6M527.2 291.3h.6M517.2 279.7h.6M516 280.5h.6M549.5 314.3h.6M516.4 306.8h.6M528.8 267.8h.6M534.3 289.7h.6M515.4 289.8h.6M512.3 311.7h.6M537.8 299.8h.6M527.1 276.5h.6M530.9 292.2h.6M529 283.7h.6M531.6 270.5h.6M530.4 305.4h.6M543.1 286.1h.6M547.8 294.2h.6M546.3 322.1h.6M534.2 312.2h.6M528.8 298.2h.6M546.2 269.6h.6M544.9 301h.6M542.4 299.6h.6M546.5 310.8h.6" stroke="#b81c20" stroke-width="0.6" opacity="0.5"/>
<path d="M514.4 300.5h.6M520.2 303.1h.6M517.9 302.9h.6M535.7 278.7h.6M539.2 322h.6M538.8 306.5h.6M540.6 295h.6M525.9 310.8h.6M521.1 303.1h.6M522.3 324h.6M515.3 295.6h.6M532.8 312.4h.6M532.1 296.7h.6M533.4 288.3h.6M520.1 276.6h.6M538.3 306.4h.6M534.4 278.5h.6M527 296.9h.6M517.5 274.4h.6M521.6 308.8h.6M532.6 314.6h.6M524.8 295.3h.6M515.4 306.4h.6M520.4 324.6h.6M539 278.5h.6M532.5 306.3h.6M535.4 301.2h.6M528 315.8h.6M537.6 302.8h.6M538 288.3h.6M515.1 285.2h.6M518.5 292.9h.6M518.7 276.3h.6M523 276.3h.6M519 304.5h.6M520 274.2h.6M526.6 317.9h.6M530.3 318.2h.6M531.5 307.8h.6M530.9 306.4h.6M532.5 304.3h.6M531 319.1h.6M536.1 292.4h.6M519.7 277.7h.6M521.1 315.8h.6M525 299.7h.6M511.1 286.7h.6M540.3 285.5h.6M527.3 286h.6M533.9 312.2h.6" stroke="#4cab36" stroke-width="0.6" opacity="0.5"/>
<path d="M549.5 301.9h.6M557.8 291.5h.6M535.1 284.8h.6M515.8 308h.6M552.8 317.2h.6M558.8 323.2h.6M555.7 304.2h.6M540 305.8h.6M525.8 316.2h.6M543.5 319.7h.6M531.9 294h.6M545.6 320.2h.6M534.6 294.6h.6M538.6 285.6h.6M516.3 290.8h.6M522.4 288.5h.6M538.9 313.2h.6M534.3 294.4h.6M521.5 285.2h.6M534.2 294.6h.6M518.7 301.7h.6M560.5 315.5h.6M536.2 292.8h.6M527.1 290.3h.6M528.8 295h.6M541.1 314.1h.6M518.8 301.4h.6M532.9 292.3h.6M547.6 299.6h.6M554.5 287.2h.6M556.3 291.3h.6M552.5 318.8h.6M531.6 291h.6M521.2 310.2h.6M526 313.3h.6M528.5 310.1h.6M547.6 309h.6M516.3 299.7h.6M538.6 321.8h.6M535.7 312.1h.6M546.9 297.1h.6M524.4 315.2h.6M552.2 303.9h.6M525.9 286.4h.6M555.5 322h.6M525 297h.6M536.3 300.2h.6M521.5 310.6h.6M540.9 309.8h.6M563.5 297.7h.6" stroke="#1f5fae" stroke-width="0.6" opacity="0.5"/>
<path d="M536.4 268.7h.7M529.6 263.6h.7M539 264.9h.7M544.7 270h.7M546.3 268.6h.7M531.5 266.2h.7M540.9 267.4h.7M536.1 265.9h.7M544.8 267.6h.7M547.7 263h.7M547.3 264.9h.7M548.3 267.5h.7M543.6 269.5h.7M547.9 261.8h.7M540.6 264.5h.7M543.9 264.6h.7M539 270.3h.7M538.5 271.8h.7M548.6 268.4h.7M535.4 266.1h.7M547.4 271.9h.7M540.4 271.1h.7M545.6 263.9h.7M531.5 271.5h.7M548.6 262.8h.7M540.2 269.4h.7M549.2 269.2h.7M549.2 264.9h.7M535.4 264.4h.7M529.4 270.6h.7M548.6 264.8h.7M549.4 267.4h.7M528.8 270.8h.7M535.2 266.8h.7M545.2 270.2h.7M543.7 269.9h.7M547.9 267h.7M538.2 264h.7M537.9 264.9h.7M546.7 264.5h.7M525.5 273.3h.7M534 269.4h.7M546 271h.7M539 266.6h.7M548.2 264.3h.7M548.3 264.8h.7M547.4 268.6h.7M548.9 264.5h.7M531.7 273h.7M547.8 266.7h.7M539.5 266h.7M547.3 265.7h.7M540.4 264.6h.7M548.2 266.3h.7M541 266.9h.7M541 272.8h.7M532.5 271.2h.7M532.2 271.5h.7M538.8 270.7h.7M544 265.5h.7M545.8 269.2h.7M547.5 268.9h.7M548.9 266.9h.7M535.2 265.9h.7M549.2 269.7h.7M540.8 268.5h.7M547.9 266.7h.7M536.5 267.6h.7M535.9 269.6h.7M531.1 269.1h.7M536.3 265.4h.7M546.2 265h.7" stroke="#b81c20" stroke-width="0.7" opacity="0.6"/>
<path d="M542.7 267.8h.7M538.5 270.3h.7M535.1 269.1h.7M534.5 272.2h.7M547.2 265.3h.7M547 269.8h.7M540.8 269.2h.7M546.3 270.2h.7M546.1 268.6h.7M539.5 265.7h.7M534.9 267.1h.7M547 269h.7M545.9 268.1h.7M537.3 267.4h.7M544.5 271.5h.7M531.3 269.7h.7M545.4 266.8h.7M538.6 267.9h.7M545.3 269.8h.7M546.3 266.6h.7M542.8 267.1h.7M541.3 266.4h.7M542 265.5h.7M542.7 268.1h.7M545.8 268.1h.7M536.1 270.7h.7M546.1 266h.7M544.1 266.9h.7M544.6 267h.7M546.7 267.8h.7M545.6 269.7h.7M547.9 270.6h.7M543.1 269.2h.7M548.2 269.9h.7M538.9 266.6h.7M544.8 271.4h.7" stroke="#4cab36" stroke-width="0.7" opacity="0.6"/>
<path d="M532.9 297.6h.7M535.5 287.6h.7M547.6 290.5h.7M537.9 288.6h.7M530.6 290h.7M536.7 291.7h.7M528.6 294.7h.7M528.2 287.4h.7M530.1 288.4h.7M531.4 292.9h.7M535.2 293.9h.7M539 294.1h.7M541.7 294h.7M542.8 296.1h.7M535.6 294.4h.7M536.2 297.5h.7M537 298.4h.7M544.7 288.6h.7M534 284.9h.7M528.6 293.6h.7M536.5 291.8h.7M543.7 291.3h.7M544.2 287.9h.7M527.5 300h.7M535.3 296.3h.7M532.5 298.5h.7M537.2 298.8h.7M538.6 299.9h.7M543.6 296.2h.7M535.9 297h.7M533.7 288.6h.7M527.8 288.2h.7M537.3 283.9h.7M548.4 292.6h.7M548.4 295.3h.7M545.5 295.8h.7M546.9 297.2h.7M546.8 291.3h.7M527.7 292.7h.7M536.4 293.9h.7M546.1 291h.7M543.4 296.2h.7M529.2 290.6h.7M532.5 293.3h.7M528.9 300.5h.7M539 292.1h.7M526.5 298.7h.7M548 290.3h.7M542.4 285.7h.7M525.8 296.3h.7M528.2 294.6h.7M545.4 286.8h.7M541 286.8h.7M548.1 290.1h.7M540 293.5h.7M536.2 294.4h.7M538.6 288.3h.7M529.2 300.9h.7M544.1 285.4h.7M542.6 293.7h.7" stroke="#1f5fae" stroke-width="0.7" opacity="0.55"/>
<path d="M563.1 262.4h.7M565.6 260.2h.7M555.3 269.6h.7M553.5 267.7h.7M553.2 264.7h.7M559.5 264.9h.7M557.1 262.8h.7M556.6 262.3h.7M565.7 258.5h.7M567.1 260.7h.7M550.4 265.9h.7M558.7 264.9h.7M560.5 259.4h.7M557.4 266h.7M558.8 263h.7M553.7 269.9h.7M558.7 266.2h.7M566.1 261.7h.7M559.7 268.8h.7M566.8 258h.7M561.2 264.9h.7M561.7 264.9h.7M566.2 257.4h.7M559.8 262.5h.7M569.3 262h.7M564 266.2h.7M561.3 267.5h.7M558.8 265.1h.7M567 266.4h.7M551.7 269.5h.7M553.4 267.5h.7M562.7 262.1h.7M553.6 267.2h.7M562.4 262.3h.7M557.8 266.7h.7M566.1 266.8h.7M569.1 258.5h.7M562.8 262h.7M549.2 267.9h.7M563.8 264.3h.7M568.9 263.1h.7M555.6 265.3h.7M556.8 267h.7M553 269.2h.7M565.9 264.3h.7M560.4 264.8h.7M557 265.8h.7M560.4 267.3h.7M556.8 265.9h.7M554.9 267.9h.7" stroke="#4cab36" stroke-width="0.7" opacity="0.6"/>
<path d="M546.80 268.50C547.63 267.58 552.63 265.58 555.80 264.00C558.97 262.42 563.80 259.33 565.80 259.00C567.80 258.67 568.63 260.67 567.80 262.00C566.97 263.33 563.63 265.75 560.80 267.00C557.97 268.25 553.13 269.25 550.80 269.50C548.47 269.75 545.97 269.42 546.80 268.50Z" fill="#4cab36" stroke="#4cab36" stroke-width="1.8"/>
<path d="M558.9 259.1h.7M577.3 249.2h.7M557.7 261h.7M575 254.7h.7M568.2 258.8h.7M577.1 252.2h.7M576.8 251.7h.7M576.4 247.7h.7M576.5 253.6h.7M569.2 260.4h.7M562.9 262.1h.7M579.2 247.7h.7M569.5 257.8h.7M581.6 252.2h.7M550.7 266.5h.7M579 251.6h.7M553.8 265.2h.7M577.5 249.2h.7M553.9 261.9h.7M579 251.8h.7M572.7 253.8h.7M558.8 259h.7M560.8 262h.7M560.5 258.8h.7M562.2 253.6h.7M566.5 257.7h.7M555.1 265h.7M580.6 248.9h.7M559.7 266h.7M571.5 252.9h.7M564.7 257h.7M563.7 256.5h.7M570.2 249.6h.7M556.7 261.1h.7M562.6 258.6h.7M558.8 261.2h.7M568.8 255.4h.7M582.2 246.9h.7M563.2 259.6h.7M573.7 250.1h.7M582 249.6h.7M581.2 247.3h.7M556.7 259.3h.7M566.2 257.6h.7M559.1 262.1h.7M563.2 257.8h.7M576.3 249.2h.7M575.5 255.7h.7M569.1 261.2h.7M573.5 253.6h.7M571.7 250.9h.7M564 264.2h.7M576.5 250.3h.7M555.8 264.5h.7M583.5 243.7h.7M560.7 258.7h.7M574.6 251.3h.7M580.2 249.4h.7M561.9 260.6h.7M578.1 251.7h.7M576.2 254.9h.7M554.1 265.3h.7M574.9 257.2h.7M556.1 258.4h.7M564.5 255.9h.7M547.7 266.2h.7M559 268h.7M573.1 253.2h.7M577.1 253.6h.7M573.7 252h.7M576.6 259.2h.7M554.4 264.8h.7M579.2 250.7h.7M566.8 253.4h.7M582.6 244.7h.7M579 248.2h.7M583 247.5h.7M576 253.9h.7M578.3 248.3h.7M580.9 251h.7M553.3 262.8h.7M561 256.6h.7M572 248.8h.7M551.7 265.4h.7M565.6 259.4h.7M577.3 247.6h.7M574.7 253.2h.7M573.2 253.7h.7M578.1 254.6h.7M565.8 261.7h.7M574.8 252.6h.7M576.6 251.4h.7M555.8 262.8h.7M580.3 248.5h.7M586.4 244.8h.7M558.5 261.1h.7M568.2 255.3h.7M554.9 266h.7M558.2 266.7h.7M563 260.4h.7M570.7 255.4h.7M573.8 254.5h.7M553.5 263.8h.7M566.1 258.3h.7M573 253.6h.7M557.1 265.7h.7M560.6 262.5h.7M564.6 257.8h.7M577.6 253.9h.7M579.4 249.2h.7M562.7 257.9h.7M562.7 263.2h.7M570.9 257.2h.7M554.8 264.7h.7M571.8 251.6h.7M557.6 265.8h.7M563.5 256.8h.7M566.2 258.1h.7M572.2 254.1h.7M569 253.2h.7M576.3 253.1h.7M554.4 262.7h.7M578.5 253.1h.7M567.1 253.7h.7M554 264.1h.7M569.4 258.3h.7M575.9 250.1h.7M559.8 259.8h.7M575 251.5h.7M575.9 249.5h.7M575.5 253.9h.7M575.8 254h.7M558.1 259.8h.7M563.1 259.9h.7M576.3 256.4h.7M564.2 262.2h.7M564.3 264.7h.7M567.4 254.2h.7M564.9 255.8h.7M560.9 263.7h.7M563.2 260.1h.7M556.3 256.9h.7M567 255.4h.7M572.6 258.4h.7M558 262.8h.7M571.8 256.9h.7M579.2 253h.7M563.5 265.8h.7M573.2 253.8h.7M563.3 259.5h.7M569.5 254.4h.7M582.1 248.9h.7M565.6 260.1h.7M576.9 253.6h.7M584.1 245.2h.7M572.3 255.6h.7M568.5 252.5h.7M563.4 258.5h.7M555.2 262.7h.7M573.9 253.5h.7M581.4 252.3h.7M550.1 267.8h.7M562.8 261.5h.7M581.8 250.8h.7M561.4 259h.7M556.4 265.8h.7M562 264.2h.7M566.7 257.7h.7M551.8 260.1h.7M557.4 261.7h.7M558.8 262.7h.7M580.5 246.6h.7M560.3 256.2h.7M568.9 251.5h.7M561.1 260.8h.7M570.5 252h.7M587.3 246.2h.7M554.6 269.5h.7M553.8 266h.7M551.4 267.9h.7M559.9 263h.7M556.1 264.6h.7M578.8 252.5h.7M582.8 250.7h.7M571.4 258h.7M553.1 263.5h.7M560.8 259.5h.7M562.7 256.2h.7M577.8 247.7h.7M552.1 267.1h.7M549.6 266.6h.7M561.9 258.9h.7M564.1 253.4h.7M552.9 265.6h.7M549.6 264.7h.7M568.3 256.3h.7M559.1 261.6h.7M554.9 260.3h.7M563 257.3h.7M581.8 251.5h.7M551.7 267.3h.7M556.9 263.3h.7M564.6 261.2h.7M564 260h.7M555.6 265.8h.7M576.6 248.6h.7M562.3 262.4h.7M583.2 247.3h.7M565.9 261.7h.7M571.7 252.7h.7M557.7 261.8h.7M556.4 260.3h.7M556.3 261.7h.7M567.5 258.1h.7M570.9 252.1h.7M576.6 251.2h.7M580.2 248h.7M560.2 260.2h.7M572.2 255.4h.7M557.4 261.5h.7M553.4 266.7h.7M575.6 257.5h.7M561.6 258.4h.7M582 246.1h.7M575.1 249.3h.7M573.5 253.1h.7M587.3 248.2h.7M576.8 252.1h.7M578.8 252h.7M580.1 255.1h.7M571.6 257.1h.7M564.7 253.8h.7M557.1 263.6h.7M569.9 253.8h.7M574.3 256.8h.7M564.2 256.9h.7M579.6 245.5h.7M582.6 245.1h.7M560.2 256.4h.7M577.4 254.2h.7M572.8 259.1h.7M553.5 262.8h.7M579.5 250.1h.7M575.6 250h.7M582.7 249.1h.7M558.7 262.1h.7M572.9 252.9h.7M572.7 256.6h.7M551.5 268.7h.7M575.1 253.3h.7" stroke="#b81c20" stroke-width="0.7" opacity="0.6"/>
<path d="M549.20 266.10C549.20 265.13 552.18 263.20 554.30 261.60C556.42 260.00 559.13 258.20 561.90 256.50C564.67 254.80 567.92 253.00 570.90 251.40C573.88 249.80 577.35 247.97 579.80 246.90C582.25 245.83 584.85 244.78 585.60 245.00C586.35 245.22 585.68 246.60 584.30 248.20C582.92 249.80 579.97 252.58 577.30 254.60C574.63 256.62 571.07 258.60 568.30 260.30C565.53 262.00 563.03 263.62 560.70 264.80C558.37 265.98 556.22 267.18 554.30 267.40C552.38 267.62 549.20 267.07 549.20 266.10Z" fill="#b81c20" stroke="#b81c20" stroke-width="1.8"/>
<path d="M550.35 265.91C550.35 265.25 552.38 263.94 553.82 262.85C555.26 261.76 557.11 260.54 558.99 259.38C560.87 258.22 563.08 257.00 565.11 255.91C567.14 254.82 569.49 253.58 571.16 252.85C572.83 252.13 574.59 251.41 575.10 251.56C575.61 251.71 575.16 252.65 574.22 253.74C573.28 254.82 571.27 256.72 569.46 258.09C567.65 259.46 565.22 260.81 563.34 261.96C561.46 263.12 559.76 264.22 558.17 265.02C556.59 265.83 555.12 266.64 553.82 266.79C552.52 266.94 550.35 266.57 550.35 265.91Z" fill="none" stroke="#fff" stroke-width=".45" opacity=".9"/>
<path d="M550.96 265.81C550.96 265.31 552.49 264.33 553.56 263.51C554.64 262.70 556.03 261.78 557.44 260.91C558.85 260.04 560.51 259.12 562.03 258.31C563.55 257.49 565.32 256.56 566.57 256.01C567.82 255.47 569.15 254.93 569.53 255.04C569.91 255.16 569.57 255.86 568.87 256.68C568.16 257.49 566.65 258.91 565.29 259.94C563.93 260.97 562.12 261.98 560.70 262.85C559.29 263.72 558.02 264.54 556.83 265.14C555.64 265.75 554.54 266.36 553.56 266.47C552.59 266.58 550.96 266.30 550.96 265.81Z" fill="none" stroke="#fff" stroke-width=".45" opacity=".9"/>
<path d="M564.1 279.1h.7M567 274.1h.7M557.2 277.4h.7M551.7 288.1h.7M555.1 286h.7M554 290.7h.7M579 269h.7M579.2 261.8h.7M557.1 279.1h.7M563.6 278.9h.7M566.1 275.8h.7M575.5 271h.7M565.7 276.9h.7M573.6 268.8h.7M583 267.2h.7M561.7 280.7h.7M580.7 262.6h.7M563.4 271.8h.7M555.7 280.7h.7M576.3 270.8h.7M553.4 287h.7M578.2 264.7h.7M577 271.1h.7M570.4 275.1h.7M582.4 259.7h.7M575.5 266h.7M551.8 288.7h.7M579.1 259.5h.7M571.6 273.7h.7M555.3 286.6h.7M584.2 265.2h.7M556.2 280.2h.7M583.9 261.6h.7M556.4 292.7h.7M552.6 289.8h.7M581.1 263h.7M564 274.8h.7M561.7 276.3h.7M553.1 287.8h.7M571.4 273.2h.7M568.6 277.3h.7M566 273.1h.7M577.7 268.3h.7M580.8 265.9h.7M551 281.4h.7M584.8 262h.7M564.8 281h.7M563.2 280.3h.7M562.8 275.4h.7M563.2 281h.7M580.8 268h.7M579 267.3h.7M555.7 287.8h.7M584.9 265.7h.7M564.1 273.6h.7M574.7 269.8h.7M559.5 282.7h.7M574.3 264.5h.7M573.5 269.6h.7M567.4 280.9h.7M571 272.8h.7M576.3 270.6h.7M581.9 261.3h.7M572.8 274.5h.7M563.9 280.8h.7M584.7 266.1h.7M575.8 270.1h.7M580.3 259.9h.7M569 272.4h.7M561.4 284h.7M553.1 287.4h.7M556.6 285.4h.7M578.8 267.2h.7M570.5 267h.7M572.5 266.4h.7M562.4 279.1h.7M553.1 287.6h.7M575.6 271.2h.7M562.3 276.1h.7M579.8 264.7h.7M580.6 265.3h.7M560.4 279.3h.7M581.8 263.6h.7M572.2 273.7h.7M577.3 271.1h.7M582.3 262.7h.7M553.8 282.9h.7M573.1 272.8h.7M577.9 265.2h.7M560.3 282.6h.7M559 282.1h.7M559.2 276.5h.7M555.6 284.3h.7M567.5 276.7h.7M570.6 279.5h.7M567.8 274.8h.7M551.2 284.2h.7M575.8 263.8h.7M574.8 266.1h.7M576.9 269.5h.7M560.8 278.4h.7M552.8 283.7h.7M568.6 275.6h.7M551.9 289h.7M577.6 264.4h.7M577.9 263.9h.7M566.5 283.3h.7M587.8 261h.7M580.9 270.8h.7M568.1 272.8h.7M588 264.2h.7M567.9 274.9h.7M570.9 272.7h.7M568.4 276.9h.7M559.7 278.4h.7M547.6 288h.7M553 282.6h.7M577.8 273.6h.7M557.3 288.6h.7M581.7 264.6h.7M569.4 268.6h.7M583.9 264.3h.7M552.7 286.2h.7M549.2 285h.7M557.6 279.4h.7M563.2 284.8h.7M565.8 276.6h.7M555.2 282.6h.7M573.4 270.9h.7M557.5 282.4h.7M573.1 271.9h.7M573.7 267.7h.7M571.3 274h.7M576.5 261.8h.7M560.8 284.2h.7M550.3 286h.7M558.3 285.9h.7M555.1 284.2h.7M569.9 275.3h.7M567.2 280.9h.7M568.5 269.6h.7M558.1 284.2h.7M571.2 271.9h.7M577 272.6h.7M568.1 274.2h.7M547.2 289.7h.7M563.2 282.4h.7M564.6 281.9h.7M560.4 281.6h.7M578.4 266.5h.7M576.5 269.3h.7M569.6 275.1h.7M553.8 286.9h.7M561.2 284.4h.7M564.5 277.2h.7M549.5 284.6h.7M567.5 276.7h.7M563.5 276h.7M568.5 279.4h.7M574.2 270.1h.7M584 263.3h.7M577.4 269.2h.7M568.3 273.3h.7M580.5 269h.7M561.9 282h.7M558.6 284.5h.7M558.8 286.6h.7M588.4 263.7h.7M553.6 286h.7M557.5 284.2h.7M581.6 267.2h.7M582.2 260.9h.7M554 279.7h.7M567.4 276.2h.7M567.7 274.1h.7M568.3 276.2h.7M580.6 268.1h.7M585.7 261.3h.7M587.3 264.6h.7M558.7 285.8h.7M572.7 273.9h.7M581.6 259.7h.7M582.8 260h.7M589.8 262.1h.7M572.9 265.5h.7M560.1 280.7h.7M561.3 276.7h.7M558.7 287.6h.7M556 287h.7M588.7 258.4h.7M572.6 273.3h.7M579.4 262.8h.7M576.1 263.6h.7M585.4 264.6h.7M578.1 267.8h.7M579.5 267.8h.7M558 280.7h.7M573 266.6h.7M565.9 278.5h.7M586.6 263.7h.7M571.2 278.2h.7M557 286.2h.7M575.6 275.6h.7M576.5 273.8h.7M571.9 273.1h.7M580.3 264.1h.7M566.9 275.1h.7M580.3 271.5h.7M555.6 287.1h.7M578.3 267.2h.7M553.7 290.5h.7M566.1 276.4h.7M575.7 264.1h.7M570.6 275.5h.7M582.7 260h.7M567.6 272.1h.7M553.9 286.6h.7M554.6 283.5h.7M554.2 280.8h.7M566.2 274.6h.7M580.4 265.5h.7M570.6 274.2h.7M572.4 277h.7M569.2 279.5h.7M586.6 260.6h.7M575.6 263.2h.7M554.9 284.4h.7M549.7 286.7h.7M586.7 260.7h.7M578.4 265.6h.7M553.8 289h.7M555 282.5h.7M567.2 279.6h.7M568.9 277.7h.7M577.1 268.3h.7M570.6 271.7h.7M552 289h.7M579.6 267.5h.7M582.2 270h.7M553.4 283.4h.7M553.8 285.1h.7M551.9 286h.7M568.8 276h.7M586.7 264.1h.7M562.5 278h.7M564.2 274.2h.7M574.4 268.4h.7M569.4 268.8h.7M573.3 265.6h.7M561.5 281.3h.7" stroke="#1f5fae" stroke-width="0.7" opacity="0.6"/>
<path d="M547.90 288.40C548.53 287.12 551.08 284.72 553.00 282.70C554.92 280.68 557.07 278.43 559.40 276.30C561.73 274.17 564.23 272.03 567.00 269.90C569.77 267.77 573.02 265.20 576.00 263.50C578.98 261.80 582.88 260.33 584.90 259.70C586.92 259.07 587.77 259.07 588.10 259.70C588.43 260.33 588.28 261.80 586.90 263.50C585.52 265.20 582.47 267.55 579.80 269.90C577.13 272.25 573.88 275.25 570.90 277.60C567.92 279.95 564.67 282.08 561.90 284.00C559.13 285.92 556.42 288.03 554.30 289.10C552.18 290.17 550.27 290.52 549.20 290.40C548.13 290.28 547.27 289.68 547.90 288.40Z" fill="#1f5fae" stroke="#1f5fae" stroke-width="1.8"/>
<path d="M550.82 288.10C550.98 287.78 551.62 287.18 552.10 286.68C552.58 286.17 553.12 285.61 553.70 285.07C554.28 284.54 554.91 284.01 555.60 283.48C556.29 282.94 557.10 282.30 557.85 281.88C558.60 281.45 559.57 281.08 560.07 280.93C560.58 280.77 560.79 280.77 560.88 280.93C560.96 281.08 560.92 281.45 560.57 281.88C560.23 282.30 559.47 282.89 558.80 283.48C558.13 284.06 557.32 284.81 556.57 285.40C555.83 285.99 555.02 286.52 554.32 287.00C553.63 287.48 552.95 288.01 552.42 288.27C551.90 288.54 551.42 288.63 551.15 288.60C550.88 288.57 550.67 288.42 550.82 288.10Z" fill="#fff"/>
<path d="M550.36 288.15C550.59 287.67 551.53 286.79 552.24 286.04C552.95 285.29 553.75 284.46 554.61 283.67C555.48 282.88 556.40 282.09 557.42 281.30C558.45 280.51 559.65 279.56 560.75 278.94C561.86 278.31 563.30 277.76 564.05 277.53C564.79 277.29 565.11 277.29 565.23 277.53C565.35 277.76 565.30 278.31 564.79 278.94C564.28 279.56 563.15 280.43 562.16 281.30C561.17 282.17 559.97 283.28 558.87 284.15C557.76 285.02 556.56 285.81 555.54 286.52C554.51 287.23 553.51 288.01 552.72 288.41C551.94 288.80 551.23 288.93 550.84 288.89C550.44 288.84 550.12 288.62 550.36 288.15Z" fill="none" stroke="#fff" stroke-width=".5"/>
<path d="M549.97 288.19C550.26 287.58 551.46 286.46 552.36 285.51C553.26 284.56 554.28 283.50 555.37 282.50C556.47 281.50 557.64 280.50 558.94 279.49C560.24 278.49 561.77 277.28 563.17 276.49C564.58 275.69 566.41 275.00 567.36 274.70C568.30 274.40 568.70 274.40 568.86 274.70C569.02 275.00 568.95 275.69 568.30 276.49C567.65 277.28 566.21 278.39 564.96 279.49C563.71 280.60 562.18 282.01 560.78 283.11C559.37 284.22 557.85 285.22 556.55 286.12C555.25 287.02 553.97 288.02 552.97 288.52C551.98 289.02 551.08 289.18 550.58 289.13C550.08 289.07 549.67 288.79 549.97 288.19Z" fill="none" stroke="#fff" stroke-width=".5"/>
<path d="M549.58 288.23C549.94 287.50 551.39 286.13 552.48 284.98C553.58 283.83 554.80 282.55 556.13 281.33C557.46 280.12 558.89 278.90 560.46 277.68C562.04 276.47 563.89 275.00 565.59 274.04C567.29 273.07 569.52 272.23 570.67 271.87C571.82 271.51 572.30 271.51 572.49 271.87C572.68 272.23 572.60 273.07 571.81 274.04C571.02 275.00 569.28 276.34 567.76 277.68C566.24 279.02 564.39 280.73 562.69 282.07C560.99 283.41 559.13 284.63 557.56 285.72C555.98 286.81 554.43 288.02 553.22 288.63C552.02 289.24 550.93 289.43 550.32 289.37C549.71 289.30 549.22 288.96 549.58 288.23Z" fill="none" stroke="#fff" stroke-width=".5"/>
<path d="M550.82 288.10C550.98 287.78 551.62 287.18 552.10 286.68C552.58 286.17 553.12 285.61 553.70 285.07C554.28 284.54 554.91 284.01 555.60 283.48C556.29 282.94 557.10 282.30 557.85 281.88C558.60 281.45 559.57 281.08 560.07 280.93C560.58 280.77 560.79 280.77 560.88 280.93C560.96 281.08 560.92 281.45 560.57 281.88C560.23 282.30 559.47 282.89 558.80 283.48C558.13 284.06 557.32 284.81 556.57 285.40C555.83 285.99 555.02 286.52 554.32 287.00C553.63 287.48 552.95 288.01 552.42 288.27C551.90 288.54 551.42 288.63 551.15 288.60C550.88 288.57 550.67 288.42 550.82 288.10Z" fill="none" stroke="#1f5fae" stroke-width=".6"/>
<path d="M509.9 321.6h.7M507.5 313.7h.7M508.1 316.6h.7M509.4 314h.7M520 325.4h.7M516.8 324h.7M518.6 321.9h.7M517.3 321.5h.7M516.3 324h.7M514.1 325.3h.7M512.5 326.2h.7M512.3 323.1h.7M512.7 321h.7M513.2 322.8h.7M511.4 318.6h.7M516.6 325.6h.7M509.8 319.9h.7M514.7 325.7h.7M513.8 319.9h.7M513.4 321.4h.7M512.6 312h.7M508.7 321h.7M511.4 325.5h.7M511.3 326.3h.7M512.7 323.3h.7M516.4 324h.7M509.4 319.6h.7M513.2 325.8h.7M511.1 321.5h.7M510.8 318.9h.7M510.2 324.7h.7M509.4 327h.7M509.4 314.6h.7M510.2 323.4h.7M511.6 319.8h.7M513.3 322.4h.7M512 324.3h.7M511.4 320.1h.7M515 320h.7M509.9 321.7h.7" stroke="#b81c20" stroke-width="0.7" opacity="0.6"/>
<path d="M508.80 315.00C509.47 313.50 511.63 315.83 512.80 317.00C513.97 318.17 514.85 320.50 515.80 322.00C516.75 323.50 519.67 325.33 518.50 326.00C517.33 326.67 510.42 327.83 508.80 326.00C507.18 324.17 508.13 316.50 508.80 315.00Z" fill="#b81c20" stroke="#b81c20" stroke-width="1.8"/>
<path d="M511.2 323.3h.7M510.5 322.8h.7M514.3 325.2h.7M507.9 327.2h.7M506.6 323h.7M510.6 322.4h.7M509.5 325h.7M511.9 322.6h.7M507.9 328h.7M514.3 323h.7" stroke="#1f5fae" stroke-width="0.7" opacity="0.6"/>
<path d="M508.80 322.00C509.80 321.67 513.18 323.33 514.80 324.00C516.42 324.67 519.50 325.67 518.50 326.00C517.50 326.33 510.42 326.67 508.80 326.00C507.18 325.33 507.80 322.33 508.80 322.00Z" fill="#1f5fae" stroke="#1f5fae" stroke-width="1.8"/>
</g>
<path d="M506.4 228.4h2.6M507.4 241.5h1.6M507.4 238.2h1.6M507.4 235.8h1.6M507.4 234.0h1.6M507.4 232.5h1.6M507.4 231.3h1.6M507.4 230.2h1.6M507.4 229.3h1.6M506.4 247.1h2.6M507.4 260.8h1.6M507.4 257.3h1.6M507.4 254.9h1.6M507.4 253.0h1.6M507.4 251.4h1.6M507.4 250.1h1.6M507.4 249.0h1.6M507.4 248.0h1.6M506.4 266.7h2.6M507.4 280.6h1.6M507.4 277.1h1.6M507.4 274.6h1.6M507.4 272.7h1.6M507.4 271.1h1.6M507.4 269.8h1.6M507.4 268.6h1.6M507.4 267.6h1.6M506.4 286.6h2.6M507.2 293.8h1.8M507.2 299.3h1.8M507.2 304.3h1.8M507.2 308.8h1.8M507.2 312.3h1.8M507.2 315.0h1.8M507.2 318.3h1.8M507.2 321.3h1.8M513.0 325.6v1.8M517.0 325.6v1.8M520.0 325.6v1.8M523.5 325.6v1.8M527.0 325.6v1.8M530.0 325.6v1.8M534.0 325.6v1.8M538.0 325.6v1.8M542.0 325.6v1.8M558.7 325.6v2.4M545.8 325.6v1.6M548.9 325.6v1.6M551.3 325.6v1.6M553.2 325.6v1.6M554.9 325.6v1.6M556.3 325.6v1.6M557.6 325.6v1.6M583.4 325.6v2.4M566.1 325.6v1.6M570.5 325.6v1.6M573.6 325.6v1.6M576.0 325.6v1.6M577.9 325.6v1.6M579.6 325.6v1.6M581.0 325.6v1.6M582.3 325.6v1.6M608.0 325.6v2.4M590.8 325.6v1.6M595.1 325.6v1.6M598.2 325.6v1.6M600.6 325.6v1.6M602.5 325.6v1.6M604.2 325.6v1.6M605.6 325.6v1.6M545.8 325.6v1.6M548.9 325.6v1.6M551.3 325.6v1.6M553.2 325.6v1.6M554.9 325.6v1.6M556.3 325.6v1.6M557.6 325.6v1.6" stroke="#000" stroke-width="1.1" fill="none"/>
<rect x="509.9" y="228.2" width="96.9" height="96.5" fill="none" stroke="#000" stroke-width="1.8"/>
<text x="521.7" y="347.4" font-size="11" text-anchor="middle" fill="#000" >0</text>
<text x="547.7" y="347.4" font-size="11" text-anchor="start" fill="#000" >10</text>
<text x="560.2" y="338.6" font-size="7.8" text-anchor="start" fill="#000" >3</text>
<text x="572.0" y="347.4" font-size="11" text-anchor="start" fill="#000" >10</text>
<text x="584.7" y="338.6" font-size="7.8" text-anchor="start" fill="#000" >4</text>
<text x="599.3" y="347.4" font-size="11" text-anchor="start" fill="#000" >10</text>
<text x="611.3" y="338.6" font-size="7.8" text-anchor="start" fill="#000" >5</text>
<text x="558.9" y="360.9" font-size="12.2" text-anchor="middle" fill="#000" >anti-myc-FITC</text>
<text x="91.7" y="23.6" font-size="12" text-anchor="start" fill="#000" >SplA</text>
<text x="207.0" y="23.6" font-size="12">FDDB<tspan fill="#e8221e">A</tspan>D</text>
<text x="401.7" y="23.6" font-size="12" text-anchor="start" fill="#000" >SplD</text>
<text x="517.0" y="23.6" font-size="12">FDDB<tspan fill="#e8221e">D</tspan>D</text>
<text x="91.7" y="134.1" font-size="12" text-anchor="start" fill="#000" >SplB</text>
<text x="207.0" y="134.1" font-size="12">FDDB<tspan fill="#e8221e">B</tspan>D</text>
<text x="401.7" y="134.1" font-size="12" text-anchor="start" fill="#000" >SplE</text>
<text x="517.0" y="134.1" font-size="12">FDDB<tspan fill="#e8221e">E</tspan>D</text>
<text x="91.7" y="244.6" font-size="12" text-anchor="start" fill="#000" >SplC</text>
<text x="207.0" y="244.6" font-size="12">FDDB<tspan fill="#e8221e">C</tspan>D</text>
<text x="401.7" y="244.6" font-size="12" text-anchor="start" fill="#000" >SplF</text>
<text x="514.7" y="242.9" font-size="12">FDDB<tspan fill="#e8221e">F</tspan>D</text>
<text x="-0.7" y="23.5" font-size="12.8" font-weight="bold">a</text>
<text x="654.2" y="132.2" font-size="12.25">Labelling:</text>
<path d="M654.2 133.9h52.3" stroke="#000" stroke-width=".8"/>
<rect x="654.2" y="143.2" width="8.5" height="10.4" fill="#b81c20"/>
<text x="665.2" y="152.7" font-size="12.5" text-anchor="start" fill="#000" >A2M-VWLY</text>
<path d="M732.1 143.9V154.7M730.3 151.8L732.1 154.9L733.9 151.8" fill="none" stroke="#444" stroke-width="1"/>
<text x="735.0" y="152.7" font-size="12.5" text-anchor="start" fill="#000" >S</text>
<rect x="654.2" y="158.2" width="8.5" height="10.4" fill="#1f5fae"/>
<text x="665.2" y="167.7" font-size="12.5" text-anchor="start" fill="#000" >A2M-WELQ</text>
<path d="M733.5 158.9V169.7M731.7 166.8L733.5 169.9L735.3 166.8" fill="none" stroke="#444" stroke-width="1"/>
<text x="736.4" y="167.7" font-size="12.5" text-anchor="start" fill="#000" >S</text>
<rect x="654.2" y="173.2" width="8.5" height="10.4" fill="#4cab36"/>
<text x="665.2" y="182.7" font-size="12.5" text-anchor="start" fill="#000" >A2M-RWLL</text>
<path d="M731.4 173.9V184.7M729.6 181.8L731.4 184.9L733.2 181.8" fill="none" stroke="#444" stroke-width="1"/>
<text x="734.3" y="182.7" font-size="12.5" text-anchor="start" fill="#000" >T</text>
<path d="M653.3 190.6H751" stroke="#000" stroke-width="1.1"/>
<text x="662.5" y="204.5" font-size="12.25" text-anchor="start" fill="#000" >3h incubation</text>
<text x="63.1" y="405.7" font-size="12.8" font-weight="bold">b</text>
<defs>
<linearGradient id="gel" x1="0" y1="0" x2="0" y2="1">
<stop offset="0" stop-color="#d6d6d7"/><stop offset=".3" stop-color="#cfcfd0"/><stop offset=".55" stop-color="#c7c7c8"/><stop offset=".8" stop-color="#bababb"/><stop offset="1" stop-color="#b2b2b3"/></linearGradient>
<linearGradient id="strip" x1="0" y1="0" x2="0" y2="1">
<stop offset="0" stop-color="#a0a0a0" stop-opacity="0"/><stop offset="1" stop-color="#959596" stop-opacity="1"/></linearGradient>
<linearGradient id="vig" x1="0" y1="0" x2="1" y2="0">
<stop offset="0" stop-color="#000" stop-opacity=".07"/><stop offset=".12" stop-color="#000" stop-opacity="0"/><stop offset=".85" stop-color="#000" stop-opacity="0"/><stop offset="1" stop-color="#000" stop-opacity=".07"/></linearGradient>
<filter id="bl" x="-50%" y="-100%" width="200%" height="300%"><feGaussianBlur stdDeviation="1.1"/></filter>
<filter id="bl2" x="-50%" y="-100%" width="200%" height="300%"><feGaussianBlur stdDeviation="0.7"/></filter>
</defs>
<rect x="164.5" y="441.4" width="150.5" height="187.4" fill="url(#gel)"/>
<rect x="164.5" y="441.4" width="150.5" height="187.4" fill="url(#vig)"/>
<rect x="164.5" y="615.8" width="150.5" height="8.6" fill="url(#strip)"/>
<rect x="164.5" y="624.2" width="150.5" height="1.3" fill="#e6e6e6"/>
<rect x="164.5" y="625.5" width="150.5" height="3.3" fill="#c4c4c4"/>
<ellipse cx="173.0" cy="451.6" rx="6.5" ry="1.2" fill="#2a2a2a" opacity="0.3" filter="url(#bl)"/>
<ellipse cx="173.0" cy="467.0" rx="6.5" ry="1.2" fill="#2a2a2a" opacity="0.4" filter="url(#bl)"/>
<ellipse cx="173.0" cy="480.0" rx="6.5" ry="1.3" fill="#2a2a2a" opacity="0.5" filter="url(#bl)"/>
<ellipse cx="173.0" cy="489.4" rx="6.5" ry="2.0" fill="#2a2a2a" opacity="0.85" filter="url(#bl)"/>
<ellipse cx="173.0" cy="511.0" rx="6.5" ry="1.4" fill="#2a2a2a" opacity="0.5" filter="url(#bl)"/>
<ellipse cx="173.0" cy="540.7" rx="6.5" ry="1.2" fill="#2a2a2a" opacity="0.4" filter="url(#bl)"/>
<ellipse cx="173.0" cy="552.0" rx="6.5" ry="1.2" fill="#2a2a2a" opacity="0.3" filter="url(#bl)"/>
<ellipse cx="173.0" cy="578.6" rx="6.5" ry="1.4" fill="#2a2a2a" opacity="0.5" filter="url(#bl)"/>
<ellipse cx="173.0" cy="603.8" rx="6.5" ry="1.6" fill="#2a2a2a" opacity="0.55" filter="url(#bl)"/>
<rect x="183.6" y="547.2" width="20.3" height="9.5" rx="4.8" fill="#1c1c1c" filter="url(#bl)"/>
<rect x="205.5" y="544.7" width="18.9" height="7.6" rx="3.8" fill="#1c1c1c" filter="url(#bl)"/>
<rect x="225.8" y="548.0" width="19.9" height="8.0" rx="4.0" fill="#1c1c1c" filter="url(#bl)"/>
<rect x="247.4" y="546.0" width="20.2" height="8.4" rx="4.2" fill="#1c1c1c" filter="url(#bl)"/>
<rect x="269.2" y="550.3" width="20.2" height="7.4" rx="3.7" fill="#1c1c1c" filter="url(#bl)"/>
<rect x="291.0" y="544.6" width="21.6" height="9.2" rx="4.6" fill="#1c1c1c" filter="url(#bl)"/>
<rect x="164.5" y="441.4" width="150.5" height="187.4" fill="none" stroke="#000" stroke-width="2.2"/>
<path d="M153.6 447.3h6.3" stroke="#000" stroke-width="1.5"/>
<text x="147.9" y="451.6" font-size="12" text-anchor="end" fill="#000" >250</text>
<path d="M153.6 490.4h6.3" stroke="#000" stroke-width="1.5"/>
<text x="147.9" y="494.7" font-size="12" text-anchor="end" fill="#000" >70</text>
<path d="M153.6 513.9h6.3" stroke="#000" stroke-width="1.5"/>
<text x="147.9" y="518.2" font-size="12" text-anchor="end" fill="#000" >55</text>
<path d="M153.6 551.5h6.3" stroke="#000" stroke-width="1.5"/>
<text x="147.9" y="555.8" font-size="12" text-anchor="end" fill="#000" >25</text>
<path d="M153.6 603.0h6.3" stroke="#000" stroke-width="1.5"/>
<text x="147.9" y="607.3" font-size="12" text-anchor="end" fill="#000" >10</text>
<text x="94.3" y="438.0" font-size="12" text-anchor="start" fill="#000" >MW (kDa)</text>
<text x="192.6" y="434.5" font-size="12" transform="rotate(-45 192.6 434.5)">SplA</text>
<text x="214.5" y="434.5" font-size="12" transform="rotate(-45 214.5 434.5)">SplB</text>
<text x="236.5" y="434.5" font-size="12" transform="rotate(-45 236.5 434.5)">SplC</text>
<text x="258.4" y="434.5" font-size="12" transform="rotate(-45 258.4 434.5)">SplD</text>
<text x="280.4" y="434.5" font-size="12" transform="rotate(-45 280.4 434.5)">SplE</text>
<text x="302.4" y="434.5" font-size="12" transform="rotate(-45 302.4 434.5)">SplF</text>
<rect x="451.2" y="441.9" width="155.2" height="186.7" fill="url(#gel)"/>
<rect x="451.2" y="441.9" width="155.2" height="186.7" fill="url(#vig)"/>
<ellipse cx="460.5" cy="447.3" rx="6.0" ry="1.2" fill="#2a2a2a" opacity="0.3" filter="url(#bl)"/>
<ellipse cx="460.5" cy="463.2" rx="6.0" ry="1.2" fill="#2a2a2a" opacity="0.4" filter="url(#bl)"/>
<ellipse cx="460.5" cy="477.2" rx="6.0" ry="1.3" fill="#2a2a2a" opacity="0.5" filter="url(#bl)"/>
<ellipse cx="460.5" cy="489.2" rx="6.0" ry="2.0" fill="#2a2a2a" opacity="0.85" filter="url(#bl)"/>
<ellipse cx="460.5" cy="513.8" rx="6.0" ry="1.4" fill="#2a2a2a" opacity="0.5" filter="url(#bl)"/>
<ellipse cx="460.5" cy="549.8" rx="6.0" ry="1.2" fill="#2a2a2a" opacity="0.4" filter="url(#bl)"/>
<ellipse cx="460.5" cy="561.4" rx="6.0" ry="1.2" fill="#2a2a2a" opacity="0.3" filter="url(#bl)"/>
<ellipse cx="460.5" cy="591.4" rx="6.0" ry="1.4" fill="#2a2a2a" opacity="0.5" filter="url(#bl)"/>
<ellipse cx="460.5" cy="621.4" rx="6.0" ry="1.6" fill="#2a2a2a" opacity="0.55" filter="url(#bl)"/>
<rect x="471.6" y="555.4" width="21.0" height="8.0" rx="4.0" fill="#1c1c1c" filter="url(#bl)"/>
<rect x="494.8" y="553.0" width="20.4" height="8.0" rx="4.0" fill="#1c1c1c" filter="url(#bl)"/>
<rect x="517.6" y="559.6" width="20.6" height="7.5" rx="3.8" fill="#1c1c1c" filter="url(#bl)"/>
<rect x="539.6" y="556.4" width="20.5" height="8.0" rx="4.0" fill="#1c1c1c" filter="url(#bl)"/>
<rect x="562.6" y="557.6" width="19.8" height="7.5" rx="3.8" fill="#1c1c1c" filter="url(#bl)"/>
<rect x="584.3" y="559.8" width="20.6" height="8.0" rx="4.0" fill="#1c1c1c" filter="url(#bl)"/>
<rect x="451.2" y="441.9" width="155.2" height="186.7" fill="none" stroke="#000" stroke-width="2.2"/>
<path d="M443.2 447.3h6.3" stroke="#000" stroke-width="1.5"/>
<text x="437.5" y="451.6" font-size="12" text-anchor="end" fill="#000" >250</text>
<path d="M443.2 489.9h6.3" stroke="#000" stroke-width="1.5"/>
<text x="437.5" y="494.2" font-size="12" text-anchor="end" fill="#000" >70</text>
<path d="M443.2 513.8h6.3" stroke="#000" stroke-width="1.5"/>
<text x="437.5" y="518.1" font-size="12" text-anchor="end" fill="#000" >55</text>
<path d="M443.2 561.4h6.3" stroke="#000" stroke-width="1.5"/>
<text x="437.5" y="565.7" font-size="12" text-anchor="end" fill="#000" >25</text>
<path d="M443.2 620.4h6.3" stroke="#000" stroke-width="1.5"/>
<text x="437.5" y="624.7" font-size="12" text-anchor="end" fill="#000" >10</text>
<text x="382.6" y="436.6" font-size="12" text-anchor="start" fill="#000" >MW (kDa)</text>
<text x="479.5" y="435.5" font-size="12" transform="rotate(-45 479.5 435.5)">FDDB<tspan fill="#e8221e">A</tspan>D</text>
<text x="502.9" y="435.5" font-size="12" transform="rotate(-45 502.9 435.5)">FDDB<tspan fill="#e8221e">B</tspan>D</text>
<text x="526.3" y="435.5" font-size="12" transform="rotate(-45 526.3 435.5)">FDDB<tspan fill="#e8221e">C</tspan>D</text>
<text x="549.7" y="435.5" font-size="12" transform="rotate(-45 549.7 435.5)">FDDB<tspan fill="#e8221e">D</tspan>D</text>
<text x="573.1" y="435.5" font-size="12" transform="rotate(-45 573.1 435.5)">FDDB<tspan fill="#e8221e">E</tspan>D</text>
<text x="596.5" y="435.5" font-size="12" transform="rotate(-45 596.5 435.5)">FDDB<tspan fill="#e8221e">F</tspan>D</text>
<text x="40.0" y="649.3" font-size="12.8" font-weight="bold">c</text>
<text x="70.3" y="678.3" font-size="12" text-anchor="start" fill="#000" >Substrate:</text>
<text x="161.0" y="678.3" font-size="12" text-anchor="start" fill="#000" >Ac-VWLY-AMC</text>
<path d="M125.6 698.1V831.5H277.9" fill="none" stroke="#000" stroke-width="1.6"/>
<path d="M121.0 831.5h4.6" stroke="#000" stroke-width="1.4"/>
<text x="116.1" y="837.2" font-size="12" text-anchor="end" fill="#000" >0</text>
<path d="M121.0 798.5h4.6" stroke="#000" stroke-width="1.4"/>
<text x="116.1" y="804.2" font-size="12" text-anchor="end" fill="#000" >200</text>
<path d="M121.0 765.5h4.6" stroke="#000" stroke-width="1.4"/>
<text x="116.1" y="771.2" font-size="12" text-anchor="end" fill="#000" >400</text>
<path d="M121.0 732.3h4.6" stroke="#000" stroke-width="1.4"/>
<text x="116.1" y="738.0" font-size="12" text-anchor="end" fill="#000" >600</text>
<path d="M121.0 698.8h4.6" stroke="#000" stroke-width="1.4"/>
<text x="116.1" y="704.5" font-size="12" text-anchor="end" fill="#000" >800</text>
<path d="M131.5 831.5v4.6" stroke="#000" stroke-width="1.3"/>
<path d="M143.2 831.5v4.6" stroke="#000" stroke-width="1.3"/>
<path d="M155.0 831.5v4.6" stroke="#000" stroke-width="1.3"/>
<path d="M166.7 831.5v4.6" stroke="#000" stroke-width="1.3"/>
<path d="M178.5 831.5v4.6" stroke="#000" stroke-width="1.3"/>
<path d="M190.2 831.5v4.6" stroke="#000" stroke-width="1.3"/>
<path d="M201.9 831.5v4.6" stroke="#000" stroke-width="1.3"/>
<path d="M213.7 831.5v4.6" stroke="#000" stroke-width="1.3"/>
<path d="M225.4 831.5v4.6" stroke="#000" stroke-width="1.3"/>
<path d="M237.2 831.5v4.6" stroke="#000" stroke-width="1.3"/>
<path d="M248.9 831.5v4.6" stroke="#000" stroke-width="1.3"/>
<path d="M260.6 831.5v4.6" stroke="#000" stroke-width="1.3"/>
<path d="M272.4 831.5v4.6" stroke="#000" stroke-width="1.3"/>
<text x="131.5" y="850.6" font-size="12" text-anchor="middle" fill="#000" >A</text>
<text x="143.2" y="850.6" font-size="12" text-anchor="middle" fill="#000" >B</text>
<text x="155.0" y="850.6" font-size="12" text-anchor="middle" fill="#000" >C</text>
<text x="166.7" y="850.6" font-size="12" text-anchor="middle" fill="#000" >D</text>
<text x="178.5" y="850.6" font-size="12" text-anchor="middle" fill="#000" >E</text>
<text x="190.2" y="850.6" font-size="12" text-anchor="middle" fill="#000" >F</text>
<text x="201.9" y="850.6" font-size="12" text-anchor="middle" fill="#000" >A</text>
<text x="213.7" y="850.6" font-size="12" text-anchor="middle" fill="#000" >B</text>
<text x="225.4" y="850.6" font-size="12" text-anchor="middle" fill="#000" >C</text>
<text x="237.2" y="850.6" font-size="12" text-anchor="middle" fill="#000" >D</text>
<text x="248.9" y="850.6" font-size="12" text-anchor="middle" fill="#000" >E</text>
<text x="260.6" y="850.6" font-size="12" text-anchor="middle" fill="#000" >F</text>
<text x="267.8" y="850.6" font-size="12" text-anchor="start" fill="#000" >ctrl</text>
<path d="M127.9 856.3H191.5M199.6 856.3H262.4" stroke="#000" stroke-width="1.3"/>
<text x="158.2" y="871.0" font-size="12" text-anchor="middle" fill="#000" >Spl</text>
<text x="158.2" y="885.3" font-size="12" text-anchor="middle" fill="#000" >parents</text>
<text x="229.1" y="871.0" font-size="12" text-anchor="middle">FDDB<tspan fill="#e8221e">X</tspan>D</text>
<text x="229.1" y="885.3" font-size="12" text-anchor="middle" fill="#000" >chimeras</text>
<path d="M131.5 721.3V766.4M128.7 721.3h5.6M128.7 766.4h5.6M127.6 744.0h7.8" stroke="#000" stroke-width="1.3" fill="none"/>
<path d="M201.9 809.5V824.5M199.1 809.5h5.6M199.1 824.5h5.6M198.0 816.6h7.8" stroke="#000" stroke-width="1.3" fill="none"/>
<path d="M260.6 801.0V829.5M257.8 801.0h5.6M257.8 829.5h5.6M256.7 815.4h7.8" stroke="#000" stroke-width="1.3" fill="none"/>
<circle cx="131.5" cy="701.2" r="3.3" fill="none" stroke="#000" stroke-width="1.4"/>
<circle cx="131.5" cy="754.0" r="3.3" fill="none" stroke="#000" stroke-width="1.4"/>
<circle cx="131.5" cy="776.7" r="3.3" fill="none" stroke="#000" stroke-width="1.4"/>
<circle cx="143.2" cy="831.2" r="3.3" fill="none" stroke="#000" stroke-width="1.4"/>
<circle cx="143.2" cy="830.3" r="3.3" fill="none" stroke="#000" stroke-width="1.4"/>
<circle cx="155.0" cy="831.2" r="3.3" fill="none" stroke="#000" stroke-width="1.4"/>
<circle cx="155.0" cy="830.3" r="3.3" fill="none" stroke="#000" stroke-width="1.4"/>
<circle cx="166.7" cy="831.2" r="3.3" fill="none" stroke="#000" stroke-width="1.4"/>
<circle cx="166.7" cy="830.3" r="3.3" fill="none" stroke="#000" stroke-width="1.4"/>
<circle cx="178.5" cy="828.4" r="3.3" fill="none" stroke="#000" stroke-width="1.4"/>
<circle cx="178.5" cy="829.4" r="3.3" fill="none" stroke="#000" stroke-width="1.4"/>
<circle cx="178.5" cy="830.4" r="3.3" fill="none" stroke="#000" stroke-width="1.4"/>
<circle cx="178.5" cy="831.2" r="3.3" fill="none" stroke="#000" stroke-width="1.4"/>
<circle cx="190.2" cy="826.4" r="3.3" fill="none" stroke="#000" stroke-width="1.4"/>
<circle cx="190.2" cy="829.8" r="3.3" fill="none" stroke="#000" stroke-width="1.4"/>
<circle cx="190.2" cy="831.2" r="3.3" fill="none" stroke="#000" stroke-width="1.4"/>
<circle cx="201.9" cy="804.0" r="3.3" fill="none" stroke="#000" stroke-width="1.4"/>
<circle cx="201.9" cy="820.5" r="3.3" fill="none" stroke="#000" stroke-width="1.4"/>
<circle cx="201.9" cy="822.7" r="3.3" fill="none" stroke="#000" stroke-width="1.4"/>
<circle cx="213.7" cy="831.2" r="3.3" fill="none" stroke="#000" stroke-width="1.4"/>
<circle cx="213.7" cy="830.3" r="3.3" fill="none" stroke="#000" stroke-width="1.4"/>
<circle cx="225.4" cy="831.2" r="3.3" fill="none" stroke="#000" stroke-width="1.4"/>
<circle cx="225.4" cy="830.3" r="3.3" fill="none" stroke="#000" stroke-width="1.4"/>
<circle cx="237.2" cy="831.2" r="3.3" fill="none" stroke="#000" stroke-width="1.4"/>
<circle cx="237.2" cy="830.3" r="3.3" fill="none" stroke="#000" stroke-width="1.4"/>
<circle cx="248.9" cy="831.2" r="3.3" fill="none" stroke="#000" stroke-width="1.4"/>
<circle cx="248.9" cy="830.3" r="3.3" fill="none" stroke="#000" stroke-width="1.4"/>
<circle cx="260.6" cy="786.6" r="3.3" fill="none" stroke="#000" stroke-width="1.4"/>
<circle cx="260.6" cy="829.3" r="3.3" fill="none" stroke="#000" stroke-width="1.4"/>
<circle cx="260.6" cy="830.5" r="3.3" fill="none" stroke="#000" stroke-width="1.4"/>
<circle cx="272.4" cy="831.2" r="3.3" fill="none" stroke="#000" stroke-width="1.4"/>
<circle cx="272.4" cy="830.3" r="3.3" fill="none" stroke="#000" stroke-width="1.4"/>
<text x="355.9" y="678.3" font-size="12" text-anchor="start" fill="#000" >Ac-WELQ-AMC</text>
<path d="M321.7 697.6V830.5H474.0" fill="none" stroke="#000" stroke-width="1.6"/>
<path d="M317.1 830.5h4.6" stroke="#000" stroke-width="1.4"/>
<text x="312.2" y="836.2" font-size="12" text-anchor="end" fill="#000" >0</text>
<path d="M317.1 797.5h4.6" stroke="#000" stroke-width="1.4"/>
<text x="312.2" y="803.2" font-size="12" text-anchor="end" fill="#000" >1000</text>
<path d="M317.1 764.2h4.6" stroke="#000" stroke-width="1.4"/>
<text x="312.2" y="769.9" font-size="12" text-anchor="end" fill="#000" >2000</text>
<path d="M317.1 731.0h4.6" stroke="#000" stroke-width="1.4"/>
<text x="312.2" y="736.7" font-size="12" text-anchor="end" fill="#000" >3000</text>
<path d="M317.1 698.3h4.6" stroke="#000" stroke-width="1.4"/>
<text x="312.2" y="704.0" font-size="12" text-anchor="end" fill="#000" >4000</text>
<path d="M327.6 830.5v4.6" stroke="#000" stroke-width="1.3"/>
<path d="M339.3 830.5v4.6" stroke="#000" stroke-width="1.3"/>
<path d="M351.1 830.5v4.6" stroke="#000" stroke-width="1.3"/>
<path d="M362.8 830.5v4.6" stroke="#000" stroke-width="1.3"/>
<path d="M374.6 830.5v4.6" stroke="#000" stroke-width="1.3"/>
<path d="M386.3 830.5v4.6" stroke="#000" stroke-width="1.3"/>
<path d="M398.0 830.5v4.6" stroke="#000" stroke-width="1.3"/>
<path d="M409.8 830.5v4.6" stroke="#000" stroke-width="1.3"/>
<path d="M421.5 830.5v4.6" stroke="#000" stroke-width="1.3"/>
<path d="M433.3 830.5v4.6" stroke="#000" stroke-width="1.3"/>
<path d="M445.0 830.5v4.6" stroke="#000" stroke-width="1.3"/>
<path d="M456.7 830.5v4.6" stroke="#000" stroke-width="1.3"/>
<path d="M468.5 830.5v4.6" stroke="#000" stroke-width="1.3"/>
<text x="327.6" y="850.6" font-size="12" text-anchor="middle" fill="#000" >A</text>
<text x="339.3" y="850.6" font-size="12" text-anchor="middle" fill="#000" >B</text>
<text x="351.1" y="850.6" font-size="12" text-anchor="middle" fill="#000" >C</text>
<text x="362.8" y="850.6" font-size="12" text-anchor="middle" fill="#000" >D</text>
<text x="374.6" y="850.6" font-size="12" text-anchor="middle" fill="#000" >E</text>
<text x="386.3" y="850.6" font-size="12" text-anchor="middle" fill="#000" >F</text>
<text x="398.0" y="850.6" font-size="12" text-anchor="middle" fill="#000" >A</text>
<text x="409.8" y="850.6" font-size="12" text-anchor="middle" fill="#000" >B</text>
<text x="421.5" y="850.6" font-size="12" text-anchor="middle" fill="#000" >C</text>
<text x="433.3" y="850.6" font-size="12" text-anchor="middle" fill="#000" >D</text>
<text x="445.0" y="850.6" font-size="12" text-anchor="middle" fill="#000" >E</text>
<text x="456.7" y="850.6" font-size="12" text-anchor="middle" fill="#000" >F</text>
<text x="463.9" y="850.6" font-size="12" text-anchor="start" fill="#000" >ctrl</text>
<path d="M324.0 856.3H387.6M395.7 856.3H458.5" stroke="#000" stroke-width="1.3"/>
<text x="354.3" y="871.0" font-size="12" text-anchor="middle" fill="#000" >Spl</text>
<text x="354.3" y="885.3" font-size="12" text-anchor="middle" fill="#000" >parents</text>
<text x="425.2" y="871.0" font-size="12" text-anchor="middle">FDDB<tspan fill="#e8221e">X</tspan>D</text>
<text x="425.2" y="885.3" font-size="12" text-anchor="middle" fill="#000" >chimeras</text>
<path d="M339.3 723.4V756.0M336.5 723.4h5.6M336.5 756.0h5.6M335.4 741.1h7.8" stroke="#000" stroke-width="1.3" fill="none"/>
<path d="M409.8 819.5V828.0M407.0 819.5h5.6M407.0 828.0h5.6M405.9 823.5h7.8" stroke="#000" stroke-width="1.3" fill="none"/>
<circle cx="327.6" cy="831.2" r="3.3" fill="none" stroke="#000" stroke-width="1.4"/>
<circle cx="327.6" cy="830.3" r="3.3" fill="none" stroke="#000" stroke-width="1.4"/>
<circle cx="339.3" cy="706.4" r="3.3" fill="none" stroke="#000" stroke-width="1.4"/>
<circle cx="339.3" cy="757.1" r="3.3" fill="none" stroke="#000" stroke-width="1.4"/>
<circle cx="339.3" cy="759.9" r="3.3" fill="none" stroke="#000" stroke-width="1.4"/>
<circle cx="351.1" cy="831.2" r="3.3" fill="none" stroke="#000" stroke-width="1.4"/>
<circle cx="351.1" cy="830.3" r="3.3" fill="none" stroke="#000" stroke-width="1.4"/>
<circle cx="362.8" cy="831.2" r="3.3" fill="none" stroke="#000" stroke-width="1.4"/>
<circle cx="362.8" cy="830.3" r="3.3" fill="none" stroke="#000" stroke-width="1.4"/>
<circle cx="374.6" cy="831.2" r="3.3" fill="none" stroke="#000" stroke-width="1.4"/>
<circle cx="374.6" cy="830.3" r="3.3" fill="none" stroke="#000" stroke-width="1.4"/>
<circle cx="386.3" cy="831.2" r="3.3" fill="none" stroke="#000" stroke-width="1.4"/>
<circle cx="386.3" cy="830.3" r="3.3" fill="none" stroke="#000" stroke-width="1.4"/>
<circle cx="398.0" cy="831.2" r="3.3" fill="none" stroke="#000" stroke-width="1.4"/>
<circle cx="398.0" cy="830.3" r="3.3" fill="none" stroke="#000" stroke-width="1.4"/>
<circle cx="409.8" cy="817.8" r="3.3" fill="none" stroke="#000" stroke-width="1.4"/>
<circle cx="409.8" cy="822.0" r="3.3" fill="none" stroke="#000" stroke-width="1.4"/>
<circle cx="409.8" cy="824.9" r="3.3" fill="none" stroke="#000" stroke-width="1.4"/>
<circle cx="409.8" cy="828.0" r="3.3" fill="none" stroke="#000" stroke-width="1.4"/>
<circle cx="421.5" cy="831.2" r="3.3" fill="none" stroke="#000" stroke-width="1.4"/>
<circle cx="421.5" cy="830.3" r="3.3" fill="none" stroke="#000" stroke-width="1.4"/>
<circle cx="433.3" cy="831.2" r="3.3" fill="none" stroke="#000" stroke-width="1.4"/>
<circle cx="433.3" cy="830.3" r="3.3" fill="none" stroke="#000" stroke-width="1.4"/>
<circle cx="445.0" cy="831.2" r="3.3" fill="none" stroke="#000" stroke-width="1.4"/>
<circle cx="445.0" cy="830.3" r="3.3" fill="none" stroke="#000" stroke-width="1.4"/>
<circle cx="456.7" cy="831.2" r="3.3" fill="none" stroke="#000" stroke-width="1.4"/>
<circle cx="456.7" cy="830.3" r="3.3" fill="none" stroke="#000" stroke-width="1.4"/>
<circle cx="468.5" cy="831.2" r="3.3" fill="none" stroke="#000" stroke-width="1.4"/>
<circle cx="468.5" cy="830.3" r="3.3" fill="none" stroke="#000" stroke-width="1.4"/>
<text x="552.8" y="678.3" font-size="12" text-anchor="start" fill="#000" >Ac-RWLL-AMC</text>
<path d="M517.6 698.6V831.0H669.9" fill="none" stroke="#000" stroke-width="1.6"/>
<path d="M513.0 831.0h4.6" stroke="#000" stroke-width="1.4"/>
<text x="508.1" y="836.7" font-size="12" text-anchor="end" fill="#000" >0</text>
<path d="M513.0 787.0h4.6" stroke="#000" stroke-width="1.4"/>
<text x="508.1" y="792.7" font-size="12" text-anchor="end" fill="#000" >200</text>
<path d="M513.0 743.1h4.6" stroke="#000" stroke-width="1.4"/>
<text x="508.1" y="748.8" font-size="12" text-anchor="end" fill="#000" >400</text>
<path d="M513.0 699.3h4.6" stroke="#000" stroke-width="1.4"/>
<text x="508.1" y="705.0" font-size="12" text-anchor="end" fill="#000" >600</text>
<path d="M523.5 831.0v4.6" stroke="#000" stroke-width="1.3"/>
<path d="M535.2 831.0v4.6" stroke="#000" stroke-width="1.3"/>
<path d="M547.0 831.0v4.6" stroke="#000" stroke-width="1.3"/>
<path d="M558.7 831.0v4.6" stroke="#000" stroke-width="1.3"/>
<path d="M570.5 831.0v4.6" stroke="#000" stroke-width="1.3"/>
<path d="M582.2 831.0v4.6" stroke="#000" stroke-width="1.3"/>
<path d="M593.9 831.0v4.6" stroke="#000" stroke-width="1.3"/>
<path d="M605.7 831.0v4.6" stroke="#000" stroke-width="1.3"/>
<path d="M617.4 831.0v4.6" stroke="#000" stroke-width="1.3"/>
<path d="M629.2 831.0v4.6" stroke="#000" stroke-width="1.3"/>
<path d="M640.9 831.0v4.6" stroke="#000" stroke-width="1.3"/>
<path d="M652.6 831.0v4.6" stroke="#000" stroke-width="1.3"/>
<path d="M664.4 831.0v4.6" stroke="#000" stroke-width="1.3"/>
<text x="523.5" y="850.6" font-size="12" text-anchor="middle" fill="#000" >A</text>
<text x="535.2" y="850.6" font-size="12" text-anchor="middle" fill="#000" >B</text>
<text x="547.0" y="850.6" font-size="12" text-anchor="middle" fill="#000" >C</text>
<text x="558.7" y="850.6" font-size="12" text-anchor="middle" fill="#000" >D</text>
<text x="570.5" y="850.6" font-size="12" text-anchor="middle" fill="#000" >E</text>
<text x="582.2" y="850.6" font-size="12" text-anchor="middle" fill="#000" >F</text>
<text x="593.9" y="850.6" font-size="12" text-anchor="middle" fill="#000" >A</text>
<text x="605.7" y="850.6" font-size="12" text-anchor="middle" fill="#000" >B</text>
<text x="617.4" y="850.6" font-size="12" text-anchor="middle" fill="#000" >C</text>
<text x="629.2" y="850.6" font-size="12" text-anchor="middle" fill="#000" >D</text>
<text x="640.9" y="850.6" font-size="12" text-anchor="middle" fill="#000" >E</text>
<text x="652.6" y="850.6" font-size="12" text-anchor="middle" fill="#000" >F</text>
<text x="659.8" y="850.6" font-size="12" text-anchor="start" fill="#000" >ctrl</text>
<path d="M519.9 856.3H583.5M591.6 856.3H654.4" stroke="#000" stroke-width="1.3"/>
<text x="550.2" y="871.0" font-size="12" text-anchor="middle" fill="#000" >Spl</text>
<text x="550.2" y="885.3" font-size="12" text-anchor="middle" fill="#000" >parents</text>
<text x="621.1" y="871.0" font-size="12" text-anchor="middle">FDDB<tspan fill="#e8221e">X</tspan>D</text>
<text x="621.1" y="885.3" font-size="12" text-anchor="middle" fill="#000" >chimeras</text>
<path d="M558.7 815.7V826.0M555.9 815.7h5.6M555.9 826.0h5.6M554.8 817.8h7.8" stroke="#000" stroke-width="1.3" fill="none"/>
<path d="M582.2 741.1V805.7M579.4 741.1h5.6M579.4 805.7h5.6M578.3 773.5h7.8" stroke="#000" stroke-width="1.3" fill="none"/>
<path d="M652.6 720.9V796.5M649.8 720.9h5.6M649.8 796.5h5.6M648.7 758.6h7.8" stroke="#000" stroke-width="1.3" fill="none"/>
<circle cx="523.5" cy="831.0" r="3.3" fill="none" stroke="#000" stroke-width="1.4"/>
<circle cx="523.5" cy="827.4" r="3.3" fill="none" stroke="#000" stroke-width="1.4"/>
<circle cx="535.2" cy="831.0" r="3.3" fill="none" stroke="#000" stroke-width="1.4"/>
<circle cx="535.2" cy="827.4" r="3.3" fill="none" stroke="#000" stroke-width="1.4"/>
<circle cx="547.0" cy="825.3" r="3.3" fill="none" stroke="#000" stroke-width="1.4"/>
<circle cx="547.0" cy="828.0" r="3.3" fill="none" stroke="#000" stroke-width="1.4"/>
<circle cx="547.0" cy="831.0" r="3.3" fill="none" stroke="#000" stroke-width="1.4"/>
<circle cx="558.7" cy="810.8" r="3.3" fill="none" stroke="#000" stroke-width="1.4"/>
<circle cx="558.7" cy="822.5" r="3.3" fill="none" stroke="#000" stroke-width="1.4"/>
<circle cx="558.7" cy="831.0" r="3.3" fill="none" stroke="#000" stroke-width="1.4"/>
<circle cx="570.5" cy="831.0" r="3.3" fill="none" stroke="#000" stroke-width="1.4"/>
<circle cx="570.5" cy="827.4" r="3.3" fill="none" stroke="#000" stroke-width="1.4"/>
<circle cx="582.2" cy="699.6" r="3.3" fill="none" stroke="#000" stroke-width="1.4"/>
<circle cx="582.2" cy="740.1" r="3.3" fill="none" stroke="#000" stroke-width="1.4"/>
<circle cx="582.2" cy="824.2" r="3.3" fill="none" stroke="#000" stroke-width="1.4"/>
<circle cx="582.2" cy="829.5" r="3.3" fill="none" stroke="#000" stroke-width="1.4"/>
<circle cx="593.9" cy="824.6" r="3.3" fill="none" stroke="#000" stroke-width="1.4"/>
<circle cx="593.9" cy="831.0" r="3.3" fill="none" stroke="#000" stroke-width="1.4"/>
<circle cx="605.7" cy="831.0" r="3.3" fill="none" stroke="#000" stroke-width="1.4"/>
<circle cx="605.7" cy="827.4" r="3.3" fill="none" stroke="#000" stroke-width="1.4"/>
<circle cx="617.4" cy="825.7" r="3.3" fill="none" stroke="#000" stroke-width="1.4"/>
<circle cx="617.4" cy="831.0" r="3.3" fill="none" stroke="#000" stroke-width="1.4"/>
<circle cx="629.2" cy="831.0" r="3.3" fill="none" stroke="#000" stroke-width="1.4"/>
<circle cx="629.2" cy="827.4" r="3.3" fill="none" stroke="#000" stroke-width="1.4"/>
<circle cx="640.9" cy="831.0" r="3.3" fill="none" stroke="#000" stroke-width="1.4"/>
<circle cx="640.9" cy="827.4" r="3.3" fill="none" stroke="#000" stroke-width="1.4"/>
<circle cx="652.6" cy="766.3" r="3.3" fill="none" stroke="#000" stroke-width="1.4"/>
<circle cx="652.6" cy="783.7" r="3.3" fill="none" stroke="#000" stroke-width="1.4"/>
<circle cx="652.6" cy="831.0" r="3.3" fill="none" stroke="#000" stroke-width="1.4"/>
<circle cx="664.4" cy="827.0" r="3.3" fill="none" stroke="#000" stroke-width="1.4"/>
<circle cx="664.4" cy="831.0" r="3.3" fill="none" stroke="#000" stroke-width="1.4"/>
<g transform="translate(82.5 803.5) rotate(-90)">
<text x="0.2" y="0" font-size="11.5" font-style="italic">k</text>
<text x="5.6" y="4.3" font-size="7">cat</text>
<text x="14.8" y="0" font-size="11.5">/</text>
<text x="17.85" y="0" font-size="11.5" font-style="italic">K</text>
<text x="24.7" y="4.3" font-size="7">m</text>
<text x="37.8" y="0" font-size="11.5">(M</text>
<text x="51.5" y="-5.0" font-size="7">-1</text>
<text x="60.4" y="0" font-size="11.5">s</text>
<text x="66.3" y="-5.0" font-size="7">-1</text>
<text x="72.2" y="0" font-size="11.5">)</text>
</g>
</svg></body></html>
